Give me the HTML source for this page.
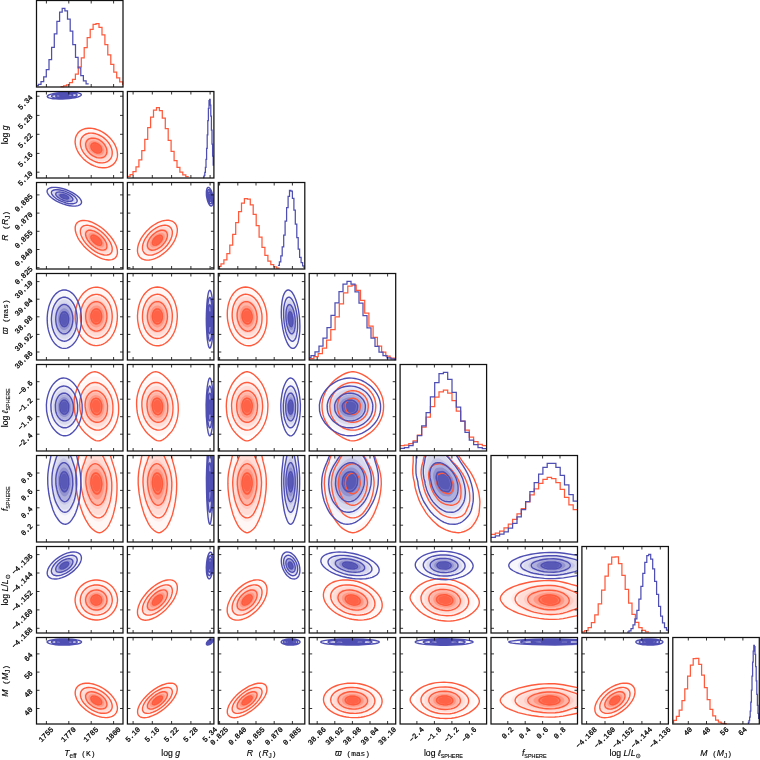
<!DOCTYPE html>
<html><head><meta charset="utf-8"><title>Corner plot</title>
<style>html,body{margin:0;padding:0;background:#fff;}body{width:760px;height:760px;overflow:hidden;}svg{display:block;}</style>
</head><body>
<svg width="760" height="760" viewBox="0 0 760 760">
<defs><clipPath id="c10"><rect x="36.5" y="91.5" width="86.5" height="86.5"/></clipPath><clipPath id="c20"><rect x="36.5" y="182.5" width="86.5" height="86.5"/></clipPath><clipPath id="c21"><rect x="127.4" y="182.5" width="86.5" height="86.5"/></clipPath><clipPath id="c30"><rect x="36.5" y="273.5" width="86.5" height="86.5"/></clipPath><clipPath id="c31"><rect x="127.4" y="273.5" width="86.5" height="86.5"/></clipPath><clipPath id="c32"><rect x="218.3" y="273.5" width="86.5" height="86.5"/></clipPath><clipPath id="c40"><rect x="36.5" y="364.5" width="86.5" height="86.5"/></clipPath><clipPath id="c41"><rect x="127.4" y="364.5" width="86.5" height="86.5"/></clipPath><clipPath id="c42"><rect x="218.3" y="364.5" width="86.5" height="86.5"/></clipPath><clipPath id="c43"><rect x="309.2" y="364.5" width="86.5" height="86.5"/></clipPath><clipPath id="c50"><rect x="36.5" y="455.5" width="86.5" height="86.5"/></clipPath><clipPath id="c51"><rect x="127.4" y="455.5" width="86.5" height="86.5"/></clipPath><clipPath id="c52"><rect x="218.3" y="455.5" width="86.5" height="86.5"/></clipPath><clipPath id="c53"><rect x="309.2" y="455.5" width="86.5" height="86.5"/></clipPath><clipPath id="c54"><rect x="400.1" y="455.5" width="86.5" height="86.5"/></clipPath><clipPath id="c60"><rect x="36.5" y="546.5" width="86.5" height="86.5"/></clipPath><clipPath id="c61"><rect x="127.4" y="546.5" width="86.5" height="86.5"/></clipPath><clipPath id="c62"><rect x="218.3" y="546.5" width="86.5" height="86.5"/></clipPath><clipPath id="c63"><rect x="309.2" y="546.5" width="86.5" height="86.5"/></clipPath><clipPath id="c64"><rect x="400.1" y="546.5" width="86.5" height="86.5"/></clipPath><clipPath id="c65"><rect x="491.0" y="546.5" width="86.5" height="86.5"/></clipPath><clipPath id="c70"><rect x="36.5" y="637.5" width="86.5" height="86.5"/></clipPath><clipPath id="c71"><rect x="127.4" y="637.5" width="86.5" height="86.5"/></clipPath><clipPath id="c72"><rect x="218.3" y="637.5" width="86.5" height="86.5"/></clipPath><clipPath id="c73"><rect x="309.2" y="637.5" width="86.5" height="86.5"/></clipPath><clipPath id="c74"><rect x="400.1" y="637.5" width="86.5" height="86.5"/></clipPath><clipPath id="c75"><rect x="491.0" y="637.5" width="86.5" height="86.5"/></clipPath><clipPath id="c76"><rect x="581.9" y="637.5" width="86.5" height="86.5"/></clipPath></defs>
<rect width="760" height="760" fill="#fff"/>
<g clip-path="url(#c10)"><g stroke="none"><path d="M101.7 166.8L103.4 166.8L105.4 166.7L107.4 166.3L109.0 165.7L110.6 164.9L111.8 164.1L113.0 163.1L114.0 162.0L114.8 160.8L115.5 159.2L116.1 157.6L116.3 156.0L116.4 154.4L116.4 152.8L116.1 150.8L115.7 149.2L115.2 147.6L114.3 145.6L113.4 144.0L112.5 142.4L111.3 140.8L109.8 139.0L108.2 137.3L106.6 135.9L105.0 134.6L103.0 133.3L101.0 132.2L99.4 131.4L97.4 130.6L95.4 130.0L93.4 129.5L91.4 129.2L89.4 129.2L87.8 129.3L85.8 129.6L84.2 130.1L82.6 130.7L81.4 131.5L80.2 132.4L79.0 133.5L78.1 134.8L77.4 136.0L76.8 137.6L76.4 139.2L76.2 140.8L76.2 142.8L76.4 144.4L76.8 146.4L77.4 148.4L78.3 150.4L79.1 152.0L80.4 154.0L81.6 155.6L83.0 157.2L84.5 158.8L86.2 160.2L87.8 161.5L89.4 162.5L91.4 163.7L93.4 164.7L95.4 165.5L97.4 166.1L99.4 166.5L101.4 166.8Z" fill="#fff7f5"/><path d="M99.6 163.6L101.4 163.7L103.0 163.7L104.6 163.5L105.8 163.2L107.4 162.6L108.5 162.0L109.6 161.2L110.5 160.4L111.2 159.6L111.9 158.4L112.5 157.2L112.9 155.6L113.1 154.4L113.1 152.8L113.0 151.6L112.8 150.0L112.3 148.4L111.7 146.8L110.2 144.0L109.1 142.4L108.2 141.1L107.0 139.8L105.5 138.4L104.2 137.3L102.6 136.2L101.0 135.2L99.4 134.3L97.8 133.7L96.2 133.1L94.6 132.7L93.0 132.4L91.4 132.3L89.8 132.3L88.2 132.5L87.0 132.8L85.4 133.3L84.2 133.9L83.0 134.8L82.2 135.6L81.4 136.6L80.7 137.6L80.2 138.8L79.8 140.0L79.6 141.2L79.5 142.8L79.5 144.0L79.7 145.6L80.1 147.2L80.7 148.8L82.1 151.6L83.1 153.2L84.0 154.4L85.4 155.9L86.6 157.2L89.4 159.4L91.0 160.4L92.6 161.3L94.2 162.1L95.8 162.7L97.8 163.3L99.4 163.6Z" fill="#ffebe8"/><path d="M98.8 161.2L100.2 161.3L101.8 161.3L103.0 161.2L104.2 160.9L106.2 160.2L107.1 159.6L108.1 158.8L108.8 158.0L109.4 157.1L109.9 156.0L110.3 154.8L110.5 153.6L110.6 152.4L110.3 150.0L110.0 148.8L109.5 147.2L108.2 144.8L106.5 142.4L105.5 141.2L104.2 140.0L101.8 138.0L99.4 136.6L96.6 135.5L93.8 134.8L92.2 134.7L91.0 134.7L89.8 134.8L88.6 135.0L87.4 135.4L86.2 136.0L85.4 136.5L84.6 137.2L83.8 138.1L83.1 139.2L82.7 140.0L82.3 141.2L82.1 142.4L82.0 143.6L82.2 146.0L82.7 147.6L83.1 148.8L84.3 151.2L86.0 153.6L88.2 155.9L90.6 157.8L93.0 159.2L95.8 160.4L98.6 161.1Z" fill="#ffdcd6"/><path d="M98.8 159.2L100.2 159.3L101.4 159.2L103.4 158.8L105.1 158.0L105.8 157.5L106.5 156.8L107.2 156.0L107.6 155.2L108.2 153.6L108.4 151.6L108.1 149.6L107.8 148.4L107.4 147.2L106.3 145.2L104.9 143.2L102.9 141.2L100.9 139.6L98.6 138.3L96.2 137.3L93.8 136.8L92.6 136.7L91.4 136.8L89.4 137.2L87.6 138.0L87.0 138.4L86.2 139.1L85.5 140.0L85.0 140.8L84.5 142.4L84.2 144.4L84.5 146.4L84.8 147.6L85.2 148.8L86.2 150.8L87.7 152.8L89.6 154.8L91.6 156.4L93.8 157.6L96.2 158.6L98.6 159.1Z" fill="#ffcac1"/><path d="M98.1 157.2L100.2 157.3L101.8 157.0L103.3 156.4L104.4 155.6L105.4 154.4L105.8 153.6L106.0 152.8L106.2 151.2L106.1 149.6L105.5 147.6L104.7 146.0L103.6 144.4L102.2 142.7L100.6 141.4L98.6 140.2L96.6 139.3L94.6 138.8L92.6 138.7L91.0 139.0L89.4 139.6L88.2 140.5L87.3 141.6L86.9 142.4L86.6 143.2L86.4 144.8L86.5 146.4L87.0 148.1L87.8 150.0L88.9 151.6L90.3 153.2L92.2 154.7L93.8 155.7L95.8 156.6L97.8 157.1Z" fill="#ffb5a7"/><path d="M97.0 155.2L98.6 155.4L99.8 155.4L101.0 155.1L101.8 154.7L102.4 154.4L103.2 153.6L103.9 152.4L104.2 151.2L104.2 150.0L104.0 148.8L103.4 147.2L102.6 145.7L101.5 144.4L100.3 143.2L99.0 142.2L97.4 141.4L95.8 140.9L94.2 140.6L93.0 140.6L91.4 141.0L90.3 141.6L89.4 142.5L88.7 143.6L88.4 144.8L88.4 146.0L88.6 147.2L89.1 148.8L90.0 150.4L91.0 151.6L92.3 152.8L93.8 153.8L95.0 154.5L96.6 155.1Z" fill="#ff9986"/><path d="M97.1 153.6L98.2 153.7L99.4 153.6L100.2 153.4L101.1 152.8L101.8 152.1L102.2 151.2L102.4 150.4L102.3 149.2L102.0 148.0L101.5 146.8L100.6 145.6L99.9 144.8L98.9 144.0L97.8 143.2L96.6 142.7L95.4 142.4L94.2 142.3L93.0 142.5L92.2 142.8L91.4 143.3L90.8 144.0L90.4 144.8L90.2 145.6L90.2 146.8L90.5 148.0L91.0 149.0L91.6 150.0L92.6 151.1L93.6 152.0L94.6 152.6L95.8 153.2L97.0 153.6Z" fill="#ff7b63"/><path d="M96.7 152.0L97.8 152.1L98.6 152.0L99.4 151.7L99.8 151.4L100.2 151.0L100.5 150.4L100.7 149.6L100.6 148.8L100.4 148.0L100.0 147.2L99.5 146.4L99.0 145.8L98.2 145.1L97.4 144.6L96.6 144.2L95.8 144.0L95.0 143.9L94.2 144.0L93.4 144.2L93.0 144.5L92.6 144.9L92.1 145.6L91.9 146.4L92.0 147.2L92.2 148.0L92.5 148.8L93.4 150.0L94.2 150.7L94.8 151.2L95.8 151.7L96.6 151.9Z" fill="#ff6246"/></g>
<g stroke="none"><path d="M53.6 99.1L56.9 99.3L60.5 99.4L64.1 99.3L68.1 99.0L71.7 98.6L74.5 98.1L76.9 97.6L79.3 96.9L81.0 96.3L82.3 95.5L82.6 95.1L82.8 94.7L82.7 94.3L82.3 93.9L81.4 93.3L79.8 92.8L77.7 92.4L74.9 92.1L71.3 91.9L68.5 91.8L64.5 91.9L61.3 92.1L58.1 92.5L54.9 92.9L51.3 93.7L49.3 94.2L47.7 94.8L46.5 95.5L46.1 95.9L45.9 96.3L45.9 96.7L46.1 97.1L46.9 97.7L48.6 98.3L50.9 98.8L53.3 99.1Z" fill="#ffffff"/><path d="M55.3 98.7L57.7 98.9L60.9 98.9L63.7 98.8L67.3 98.6L70.9 98.2L73.3 97.8L75.7 97.3L77.3 96.8L78.8 96.3L79.5 95.9L80.1 95.5L80.4 95.1L80.5 94.7L80.3 94.3L79.8 93.9L79.3 93.7L78.1 93.2L76.1 92.8L73.7 92.5L71.3 92.4L68.1 92.3L64.9 92.4L61.7 92.6L58.5 92.9L55.7 93.3L53.3 93.8L50.9 94.5L49.4 95.1L48.7 95.5L48.3 95.9L48.1 96.3L48.2 96.7L48.5 97.1L49.3 97.6L50.9 98.1L52.9 98.5L54.9 98.7Z" fill="#f6f6fb"/><path d="M58.6 98.3L61.3 98.4L64.1 98.3L69.3 97.8L73.7 97.0L75.3 96.6L76.5 96.1L77.5 95.5L77.8 95.1L77.8 94.7L77.5 94.3L76.9 94.0L75.7 93.6L74.1 93.3L70.1 92.9L64.9 92.9L59.7 93.3L55.3 94.1L53.3 94.6L52.0 95.1L51.3 95.5L50.9 95.9L50.8 96.3L50.9 96.7L51.5 97.1L52.5 97.5L54.1 97.9L56.1 98.1L58.5 98.3Z" fill="#eaeaf6"/><path d="M59.6 97.9L64.5 97.9L68.9 97.4L72.5 96.8L74.0 96.3L75.0 95.9L75.5 95.5L75.8 95.1L75.7 94.7L75.2 94.3L74.0 93.9L72.9 93.7L69.3 93.3L64.9 93.3L60.5 93.6L56.9 94.2L55.1 94.7L54.0 95.1L53.3 95.5L52.9 95.9L52.8 96.3L53.3 96.8L53.9 97.1L55.5 97.5L57.3 97.8L59.3 97.9Z" fill="#dadaef"/><path d="M59.5 97.5L62.9 97.6L66.9 97.3L70.1 96.8L72.5 96.2L73.2 95.9L73.8 95.5L74.0 95.1L73.8 94.7L73.0 94.3L72.1 94.1L69.3 93.7L65.7 93.6L62.1 93.8L58.5 94.4L57.0 94.7L55.8 95.1L55.0 95.5L54.6 95.9L54.7 96.3L55.2 96.7L56.5 97.1L59.3 97.5Z" fill="#c7c7e7"/><path d="M59.5 97.1L62.1 97.2L65.3 97.1L68.1 96.8L70.4 96.3L71.5 95.9L72.1 95.5L72.3 95.1L71.9 94.7L71.3 94.5L70.6 94.3L69.3 94.1L66.5 94.0L63.3 94.1L60.5 94.4L58.1 94.9L56.7 95.5L56.3 95.9L56.5 96.3L57.3 96.7L59.3 97.1Z" fill="#b0b0dd"/><path d="M59.7 96.7L61.7 96.9L64.1 96.9L66.2 96.7L68.6 96.3L69.9 95.9L70.6 95.5L70.6 95.1L70.5 95.0L69.9 94.7L68.9 94.5L66.9 94.3L64.9 94.3L62.5 94.5L60.5 94.8L59.2 95.1L58.5 95.4L58.2 95.5L57.9 95.9L58.2 96.3L59.3 96.6Z" fill="#9292d0"/><path d="M60.0 96.3L61.3 96.5L62.9 96.6L64.9 96.5L66.8 96.3L68.5 95.9L69.2 95.5L69.1 95.1L68.5 94.9L67.5 94.7L66.1 94.6L64.1 94.6L62.5 94.8L60.8 95.1L59.7 95.5L59.4 95.9L59.7 96.1Z" fill="#7272c2"/><path d="M62.7 96.3L64.5 96.3L67.0 95.9L67.8 95.5L67.7 95.4L67.4 95.1L66.1 94.9L64.5 94.9L62.9 95.0L61.0 95.5L60.8 95.9L61.7 96.2L62.5 96.3Z" fill="#5858b7"/></g>
<path d="M96.6 152.8L97.8 153.0L98.6 152.9L99.4 152.8L100.2 152.4L100.7 152.0L101.3 151.2L101.6 150.4L101.6 149.6L101.5 148.8L101.3 148.0L101.0 147.2L100.2 146.0L99.4 145.1L98.4 144.4L97.4 143.7L96.2 143.3L95.0 143.0L94.2 143.0L93.4 143.2L92.5 143.6L91.8 144.1L91.3 144.8L91.1 145.6L91.0 146.4L91.1 147.2L91.4 148.4L91.8 149.2L92.6 150.2L93.4 151.0L94.2 151.6L95.4 152.3L96.2 152.7ZM96.9 157.6L99.0 157.9L101.0 157.9L102.6 157.5L104.2 156.8L105.4 155.7L106.3 154.4L106.8 152.8L106.9 152.0L106.9 150.8L106.6 148.8L105.8 146.8L104.7 144.8L103.4 143.2L101.7 141.6L99.8 140.2L97.8 139.1L95.4 138.4L93.4 138.1L91.4 138.2L89.8 138.6L89.0 138.9L88.2 139.4L87.0 140.6L86.2 142.0L85.7 143.6L85.7 145.2L86.0 147.2L86.7 149.2L87.9 151.2L89.2 152.8L90.8 154.4L92.6 155.6L94.6 156.7L96.6 157.5ZM99.7 162.8L101.0 162.9L102.6 162.9L104.2 162.6L105.4 162.4L106.6 161.9L107.8 161.3L109.0 160.4L109.8 159.6L110.5 158.8L111.2 157.6L111.7 156.4L112.0 155.2L112.2 154.0L112.2 152.8L112.2 151.6L111.9 150.0L111.6 148.8L111.0 147.2L110.3 145.6L109.6 144.4L108.6 142.8L107.6 141.6L106.2 140.0L105.0 138.9L103.8 137.9L102.2 136.7L100.6 135.8L99.0 135.0L97.4 134.3L95.8 133.8L93.0 133.2L91.4 133.1L90.2 133.1L88.6 133.3L87.4 133.6L86.2 134.0L85.0 134.6L83.8 135.5L83.0 136.2L82.2 137.2L81.6 138.0L81.1 139.2L80.7 140.4L80.5 141.6L80.4 143.2L80.4 144.4L80.7 146.0L81.1 147.6L81.5 148.8L82.3 150.4L83.0 151.6L84.0 153.2L85.0 154.4L86.0 155.6L87.4 156.9L88.7 158.0L90.2 159.1L93.0 160.7L94.6 161.4L96.2 162.0L97.8 162.5L99.4 162.7ZM100.5 167.6L102.6 167.8L104.6 167.7L106.6 167.5L108.2 167.1L109.8 166.5L111.4 165.7L112.6 164.9L113.8 163.9L115.0 162.5L115.8 161.2L116.6 159.6L117.1 158.0L117.4 156.4L117.5 154.4L117.3 152.4L117.1 150.8L116.7 149.2L116.0 147.2L115.1 145.2L114.0 143.2L112.6 141.2L111.4 139.6L110.0 138.0L108.2 136.2L106.6 134.9L104.6 133.4L102.6 132.1L100.6 131.0L98.6 130.1L96.2 129.3L94.2 128.8L92.2 128.4L90.2 128.2L88.2 128.3L86.2 128.5L84.6 128.8L83.0 129.4L81.4 130.2L79.9 131.1L78.6 132.3L77.6 133.5L76.8 134.8L76.0 136.4L75.5 138.0L75.3 139.6L75.1 141.6L75.2 143.2L75.5 145.2L76.0 147.2L76.8 149.2L77.5 150.8L78.6 152.8L79.9 154.8L81.2 156.4L83.0 158.4L84.6 159.9L86.2 161.3L88.2 162.7L90.2 164.0L92.2 165.0L94.2 165.9L96.2 166.6L98.2 167.2L100.2 167.5Z" fill="none" stroke="#ff5a3c" stroke-width="1.4" stroke-linejoin="round"/>
<path d="M60.9 96.3L63.7 96.5L66.5 96.2L67.9 95.9L68.6 95.5L68.4 95.1L67.7 94.9L66.5 94.8L64.9 94.7L63.3 94.8L61.5 95.1L60.3 95.5L60.0 95.9L60.9 96.3ZM58.3 97.1L61.3 97.3L64.5 97.3L67.7 97.0L70.5 96.4L72.1 95.9L72.7 95.5L72.8 95.1L72.5 94.7L72.1 94.6L71.4 94.3L70.1 94.1L67.3 93.9L64.1 93.9L60.9 94.2L58.3 94.7L56.9 95.1L56.1 95.5L55.8 95.9L55.9 96.3L56.5 96.7L58.1 97.1ZM55.8 97.9L57.7 98.1L60.1 98.2L64.9 98.1L69.7 97.6L73.7 96.8L75.3 96.3L76.2 95.9L76.8 95.5L77.1 95.1L77.0 94.7L76.6 94.3L75.8 93.9L74.2 93.5L72.5 93.3L68.1 93.0L62.9 93.2L58.1 93.7L54.5 94.5L52.9 95.0L52.0 95.5L51.6 95.9L51.5 96.3L51.7 96.7L52.5 97.2L53.7 97.6L55.7 97.9ZM53.2 98.7L55.7 98.9L58.9 99.1L62.5 99.0L65.7 98.9L69.3 98.6L72.5 98.1L74.9 97.7L77.7 97.0L79.6 96.3L80.9 95.5L81.2 95.1L81.3 94.7L81.2 94.3L80.8 93.9L80.2 93.6L78.9 93.1L77.3 92.8L74.9 92.4L71.7 92.2L68.9 92.1L65.7 92.2L62.1 92.4L56.5 93.0L54.1 93.4L51.3 94.1L49.5 94.7L47.9 95.5L47.5 95.9L47.3 96.3L47.3 96.7L47.6 97.1L48.1 97.5L49.2 97.9L50.9 98.4L52.9 98.7Z" fill="none" stroke="#4f4fb3" stroke-width="1.4" stroke-linejoin="round"/></g>
<g clip-path="url(#c20)"><g stroke="none"><path d="M107.4 259.0L109.0 259.0L110.6 258.8L111.8 258.5L113.0 258.0L114.2 257.2L115.0 256.3L115.6 255.4L116.1 254.2L116.3 253.0L116.4 251.4L116.3 249.8L116.0 248.2L115.6 246.6L114.8 244.6L113.1 241.4L111.9 239.4L110.7 237.8L109.1 235.8L107.7 234.2L104.2 230.8L100.6 227.9L97.0 225.5L95.0 224.4L93.0 223.5L91.0 222.7L89.0 222.1L87.4 221.7L85.8 221.5L84.2 221.4L82.6 221.5L81.4 221.7L80.1 222.1L78.9 222.8L78.1 223.5L77.3 224.5L76.7 225.8L76.3 227.0L76.2 228.2L76.2 229.8L76.4 231.4L76.8 233.0L77.5 235.0L78.3 237.0L79.2 238.6L80.4 240.6L81.5 242.2L83.1 244.2L84.5 245.8L87.8 249.1L89.8 250.8L91.8 252.3L95.4 254.7L97.4 255.8L99.4 256.8L101.4 257.6L103.4 258.3L105.4 258.7L107.0 259.0Z" fill="#fff7f5"/><path d="M104.5 255.8L105.8 255.9L107.0 255.9L108.2 255.8L109.4 255.5L110.2 255.1L111.0 254.6L111.8 253.8L112.4 253.0L112.7 252.2L113.0 251.0L113.1 249.8L113.1 248.6L112.9 247.4L112.5 245.8L111.9 244.2L111.1 242.6L109.2 239.4L106.7 236.2L104.0 233.4L101.0 230.7L97.8 228.5L94.6 226.7L91.4 225.4L89.8 224.9L88.2 224.6L86.6 224.5L85.4 224.5L84.2 224.7L83.2 224.9L82.2 225.4L81.4 226.0L80.6 226.9L80.2 227.6L79.8 228.6L79.5 229.8L79.5 231.0L79.6 232.2L79.9 233.8L80.2 235.0L81.4 237.8L83.1 240.6L85.5 243.8L88.2 246.7L91.4 249.5L94.6 251.8L97.8 253.6L101.0 254.9L102.6 255.4L104.2 255.7Z" fill="#ffebe8"/><path d="M102.9 253.4L104.2 253.5L105.4 253.5L106.6 253.4L107.4 253.2L108.2 252.8L109.0 252.2L109.4 251.8L110.0 251.0L110.3 250.2L110.5 249.4L110.6 248.6L110.5 247.4L110.4 246.2L110.0 245.0L109.1 242.6L107.4 239.8L105.7 237.4L103.4 234.9L100.6 232.4L97.8 230.4L95.0 228.8L92.2 227.7L89.8 227.0L88.6 226.9L87.4 226.9L86.2 227.0L85.4 227.2L84.6 227.5L83.8 228.1L83.2 228.6L82.7 229.4L82.3 230.2L82.1 231.0L82.0 231.8L82.0 233.0L82.2 234.2L82.5 235.4L83.5 237.8L85.1 240.6L86.9 243.0L89.1 245.4L91.8 247.8L94.6 249.8L97.4 251.5L100.2 252.7L102.6 253.3Z" fill="#ffdcd6"/><path d="M102.3 251.4L104.2 251.4L105.8 251.1L106.6 250.7L107.2 250.2L107.5 249.8L108.0 249.0L108.2 248.2L108.3 247.4L108.3 245.8L107.7 243.8L106.6 241.4L105.1 239.0L103.5 237.0L101.5 235.0L99.4 233.2L97.0 231.6L94.6 230.3L92.2 229.4L90.2 229.0L88.2 229.0L86.7 229.4L86.0 229.8L85.5 230.2L85.0 230.8L84.6 231.4L84.4 232.2L84.3 233.0L84.3 234.6L84.8 236.6L85.9 239.0L87.2 241.0L89.0 243.2L91.0 245.3L93.0 247.0L95.4 248.7L97.8 250.0L100.2 250.9L102.2 251.4Z" fill="#ffcac1"/><path d="M101.0 249.4L102.6 249.5L103.8 249.3L104.5 249.0L105.0 248.7L105.5 248.2L105.8 247.7L106.2 246.6L106.2 245.0L105.8 243.4L104.9 241.4L103.8 239.5L102.4 237.8L100.9 236.2L99.0 234.5L97.0 233.2L95.0 232.1L93.0 231.3L91.4 231.0L89.8 230.9L88.6 231.2L87.8 231.6L87.4 232.0L86.7 233.0L86.4 234.2L86.5 235.8L86.9 237.4L87.6 239.0L88.9 241.0L90.1 242.6L91.8 244.3L93.5 245.8L95.4 247.1L97.4 248.2L99.4 249.0L101.0 249.4Z" fill="#ffb5a7"/><path d="M99.3 247.4L100.6 247.6L101.8 247.6L102.5 247.4L103.0 247.1L103.6 246.6L104.1 245.8L104.2 244.6L104.1 243.4L103.7 242.2L103.0 240.8L102.1 239.4L101.0 238.0L99.5 236.6L98.2 235.5L96.6 234.4L95.0 233.6L93.4 233.0L92.2 232.8L91.0 232.8L89.8 233.2L89.0 233.8L88.6 234.6L88.4 235.8L88.5 237.0L88.9 238.2L89.5 239.4L90.5 241.0L91.8 242.5L93.0 243.7L94.5 245.0L95.8 245.8L97.4 246.7L99.0 247.3Z" fill="#ff9986"/><path d="M98.9 245.8L99.8 245.9L100.9 245.8L101.7 245.4L102.0 245.0L102.3 244.2L102.4 243.4L102.3 242.6L101.8 241.4L101.2 240.2L100.3 239.0L99.4 238.0L98.2 237.0L97.0 236.0L95.8 235.4L94.9 235.0L93.8 234.6L92.6 234.5L91.8 234.6L91.0 235.0L90.6 235.4L90.3 236.2L90.2 237.0L90.3 237.8L90.7 239.0L91.4 240.2L92.2 241.2L93.0 242.2L94.2 243.3L95.4 244.2L96.6 244.9L98.6 245.7Z" fill="#ff7b63"/><path d="M98.0 244.2L98.6 244.3L99.4 244.2L99.8 244.1L100.3 243.8L100.6 243.3L100.7 242.6L100.5 241.8L100.2 241.0L99.2 239.4L97.8 238.0L96.2 236.9L94.6 236.2L93.4 236.1L93.0 236.2L92.4 236.6L92.1 237.0L92.0 237.4L92.0 238.2L92.2 239.0L92.5 239.8L93.1 240.6L94.5 242.2L96.2 243.4L97.8 244.1Z" fill="#ff6246"/></g>
<g stroke="none"><path d="M71.3 206.5L74.5 206.8L77.3 206.7L78.5 206.4L79.8 206.1L80.6 205.7L81.4 205.2L81.8 204.9L82.4 204.1L82.7 203.3L82.8 202.5L82.7 201.7L82.4 200.9L82.1 200.1L81.3 198.9L79.6 196.9L77.3 195.0L74.5 193.1L71.7 191.5L68.1 189.9L64.9 188.7L60.9 187.5L57.5 186.9L54.1 186.6L51.3 186.7L50.1 186.9L48.9 187.3L48.1 187.6L47.3 188.1L46.8 188.5L46.2 189.3L45.9 190.5L45.9 191.3L46.0 192.1L46.3 192.9L47.0 194.1L48.7 196.1L50.9 198.1L54.1 200.3L56.9 201.9L60.5 203.6L63.7 204.7L67.7 205.9L70.9 206.5Z" fill="#ffffff"/><path d="M70.5 205.3L73.3 205.6L75.7 205.4L77.7 205.0L78.5 204.6L79.4 204.1L79.8 203.7L80.3 202.9L80.4 202.5L80.5 201.7L80.4 200.9L80.1 200.1L79.1 198.5L77.7 196.9L75.7 195.2L73.3 193.6L70.1 191.8L66.9 190.4L64.1 189.4L61.3 188.7L58.1 188.1L55.3 187.8L52.9 188.0L50.9 188.4L50.1 188.7L49.3 189.2L48.5 190.1L48.3 190.5L48.1 191.3L48.1 192.1L48.4 192.9L49.2 194.5L50.5 196.1L52.5 197.9L54.9 199.6L57.7 201.2L60.9 202.7L64.1 203.9L67.3 204.8L70.1 205.3Z" fill="#f6f6fb"/><path d="M68.3 203.7L70.5 204.0L72.9 204.1L74.9 203.8L76.2 203.3L76.9 202.9L77.3 202.5L77.6 202.1L77.8 201.3L77.7 200.1L77.2 198.9L75.9 197.3L74.5 196.0L72.5 194.5L70.1 193.1L67.7 192.0L65.3 191.0L62.9 190.3L60.1 189.6L57.7 189.3L55.7 189.3L53.7 189.6L52.3 190.1L51.7 190.5L51.3 190.9L51.0 191.3L50.8 192.1L50.9 193.3L51.4 194.5L52.3 195.7L54.0 197.3L55.7 198.6L57.7 199.9L60.1 201.1L62.9 202.3L65.7 203.2L68.1 203.7Z" fill="#eaeaf6"/><path d="M69.7 202.9L71.3 203.0L72.9 202.8L74.1 202.5L74.8 202.1L75.2 201.7L75.7 200.9L75.8 200.1L75.4 198.9L74.6 197.7L73.5 196.5L72.0 195.3L70.1 194.1L68.1 193.1L66.1 192.2L63.7 191.4L61.3 190.8L59.3 190.5L57.3 190.4L55.7 190.6L54.5 190.9L53.8 191.3L53.3 191.7L52.9 192.5L52.8 193.3L53.2 194.5L54.0 195.7L55.2 196.9L56.7 198.1L58.5 199.3L60.5 200.3L62.5 201.2L64.9 202.0L67.3 202.6L69.3 202.9Z" fill="#dadaef"/><path d="M67.1 201.7L68.9 202.0L70.5 202.0L71.7 201.8L72.9 201.4L73.6 200.9L73.8 200.5L74.0 200.1L73.9 199.3L73.6 198.5L73.1 197.7L72.0 196.5L70.5 195.4L69.2 194.5L67.3 193.6L65.3 192.7L63.3 192.1L61.7 191.7L59.7 191.4L58.1 191.4L56.9 191.6L55.7 192.0L55.0 192.5L54.8 192.9L54.6 193.3L54.7 194.1L55.0 194.9L55.5 195.7L56.6 196.9L58.1 198.1L59.5 198.9L61.3 199.9L63.3 200.7L64.9 201.2L66.9 201.7Z" fill="#c7c7e7"/><path d="M67.1 200.9L68.5 201.1L69.7 201.0L70.5 200.9L71.5 200.5L72.0 200.1L72.2 199.7L72.3 199.3L72.1 198.5L71.7 197.7L71.0 196.9L70.1 196.1L69.0 195.3L67.6 194.5L66.1 193.8L64.5 193.2L61.7 192.5L60.1 192.3L58.9 192.4L58.0 192.5L57.0 192.9L56.6 193.3L56.4 193.7L56.3 194.1L56.3 194.5L56.7 195.3L57.2 196.1L58.0 196.9L59.1 197.7L60.5 198.6L62.1 199.4L63.7 200.1L65.3 200.6L66.9 200.9Z" fill="#b0b0dd"/><path d="M66.9 200.1L68.1 200.2L68.9 200.1L70.1 199.7L70.5 199.3L70.7 198.9L70.7 198.5L70.6 198.1L70.1 197.3L68.8 196.1L66.9 194.9L64.5 193.9L63.3 193.6L61.9 193.3L60.9 193.2L59.7 193.3L58.9 193.5L58.5 193.7L58.1 194.1L57.9 194.5L57.9 194.9L58.3 195.7L58.9 196.5L59.8 197.3L61.7 198.5L64.1 199.5L66.5 200.1Z" fill="#9292d0"/><path d="M66.2 199.3L67.7 199.4L68.5 199.1L68.9 198.9L69.2 198.5L69.2 198.1L68.8 197.3L68.5 196.9L67.6 196.1L66.3 195.3L64.3 194.5L62.5 194.1L60.9 194.0L60.1 194.2L59.7 194.5L59.4 194.9L59.4 195.3L59.8 196.1L60.5 196.9L61.1 197.3L62.4 198.1L64.4 198.9L66.1 199.3Z" fill="#7272c2"/><path d="M65.3 198.5L66.5 198.6L67.3 198.4L67.8 198.1L67.8 197.7L67.7 197.3L67.0 196.5L65.7 195.7L64.8 195.3L63.5 194.9L62.1 194.8L61.3 194.9L60.8 195.3L60.8 195.7L60.9 196.1L61.7 196.9L62.2 197.3L63.7 198.1L64.9 198.4Z" fill="#5858b7"/></g>
<path d="M98.2 245.0L99.0 245.1L99.8 245.2L100.6 245.0L101.1 244.6L101.4 244.2L101.6 243.4L101.6 242.6L101.3 241.8L101.0 240.9L100.3 239.8L99.4 238.7L98.6 237.9L97.5 237.0L96.6 236.4L95.4 235.8L94.6 235.5L93.8 235.3L93.0 235.2L92.2 235.4L91.5 235.8L91.2 236.2L91.0 237.0L91.0 237.8L91.2 238.6L91.8 239.7L92.3 240.6L93.8 242.3L94.6 243.0L95.8 243.9L97.0 244.5L97.8 244.8ZM100.1 249.8L101.8 250.1L103.4 250.1L104.8 249.8L105.4 249.5L106.0 249.0L106.3 248.6L106.7 247.8L106.9 246.6L106.8 245.0L106.3 243.0L105.3 241.0L104.0 239.0L102.3 237.0L100.6 235.3L98.6 233.7L96.6 232.4L94.2 231.2L92.2 230.6L90.6 230.3L89.0 230.3L87.8 230.6L87.2 231.0L86.6 231.5L85.9 232.6L85.7 233.4L85.6 234.2L85.8 235.8L86.3 237.4L87.3 239.4L88.6 241.3L90.2 243.3L91.8 244.9L93.8 246.5L95.8 247.9L97.8 248.9L99.8 249.7ZM104.3 255.0L105.8 255.1L107.0 255.0L108.2 254.8L109.0 254.5L109.8 254.1L110.7 253.4L111.3 252.6L111.8 251.8L112.0 251.0L112.2 249.8L112.2 248.6L112.1 247.4L111.8 246.2L111.3 244.6L110.0 241.8L108.2 239.0L105.8 235.9L103.0 233.1L100.2 230.8L97.0 228.7L94.2 227.2L92.6 226.5L91.0 226.0L89.4 225.6L88.2 225.4L87.0 225.3L85.8 225.4L84.6 225.6L83.8 225.8L83.0 226.2L82.0 227.0L81.3 227.8L80.9 228.6L80.6 229.4L80.4 230.6L80.4 231.8L80.5 233.0L80.8 234.2L81.3 235.8L82.6 238.6L84.3 241.4L86.6 244.2L89.3 247.0L92.2 249.4L95.4 251.6L98.2 253.1L101.4 254.3L104.2 255.0ZM106.7 259.8L108.6 260.0L110.2 259.9L111.8 259.6L113.0 259.3L114.2 258.7L115.3 257.8L116.0 257.0L116.7 255.8L117.1 254.6L117.4 253.4L117.4 251.8L117.3 250.2L116.9 248.2L116.4 246.6L115.6 244.6L114.8 243.0L113.7 241.0L112.4 239.0L109.6 235.4L106.2 231.8L104.2 229.9L102.2 228.3L100.2 226.8L98.2 225.5L96.2 224.3L93.8 223.1L91.8 222.2L89.8 221.5L87.8 220.9L85.8 220.6L84.2 220.4L82.6 220.5L81.0 220.7L79.8 221.1L78.5 221.7L77.4 222.5L76.5 223.5L75.9 224.5L75.5 225.8L75.2 227.0L75.2 228.6L75.3 230.2L75.6 231.8L76.2 233.8L77.0 235.8L77.9 237.8L79.1 239.8L80.4 241.8L83.3 245.4L85.0 247.2L86.8 249.0L90.6 252.2L94.2 254.7L96.2 255.9L98.6 257.2L100.6 258.1L102.6 258.8L104.6 259.4L106.6 259.8Z" fill="none" stroke="#ff5a3c" stroke-width="1.4" stroke-linejoin="round"/>
<path d="M65.6 198.9L66.9 199.0L67.7 198.9L68.1 198.7L68.4 198.5L68.6 198.1L68.5 197.7L68.3 197.3L67.6 196.5L66.4 195.7L64.6 194.9L63.2 194.5L61.7 194.4L60.8 194.5L60.2 194.9L60.0 195.3L60.1 195.7L60.6 196.5L61.1 196.9L62.1 197.6L63.7 198.4L65.3 198.9ZM68.0 201.3L69.3 201.4L70.5 201.3L71.7 201.0L72.4 200.5L72.7 200.1L72.9 199.3L72.7 198.5L72.2 197.7L71.5 196.9L70.1 195.7L68.9 194.9L67.4 194.1L65.7 193.4L64.1 192.8L62.5 192.4L60.9 192.1L59.3 192.0L58.0 192.1L56.9 192.4L56.2 192.9L55.9 193.3L55.7 194.1L55.9 194.9L56.4 195.7L57.5 196.9L58.6 197.7L59.8 198.5L61.3 199.3L62.9 200.0L64.5 200.6L66.1 201.0L67.7 201.3ZM71.2 203.7L72.9 203.7L74.5 203.4L75.8 202.9L76.4 202.5L76.7 202.1L77.1 201.3L77.2 200.9L77.1 200.1L76.6 198.9L75.4 197.3L74.1 196.1L72.1 194.6L70.1 193.4L67.7 192.3L64.9 191.2L62.5 190.5L60.1 190.0L57.7 189.7L55.7 189.7L54.1 190.0L52.8 190.5L52.2 190.9L51.8 191.3L51.5 192.1L51.4 192.5L51.5 193.3L52.0 194.5L53.2 196.1L54.5 197.3L56.5 198.8L58.5 200.0L60.9 201.2L63.7 202.2L66.1 203.0L68.5 203.5L70.9 203.7ZM70.0 205.7L72.9 206.1L75.7 206.0L76.9 205.9L78.1 205.6L79.8 204.9L80.6 204.3L81.0 203.7L81.3 203.3L81.5 202.5L81.5 201.7L81.3 200.9L80.5 199.3L79.3 197.7L77.2 195.7L74.9 194.1L72.1 192.4L68.9 190.8L65.7 189.5L62.1 188.4L58.8 187.7L55.7 187.4L52.9 187.4L51.7 187.5L50.5 187.8L49.5 188.1L48.8 188.5L48.1 189.0L47.5 189.7L47.3 190.2L47.1 190.9L47.1 191.7L47.3 192.5L48.1 194.1L49.3 195.7L51.5 197.7L53.7 199.4L56.5 201.1L59.7 202.6L62.9 203.9L66.5 205.0L69.7 205.7Z" fill="none" stroke="#4f4fb3" stroke-width="1.4" stroke-linejoin="round"/></g>
<g clip-path="url(#c21)"><g stroke="none"><path d="M147.0 259.0L148.6 259.0L150.2 258.9L152.2 258.5L153.8 258.0L155.8 257.2L157.4 256.5L159.0 255.6L161.0 254.4L162.6 253.2L164.6 251.6L167.8 248.6L169.2 247.0L170.8 245.0L172.1 243.0L173.1 241.4L174.1 239.4L174.8 237.8L175.3 236.2L175.9 234.2L176.1 232.6L176.2 231.0L176.2 229.4L175.9 227.8L175.5 226.6L174.8 225.3L173.9 224.1L173.1 223.3L171.9 222.5L170.7 222.0L169.4 221.6L167.8 221.4L166.2 221.4L164.6 221.5L162.6 221.9L161.0 222.4L159.0 223.1L157.4 223.9L155.8 224.7L153.8 226.0L152.2 227.1L150.2 228.7L147.0 231.8L144.4 235.0L143.2 236.6L142.0 238.6L140.9 240.6L140.2 242.2L139.6 243.8L139.0 245.8L138.7 247.4L138.6 249.0L138.6 250.6L138.8 252.2L139.2 253.4L139.8 254.8L140.5 255.8L141.4 256.8L142.6 257.7L143.8 258.3L145.0 258.7L146.6 259.0Z" fill="#fff7f5"/><path d="M147.7 255.8L149.0 255.9L150.2 255.9L151.4 255.8L153.0 255.5L154.6 255.0L156.2 254.4L157.8 253.6L159.4 252.7L162.2 250.7L165.2 248.2L167.7 245.4L169.7 242.6L171.2 239.8L171.9 238.2L172.5 236.6L172.9 235.0L173.1 233.8L173.1 232.2L173.0 231.0L172.8 229.8L172.4 228.6L171.9 227.6L171.1 226.6L170.2 225.9L169.3 225.3L168.2 224.9L167.0 224.6L165.8 224.5L164.2 224.5L163.0 224.7L161.4 225.0L158.6 226.0L157.0 226.8L155.4 227.7L152.6 229.6L149.7 232.2L147.2 235.0L145.2 237.8L143.6 240.6L142.9 242.2L142.3 243.8L141.9 245.4L141.8 246.6L141.7 248.2L141.7 249.4L142.0 250.6L142.4 251.8L142.8 252.6L143.4 253.4L144.2 254.2L145.0 254.8L146.2 255.4L147.4 255.7Z" fill="#ffebe8"/><path d="M149.0 253.4L151.0 253.5L153.4 253.2L155.8 252.5L158.6 251.1L161.0 249.5L163.6 247.4L165.8 245.0L167.6 242.6L169.2 239.8L170.1 237.4L170.7 235.0L170.8 233.8L170.7 232.6L170.5 231.4L170.2 230.6L169.8 229.8L169.3 229.0L168.6 228.3L167.8 227.8L167.0 227.4L165.8 227.0L163.8 226.8L161.4 227.2L159.0 227.9L156.2 229.3L153.8 230.8L151.3 233.0L149.0 235.4L147.2 237.8L145.7 240.6L144.7 243.0L144.2 245.4L144.1 246.6L144.1 247.8L144.3 249.0L144.6 249.8L144.9 250.6L145.5 251.4L146.2 252.1L146.9 252.6L147.8 253.0L148.6 253.3Z" fill="#ffdcd6"/><path d="M150.6 251.4L151.4 251.5L152.6 251.4L154.6 251.0L156.6 250.3L159.0 249.0L161.0 247.6L163.0 245.8L164.9 243.8L166.3 241.8L167.5 239.4L168.3 237.4L168.6 235.4L168.7 234.2L168.6 233.4L168.4 232.6L168.1 231.8L167.6 231.0L167.0 230.3L165.8 229.5L165.0 229.2L164.2 229.0L163.4 228.9L162.2 229.0L160.2 229.3L158.2 230.0L155.8 231.3L153.8 232.7L151.8 234.6L150.0 236.6L148.6 238.6L147.3 241.0L146.6 243.0L146.2 245.0L146.2 247.0L146.7 248.6L147.5 249.8L148.6 250.7L149.4 251.1L150.2 251.3Z" fill="#ffcac1"/><path d="M151.6 249.4L152.6 249.5L153.4 249.5L155.0 249.2L156.6 248.6L158.6 247.5L160.2 246.4L161.9 245.0L163.4 243.3L164.8 241.4L165.8 239.4L166.4 237.8L166.7 236.2L166.6 234.6L166.2 233.3L165.8 232.6L165.4 232.2L165.0 231.8L164.3 231.4L163.0 231.0L161.4 230.9L159.8 231.2L158.2 231.8L156.2 232.8L154.3 234.2L152.6 235.7L151.2 237.4L150.1 239.0L149.0 241.0L148.4 242.6L148.1 244.2L148.2 245.8L148.5 247.0L149.0 247.8L149.3 248.2L150.2 248.9L151.4 249.3Z" fill="#ffb5a7"/><path d="M152.2 247.4L153.4 247.6L154.6 247.5L155.8 247.3L157.4 246.6L158.8 245.8L160.2 244.7L161.4 243.6L162.6 242.2L163.4 240.9L164.2 239.4L164.7 237.8L164.8 236.6L164.7 235.4L164.2 234.3L163.4 233.5L162.6 233.0L161.4 232.8L160.2 232.9L159.0 233.1L157.4 233.8L156.1 234.6L154.6 235.6L153.4 236.8L152.2 238.2L151.4 239.4L150.6 241.0L150.1 242.6L150.0 243.8L150.1 245.0L150.4 245.8L150.9 246.6L151.8 247.2Z" fill="#ff9986"/><path d="M153.6 245.8L154.6 245.9L155.4 245.8L156.6 245.5L157.8 244.9L159.0 244.2L159.9 243.4L160.7 242.6L161.6 241.4L162.4 240.2L162.8 239.0L163.1 237.8L163.1 237.0L162.9 236.2L162.4 235.4L161.8 234.9L161.0 234.6L160.2 234.5L159.0 234.7L158.1 235.0L157.0 235.5L155.9 236.2L155.0 237.0L154.2 237.8L153.2 239.0L152.5 240.2L152.0 241.4L151.7 242.6L151.7 243.4L151.9 244.2L152.2 244.9L152.7 245.4L153.4 245.7Z" fill="#ff7b63"/><path d="M154.6 244.2L155.0 244.3L155.8 244.2L156.6 244.1L157.4 243.7L159.0 242.6L160.2 241.3L161.1 239.8L161.4 239.0L161.5 238.2L161.4 237.4L161.2 237.0L160.8 236.6L160.2 236.2L159.8 236.1L159.0 236.1L158.2 236.3L157.4 236.6L155.8 237.7L154.6 239.0L153.8 240.3L153.4 241.8L153.3 242.6L153.4 243.0L153.8 243.7L154.2 244.0Z" fill="#ff6246"/></g>
<g stroke="none"><path d="M210.5 206.5L211.1 206.8L211.5 206.8L211.9 206.6L212.4 206.1L213.0 204.9L213.3 203.7L213.5 202.1L213.6 200.5L213.5 198.5L213.3 196.9L212.9 194.5L212.4 192.9L211.8 190.9L211.3 189.7L210.6 188.5L209.9 187.6L209.2 186.9L208.7 186.7L208.3 186.6L207.9 186.7L207.5 186.9L207.1 187.3L206.7 188.1L206.4 189.3L206.1 190.9L206.1 194.1L206.5 197.7L206.9 199.7L207.7 202.1L208.4 203.7L209.0 204.9L209.5 205.6L210.3 206.4Z" fill="#ffffff"/><path d="M210.4 205.3L211.1 205.6L211.5 205.5L211.9 205.2L212.1 204.9L212.6 204.1L212.9 202.9L213.0 201.7L213.0 198.5L212.9 196.9L212.5 194.9L211.7 192.1L211.0 190.5L210.4 189.3L209.9 188.7L209.1 188.0L208.7 187.9L208.3 187.9L207.9 188.0L207.5 188.4L207.1 189.2L206.8 190.1L206.6 191.3L206.5 192.9L206.5 194.5L206.9 197.7L207.8 200.9L208.4 202.5L209.0 203.7L209.5 204.5L210.3 205.3Z" fill="#f6f6fb"/><path d="M210.1 203.7L210.7 204.1L211.1 204.1L211.5 203.9L211.9 203.3L212.2 202.5L212.5 201.3L212.6 200.1L212.5 198.5L212.1 195.3L211.3 192.5L210.3 190.6L209.5 189.6L209.1 189.4L208.7 189.3L208.3 189.4L207.9 189.8L207.5 190.5L207.1 192.1L207.1 194.5L207.4 197.3L208.1 200.1L208.9 202.1L209.5 203.1L209.9 203.6Z" fill="#eaeaf6"/><path d="M210.5 202.9L210.7 203.0L211.1 202.9L211.5 202.5L211.9 201.5L212.1 199.7L212.0 197.3L211.6 194.9L210.9 192.9L210.4 191.7L209.9 191.0L209.5 190.7L209.1 190.5L208.7 190.4L208.3 190.7L207.9 191.3L207.8 191.7L207.5 193.3L207.5 195.7L207.8 197.7L208.5 200.1L209.0 201.3L209.5 202.1L209.9 202.6L210.3 202.9Z" fill="#dadaef"/><path d="M210.0 201.7L210.3 201.9L210.7 202.0L211.1 201.8L211.4 201.3L211.7 200.1L211.8 198.1L211.5 196.1L211.0 194.1L210.3 192.5L209.9 191.9L209.5 191.6L209.1 191.4L208.7 191.5L208.3 191.9L207.9 193.3L207.8 194.9L208.0 196.9L208.5 198.9L209.1 200.5L209.9 201.7Z" fill="#c7c7e7"/><path d="M210.1 200.9L210.3 201.0L210.7 201.0L211.1 200.5L211.4 199.3L211.4 197.7L211.2 196.1L210.7 194.3L210.2 193.3L209.9 192.8L209.5 192.4L209.1 192.3L208.7 192.6L208.5 192.9L208.3 193.7L208.2 195.3L208.3 196.9L208.7 198.5L209.2 199.7L209.5 200.3L209.9 200.8Z" fill="#b0b0dd"/><path d="M210.2 200.1L210.3 200.2L210.7 200.0L211.0 199.3L211.1 198.5L211.1 197.3L210.9 196.1L210.5 194.9L210.0 193.7L209.6 193.3L209.1 193.3L208.7 193.8L208.6 194.5L208.5 195.7L208.7 197.2L209.1 198.5L209.5 199.5L209.9 200.0Z" fill="#9292d0"/><path d="M210.1 199.3L210.3 199.4L210.7 198.8L210.8 197.7L210.7 196.9L210.3 195.1L209.9 194.3L209.6 194.1L209.5 194.0L209.1 194.2L209.0 194.5L208.8 195.3L208.8 196.1L209.1 197.7L209.5 198.7L209.9 199.3Z" fill="#7272c2"/><path d="M209.9 198.5L210.3 198.5L210.4 198.1L210.5 197.3L210.3 196.0L209.9 195.0L209.7 194.9L209.5 194.8L209.4 194.9L209.2 195.3L209.1 195.7L209.2 196.9L209.6 198.1Z" fill="#5858b7"/></g>
<path d="M153.8 245.0L154.6 245.1L155.4 245.1L156.2 245.0L157.4 244.5L158.6 243.8L159.4 243.1L160.2 242.3L161.0 241.4L161.5 240.6L162.1 239.4L162.3 238.6L162.4 237.8L162.3 237.0L161.9 236.2L161.4 235.7L160.8 235.4L159.8 235.2L159.0 235.3L157.4 235.9L156.3 236.6L155.4 237.2L154.6 238.0L153.9 239.0L153.1 240.2L152.8 241.0L152.5 241.8L152.4 242.6L152.5 243.4L152.8 244.2L153.2 244.6L153.8 245.0ZM151.9 250.2L153.4 250.1L155.4 249.7L157.4 248.8L159.4 247.7L161.4 246.2L163.0 244.5L164.6 242.6L165.9 240.6L166.8 238.6L167.3 236.6L167.4 235.0L167.1 233.4L166.6 232.2L165.9 231.4L165.4 231.0L164.2 230.5L162.6 230.2L161.0 230.3L159.0 230.8L157.0 231.7L155.1 233.0L153.1 234.6L151.5 236.2L150.2 237.8L149.0 239.8L148.1 241.8L147.5 243.8L147.4 245.4L147.6 247.0L148.2 248.2L149.0 249.1L150.2 249.8L151.8 250.2ZM148.1 255.0L149.4 255.1L150.6 255.1L151.8 255.0L153.4 254.7L156.2 253.7L157.8 252.9L159.4 252.0L162.2 250.0L164.8 247.8L167.3 245.0L169.2 242.2L170.7 239.4L171.8 236.6L172.1 235.0L172.3 233.8L172.3 232.6L172.3 231.4L172.0 230.2L171.5 229.0L171.1 228.2L170.4 227.4L169.5 226.6L168.6 226.1L167.8 225.7L166.6 225.4L165.4 225.3L164.2 225.3L163.0 225.4L161.4 225.7L158.6 226.7L155.8 228.1L153.0 230.0L150.2 232.4L147.9 235.0L145.9 237.8L144.9 239.4L144.1 241.0L143.1 243.8L142.8 245.0L142.5 246.6L142.5 247.8L142.5 249.0L142.8 250.2L143.1 251.0L143.7 252.2L144.2 252.9L145.0 253.6L145.8 254.2L146.7 254.6L147.8 254.9ZM144.5 259.8L146.2 260.1L147.8 260.1L149.4 260.0L151.4 259.6L153.4 259.1L155.4 258.3L157.0 257.6L159.0 256.6L161.0 255.3L163.0 253.9L165.0 252.3L166.5 251.0L168.2 249.2L169.9 247.4L171.2 245.8L172.6 243.8L173.8 241.8L174.9 239.8L175.7 237.8L176.4 235.8L176.9 233.8L177.2 232.2L177.3 230.6L177.3 229.0L177.0 227.4L176.5 225.8L175.9 224.5L175.1 223.4L174.2 222.5L173.1 221.7L171.9 221.1L170.2 220.6L168.6 220.3L167.0 220.3L165.4 220.4L163.4 220.7L161.8 221.2L159.8 221.9L157.8 222.7L155.8 223.8L153.8 225.0L151.8 226.4L149.8 228.0L148.4 229.4L146.6 231.1L145.0 233.0L143.7 234.6L142.3 236.6L141.0 238.6L140.0 240.6L139.3 242.2L138.5 244.2L138.0 246.2L137.7 247.8L137.5 249.8L137.5 251.4L137.8 253.0L138.1 254.2L138.7 255.4L139.4 256.6L140.2 257.5L141.4 258.5L142.6 259.1L144.2 259.7Z" fill="none" stroke="#ff5a3c" stroke-width="1.4" stroke-linejoin="round"/>
<path d="M209.8 198.9L210.3 199.1L210.4 198.9L210.6 198.5L210.7 197.7L210.6 196.9L210.4 195.7L210.1 194.9L209.8 194.5L209.5 194.3L209.2 194.5L208.9 195.3L208.9 196.1L209.1 197.3L209.5 198.5ZM209.8 200.9L210.3 201.3L210.7 201.3L211.1 200.9L211.5 199.7L211.5 198.5L211.4 196.9L211.1 195.3L210.6 193.7L209.9 192.5L209.5 192.2L209.1 192.0L208.7 192.2L208.3 193.0L208.1 194.5L208.1 196.1L208.4 197.7L208.9 199.3L209.5 200.6ZM210.0 203.3L210.7 203.7L211.1 203.7L211.5 203.4L211.8 202.9L212.1 202.1L212.3 201.3L212.4 198.9L212.1 196.1L211.4 193.3L210.5 191.3L209.9 190.4L209.5 190.0L209.1 189.8L208.7 189.7L208.3 189.8L207.8 190.5L207.5 191.2L207.3 192.1L207.2 194.5L207.4 196.9L208.1 199.7L208.9 201.7L209.5 202.7L209.9 203.2ZM210.4 205.7L211.1 206.0L211.5 206.0L211.9 205.7L212.3 205.3L212.7 204.5L213.0 203.3L213.2 202.1L213.3 200.5L213.2 198.9L212.8 195.7L212.5 194.1L211.7 191.7L211.3 190.5L210.6 189.3L209.9 188.3L209.2 187.7L208.7 187.4L208.3 187.4L207.9 187.5L207.3 188.1L206.9 188.9L206.6 190.1L206.4 191.3L206.4 194.5L206.5 196.1L206.9 198.1L207.7 201.3L208.4 202.9L209.0 204.1L209.5 204.9L210.3 205.7Z" fill="none" stroke="#4f4fb3" stroke-width="1.4" stroke-linejoin="round"/></g>
<g clip-path="url(#c30)"><g stroke="none"><path d="M93.5 344.0L95.4 344.2L97.4 344.2L99.4 343.9L101.4 343.4L103.4 342.5L105.0 341.5L106.6 340.4L108.3 338.8L109.8 337.1L111.2 335.2L112.4 333.2L113.6 330.8L114.5 328.4L115.2 326.0L115.8 323.2L116.2 320.4L116.4 317.6L116.4 314.7L116.2 312.3L115.8 309.5L115.2 306.7L114.5 304.3L113.5 301.9L112.3 299.5L111.1 297.5L109.6 295.5L108.2 293.9L106.6 292.4L105.0 291.3L103.0 290.1L101.0 289.3L99.0 288.8L97.0 288.6L95.0 288.6L93.0 288.9L91.4 289.4L89.4 290.2L87.8 291.2L85.8 292.7L84.2 294.2L82.6 295.9L81.2 297.9L80.1 299.9L78.9 302.3L78.0 304.7L77.3 307.1L76.8 309.5L76.4 312.3L76.2 315.1L76.2 318.0L76.4 320.4L76.8 323.2L77.4 326.0L78.1 328.4L79.0 330.8L80.2 333.2L81.4 335.2L83.0 337.3L84.6 339.0L86.2 340.5L87.8 341.6L89.8 342.8L91.4 343.4L93.4 344.0Z" fill="#fff7f5"/><path d="M94.7 339.6L96.6 339.7L98.2 339.5L99.8 339.2L101.4 338.6L103.0 337.8L104.2 337.0L105.8 335.6L107.0 334.4L108.2 332.9L109.3 331.2L110.4 329.2L111.2 327.2L111.9 325.2L112.5 322.8L112.8 320.8L113.1 318.4L113.1 315.9L113.0 313.9L112.8 311.5L112.4 309.5L111.9 307.5L111.2 305.5L110.3 303.5L109.3 301.5L108.2 299.9L107.0 298.4L105.8 297.1L104.2 295.8L102.6 294.8L101.0 294.0L99.4 293.5L97.8 293.2L96.2 293.1L94.6 293.2L93.0 293.6L91.4 294.1L89.8 294.9L88.2 296.0L86.6 297.4L85.4 298.7L84.2 300.3L83.1 301.9L82.1 303.9L81.3 305.9L80.6 307.9L80.1 309.9L79.8 311.9L79.5 314.3L79.5 316.8L79.5 318.8L79.8 321.2L80.2 323.2L80.8 325.6L81.5 327.6L82.4 329.6L83.3 331.2L84.3 332.8L85.6 334.4L87.0 335.8L88.2 336.8L89.8 337.9L91.4 338.7L93.0 339.2L94.6 339.6Z" fill="#ffebe8"/><path d="M94.3 336.0L95.8 336.2L97.0 336.1L98.6 335.9L99.8 335.6L101.4 334.9L102.6 334.2L103.8 333.2L105.0 332.1L106.1 330.8L107.0 329.5L107.9 328.0L108.6 326.4L109.2 324.8L109.8 322.8L110.2 321.2L110.5 319.2L110.6 317.2L110.6 315.1L110.4 313.1L110.1 311.1L109.6 309.1L109.1 307.5L108.4 305.9L107.6 304.3L106.6 302.7L105.7 301.5L104.6 300.3L103.4 299.2L102.2 298.4L101.0 297.7L99.8 297.2L98.2 296.8L96.6 296.6L95.4 296.7L93.8 296.9L92.6 297.3L91.4 297.9L90.2 298.6L89.0 299.4L87.8 300.6L86.6 301.9L85.7 303.1L84.8 304.7L84.0 306.3L83.4 307.9L82.8 309.9L82.4 311.5L82.2 313.5L82.0 315.5L82.0 317.6L82.2 319.6L82.4 321.2L82.9 323.2L83.5 325.2L84.1 326.8L84.9 328.4L85.8 329.7L86.8 331.2L87.8 332.2L89.0 333.4L90.2 334.2L91.4 334.9L92.6 335.5L94.2 335.9Z" fill="#ffdcd6"/><path d="M94.0 332.8L95.0 333.0L96.2 333.1L97.4 333.0L98.6 332.8L99.8 332.4L101.0 331.8L101.9 331.2L103.0 330.3L104.1 329.2L105.0 328.0L106.4 325.6L107.4 322.8L107.9 321.2L108.1 319.6L108.4 316.3L108.1 313.1L107.8 311.5L107.4 309.9L106.3 307.1L104.9 304.7L104.0 303.5L103.0 302.5L102.2 301.8L101.0 301.0L99.8 300.4L98.6 300.0L97.4 299.8L96.2 299.7L95.0 299.8L93.8 300.1L92.6 300.5L91.4 301.2L90.3 301.9L89.4 302.7L88.6 303.6L87.7 304.7L86.3 307.1L85.2 309.9L84.8 311.5L84.5 313.1L84.2 316.3L84.5 319.6L84.7 321.2L85.2 322.8L86.2 325.6L87.6 328.0L88.5 329.2L89.4 330.0L90.2 330.8L91.4 331.6L92.6 332.3L93.8 332.7Z" fill="#ffcac1"/><path d="M94.7 330.0L96.6 330.1L97.8 330.0L98.6 329.8L99.8 329.3L100.6 328.8L102.2 327.5L103.0 326.6L103.7 325.6L104.8 323.6L105.6 321.2L106.1 318.4L106.2 315.5L105.9 312.7L105.2 310.3L104.2 308.0L103.0 306.2L102.2 305.3L101.4 304.6L99.8 303.5L98.9 303.1L97.8 302.8L97.0 302.7L95.8 302.7L94.2 303.0L93.0 303.5L92.2 303.9L90.6 305.2L89.8 306.1L89.0 307.1L87.9 309.1L87.0 311.5L86.5 314.3L86.4 317.2L86.6 319.6L87.2 322.0L88.2 324.4L89.5 326.4L91.0 328.0L92.6 329.1L93.5 329.6L94.6 329.9Z" fill="#ffb5a7"/><path d="M94.8 327.2L96.2 327.4L97.8 327.2L99.4 326.5L100.7 325.6L101.8 324.3L103.0 322.4L103.7 320.4L104.1 318.4L104.2 316.3L104.1 314.3L103.7 312.3L102.9 310.3L101.8 308.5L100.6 307.2L99.4 306.3L97.8 305.6L96.2 305.4L94.6 305.7L93.8 306.0L93.0 306.5L91.8 307.4L90.6 308.7L89.7 310.3L88.9 312.3L88.5 314.3L88.4 316.3L88.5 318.4L88.9 320.4L89.6 322.4L90.6 324.0L91.8 325.4L93.0 326.4L94.6 327.1Z" fill="#ff9986"/><path d="M95.5 324.8L96.6 324.8L97.8 324.6L99.0 324.0L100.0 323.2L100.9 322.0L101.5 320.8L102.1 319.2L102.3 317.6L102.4 315.9L102.2 314.3L101.8 312.7L101.3 311.5L100.5 310.3L99.4 309.1L98.6 308.6L97.4 308.1L96.2 308.0L95.0 308.2L93.8 308.7L92.7 309.5L91.8 310.7L91.1 311.9L90.6 313.5L90.3 315.1L90.2 316.8L90.4 318.4L90.8 320.0L91.4 321.4L92.2 322.6L93.1 323.6L94.2 324.3L95.4 324.7Z" fill="#ff7b63"/><path d="M95.6 322.4L96.6 322.4L97.4 322.3L98.2 321.9L99.0 321.2L99.6 320.4L100.0 319.6L100.3 318.8L100.6 317.6L100.7 316.3L100.6 315.1L100.3 313.9L100.0 313.1L99.5 312.3L98.9 311.5L98.2 310.9L97.4 310.5L96.6 310.4L95.8 310.4L95.0 310.6L94.1 311.1L93.4 311.9L92.8 312.7L92.3 313.9L92.0 315.1L91.9 316.3L92.0 317.6L92.2 318.4L92.6 319.6L93.0 320.4L93.8 321.3L94.6 322.0L95.4 322.3Z" fill="#ff6246"/></g>
<g stroke="none"><path d="M61.5 350.4L63.3 350.7L65.3 350.7L67.3 350.3L68.9 349.7L70.5 348.9L72.1 347.8L73.7 346.3L75.3 344.5L76.8 342.4L78.0 340.4L79.1 338.0L80.2 335.2L81.1 332.4L81.7 330.0L82.2 326.8L82.6 323.6L82.7 320.8L82.7 317.6L82.5 314.3L82.2 311.5L81.6 308.3L81.0 305.9L80.0 302.7L79.1 300.3L77.9 297.9L76.8 295.9L75.3 293.9L73.7 292.1L72.1 290.6L70.5 289.5L68.5 288.5L66.9 288.0L65.3 287.7L63.3 287.7L61.3 288.1L59.7 288.6L58.1 289.5L56.5 290.6L54.9 292.0L53.3 293.8L51.8 295.9L50.7 297.9L49.5 300.3L48.4 303.1L47.6 305.9L47.0 308.3L46.4 311.5L46.1 314.3L45.9 317.6L45.9 320.8L46.0 323.6L46.4 326.8L46.9 329.6L47.5 332.4L48.4 335.2L49.5 338.0L50.6 340.4L51.8 342.4L53.2 344.4L54.5 346.0L56.1 347.5L57.7 348.7L59.7 349.8L61.3 350.3Z" fill="#ffffff"/><path d="M63.0 346.8L64.5 346.9L66.1 346.7L67.7 346.2L69.3 345.5L70.9 344.4L72.1 343.4L73.5 342.0L74.9 340.1L76.1 338.1L77.2 336.0L78.0 334.0L78.8 331.6L79.5 328.8L79.9 326.4L80.3 323.6L80.5 321.2L80.5 318.4L80.4 315.5L80.0 312.7L79.6 310.3L79.1 307.9L78.2 305.1L77.3 302.7L76.4 300.7L75.2 298.7L74.1 297.1L72.7 295.5L71.3 294.3L70.1 293.4L68.5 292.5L66.9 291.9L65.3 291.6L63.7 291.5L62.1 291.8L60.9 292.1L59.3 292.9L57.7 293.9L56.3 295.1L54.9 296.6L53.7 298.3L52.5 300.3L51.5 302.3L50.6 304.3L49.8 306.7L49.1 309.5L48.7 311.9L48.3 314.7L48.2 317.2L48.1 319.6L48.2 322.4L48.4 324.8L48.9 327.6L49.5 330.4L50.2 332.8L51.1 335.2L52.0 337.2L53.1 339.2L54.2 340.8L55.5 342.4L56.9 343.8L58.5 345.1L59.7 345.7L61.3 346.4L62.9 346.8Z" fill="#f6f6fb"/><path d="M62.0 342.0L63.3 342.3L64.5 342.3L66.1 342.1L67.3 341.7L68.5 341.2L69.7 340.4L70.9 339.4L72.1 338.1L73.1 336.8L74.1 335.2L74.9 333.5L75.7 331.6L76.4 329.6L76.9 327.6L77.3 325.6L77.6 323.2L77.8 320.8L77.8 318.8L77.7 316.3L77.5 314.3L77.2 311.9L76.7 309.9L76.1 307.9L75.4 305.9L74.5 303.9L73.6 302.3L72.5 300.9L71.4 299.5L70.1 298.3L68.9 297.5L67.7 296.8L66.5 296.4L65.3 296.1L63.7 296.1L62.5 296.3L61.3 296.6L60.1 297.2L58.9 298.0L57.7 299.0L56.5 300.3L55.6 301.5L54.5 303.2L53.6 305.1L52.9 306.7L52.2 308.7L51.7 310.7L51.2 313.1L51.0 315.1L50.8 317.6L50.8 319.6L50.8 321.6L51.1 324.0L51.4 326.4L51.9 328.4L52.4 330.4L53.2 332.4L54.1 334.4L54.9 335.9L55.8 337.2L56.9 338.6L58.1 339.8L59.3 340.7L60.5 341.4L61.7 341.9Z" fill="#eaeaf6"/><path d="M63.4 338.8L64.5 338.8L65.7 338.7L66.9 338.3L67.7 337.9L68.9 337.2L69.7 336.5L70.9 335.2L71.7 334.2L72.6 332.8L73.3 331.3L74.1 329.6L74.6 328.0L75.4 324.4L75.7 320.8L75.8 318.8L75.7 316.8L75.2 313.1L74.4 309.9L73.9 308.3L73.2 306.7L72.3 305.1L71.5 303.9L70.6 302.7L69.7 301.9L68.8 301.1L67.7 300.5L66.5 299.9L65.3 299.6L64.1 299.6L62.9 299.7L61.7 300.1L60.9 300.4L59.8 301.1L58.9 301.8L57.7 303.1L56.9 304.2L56.1 305.5L55.3 307.0L54.6 308.7L54.0 310.3L53.2 313.9L52.9 317.6L52.8 319.6L52.9 321.6L53.4 325.2L53.8 327.2L54.3 328.8L54.9 330.4L55.6 332.0L57.0 334.4L58.0 335.6L58.9 336.6L59.7 337.2L60.9 338.0L62.1 338.5L63.3 338.8Z" fill="#dadaef"/><path d="M62.8 335.6L63.7 335.7L64.5 335.8L65.7 335.6L66.5 335.3L67.6 334.8L68.5 334.1L69.3 333.4L70.1 332.4L71.5 330.4L72.1 328.9L72.7 327.6L73.4 324.8L73.9 321.6L74.0 318.4L73.7 315.1L73.1 312.3L72.1 309.5L70.9 307.1L70.1 306.0L69.3 305.0L67.7 303.7L66.9 303.3L65.7 302.8L64.9 302.7L63.7 302.7L62.1 303.1L60.9 303.7L60.1 304.2L59.3 305.0L58.5 305.9L57.2 307.9L56.1 310.3L55.3 313.1L54.8 316.3L54.6 319.6L54.8 322.8L55.5 326.0L56.4 328.8L57.6 331.2L59.1 333.2L60.1 334.2L60.9 334.7L62.5 335.5Z" fill="#c7c7e7"/><path d="M63.5 332.8L64.9 332.8L65.7 332.6L66.5 332.3L67.3 331.8L68.1 331.2L69.3 329.8L70.4 328.0L71.3 325.6L71.9 323.2L72.2 320.8L72.3 318.0L72.0 315.5L71.5 313.1L70.6 310.7L69.4 308.7L68.1 307.2L66.9 306.3L66.1 305.9L65.3 305.7L64.5 305.6L63.7 305.6L62.9 305.8L62.1 306.1L61.3 306.5L60.6 307.1L59.3 308.5L58.2 310.3L57.3 312.6L56.7 315.1L56.4 317.6L56.3 320.4L56.6 322.8L57.1 325.2L58.0 327.6L59.1 329.6L60.5 331.2L61.7 332.1L62.5 332.5L63.3 332.7Z" fill="#b0b0dd"/><path d="M63.3 330.0L64.5 330.1L65.7 329.8L66.9 329.1L68.1 327.9L69.1 326.4L69.8 324.8L70.3 322.8L70.6 320.8L70.7 318.8L70.5 316.8L70.1 314.7L69.4 312.7L68.6 311.1L67.7 310.0L66.5 309.0L65.3 308.5L64.1 308.3L62.9 308.6L61.7 309.2L60.6 310.3L59.7 311.6L58.9 313.3L58.4 315.1L58.0 317.2L57.9 319.2L58.0 321.2L58.4 323.2L59.0 325.2L59.7 326.8L60.5 328.0L61.7 329.2L62.9 329.8Z" fill="#9292d0"/><path d="M64.0 327.6L64.9 327.5L65.7 327.2L66.5 326.7L67.5 325.6L68.1 324.4L68.6 323.2L69.0 321.6L69.2 320.0L69.2 318.4L69.0 316.8L68.6 315.1L68.1 314.0L67.4 312.7L66.8 311.9L65.7 311.2L64.9 310.9L63.7 310.9L62.9 311.1L62.1 311.7L61.3 312.5L60.5 313.8L60.0 315.1L59.6 316.8L59.4 318.4L59.4 320.0L59.6 321.6L60.0 323.2L60.5 324.6L61.3 325.9L62.1 326.7L62.9 327.3L63.7 327.5Z" fill="#7272c2"/><path d="M63.9 325.2L64.5 325.2L65.3 324.9L66.1 324.4L66.5 323.8L66.9 323.2L67.3 322.2L67.6 321.2L67.8 320.0L67.8 318.8L67.7 317.6L67.4 316.3L67.1 315.5L66.7 314.7L66.1 314.1L65.5 313.5L64.9 313.3L64.1 313.2L63.3 313.4L62.9 313.7L62.2 314.3L61.7 315.1L61.3 315.9L60.9 318.0L60.8 319.2L60.9 320.4L61.3 322.4L61.9 323.6L62.5 324.4L63.0 324.8L63.7 325.1Z" fill="#5858b7"/></g>
<path d="M95.0 323.6L96.2 323.8L97.0 323.7L98.2 323.3L99.0 322.8L99.8 322.0L100.6 320.8L101.1 319.6L101.5 318.0L101.6 316.8L101.5 315.1L101.2 313.5L100.7 312.3L100.2 311.3L99.3 310.3L98.2 309.5L97.4 309.2L96.6 309.0L95.4 309.1L94.4 309.5L93.4 310.2L92.6 311.1L91.9 312.3L91.4 313.5L91.1 314.7L91.0 315.9L91.0 317.6L91.4 319.2L91.8 320.3L92.5 321.6L93.2 322.4L94.2 323.2L95.0 323.5ZM94.0 330.8L95.0 331.0L96.2 331.1L97.4 331.0L98.2 330.9L99.4 330.5L100.2 330.1L101.4 329.3L102.2 328.7L103.0 327.9L103.9 326.8L104.6 325.6L105.2 324.4L106.1 322.0L106.7 319.2L106.9 317.6L106.9 315.9L106.7 313.1L106.0 310.3L105.0 307.9L103.8 305.9L102.2 304.1L101.4 303.5L100.2 302.7L99.4 302.3L98.2 301.9L97.4 301.8L96.2 301.7L95.0 301.8L94.2 302.0L93.2 302.3L92.2 302.8L90.6 304.0L89.0 305.8L87.6 307.9L86.6 310.3L85.9 313.1L85.7 315.9L85.8 318.8L86.3 321.6L87.2 324.0L87.8 325.2L88.5 326.4L89.4 327.6L90.1 328.4L91.8 329.7L92.6 330.2L93.8 330.7ZM95.5 338.4L97.0 338.4L98.6 338.2L100.2 337.7L101.8 337.1L103.4 336.1L104.6 335.2L105.8 334.1L107.0 332.7L108.1 331.2L109.0 329.6L109.8 328.0L110.6 326.0L111.2 324.0L111.7 322.0L112.0 320.0L112.2 317.6L112.2 315.5L112.0 313.1L111.7 311.1L111.3 309.1L110.7 307.1L110.0 305.1L109.2 303.5L108.2 301.8L107.0 300.1L105.8 298.7L104.6 297.6L103.4 296.7L102.2 296.0L100.6 295.2L99.0 294.7L97.4 294.4L95.8 294.4L94.2 294.6L92.6 295.0L91.0 295.7L89.4 296.6L88.2 297.5L87.0 298.6L85.8 299.9L84.6 301.5L83.6 303.1L82.8 304.7L82.0 306.7L81.4 308.7L80.9 310.7L80.6 312.7L80.4 315.1L80.4 317.6L80.6 319.6L80.8 321.6L81.3 323.6L81.8 325.6L82.6 327.6L83.6 329.6L84.5 331.2L85.7 332.8L86.7 334.0L88.0 335.2L89.4 336.2L90.6 336.9L92.2 337.6L93.8 338.1L95.4 338.4ZM92.8 345.2L95.0 345.5L97.0 345.6L99.0 345.3L101.0 344.9L103.0 344.1L105.0 343.0L107.0 341.6L108.6 340.1L110.2 338.4L111.7 336.4L113.1 334.0L114.3 331.6L115.3 329.2L116.0 326.8L116.7 324.0L117.1 321.2L117.3 318.4L117.4 315.5L117.2 312.7L116.9 309.9L116.3 307.1L115.5 304.3L114.6 301.9L113.5 299.5L112.1 297.1L110.7 295.1L109.0 293.1L107.4 291.6L105.8 290.3L103.8 289.1L101.8 288.2L99.8 287.6L97.8 287.3L95.8 287.2L93.8 287.4L91.8 287.9L89.8 288.7L87.8 289.7L85.8 291.1L84.2 292.5L82.5 294.3L81.0 296.3L79.7 298.3L78.5 300.7L77.5 303.1L76.6 305.9L75.9 308.7L75.5 311.5L75.3 314.3L75.2 317.2L75.4 320.0L75.7 322.8L76.3 325.6L77.1 328.4L77.9 330.8L79.0 333.2L80.4 335.6L81.8 337.5L83.4 339.4L85.0 341.0L86.6 342.3L88.6 343.5L90.6 344.5L92.6 345.1Z" fill="none" stroke="#ff5a3c" stroke-width="1.4" stroke-linejoin="round"/>
<path d="M63.4 326.4L64.5 326.5L65.3 326.3L66.1 325.8L66.8 325.2L67.3 324.4L67.9 323.2L68.3 322.0L68.5 320.4L68.6 318.8L68.5 317.6L68.1 315.9L67.7 314.8L67.3 313.9L66.5 313.0L65.7 312.3L64.9 312.0L64.1 311.9L63.3 312.1L62.5 312.5L61.7 313.3L61.1 314.3L60.6 315.5L60.3 316.8L60.1 318.0L60.0 319.6L60.1 320.8L60.3 322.0L60.7 323.2L61.3 324.4L61.7 325.1L62.5 325.9L63.3 326.3ZM62.6 333.6L63.3 333.8L64.1 333.9L64.9 333.8L65.7 333.7L66.5 333.4L67.3 332.9L68.1 332.3L68.9 331.6L70.1 330.0L71.4 327.6L72.2 324.8L72.7 322.0L72.9 318.8L72.7 315.9L72.1 313.1L71.3 310.8L70.1 308.4L68.9 306.8L68.1 306.1L67.3 305.5L66.5 305.0L65.7 304.7L64.9 304.6L64.1 304.5L63.3 304.6L62.5 304.8L61.7 305.2L60.9 305.7L60.1 306.4L59.3 307.2L58.1 309.0L57.1 311.1L56.4 313.5L55.9 316.3L55.7 319.2L55.9 322.0L56.4 324.8L57.1 327.2L58.1 329.4L59.3 331.2L60.1 332.0L60.9 332.7L61.7 333.2L62.5 333.6ZM61.9 340.8L63.3 341.1L64.5 341.2L65.7 341.0L66.9 340.7L68.1 340.2L69.3 339.4L70.5 338.4L71.7 337.2L72.6 336.0L73.6 334.4L74.4 332.8L75.1 331.2L75.8 329.2L76.3 327.2L76.7 325.2L76.9 323.2L77.1 321.2L77.2 318.8L76.9 314.7L76.5 312.3L76.1 310.3L75.5 308.3L74.9 306.7L74.2 305.1L73.3 303.5L72.2 301.9L71.3 300.8L70.1 299.6L68.9 298.7L67.7 298.0L66.5 297.6L65.3 297.3L63.7 297.2L62.5 297.4L61.3 297.8L60.1 298.4L58.9 299.2L57.7 300.3L56.9 301.2L56.1 302.3L55.1 303.9L54.2 305.5L53.6 307.1L52.9 309.1L52.3 311.1L51.7 315.1L51.5 317.2L51.4 319.6L51.7 323.6L52.0 325.6L52.4 327.6L53.0 329.6L53.7 331.6L54.4 333.2L55.3 334.9L56.3 336.4L57.3 337.6L58.1 338.5L59.3 339.5L60.5 340.2L61.7 340.7ZM63.7 348.4L65.3 348.4L66.9 348.1L68.5 347.5L70.1 346.7L71.7 345.5L73.0 344.4L74.4 342.8L75.8 340.8L77.0 338.8L78.0 336.8L78.9 334.4L79.7 332.0L80.3 329.6L80.8 326.8L81.2 324.0L81.4 320.8L81.4 318.0L81.2 315.1L80.9 312.3L80.4 309.5L79.9 307.1L79.1 304.7L78.3 302.3L77.1 299.9L76.0 297.9L74.6 295.9L73.3 294.3L71.7 292.9L70.1 291.7L68.5 290.9L66.9 290.3L65.3 290.0L63.3 290.0L61.7 290.3L60.1 290.9L58.5 291.7L56.9 292.9L55.7 293.9L54.3 295.5L52.9 297.4L51.7 299.4L50.7 301.5L49.6 304.3L48.8 306.7L48.3 309.1L47.7 311.9L47.4 314.7L47.2 317.6L47.2 320.4L47.4 323.6L47.7 326.4L48.2 329.2L48.8 331.6L49.6 334.0L50.5 336.4L51.6 338.8L52.8 340.8L54.1 342.7L55.3 344.1L56.9 345.5L58.5 346.7L60.1 347.5L61.7 348.1L63.3 348.4Z" fill="none" stroke="#4f4fb3" stroke-width="1.4" stroke-linejoin="round"/></g>
<g clip-path="url(#c31)"><g stroke="none"><path d="M154.7 344.0L156.6 344.2L158.6 344.2L160.6 343.8L162.2 343.3L163.8 342.6L165.4 341.6L167.0 340.3L168.6 338.7L170.2 336.8L171.5 334.9L172.6 332.8L173.7 330.4L174.5 328.0L175.3 325.2L175.7 322.8L176.1 320.0L176.2 317.2L176.2 314.3L176.0 311.9L175.6 309.1L175.0 306.3L174.2 303.9L173.3 301.5L172.2 299.1L171.0 297.1L169.6 295.1L168.2 293.6L166.6 292.1L165.0 290.9L163.0 289.8L161.4 289.2L159.5 288.7L157.8 288.5L155.8 288.6L154.2 288.9L152.2 289.6L150.6 290.4L149.0 291.4L147.4 292.8L145.8 294.4L144.6 295.9L143.3 297.9L142.0 300.3L141.1 302.3L140.3 304.7L139.5 307.5L139.1 309.9L138.7 312.7L138.6 315.5L138.6 318.4L138.8 320.8L139.2 323.6L139.7 326.0L140.4 328.4L141.3 330.8L142.4 333.2L143.5 335.2L144.9 337.2L146.2 338.8L147.8 340.4L149.4 341.6L151.0 342.6L152.6 343.4L154.6 344.0Z" fill="#fff7f5"/><path d="M155.9 339.6L157.4 339.7L159.0 339.6L160.2 339.3L161.8 338.7L163.4 337.9L164.6 337.1L166.2 335.7L167.4 334.3L168.6 332.8L169.6 331.2L170.6 329.2L171.4 327.2L172.0 325.2L172.5 322.8L172.9 320.8L173.1 318.4L173.1 315.9L173.0 313.9L172.8 311.9L172.4 309.5L172.0 307.5L171.2 305.1L170.3 303.1L169.4 301.4L168.5 299.9L167.3 298.3L165.8 296.8L164.6 295.7L163.4 294.9L161.8 294.1L160.2 293.5L158.6 293.2L157.0 293.1L155.4 293.3L153.8 293.7L152.6 294.2L151.0 295.1L149.8 296.0L148.6 297.1L147.2 298.7L146.0 300.3L145.0 302.0L144.1 303.9L143.3 305.9L142.7 307.9L142.3 309.9L142.0 311.9L141.7 314.3L141.7 316.8L141.7 318.8L142.0 321.2L142.3 323.2L142.9 325.6L143.6 327.6L144.4 329.6L145.2 331.2L146.2 332.8L147.4 334.4L148.6 335.7L149.8 336.8L151.0 337.7L152.6 338.6L154.2 339.2L155.8 339.6Z" fill="#ffebe8"/><path d="M155.6 336.0L157.0 336.2L158.2 336.1L159.4 335.9L160.6 335.6L161.8 335.0L163.0 334.3L164.2 333.4L165.4 332.2L166.6 330.8L167.4 329.6L168.2 328.0L168.9 326.4L169.5 324.8L170.0 322.8L170.6 319.2L170.7 317.2L170.7 315.1L170.3 311.5L169.9 309.5L169.3 307.5L168.7 305.9L168.0 304.3L167.0 302.7L166.2 301.5L165.0 300.2L163.9 299.1L162.6 298.2L161.4 297.6L160.2 297.1L159.0 296.8L157.4 296.6L156.2 296.7L155.0 296.9L153.8 297.4L152.6 297.9L151.4 298.7L150.2 299.7L149.3 300.7L148.2 302.0L147.3 303.5L146.4 305.1L145.8 306.7L145.2 308.3L144.7 310.3L144.1 313.9L144.0 315.9L144.1 318.0L144.5 321.6L145.0 323.6L145.4 325.2L146.0 326.8L146.8 328.4L147.7 330.0L148.5 331.2L149.5 332.4L150.6 333.4L151.8 334.4L153.0 335.1L154.2 335.6L155.4 335.9Z" fill="#ffdcd6"/><path d="M155.3 332.8L156.2 333.0L157.4 333.1L158.6 333.0L159.8 332.7L161.0 332.2L161.8 331.7L163.0 330.8L163.8 330.1L165.4 328.1L166.8 325.6L167.8 322.8L168.5 319.6L168.7 316.3L168.5 313.1L167.8 309.9L166.8 307.1L165.9 305.5L165.2 304.3L164.2 303.1L163.5 302.3L162.5 301.5L161.4 300.8L160.6 300.4L159.4 300.0L158.2 299.8L157.0 299.7L155.8 299.9L155.0 300.1L153.8 300.6L153.0 301.0L151.8 301.9L151.0 302.6L149.4 304.6L148.6 305.9L148.0 307.1L147.0 309.9L146.3 313.1L146.1 316.3L146.3 319.6L147.0 322.8L148.0 325.6L148.6 326.9L149.4 328.2L151.0 330.2L151.8 330.9L153.0 331.8L153.8 332.2L155.0 332.7Z" fill="#ffcac1"/><path d="M155.9 330.0L157.0 330.1L157.8 330.1L159.0 329.9L159.8 329.7L161.4 328.8L162.2 328.1L163.0 327.3L164.3 325.6L165.4 323.3L166.2 320.8L166.6 318.4L166.7 315.5L166.3 312.7L165.7 310.3L164.7 307.9L163.4 306.0L162.6 305.1L161.8 304.3L160.2 303.3L158.6 302.8L157.8 302.7L156.6 302.7L155.0 303.1L153.4 304.0L152.6 304.6L151.8 305.4L150.5 307.1L149.4 309.4L148.6 311.9L148.2 314.3L148.1 317.2L148.4 319.6L148.9 322.0L149.8 324.4L151.0 326.4L152.4 328.0L154.0 329.2L155.0 329.7L155.8 329.9Z" fill="#ffb5a7"/><path d="M156.0 327.2L157.4 327.4L158.8 327.2L160.2 326.5L161.5 325.6L162.6 324.1L163.6 322.4L164.3 320.4L164.7 318.4L164.8 315.9L164.6 313.9L164.2 311.9L163.4 310.1L162.6 308.7L161.4 307.2L160.2 306.3L159.4 305.9L158.6 305.6L157.8 305.5L157.0 305.4L155.8 305.7L155.0 306.0L154.2 306.5L153.0 307.5L151.8 309.1L151.1 310.7L150.5 312.3L150.1 314.3L150.0 316.3L150.1 318.4L150.5 320.4L151.2 322.4L152.0 324.0L153.0 325.3L154.2 326.3L155.0 326.8L155.8 327.1Z" fill="#ff9986"/><path d="M156.6 324.8L157.8 324.8L158.6 324.6L159.8 324.0L160.6 323.3L161.4 322.4L162.2 320.9L162.7 319.6L163.0 318.0L163.1 316.3L163.0 314.7L162.7 313.1L162.2 311.9L161.4 310.4L160.6 309.5L159.8 308.7L158.6 308.2L157.4 308.0L156.2 308.1L155.0 308.7L154.2 309.4L153.4 310.3L152.6 311.8L152.1 313.1L151.8 314.7L151.7 316.3L151.8 318.0L152.1 319.6L152.6 321.0L153.4 322.4L154.2 323.4L155.0 324.1L156.2 324.7Z" fill="#ff7b63"/><path d="M156.7 322.4L157.4 322.4L158.2 322.3L159.0 321.9L159.8 321.2L160.5 320.4L160.9 319.6L161.2 318.8L161.4 317.6L161.5 316.3L161.4 315.1L161.1 313.9L160.8 313.1L160.4 312.3L159.8 311.5L159.0 310.9L158.2 310.5L157.4 310.4L156.6 310.5L155.8 310.8L155.0 311.5L154.4 312.3L154.0 313.1L153.7 313.9L153.4 315.1L153.3 316.3L153.4 317.6L153.6 318.8L153.9 319.6L154.3 320.4L155.0 321.3L155.8 322.0L156.6 322.3Z" fill="#ff6246"/></g>
<g stroke="none"><path d="M209.3 350.4L209.5 350.7L209.9 350.7L210.3 350.5L210.7 349.8L211.1 348.8L211.5 347.4L212.1 344.0L212.6 340.4L213.0 335.6L213.4 329.6L213.5 322.8L213.6 317.2L213.4 310.3L213.2 305.9L212.8 300.3L212.4 296.3L211.7 291.9L211.1 289.6L210.7 288.6L210.3 287.9L209.9 287.7L209.5 287.7L209.1 288.2L208.8 288.7L208.2 290.7L207.6 293.5L207.0 298.3L206.6 303.1L206.1 313.9L206.0 320.4L206.1 326.4L206.4 333.2L206.8 338.0L207.2 342.4L207.8 346.0L208.4 348.4L208.7 349.4L209.1 350.2Z" fill="#ffffff"/><path d="M209.6 346.8L209.9 346.9L210.3 346.6L210.7 345.8L210.9 345.2L211.5 342.9L212.0 339.6L212.5 335.2L212.8 330.4L213.1 320.8L213.1 315.1L212.9 309.9L212.6 304.3L212.2 300.3L211.7 296.7L211.1 293.7L210.6 292.3L210.3 291.8L209.9 291.5L209.5 291.6L209.3 291.9L208.7 293.1L208.1 295.5L207.6 298.7L207.2 301.9L206.8 306.7L206.6 312.3L206.5 317.6L206.6 327.2L206.9 332.4L207.3 337.2L207.7 340.8L208.3 343.8L208.8 345.6L209.1 346.2L209.5 346.8Z" fill="#f6f6fb"/><path d="M209.3 342.0L209.5 342.2L209.9 342.3L210.3 342.0L210.7 341.1L210.9 340.4L211.4 338.0L211.8 335.2L212.1 331.6L212.4 327.2L212.5 322.8L212.5 313.5L212.0 305.5L211.6 301.9L211.2 299.1L210.7 297.3L210.2 296.3L209.9 296.1L209.5 296.2L209.1 296.8L208.7 298.0L208.2 300.3L207.8 303.5L207.4 307.1L207.1 314.3L207.1 322.4L207.4 330.8L207.7 334.4L208.1 337.6L208.7 340.4L209.1 341.6Z" fill="#eaeaf6"/><path d="M209.8 338.8L209.9 338.8L210.3 338.4L210.7 337.3L211.1 335.6L211.4 333.6L211.9 327.2L212.1 320.0L212.0 312.7L211.5 305.9L211.1 302.8L210.7 301.1L210.3 300.0L209.9 299.6L209.5 299.7L209.1 300.5L208.7 301.9L208.3 304.3L207.7 310.3L207.5 317.6L207.6 325.2L208.0 331.6L208.3 334.2L208.7 336.5L209.1 337.9L209.5 338.7Z" fill="#dadaef"/><path d="M209.5 335.6L209.9 335.8L210.3 335.3L210.7 334.0L211.1 332.0L211.5 327.2L211.8 321.2L211.7 314.7L211.3 308.7L211.1 306.7L210.7 304.4L210.3 303.1L210.0 302.7L209.9 302.6L209.5 302.8L209.1 303.7L208.6 305.9L208.1 310.3L207.9 316.3L207.9 322.4L208.2 328.4L208.7 332.9L209.1 334.7L209.3 335.2Z" fill="#c7c7e7"/><path d="M209.8 332.8L209.9 332.8L210.3 332.2L210.7 330.6L210.9 329.2L211.3 325.2L211.4 320.0L211.3 314.7L211.0 310.3L210.5 307.1L210.3 306.2L209.9 305.6L209.5 305.8L209.1 306.9L208.7 309.2L208.3 313.1L208.2 317.6L208.2 322.8L208.5 327.2L208.9 330.8L209.1 331.5L209.5 332.6Z" fill="#b0b0dd"/><path d="M209.7 330.0L209.9 330.1L210.3 329.3L210.7 327.1L211.0 323.6L211.1 320.0L211.0 315.5L210.7 311.5L210.3 309.1L209.9 308.3L209.5 308.6L209.1 310.0L208.7 313.5L208.5 317.6L208.5 321.2L208.7 324.9L209.1 328.4L209.5 329.8Z" fill="#9292d0"/><path d="M209.9 327.6L210.3 326.5L210.5 325.2L210.7 323.0L210.8 320.0L210.6 314.7L210.3 311.9L210.0 311.1L209.9 310.8L209.5 311.2L209.2 312.3L209.0 313.9L208.8 317.2L208.8 320.4L208.9 323.2L209.1 325.2L209.5 327.2Z" fill="#7272c2"/><path d="M209.9 325.2L210.3 323.6L210.5 319.2L210.3 314.8L209.9 313.2L209.5 313.7L209.2 315.9L209.1 318.0L209.1 321.6L209.3 323.6L209.5 324.8Z" fill="#5858b7"/></g>
<path d="M156.2 323.6L157.0 323.7L158.2 323.7L159.0 323.4L159.9 322.8L160.7 322.0L161.4 320.7L161.9 319.6L162.3 318.0L162.4 316.8L162.3 315.1L162.0 313.5L161.5 312.3L161.0 311.4L160.2 310.3L159.4 309.7L158.2 309.1L157.0 309.1L156.2 309.2L155.4 309.6L154.6 310.3L153.8 311.3L153.3 312.3L152.8 313.5L152.6 314.7L152.4 315.9L152.5 317.6L152.8 319.2L153.2 320.4L153.8 321.5L154.5 322.4L155.4 323.2L156.2 323.6ZM157.0 331.2L158.2 331.1L159.0 331.0L160.2 330.6L161.0 330.2L162.6 329.0L163.4 328.2L164.2 327.2L165.0 326.0L165.6 324.8L166.5 322.4L167.2 319.6L167.4 316.8L167.2 313.9L166.7 311.1L165.8 308.5L164.6 306.2L163.2 304.3L162.2 303.5L161.4 302.9L160.5 302.3L159.4 301.9L158.6 301.7L157.4 301.6L156.2 301.7L155.4 301.9L154.6 302.2L153.6 302.7L152.6 303.4L151.8 304.1L150.4 305.9L149.2 307.9L148.2 310.6L147.7 313.1L147.4 315.9L147.5 318.8L148.0 321.6L148.8 324.0L150.0 326.4L151.4 328.2L153.0 329.7L153.8 330.2L155.0 330.8L155.8 331.0L157.0 331.2ZM155.8 338.4L157.0 338.5L158.6 338.4L160.2 338.1L161.4 337.7L163.0 336.9L164.2 336.0L165.4 335.0L166.8 333.6L167.8 332.2L168.7 330.8L169.6 329.2L170.4 327.2L171.1 325.2L171.6 323.2L172.0 321.2L172.2 318.8L172.3 316.8L172.3 314.3L172.1 312.3L171.8 310.3L171.3 308.3L170.7 306.3L169.9 304.3L169.0 302.6L168.2 301.1L167.0 299.5L165.8 298.2L164.6 297.1L163.4 296.2L161.8 295.3L160.6 294.8L159.0 294.4L157.4 294.3L156.2 294.4L155.0 294.6L153.4 295.1L151.8 295.9L150.6 296.7L149.4 297.7L148.1 299.1L147.0 300.5L146.1 301.9L145.3 303.5L144.4 305.5L143.7 307.5L143.2 309.5L142.8 311.5L142.6 313.9L142.5 315.9L142.5 318.4L142.7 320.4L143.0 322.4L143.5 324.4L144.1 326.4L144.8 328.4L145.6 330.0L146.5 331.6L147.4 332.8L148.6 334.3L149.8 335.4L151.0 336.4L152.6 337.3L153.8 337.9L155.4 338.3ZM155.1 345.6L157.0 345.8L159.0 345.7L161.0 345.3L163.0 344.6L165.0 343.5L166.6 342.4L168.2 341.0L169.8 339.3L171.4 337.2L172.7 335.2L173.9 332.8L174.9 330.4L175.7 328.0L176.3 325.2L176.8 322.4L177.1 319.6L177.3 316.8L177.2 313.5L176.9 310.7L176.4 307.9L175.7 305.1L175.0 302.7L174.0 300.3L172.8 297.9L171.4 295.5L169.9 293.5L168.2 291.8L166.6 290.4L165.0 289.3L163.0 288.2L161.4 287.6L159.4 287.2L157.4 287.0L155.4 287.2L153.4 287.6L151.8 288.2L149.8 289.2L148.2 290.3L146.6 291.7L144.9 293.5L143.4 295.5L142.2 297.5L141.0 299.9L140.0 302.3L139.2 304.7L138.5 307.5L138.0 310.3L137.7 313.1L137.5 315.9L137.6 319.2L137.9 322.0L138.4 324.8L138.9 327.2L139.8 330.0L140.7 332.4L141.9 334.8L143.1 336.8L144.6 338.9L146.2 340.7L147.8 342.1L149.4 343.3L151.4 344.4L153.0 345.1L155.0 345.6Z" fill="none" stroke="#ff5a3c" stroke-width="1.4" stroke-linejoin="round"/>
<path d="M209.7 326.4L209.9 326.5L210.3 325.3L210.6 322.4L210.7 319.6L210.6 316.8L210.4 314.3L210.3 313.1L209.9 311.9L209.5 312.3L209.3 313.1L209.1 314.8L209.0 317.6L209.0 320.4L209.1 323.2L209.5 326.1ZM209.6 333.6L209.9 333.7L210.3 333.1L210.8 330.8L211.3 326.4L211.5 320.8L211.4 314.7L211.1 309.5L210.7 306.7L210.3 305.3L209.9 304.7L209.9 304.7L209.5 304.9L209.2 305.5L208.7 308.0L208.3 312.0L208.1 317.2L208.1 322.8L208.4 327.6L208.8 331.2L209.1 332.5L209.5 333.5ZM209.5 340.8L209.9 341.0L210.3 340.6L210.4 340.4L210.9 338.8L211.4 336.4L211.8 333.6L212.1 330.0L212.4 322.4L212.3 314.7L212.0 307.1L211.7 303.9L211.2 301.1L210.7 298.8L210.3 297.8L209.9 297.4L209.5 297.6L209.1 298.2L208.7 299.5L208.3 301.5L207.6 307.1L207.3 314.7L207.3 323.6L207.6 331.2L208.3 336.9L208.7 338.9L209.2 340.4ZM209.5 348.0L209.9 348.1L210.3 347.8L210.7 347.1L211.4 344.8L212.0 341.6L212.5 337.6L212.9 332.8L213.2 322.4L213.2 312.3L212.9 306.7L212.5 301.5L212.1 297.5L211.6 294.3L211.1 292.3L210.7 291.3L210.3 290.6L209.9 290.3L209.5 290.4L209.1 290.9L208.7 291.8L208.3 293.1L207.8 295.9L207.3 299.5L206.9 303.9L206.6 309.1L206.4 313.9L206.3 319.6L206.4 325.2L206.6 329.6L206.9 335.2L207.3 339.6L207.9 343.2L208.5 346.0L209.1 347.6Z" fill="none" stroke="#4f4fb3" stroke-width="1.4" stroke-linejoin="round"/></g>
<g clip-path="url(#c32)"><g stroke="none"><path d="M245.9 344.0L247.5 344.2L249.5 344.2L251.5 343.9L253.1 343.4L254.7 342.7L256.5 341.6L258.0 340.4L259.5 338.7L261.0 336.8L262.2 334.8L263.3 332.4L264.1 330.4L264.9 327.6L265.4 325.2L265.7 322.8L265.9 320.0L265.9 317.2L265.7 314.3L265.3 311.5L264.8 309.1L264.1 306.3L263.2 303.9L262.2 301.5L260.9 299.1L259.5 297.0L258.1 295.1L256.3 293.3L254.7 291.9L253.1 290.8L251.1 289.8L249.5 289.1L247.7 288.7L245.9 288.5L243.9 288.6L242.3 289.0L240.3 289.7L238.7 290.5L237.1 291.7L235.5 293.1L234.3 294.5L233.0 296.3L231.8 298.3L230.9 300.3L230.0 302.7L229.3 305.1L228.8 307.5L228.5 309.9L228.3 312.7L228.3 315.5L228.5 318.4L228.9 321.2L229.3 323.6L230.1 326.4L231.0 328.8L232.0 331.2L233.0 333.2L234.2 335.2L235.7 337.2L237.1 338.8L238.7 340.3L240.3 341.5L242.3 342.7L243.9 343.4L245.9 344.0Z" fill="#fff7f5"/><path d="M246.8 339.6L248.3 339.7L249.9 339.6L251.1 339.3L252.7 338.7L254.3 337.9L255.5 337.0L256.7 335.9L258.0 334.4L259.1 332.8L260.0 331.2L260.9 329.2L261.6 327.2L262.1 325.2L262.5 322.8L262.7 320.8L262.8 318.4L262.8 316.3L262.6 313.9L262.2 311.5L261.7 309.5L261.0 307.1L260.2 305.1L259.3 303.1L258.3 301.5L257.1 299.7L255.9 298.2L254.7 297.0L253.1 295.7L251.9 294.9L250.3 294.1L248.7 293.5L247.1 293.2L245.5 293.1L243.9 293.3L242.3 293.7L241.1 294.2L239.6 295.1L238.3 296.1L237.1 297.3L235.9 298.7L234.9 300.3L234.0 301.9L233.2 303.9L232.5 305.9L232.0 307.9L231.7 309.9L231.4 312.3L231.4 314.3L231.4 316.3L231.6 318.8L232.0 321.2L232.5 323.2L233.0 325.2L233.8 327.2L234.7 329.2L235.8 331.2L236.8 332.8L238.1 334.4L239.5 335.8L240.7 336.9L241.9 337.7L243.5 338.6L245.1 339.2L246.7 339.6Z" fill="#ffebe8"/><path d="M246.3 336.0L247.5 336.1L249.1 336.1L250.3 335.9L251.5 335.5L252.7 334.9L253.9 334.1L255.0 333.2L255.9 332.2L257.0 330.8L257.7 329.6L258.5 328.0L259.1 326.4L259.6 324.8L260.0 322.8L260.4 319.2L260.4 317.2L260.3 315.1L259.7 311.5L259.2 309.5L258.7 307.9L258.0 306.3L257.1 304.6L256.3 303.3L255.4 301.9L254.3 300.7L253.1 299.5L251.9 298.6L250.7 297.9L249.5 297.3L247.9 296.8L246.3 296.6L245.1 296.7L243.9 296.9L242.7 297.3L241.5 297.8L240.3 298.6L239.3 299.5L238.3 300.5L237.2 301.9L236.5 303.1L235.7 304.7L235.1 306.3L234.6 307.9L234.2 309.9L233.8 313.5L233.8 317.2L234.1 319.2L234.4 321.2L235.0 323.2L235.5 324.8L236.1 326.4L236.9 328.0L237.9 329.6L238.7 330.8L239.9 332.2L241.0 333.2L242.3 334.2L243.5 335.0L244.7 335.5L245.9 335.9Z" fill="#ffdcd6"/><path d="M245.8 332.8L246.7 333.0L247.9 333.1L249.1 333.0L250.1 332.8L251.1 332.4L252.3 331.7L254.0 330.4L254.7 329.5L255.6 328.4L256.3 327.0L257.0 325.6L257.8 322.8L258.3 319.6L258.3 316.3L257.9 313.1L257.1 309.9L255.9 307.1L254.5 304.7L253.6 303.5L252.7 302.7L251.9 301.9L250.7 301.1L249.5 300.5L248.3 300.0L247.1 299.8L245.9 299.7L244.7 299.9L243.9 300.1L242.7 300.6L241.9 301.0L240.7 301.9L239.9 302.7L239.1 303.7L238.4 304.7L237.3 307.1L236.4 309.9L235.9 313.1L235.9 316.3L236.2 319.6L237.1 322.8L238.2 325.6L239.6 328.0L240.6 329.2L241.5 330.2L242.3 330.9L243.5 331.7L244.3 332.2L245.5 332.7Z" fill="#ffcac1"/><path d="M246.4 330.0L247.5 330.1L248.3 330.1L249.9 329.8L251.5 329.0L252.3 328.3L253.1 327.5L254.3 325.8L255.4 323.6L256.0 321.2L256.4 318.4L256.3 315.5L255.8 312.7L255.1 310.3L253.9 308.0L252.7 306.2L251.1 304.5L249.5 303.5L248.7 303.1L247.5 302.8L246.3 302.7L245.5 302.7L243.9 303.2L243.1 303.6L242.3 304.1L241.5 304.8L240.9 305.5L240.3 306.3L239.6 307.5L238.7 309.5L238.1 311.9L237.8 314.3L237.9 317.2L238.3 319.6L238.9 322.0L240.0 324.4L241.3 326.4L242.7 328.0L244.3 329.1L245.2 329.6L246.3 330.0Z" fill="#ffb5a7"/><path d="M246.3 327.2L247.5 327.4L248.3 327.3L249.1 327.2L250.3 326.6L251.7 325.6L252.7 324.2L253.6 322.4L254.2 320.4L254.5 318.4L254.5 316.3L254.2 314.3L253.7 312.3L252.9 310.3L251.9 308.7L250.7 307.3L249.5 306.3L248.7 305.9L247.9 305.6L247.1 305.5L246.3 305.4L245.1 305.6L243.9 306.1L242.6 307.1L241.5 308.5L240.7 310.1L240.1 311.9L239.8 313.9L239.7 315.9L239.9 318.3L240.4 320.4L241.1 322.2L241.9 323.6L243.1 325.2L244.3 326.2L245.1 326.7L245.9 327.1Z" fill="#ff9986"/><path d="M246.8 324.8L247.9 324.8L249.1 324.5L249.9 324.0L250.9 323.2L251.5 322.2L252.2 320.8L252.6 319.2L252.8 317.6L252.8 315.9L252.5 314.3L252.0 312.7L251.5 311.5L250.7 310.3L249.6 309.1L248.7 308.5L247.5 308.1L246.3 308.0L245.5 308.1L244.3 308.7L243.4 309.5L242.7 310.5L242.0 311.9L241.6 313.5L241.4 315.1L241.4 316.8L241.7 318.4L242.1 320.0L242.7 321.3L243.5 322.5L244.5 323.6L245.5 324.3L246.7 324.7Z" fill="#ff7b63"/><path d="M246.7 322.4L247.5 322.4L248.3 322.3L249.0 322.0L249.5 321.5L250.2 320.8L250.6 320.0L251.0 318.8L251.1 317.8L251.2 316.8L251.1 315.5L250.8 314.3L250.4 313.1L249.9 312.3L249.3 311.5L248.7 311.1L247.9 310.6L247.1 310.4L246.3 310.4L245.5 310.7L244.8 311.1L244.1 311.9L243.7 312.7L243.4 313.5L243.1 314.7L243.0 315.9L243.1 317.2L243.6 319.2L244.0 320.0L244.7 321.0L245.5 321.8L246.3 322.2Z" fill="#ff6246"/></g>
<g stroke="none"><path d="M291.6 350.4L292.8 350.7L293.6 350.7L294.8 350.3L295.6 349.7L296.4 348.7L297.2 347.5L297.9 346.0L298.5 344.4L299.1 342.4L299.5 340.4L300.0 338.0L300.3 335.2L300.7 329.6L300.6 323.6L300.2 317.2L299.4 311.1L298.2 305.1L296.9 300.3L295.3 295.9L294.4 293.8L293.3 291.9L292.4 290.5L291.2 289.2L290.4 288.5L289.4 287.9L288.4 287.7L287.6 287.7L286.4 288.2L285.6 288.8L284.8 289.7L284.0 291.0L283.3 292.3L282.6 294.3L281.6 298.3L280.9 303.1L280.5 308.7L280.6 314.7L281.0 320.8L281.8 327.2L283.0 333.2L284.2 338.0L285.8 342.4L286.8 344.5L287.8 346.4L288.8 347.8L289.6 348.8L290.8 349.9L291.6 350.4Z" fill="#ffffff"/><path d="M292.1 346.8L292.8 346.9L293.6 346.8L294.4 346.4L295.2 345.7L296.0 344.7L296.6 343.6L297.3 342.0L297.8 340.4L298.7 336.4L299.3 331.6L299.5 326.4L299.3 321.2L298.9 316.3L298.1 310.7L297.0 305.5L295.5 300.7L294.0 297.1L293.2 295.6L292.4 294.3L291.6 293.3L290.8 292.5L289.6 291.8L288.8 291.5L288.0 291.6L287.2 291.8L286.4 292.3L285.6 293.2L284.9 294.3L284.4 295.3L283.8 296.7L283.3 298.3L282.5 302.3L281.9 307.1L281.7 311.9L281.9 317.2L282.3 322.0L283.0 327.2L284.1 332.4L285.4 336.8L287.0 340.8L288.5 343.6L289.6 345.0L290.4 345.8L291.2 346.4L292.0 346.8Z" fill="#f6f6fb"/><path d="M291.2 342.0L292.0 342.3L292.8 342.3L293.6 342.0L294.0 341.8L294.6 341.2L295.2 340.4L296.1 338.4L297.0 335.6L297.6 332.0L297.9 328.0L298.0 323.6L297.8 319.2L297.3 314.7L296.5 310.3L295.5 306.3L294.5 303.1L293.2 300.2L292.0 298.3L291.2 297.3L290.4 296.6L289.6 296.2L288.8 296.1L288.0 296.2L287.6 296.4L286.8 297.0L286.4 297.5L285.8 298.3L285.2 299.7L284.3 302.7L283.7 305.9L283.3 309.9L283.2 313.9L283.4 318.4L283.8 322.8L284.5 327.2L285.4 331.2L286.5 334.8L287.9 338.0L289.2 340.1L290.0 341.0L290.8 341.7Z" fill="#eaeaf6"/><path d="M291.7 338.8L292.4 338.8L292.8 338.7L293.4 338.4L294.0 337.9L294.9 336.4L295.8 334.0L296.4 331.2L296.7 328.0L296.9 324.4L296.8 320.8L296.5 317.2L295.9 313.1L295.1 309.5L294.2 306.3L293.2 303.9L292.0 301.7L290.8 300.3L290.0 299.8L289.6 299.6L288.8 299.6L288.4 299.7L287.6 300.2L287.2 300.6L286.4 301.8L285.6 303.9L284.9 306.7L284.5 309.9L284.3 313.5L284.4 317.6L284.7 321.2L285.3 325.2L286.1 328.8L287.0 332.0L288.0 334.4L289.2 336.6L290.4 338.0L291.2 338.6L291.6 338.8Z" fill="#dadaef"/><path d="M291.1 335.6L292.0 335.8L292.7 335.6L293.2 335.2L294.0 334.2L294.8 332.4L295.3 330.4L295.7 327.6L295.9 324.8L295.9 321.6L295.7 318.4L295.3 315.1L294.6 311.9L293.9 309.1L293.0 306.7L292.0 304.8L291.2 303.7L290.4 303.0L290.0 302.8L289.2 302.6L288.8 302.7L288.0 303.2L287.2 304.3L286.5 305.9L285.9 307.9L285.6 310.3L285.3 313.1L285.3 316.3L285.5 319.6L285.9 322.8L286.4 325.6L287.1 328.4L287.9 330.8L288.8 332.9L289.8 334.4L290.8 335.4Z" fill="#c7c7e7"/><path d="M291.2 332.8L292.0 332.8L292.4 332.7L292.8 332.4L293.2 331.9L293.6 331.2L294.1 330.0L294.5 328.4L294.8 326.0L295.0 323.6L294.9 320.8L294.8 318.4L294.4 315.5L293.9 313.1L293.2 310.6L292.4 308.5L291.6 307.1L290.8 306.1L290.0 305.6L289.6 305.5L289.2 305.6L288.8 305.8L288.4 306.1L287.7 307.1L287.2 308.3L286.8 309.9L286.4 312.3L286.2 314.7L286.3 317.6L286.4 320.0L286.8 322.8L287.3 325.2L288.0 327.7L288.8 329.8L289.6 331.3L290.4 332.2L291.2 332.8Z" fill="#b0b0dd"/><path d="M291.0 330.0L291.6 330.1L292.0 330.0L292.4 329.7L292.8 329.1L293.3 328.0L293.7 326.4L294.0 324.4L294.1 322.4L294.0 320.4L293.9 318.4L293.6 316.1L293.2 314.1L292.7 312.3L292.1 310.7L291.6 309.8L290.8 308.8L290.0 308.3L289.5 308.3L289.2 308.4L288.8 308.8L288.3 309.5L287.8 310.7L287.5 311.9L287.2 313.9L287.1 317.6L287.3 319.6L287.6 322.0L287.9 324.0L288.4 325.6L288.9 327.2L289.6 328.5L290.0 329.2L290.8 329.9Z" fill="#9292d0"/><path d="M291.1 327.6L291.6 327.5L292.0 327.3L292.4 326.7L292.8 325.6L293.2 323.4L293.3 320.4L293.0 317.2L292.4 314.5L291.6 312.4L291.0 311.5L290.4 310.9L290.0 310.8L289.6 310.9L289.2 311.1L288.8 311.8L288.6 312.3L288.3 313.1L288.0 314.7L287.9 317.6L288.2 320.8L288.8 323.8L289.6 325.9L290.1 326.8L290.8 327.5Z" fill="#7272c2"/><path d="M290.8 325.2L291.2 325.2L291.6 325.0L292.0 324.4L292.1 324.0L292.4 322.4L292.5 320.0L292.3 318.0L291.8 315.5L291.2 314.1L290.8 313.5L290.4 313.2L290.0 313.2L289.6 313.4L289.2 314.1L288.8 315.9L288.7 318.4L288.9 320.8L289.4 322.8L290.0 324.3L290.4 324.8L290.8 325.2Z" fill="#5858b7"/></g>
<path d="M246.3 323.6L247.5 323.8L248.3 323.7L249.1 323.3L249.9 322.8L250.7 321.8L251.3 320.8L251.7 319.6L252.0 318.4L252.1 317.2L252.0 315.5L251.6 313.9L251.2 312.7L250.7 311.8L249.9 310.7L249.1 309.9L247.9 309.3L247.1 309.1L245.9 309.1L245.1 309.4L244.3 310.0L243.5 310.9L242.9 311.9L242.5 313.1L242.2 314.3L242.1 315.5L242.2 317.2L242.5 318.8L243.0 320.0L243.5 321.1L244.3 322.2L245.1 322.9L245.9 323.4ZM245.6 330.8L246.7 331.1L247.5 331.2L248.7 331.1L249.5 331.0L250.7 330.5L251.5 330.1L252.3 329.5L253.1 328.8L254.5 327.2L255.2 326.0L255.7 324.8L256.5 322.4L257.0 319.6L257.1 316.8L256.7 313.8L256.1 311.1L255.0 308.3L254.3 307.1L253.6 305.9L251.9 304.1L250.3 302.9L249.4 302.3L248.3 301.9L247.5 301.7L246.3 301.6L245.1 301.7L244.3 301.9L242.7 302.7L241.9 303.2L241.1 303.9L240.3 304.8L239.5 305.9L238.5 307.9L237.7 310.3L237.2 313.1L237.1 315.9L237.4 318.8L238.1 321.6L239.1 324.3L240.3 326.4L241.9 328.4L243.5 329.7L244.3 330.2L245.5 330.8ZM246.8 338.4L248.3 338.5L249.9 338.3L251.5 337.9L252.7 337.4L253.9 336.8L255.1 335.9L256.3 334.8L257.5 333.4L258.5 332.0L259.4 330.4L260.1 328.8L260.8 326.8L261.3 324.8L261.7 322.8L261.9 320.8L262.0 318.4L262.0 316.3L261.8 313.9L261.4 311.9L261.0 309.9L260.4 307.9L259.6 305.9L258.7 304.0L257.8 302.3L256.7 300.7L255.5 299.2L254.3 297.9L252.8 296.7L251.5 295.9L249.9 295.1L248.3 294.6L247.1 294.4L245.5 294.3L244.3 294.4L242.7 294.8L241.5 295.3L239.9 296.2L238.8 297.1L237.6 298.3L236.6 299.5L235.5 301.1L234.7 302.7L234.0 304.3L233.3 306.3L232.8 308.3L232.5 310.3L232.3 312.3L232.2 314.3L232.2 316.3L232.4 318.8L232.8 320.8L233.2 322.8L233.8 324.8L234.5 326.8L235.4 328.8L236.3 330.4L237.4 332.0L238.7 333.6L239.9 334.9L241.1 335.9L242.3 336.7L243.9 337.5L245.5 338.1L246.7 338.4ZM246.5 345.6L248.3 345.8L250.3 345.7L252.3 345.2L254.3 344.5L255.9 343.6L257.7 342.4L259.1 341.1L260.7 339.3L262.2 337.2L263.3 335.2L264.4 332.8L265.2 330.4L265.9 328.0L266.4 325.2L266.8 322.4L266.9 319.6L266.9 316.8L266.7 313.9L266.3 311.1L265.7 308.3L264.9 305.5L263.9 302.7L262.8 300.3L261.5 297.9L260.2 295.9L258.6 293.9L256.7 292.0L255.1 290.6L253.1 289.2L251.5 288.4L249.5 287.6L247.5 287.2L245.5 287.0L243.5 287.2L241.5 287.7L239.9 288.3L237.9 289.4L236.3 290.6L234.9 291.9L233.5 293.5L232.1 295.5L230.9 297.5L229.8 299.9L229.0 302.3L228.2 305.1L227.8 307.5L227.4 310.3L227.3 313.1L227.3 315.9L227.5 318.8L227.9 321.6L228.5 324.4L229.3 327.2L230.1 329.6L231.4 332.4L232.7 334.8L234.0 336.8L235.5 338.8L237.1 340.5L238.8 342.0L240.7 343.4L242.3 344.2L244.3 345.1L246.3 345.6Z" fill="none" stroke="#ff5a3c" stroke-width="1.4" stroke-linejoin="round"/>
<path d="M290.8 326.4L291.2 326.5L291.6 326.4L292.0 326.0L292.4 325.1L292.8 323.2L292.9 320.4L292.7 317.6L292.0 314.7L291.6 313.6L291.2 312.8L290.8 312.3L290.4 312.0L290.0 311.9L289.6 312.1L289.2 312.5L288.8 313.4L288.4 315.3L288.3 317.6L288.4 320.0L288.8 322.4L289.6 324.8L290.0 325.5L290.4 326.1ZM290.9 333.6L291.6 333.8L292.0 333.8L292.8 333.4L293.6 332.4L294.2 331.2L294.7 329.2L295.1 326.8L295.2 324.4L295.3 321.6L295.1 318.8L294.8 315.9L294.2 313.1L293.6 310.6L292.8 308.4L292.0 306.8L291.2 305.6L290.8 305.2L290.1 304.7L289.6 304.6L289.2 304.6L288.4 305.0L287.6 306.0L286.9 307.5L286.4 309.5L286.1 311.5L286.0 313.9L285.9 316.8L286.1 319.6L286.4 322.4L286.9 325.2L287.6 327.6L288.4 329.9L289.2 331.6L290.0 332.8L290.8 333.5ZM291.0 340.8L291.6 341.0L292.4 341.2L293.2 341.0L293.6 340.8L294.1 340.4L294.8 339.6L295.5 338.4L296.0 337.2L296.7 334.4L297.3 331.2L297.6 327.6L297.6 323.2L297.4 319.2L296.9 314.7L296.1 310.3L295.1 306.3L294.0 303.2L292.8 300.7L291.6 298.9L290.8 298.1L290.0 297.5L289.6 297.3L288.8 297.2L288.0 297.4L287.6 297.6L286.8 298.3L286.4 298.9L285.8 299.9L285.3 301.1L284.5 303.9L283.9 307.1L283.6 310.7L283.6 314.7L283.8 318.8L284.2 323.2L285.0 327.6L285.8 331.2L286.9 334.4L288.1 337.2L288.8 338.3L289.6 339.5L290.8 340.6ZM292.7 348.4L293.6 348.3L294.4 348.0L295.2 347.4L296.0 346.5L296.8 345.2L297.4 344.0L298.0 342.4L298.5 340.4L299.3 336.0L299.8 331.2L299.9 326.0L299.7 320.4L299.1 314.3L298.3 309.1L297.1 303.9L295.7 299.5L294.2 295.9L293.3 294.3L292.4 292.8L291.3 291.5L290.4 290.8L289.6 290.3L288.8 290.0L288.0 290.0L287.2 290.2L286.4 290.7L285.6 291.4L284.8 292.5L284.1 293.9L283.4 295.5L282.9 297.1L282.1 301.1L281.5 306.3L281.3 311.9L281.4 317.6L282.1 324.0L282.9 329.2L284.1 334.4L285.5 338.8L287.0 342.4L287.8 344.0L288.8 345.5L289.6 346.5L290.4 347.3L291.6 348.1L292.4 348.3Z" fill="none" stroke="#4f4fb3" stroke-width="1.4" stroke-linejoin="round"/></g>
<g clip-path="url(#c40)"><g stroke="none"><path d="M95.0 435.4L97.0 435.7L98.6 435.7L100.2 435.5L102.2 434.9L104.2 433.9L106.2 432.7L107.8 431.3L109.4 429.6L110.8 427.8L112.4 425.4L113.4 423.4L114.4 421.0L115.2 418.6L115.9 415.8L116.3 413.4L116.5 410.6L116.5 407.3L116.4 404.9L115.9 401.3L115.6 399.3L114.8 396.5L114.1 394.5L112.6 391.3L111.2 388.5L109.8 386.4L108.1 384.1L106.6 382.5L104.6 380.7L102.6 379.1L101.0 378.2L99.0 377.3L97.0 376.7L95.0 376.5L93.4 376.6L91.4 377.1L89.8 377.7L88.2 378.6L86.6 379.8L84.6 381.6L83.0 383.4L81.5 385.3L80.3 387.3L79.2 389.7L78.1 392.5L77.2 395.3L76.7 397.3L76.3 400.1L76.2 402.9L76.1 405.3L76.4 409.0L76.8 411.8L77.4 414.6L77.9 416.6L79.0 419.4L79.9 421.4L81.2 423.8L82.6 425.9L84.3 428.2L86.1 430.2L87.8 431.6L89.4 432.8L91.4 434.0L93.4 434.9L95.0 435.4Z" fill="#fff7f5"/><path d="M94.9 430.2L96.6 430.5L98.2 430.5L99.8 430.3L101.4 429.8L103.0 429.1L104.2 428.4L105.5 427.4L107.0 426.0L108.2 424.6L109.3 423.0L110.5 421.0L111.2 419.4L111.9 417.4L112.5 415.4L112.8 413.4L113.1 411.0L113.2 407.8L113.1 405.3L112.9 403.3L112.5 400.9L112.0 398.9L111.2 396.5L109.9 393.7L108.6 391.4L107.4 389.6L105.9 387.7L104.6 386.3L103.0 385.0L101.4 383.9L99.8 383.1L97.8 382.4L96.2 382.1L94.6 382.1L93.0 382.3L91.4 382.7L89.8 383.5L88.6 384.2L87.0 385.5L85.8 386.7L84.6 388.1L83.3 390.1L82.2 392.1L81.1 394.5L80.6 396.1L80.1 398.1L79.7 400.1L79.5 402.1L79.4 404.5L79.5 406.1L79.9 409.8L80.2 411.8L80.7 414.2L81.2 415.8L82.0 417.8L83.0 419.8L84.2 421.7L85.4 423.5L86.6 425.0L88.2 426.5L89.8 427.8L91.4 428.8L93.0 429.6L94.6 430.1Z" fill="#ffebe8"/><path d="M95.6 426.6L97.0 426.7L98.2 426.7L99.8 426.4L101.0 426.0L102.2 425.5L103.4 424.8L104.6 423.8L105.8 422.6L107.0 421.1L107.8 419.8L108.5 418.6L109.3 416.6L109.8 415.0L110.2 413.4L110.5 411.4L110.6 409.8L110.6 405.3L110.4 403.7L110.0 401.3L109.2 398.5L108.4 396.5L107.8 395.3L106.8 393.7L105.3 391.7L104.0 390.1L102.6 388.8L101.4 387.9L99.8 387.0L98.2 386.4L97.0 386.1L95.4 386.0L94.2 386.0L93.0 386.3L91.8 386.7L90.6 387.2L89.4 388.0L88.2 389.0L87.0 390.3L85.9 391.7L84.9 393.3L84.0 394.9L83.3 396.5L82.7 398.5L82.4 400.1L82.0 404.1L82.0 405.7L82.2 407.8L82.5 410.2L82.9 412.2L83.9 415.4L84.6 417.0L85.7 419.0L86.6 420.3L87.8 421.8L89.0 423.1L90.2 424.1L91.4 424.9L92.6 425.6L93.8 426.1L95.4 426.5Z" fill="#ffdcd6"/><path d="M95.3 423.4L96.6 423.5L97.8 423.5L99.8 423.2L101.0 422.7L101.8 422.2L103.0 421.4L103.9 420.6L104.7 419.8L105.5 418.6L106.5 417.0L107.0 415.8L107.5 414.6L107.9 413.0L108.3 410.2L108.4 406.1L108.1 403.7L107.3 400.1L106.7 398.5L106.0 396.9L105.3 395.7L104.4 394.5L102.2 392.2L100.2 390.7L99.0 390.1L97.8 389.7L96.6 389.4L95.4 389.3L94.2 389.5L93.4 389.6L92.2 390.1L91.0 390.7L89.8 391.6L89.0 392.3L87.8 393.7L87.0 394.7L86.3 395.7L85.8 396.9L85.1 398.5L84.7 400.1L84.3 403.3L84.3 406.1L84.8 410.6L85.6 413.4L86.6 415.8L87.4 417.1L88.4 418.6L89.4 419.8L90.2 420.6L91.4 421.5L92.6 422.3L93.8 422.9L95.0 423.3Z" fill="#ffcac1"/><path d="M96.4 420.6L97.4 420.6L98.6 420.4L99.4 420.2L100.4 419.8L101.4 419.2L102.2 418.5L103.8 416.7L104.4 415.8L105.0 414.6L105.7 412.2L106.1 410.2L106.3 406.9L106.2 405.3L106.1 404.1L105.3 400.9L104.5 398.9L103.3 396.9L102.0 395.3L100.2 393.9L98.2 392.9L96.5 392.5L95.4 392.5L94.6 392.6L93.8 392.7L92.6 393.2L91.4 393.8L90.6 394.4L89.2 395.7L88.2 397.3L87.1 399.7L86.6 402.1L86.3 404.9L86.6 407.8L87.1 411.0L88.0 413.4L89.0 415.4L90.5 417.4L92.3 419.0L93.4 419.7L94.2 420.0L95.0 420.3L96.2 420.5Z" fill="#ffb5a7"/><path d="M96.1 417.8L97.0 417.8L97.8 417.8L99.4 417.3L100.6 416.6L101.9 415.4L102.4 414.6L102.9 413.8L103.6 411.8L104.0 410.2L104.2 407.3L104.2 405.3L104.0 403.7L103.1 400.9L102.3 399.3L101.1 397.7L99.9 396.5L98.6 395.7L97.0 395.2L95.4 395.1L93.8 395.5L92.6 396.0L91.4 397.0L90.2 398.5L89.3 400.1L88.7 402.5L88.4 404.5L88.5 406.9L89.1 410.2L89.6 411.8L90.5 413.8L91.4 415.0L92.6 416.2L94.2 417.2L95.8 417.7Z" fill="#ff9986"/><path d="M96.3 415.4L97.0 415.4L97.8 415.3L99.0 414.8L99.8 414.2L100.8 413.0L101.5 411.8L101.9 410.6L102.2 408.6L102.4 406.5L102.3 404.9L102.1 403.7L101.4 401.8L100.6 400.3L99.8 399.3L98.8 398.5L97.8 397.9L96.6 397.6L95.4 397.6L94.2 397.9L93.0 398.5L92.2 399.3L91.4 400.5L91.0 401.3L90.4 403.3L90.2 404.9L90.3 406.5L90.6 408.6L91.2 410.6L91.8 411.8L92.6 413.0L93.8 414.3L95.0 415.0L96.2 415.3Z" fill="#ff7b63"/><path d="M95.4 412.6L96.6 412.8L97.4 412.7L98.2 412.4L99.0 411.8L99.6 411.0L100.0 410.2L100.5 407.8L100.7 406.5L100.6 405.3L100.5 404.5L100.2 403.6L99.6 402.5L98.8 401.3L98.2 400.7L97.3 400.1L96.6 399.9L95.8 399.9L95.0 400.0L94.1 400.5L93.4 401.3L92.8 402.1L92.3 403.3L92.0 404.5L91.9 405.7L92.1 406.9L92.5 408.6L93.1 410.2L93.5 411.0L94.2 411.7L95.4 412.5Z" fill="#ff6246"/></g>
<g stroke="none"><path d="M62.2 436.6L64.1 437.0L65.7 436.9L67.3 436.7L68.9 436.1L70.5 435.2L72.1 434.1L73.7 432.6L75.5 430.6L77.0 428.6L78.4 426.2L79.6 423.8L80.7 421.0L81.5 418.6L82.0 416.2L82.4 414.2L82.7 411.0L82.7 404.9L82.1 400.1L81.6 397.7L80.8 394.9L79.8 392.1L78.7 389.7L77.5 387.3L76.2 385.3L74.5 383.2L72.9 381.5L71.3 380.0L69.3 378.6L67.7 377.8L66.1 377.2L64.5 376.9L62.5 377.0L60.9 377.3L59.3 378.0L57.7 378.9L56.1 380.1L54.5 381.6L52.9 383.5L51.6 385.3L50.4 387.3L49.2 389.7L48.3 392.1L47.3 395.3L46.6 398.1L46.2 400.5L45.9 403.7L45.8 405.7L46.0 410.2L46.2 412.2L46.7 415.0L47.2 417.0L47.9 419.4L48.8 421.8L49.9 424.2L51.2 426.6L52.5 428.6L54.1 430.7L55.7 432.4L57.3 433.9L58.9 435.0L60.5 435.9L62.1 436.6Z" fill="#ffffff"/><path d="M63.7 432.6L64.9 432.7L66.5 432.5L68.1 432.0L69.3 431.5L70.9 430.5L72.4 429.4L73.7 428.0L74.9 426.6L76.0 425.0L77.1 423.0L78.0 421.0L78.8 419.0L79.5 416.6L79.9 415.0L80.3 412.2L80.5 410.2L80.5 404.9L80.2 402.9L79.8 400.1L79.2 397.7L78.4 395.3L77.4 392.9L76.5 390.9L75.3 388.9L73.8 386.9L72.5 385.5L70.9 384.0L69.7 383.1L68.1 382.2L66.5 381.6L64.9 381.3L63.3 381.2L61.7 381.4L60.1 382.0L58.9 382.5L57.3 383.6L56.1 384.6L54.7 386.1L53.4 387.7L52.4 389.3L51.3 391.3L50.3 393.7L49.7 395.7L48.6 400.1L48.2 402.9L48.1 404.9L48.3 410.6L49.1 415.0L49.6 417.0L50.5 419.4L51.2 421.0L52.4 423.4L53.6 425.4L54.8 427.0L56.1 428.4L57.3 429.5L58.9 430.7L60.5 431.6L62.1 432.2L63.3 432.5Z" fill="#f6f6fb"/><path d="M62.3 427.8L63.7 428.1L64.9 428.1L66.1 428.0L67.3 427.7L68.5 427.2L69.7 426.6L70.9 425.6L72.1 424.5L73.1 423.4L74.2 421.8L75.1 420.2L75.9 418.6L76.6 416.6L77.1 415.0L77.8 411.0L77.8 405.7L77.6 403.3L77.2 400.9L76.8 399.3L75.9 396.9L75.3 395.3L74.5 393.7L73.6 392.1L72.5 390.7L71.3 389.3L70.1 388.2L68.9 387.3L67.7 386.6L66.4 386.1L64.9 385.8L63.7 385.7L62.1 385.9L60.9 386.3L59.7 386.8L58.5 387.6L57.3 388.6L56.2 389.7L55.3 390.9L54.2 392.5L53.4 394.1L52.7 395.7L52.0 397.7L51.5 399.7L50.8 403.7L50.8 405.3L50.8 406.9L50.9 410.2L51.1 411.4L52.0 415.4L52.6 417.0L53.4 419.0L54.3 420.6L55.3 422.2L56.2 423.4L57.3 424.6L58.5 425.7L59.7 426.6L60.9 427.3L62.1 427.7Z" fill="#eaeaf6"/><path d="M62.8 424.6L63.7 424.8L64.9 424.8L66.1 424.7L67.3 424.3L68.5 423.8L69.3 423.2L70.5 422.2L71.3 421.4L72.1 420.4L72.9 419.2L74.3 416.6L75.0 414.2L75.5 412.2L75.7 410.6L75.8 405.7L75.6 403.7L74.8 400.1L73.5 396.9L72.1 394.4L71.0 392.9L70.1 391.9L69.3 391.2L68.1 390.3L66.9 389.7L65.9 389.3L64.9 389.1L63.7 389.1L62.5 389.2L61.7 389.4L60.5 389.9L59.7 390.4L58.5 391.3L57.7 392.1L56.7 393.3L55.9 394.5L55.3 395.7L54.5 397.3L53.9 398.9L53.5 400.5L52.9 404.1L52.8 406.9L53.1 411.0L54.0 414.6L55.0 417.0L56.3 419.4L57.2 420.6L58.1 421.7L59.3 422.7L60.1 423.3L61.3 424.0L62.5 424.5Z" fill="#dadaef"/><path d="M63.0 421.8L64.1 422.0L64.9 422.0L66.5 421.7L67.7 421.2L68.5 420.7L69.3 420.1L70.1 419.4L71.6 417.4L72.6 415.4L73.6 412.2L73.9 410.2L74.0 406.5L73.9 404.5L73.6 402.9L73.1 400.9L72.3 398.9L70.9 396.5L70.1 395.4L69.3 394.5L68.5 393.7L67.3 392.9L66.5 392.5L65.4 392.1L63.7 392.0L62.5 392.2L61.7 392.4L60.1 393.3L58.5 394.8L57.2 396.5L55.8 399.3L55.2 401.3L54.6 404.5L54.7 407.8L54.9 411.0L55.6 413.4L56.5 415.7L57.7 417.8L58.5 418.8L59.3 419.7L60.9 420.9L61.7 421.3L62.9 421.8Z" fill="#c7c7e7"/><path d="M63.8 419.4L65.3 419.4L66.5 419.1L67.3 418.7L68.1 418.2L69.3 417.0L70.2 415.8L71.1 414.2L71.9 411.8L72.2 410.6L72.2 409.8L72.3 406.1L72.2 404.5L71.7 402.5L70.8 400.1L69.7 398.3L68.9 397.3L68.1 396.4L67.3 395.8L66.5 395.3L65.7 395.0L64.9 394.8L64.1 394.7L63.3 394.8L62.1 395.1L61.3 395.5L60.5 396.0L59.3 397.2L58.1 398.9L57.4 400.5L56.7 402.9L56.3 404.9L56.4 407.8L56.6 410.6L57.0 412.2L58.1 414.7L59.3 416.5L60.5 417.8L61.3 418.4L62.1 418.9L62.9 419.2L63.7 419.4Z" fill="#b0b0dd"/><path d="M64.1 417.0L65.3 416.9L66.5 416.5L67.6 415.8L68.4 415.0L69.3 413.5L70.2 411.8L70.5 410.6L70.6 409.0L70.7 405.7L70.6 404.5L70.1 402.9L69.3 400.9L68.5 399.7L67.3 398.5L66.1 397.8L64.9 397.3L63.7 397.3L62.5 397.6L61.3 398.3L60.5 398.9L59.7 399.9L59.1 400.9L58.3 403.3L57.9 404.9L58.0 406.9L58.2 410.2L58.5 411.4L58.9 412.4L60.1 414.4L60.9 415.4L62.1 416.3L62.9 416.7L63.7 416.9Z" fill="#9292d0"/><path d="M63.2 414.6L64.1 414.8L64.9 414.8L65.7 414.6L66.5 414.1L67.3 413.4L68.1 412.4L68.7 411.4L69.0 410.2L69.2 405.7L69.1 404.9L68.9 404.1L68.2 402.5L67.3 401.1L66.5 400.3L65.6 399.7L64.5 399.4L63.7 399.5L62.9 399.7L62.0 400.1L61.2 400.9L60.5 402.0L59.9 403.3L59.5 404.5L59.4 405.3L59.5 407.8L59.7 410.2L60.0 411.0L60.5 412.1L61.2 413.0L62.1 413.9L62.9 414.4Z" fill="#7272c2"/><path d="M63.4 412.6L64.5 412.7L65.3 412.6L65.7 412.4L66.5 411.8L66.9 411.4L67.3 410.7L67.5 410.2L67.8 407.3L67.8 405.7L67.7 404.9L67.3 403.9L66.7 402.9L65.8 402.1L65.1 401.7L64.5 401.6L63.7 401.6L62.9 401.9L62.5 402.2L61.8 402.9L61.3 403.6L60.8 404.9L60.8 405.7L60.9 407.8L61.3 410.4L61.6 411.0L62.1 411.7L62.7 412.2L63.3 412.5Z" fill="#5858b7"/></g>
<path d="M96.3 414.6L97.4 414.5L98.6 414.1L99.8 413.1L100.5 412.2L101.0 411.3L101.4 410.2L101.7 407.8L101.8 406.1L101.8 404.9L101.5 403.7L101.0 402.4L100.2 400.8L99.4 399.8L98.6 399.2L97.8 398.7L96.6 398.4L95.4 398.4L94.6 398.6L93.4 399.2L92.6 399.9L91.9 400.9L91.4 402.3L90.9 403.7L90.8 404.9L90.9 406.5L91.1 408.2L91.7 410.2L92.2 411.4L93.0 412.6L94.2 413.6L95.0 414.2L96.2 414.5ZM95.6 422.2L96.6 422.3L97.8 422.3L99.0 422.1L99.8 421.9L100.9 421.4L101.8 420.9L102.7 420.2L103.6 419.4L105.1 417.4L105.8 416.2L106.3 415.0L107.1 412.2L107.4 409.4L107.5 405.7L107.2 403.3L106.4 400.1L105.8 398.6L105.0 397.0L104.4 396.1L103.5 394.9L102.6 394.0L101.4 393.0L99.4 391.6L98.6 391.3L97.4 390.9L96.2 390.7L95.0 390.7L93.8 390.9L93.0 391.1L91.8 391.7L91.0 392.2L89.8 393.1L88.7 394.1L87.8 395.3L87.2 396.1L86.1 398.5L85.5 400.9L85.1 404.1L85.1 405.3L85.2 406.9L85.8 410.6L86.6 413.4L87.0 414.6L87.6 415.8L88.4 417.0L89.4 418.2L91.0 419.9L91.9 420.6L93.0 421.2L94.2 421.8L95.4 422.1ZM94.7 429.8L96.2 430.1L97.8 430.1L99.4 430.0L101.0 429.6L102.6 428.9L104.2 428.0L105.5 427.0L107.0 425.6L108.2 424.1L109.3 422.6L110.4 420.6L111.1 419.0L111.9 416.6L112.3 415.0L112.7 412.6L112.9 410.6L112.9 405.3L112.7 403.7L112.3 400.9L111.8 398.9L111.0 396.5L110.3 394.9L109.4 393.3L108.2 391.2L106.9 389.3L105.4 387.5L103.9 386.1L102.2 384.8L100.6 383.8L99.0 383.1L97.4 382.7L95.8 382.5L94.2 382.5L92.6 382.7L91.4 383.1L90.0 383.7L88.6 384.6L87.0 385.9L85.8 387.1L84.6 388.6L83.3 390.5L82.3 392.5L81.1 395.3L80.6 396.9L80.1 399.3L79.7 402.9L79.7 404.9L79.8 406.9L80.1 410.2L80.5 412.2L81.1 414.6L81.5 415.8L82.3 417.8L83.3 419.8L84.5 421.8L85.6 423.4L87.0 424.9L88.3 426.2L89.8 427.4L91.4 428.4L93.0 429.2L94.6 429.8ZM95.9 440.6L97.4 440.9L99.0 440.9L100.6 440.5L102.6 439.4L104.6 438.0L106.6 436.4L109.8 433.3L111.7 431.0L113.4 428.6L114.7 426.2L115.8 423.8L116.8 421.0L117.5 418.6L118.1 415.8L118.5 413.0L118.6 410.2L118.6 406.9L118.5 404.5L118.0 400.9L117.5 398.5L116.8 395.7L115.6 392.5L114.4 389.7L112.9 386.9L111.5 384.5L110.0 382.5L107.8 379.9L105.8 377.8L103.0 375.4L101.0 374.0L99.0 372.9L97.0 372.1L95.0 371.8L93.4 371.9L91.4 372.4L89.4 373.4L87.4 374.8L85.0 376.9L83.0 379.0L80.8 381.7L79.5 383.7L78.0 386.5L76.9 388.9L76.0 391.7L75.0 394.9L74.6 396.9L74.2 400.1L74.0 403.7L74.1 406.1L74.4 410.2L74.8 412.6L75.4 415.4L76.4 418.6L77.1 420.6L78.4 423.4L79.7 425.8L81.2 428.2L82.6 430.0L84.2 431.9L85.8 433.5L89.0 436.3L91.4 438.1L93.8 439.6L95.8 440.6Z" fill="none" stroke="#ff5a3c" stroke-width="1.4" stroke-linejoin="round"/>
<path d="M63.1 413.8L63.7 414.0L64.5 414.1L65.3 414.0L66.1 413.6L66.9 413.0L67.7 412.0L68.3 411.0L68.5 410.2L68.7 407.8L68.7 405.7L68.7 404.9L68.5 404.1L67.7 402.7L66.9 401.5L66.1 400.8L65.3 400.3L64.5 400.1L63.7 400.1L62.9 400.4L62.1 400.9L61.3 401.8L60.6 402.9L60.1 404.0L59.9 404.9L60.0 407.8L60.3 410.6L60.7 411.4L61.3 412.3L62.1 413.1L62.9 413.7ZM62.6 420.6L63.7 420.8L64.5 420.9L66.1 420.7L67.7 420.1L69.2 419.0L70.6 417.4L71.8 415.4L72.8 412.6L73.2 410.6L73.3 406.9L73.2 404.5L72.6 402.1L71.8 399.7L70.5 397.4L69.7 396.3L68.9 395.4L67.3 394.1L66.5 393.7L65.5 393.3L64.5 393.2L63.7 393.1L62.1 393.5L60.5 394.3L59.7 394.9L58.9 395.7L57.7 397.4L56.5 399.7L55.8 402.1L55.4 404.5L55.4 406.9L55.6 410.6L56.1 412.6L57.0 415.0L58.1 416.9L59.5 418.6L60.9 419.8L62.5 420.5ZM63.7 427.8L64.9 427.8L66.1 427.7L67.3 427.4L68.5 426.9L69.7 426.2L70.9 425.4L71.7 424.5L72.8 423.4L73.7 422.1L74.7 420.6L75.5 419.0L76.1 417.4L76.6 415.8L77.0 414.2L77.5 411.8L77.6 410.2L77.6 404.9L77.0 401.3L76.7 399.7L76.0 397.7L75.2 395.7L74.5 394.1L73.6 392.5L72.5 391.1L71.3 389.6L70.1 388.5L68.9 387.6L67.7 386.9L66.5 386.5L65.0 386.1L63.7 386.0L62.5 386.2L61.3 386.5L60.1 386.9L58.9 387.6L57.7 388.5L56.5 389.7L55.6 390.9L54.7 392.1L53.7 394.0L52.9 395.7L52.4 397.3L51.5 400.5L51.1 403.3L50.9 404.9L51.1 410.2L51.4 412.2L52.0 414.6L52.5 416.2L53.3 418.2L54.1 419.8L55.0 421.4L56.1 422.9L56.9 423.8L58.1 425.0L59.3 426.0L60.5 426.7L61.7 427.3L63.3 427.7ZM63.8 435.8L65.3 435.8L66.9 435.6L68.5 435.1L70.1 434.3L71.7 433.2L73.3 431.8L74.9 430.1L76.1 428.6L77.3 426.7L78.5 424.6L79.6 422.2L80.5 419.8L81.1 417.4L81.6 415.4L82.1 412.2L82.2 410.2L82.1 404.5L81.4 399.7L80.6 396.5L79.9 394.1L78.8 391.3L77.6 388.9L76.4 386.9L74.9 384.9L73.3 383.0L71.7 381.5L70.1 380.2L68.1 379.1L66.5 378.4L64.9 378.1L63.3 378.0L61.7 378.2L60.1 378.7L58.5 379.5L56.9 380.6L55.3 382.0L53.7 383.7L52.2 385.7L51.0 387.7L49.9 389.7L48.9 392.1L48.0 394.9L47.5 396.9L46.8 400.1L46.4 404.9L46.6 411.0L47.5 415.8L48.3 418.6L48.8 420.2L50.0 423.0L51.0 425.0L52.2 427.0L53.7 429.0L55.3 430.8L56.9 432.4L58.5 433.6L60.5 434.8L62.1 435.4L63.7 435.8Z" fill="none" stroke="#4f4fb3" stroke-width="1.4" stroke-linejoin="round"/></g>
<g clip-path="url(#c41)"><g stroke="none"><path d="M156.3 435.4L158.2 435.7L159.8 435.7L161.4 435.4L163.0 434.8L165.0 433.8L166.6 432.7L168.2 431.3L169.8 429.5L171.3 427.4L172.5 425.4L173.6 423.0L174.5 420.6L175.1 418.6L175.8 415.8L176.1 413.4L176.3 410.6L176.3 406.9L176.1 404.5L175.7 400.9L175.3 398.9L174.7 396.5L174.0 394.5L172.4 390.9L171.2 388.5L169.8 386.2L168.3 384.1L167.0 382.6L165.4 381.0L163.4 379.3L161.8 378.3L160.2 377.5L158.2 376.8L156.2 376.5L154.6 376.6L153.0 377.0L151.4 377.6L149.8 378.5L148.2 379.8L146.6 381.3L144.9 383.3L143.5 385.3L142.4 387.3L141.3 389.7L140.3 392.5L139.6 394.9L139.2 396.9L138.7 400.1L138.6 402.9L138.6 405.3L138.8 409.0L139.2 411.8L139.7 414.6L140.3 416.6L141.3 419.4L142.1 421.4L143.1 423.4L144.3 425.4L145.9 427.8L147.6 429.8L149.4 431.6L151.0 432.8L152.6 433.8L154.6 434.8L156.2 435.4Z" fill="#fff7f5"/><path d="M156.1 430.2L157.4 430.4L159.0 430.5L160.6 430.3L162.2 429.8L163.8 429.0L165.0 428.2L166.2 427.2L167.4 426.0L168.6 424.5L169.6 423.0L170.7 421.0L171.4 419.4L172.0 417.4L172.6 415.4L172.9 413.0L173.1 410.6L173.1 405.3L172.9 403.3L172.5 400.5L172.0 398.5L171.3 396.5L170.7 394.9L169.7 392.9L168.6 390.9L167.3 388.9L166.0 387.3L164.6 385.9L163.4 384.9L161.8 383.7L160.2 382.9L158.6 382.4L157.0 382.1L155.4 382.1L153.8 382.4L152.6 382.8L151.0 383.6L149.8 384.4L148.6 385.4L147.4 386.7L146.2 388.3L145.2 390.1L144.2 392.1L143.2 394.5L142.6 396.5L142.1 398.5L141.9 400.1L141.7 402.1L141.6 404.5L141.7 406.1L142.0 409.8L142.3 411.8L142.9 414.2L143.3 415.8L144.1 417.8L145.0 419.8L146.1 421.8L147.2 423.4L148.4 425.0L149.8 426.4L151.0 427.5L152.6 428.7L154.2 429.5L155.8 430.1Z" fill="#ffebe8"/><path d="M156.8 426.6L158.2 426.7L159.4 426.7L160.6 426.4L161.8 426.0L163.0 425.4L164.2 424.6L165.3 423.8L166.2 422.7L167.2 421.4L168.2 419.8L168.8 418.6L169.6 416.6L170.1 415.0L170.4 413.4L170.7 411.4L170.8 409.8L170.7 405.3L170.6 403.7L170.2 401.3L169.8 399.7L169.3 398.1L168.7 396.5L168.1 395.3L167.0 393.6L165.8 391.7L164.6 390.3L163.4 389.1L162.2 388.1L160.6 387.1L159.4 386.5L158.0 386.1L156.6 386.0L155.4 386.0L154.2 386.3L153.0 386.7L151.8 387.3L150.6 388.2L149.4 389.3L148.6 390.3L147.6 391.7L146.6 393.4L145.8 395.0L145.2 396.5L144.7 398.5L144.3 400.1L144.0 404.1L144.0 405.7L144.2 407.8L144.5 410.2L144.9 412.2L145.8 415.4L146.5 417.0L147.5 419.0L148.5 420.6L149.4 421.7L150.6 423.1L151.8 424.2L153.0 425.0L154.2 425.7L155.4 426.2L156.6 426.5Z" fill="#ffdcd6"/><path d="M156.6 423.4L157.4 423.5L158.6 423.6L159.8 423.4L160.6 423.2L161.8 422.7L162.6 422.2L163.7 421.4L164.6 420.5L165.4 419.5L166.1 418.6L166.9 417.0L167.5 415.8L167.9 414.6L168.2 413.0L168.6 410.2L168.7 406.1L168.5 403.7L167.7 400.1L167.1 398.5L166.4 396.9L165.8 395.7L164.9 394.5L163.8 393.2L162.6 392.0L161.8 391.3L160.6 390.5L159.8 390.1L158.6 389.6L157.4 389.4L156.2 389.4L155.0 389.5L154.2 389.8L153.0 390.3L152.2 390.8L151.4 391.4L150.3 392.5L148.6 394.7L148.0 395.7L147.5 396.9L147.0 398.5L146.6 400.1L146.2 403.3L146.2 406.1L146.7 410.6L147.5 413.8L148.0 415.0L148.5 416.2L150.2 418.9L151.8 420.7L152.6 421.4L153.8 422.2L155.0 422.9L156.2 423.3Z" fill="#ffcac1"/><path d="M157.5 420.6L158.6 420.6L159.4 420.5L160.4 420.2L161.4 419.7L162.2 419.1L163.0 418.4L164.5 416.6L165.0 415.7L165.6 414.6L166.2 412.2L166.6 410.2L166.7 406.5L166.5 404.1L165.8 400.9L165.0 398.9L163.8 396.8L162.6 395.3L161.0 394.0L159.4 393.1L158.2 392.7L157.4 392.5L156.2 392.5L155.4 392.6L153.8 393.2L152.2 394.2L151.4 395.0L150.6 395.9L149.6 397.7L148.7 400.1L148.2 402.9L148.1 404.9L148.3 407.8L148.9 411.0L149.6 413.4L150.6 415.5L151.3 416.6L152.2 417.6L153.8 419.1L155.4 420.0L156.2 420.3L157.4 420.6Z" fill="#ffb5a7"/><path d="M157.3 417.8L158.6 417.8L159.4 417.6L160.2 417.3L161.0 416.9L161.8 416.2L162.9 415.0L163.7 413.4L164.4 411.4L164.6 409.8L164.8 406.9L164.7 404.9L164.4 403.3L163.7 400.9L163.0 399.3L161.8 397.7L160.6 396.5L159.4 395.7L157.8 395.2L156.2 395.2L155.0 395.4L153.7 396.1L153.0 396.7L152.4 397.3L151.4 398.8L150.7 400.5L150.2 402.9L150.0 404.9L150.2 407.3L150.7 410.6L151.3 412.2L152.2 414.1L153.1 415.4L154.2 416.4L155.4 417.2L157.0 417.7Z" fill="#ff9986"/><path d="M157.4 415.4L158.6 415.3L159.6 415.0L160.6 414.2L161.4 413.3L162.2 411.8L162.7 410.6L163.0 408.6L163.1 406.5L163.0 404.9L162.8 403.7L162.2 402.1L161.5 400.5L160.6 399.3L159.8 398.6L159.0 398.1L157.8 397.6L156.6 397.6L155.4 397.9L154.3 398.5L153.5 399.3L153.0 400.1L152.4 401.3L151.9 403.3L151.7 404.9L151.8 406.5L152.1 408.6L152.6 410.6L153.1 411.8L153.9 413.0L155.0 414.3L155.8 414.8L157.0 415.3Z" fill="#ff7b63"/><path d="M156.6 412.6L157.4 412.8L158.2 412.8L159.0 412.5L159.8 411.9L160.3 411.4L160.7 410.6L161.0 409.4L161.4 407.8L161.5 406.5L161.5 405.3L161.0 403.7L160.5 402.5L159.8 401.3L159.0 400.6L158.3 400.1L157.4 399.9L156.6 399.9L155.8 400.2L155.3 400.5L154.6 401.3L154.2 402.1L153.7 403.3L153.4 404.5L153.3 405.3L153.4 406.7L153.7 408.2L154.2 409.7L154.6 410.6L155.0 411.2L155.5 411.8L156.2 412.4Z" fill="#ff6246"/></g>
<g stroke="none"><path d="M209.3 436.6L209.5 436.9L209.9 437.0L210.3 436.7L210.7 435.9L211.4 433.4L212.1 430.2L212.6 426.6L213.0 421.8L213.4 416.6L213.5 410.6L213.6 404.9L213.4 399.7L213.2 395.3L212.9 390.1L212.4 386.1L211.7 381.7L211.1 379.1L210.7 377.9L210.3 377.2L209.9 376.9L209.5 377.0L209.1 377.5L208.7 378.5L208.3 379.9L207.6 383.3L206.9 388.1L206.5 392.5L206.2 398.9L206.1 403.3L206.0 410.2L206.2 414.6L206.4 419.8L206.8 424.2L207.2 428.2L207.8 431.8L208.5 434.6L209.1 436.3Z" fill="#ffffff"/><path d="M209.6 432.6L209.9 432.7L210.3 432.3L210.7 431.6L211.3 429.4L211.9 426.2L212.5 421.8L212.8 417.8L213.1 409.8L213.1 404.5L213.0 399.3L212.6 393.7L212.2 389.7L211.7 386.1L211.1 383.5L210.6 382.1L210.3 381.5L209.9 381.2L209.5 381.3L209.2 381.7L208.7 382.8L208.2 384.9L207.7 387.7L207.3 390.9L206.9 395.3L206.6 400.5L206.5 404.9L206.5 410.6L206.6 414.6L206.9 419.0L207.3 423.4L207.8 427.0L208.3 429.6L208.8 431.4L209.1 432.0L209.5 432.5Z" fill="#f6f6fb"/><path d="M209.3 427.8L209.5 428.0L209.9 428.1L210.3 427.8L210.8 426.6L211.4 424.2L211.8 421.8L212.1 418.6L212.5 411.0L212.5 403.3L212.4 399.7L212.1 395.3L211.7 391.7L211.3 389.3L210.7 386.9L210.3 386.1L209.9 385.7L209.5 385.9L209.1 386.5L208.7 387.6L208.2 389.7L207.8 392.5L207.4 396.1L207.2 399.7L207.1 403.7L207.1 411.0L207.4 417.8L207.7 421.0L208.1 423.8L208.7 426.3L209.1 427.4Z" fill="#eaeaf6"/><path d="M209.4 424.6L209.5 424.7L209.9 424.8L210.3 424.4L210.7 423.4L211.1 421.8L211.5 419.4L211.8 417.0L212.1 410.6L212.1 403.7L212.0 400.1L211.7 396.5L211.1 392.1L210.7 390.5L210.3 389.5L210.1 389.3L209.9 389.1L209.5 389.2L209.1 389.9L208.7 391.3L208.4 392.5L208.1 394.9L207.8 398.1L207.5 404.1L207.5 411.0L207.8 416.2L208.4 421.0L208.7 422.7L209.2 424.2Z" fill="#dadaef"/><path d="M209.5 421.8L209.9 422.0L210.3 421.5L210.7 420.4L210.9 419.4L211.5 415.4L211.7 410.2L211.8 404.5L211.5 398.9L211.1 395.8L210.8 394.1L210.3 392.5L210.0 392.1L209.9 392.0L209.5 392.1L209.1 393.0L208.7 394.6L208.1 399.3L207.8 404.5L207.9 410.6L208.1 415.0L208.7 419.4L209.1 421.0L209.3 421.4Z" fill="#c7c7e7"/><path d="M209.8 419.4L209.9 419.4L210.3 418.9L210.7 417.4L211.0 415.4L211.3 411.4L211.4 406.9L211.4 403.7L211.1 399.3L210.6 396.5L210.3 395.3L209.9 394.7L209.5 394.9L209.1 395.9L208.7 398.0L208.4 400.9L208.2 404.9L208.2 410.6L208.5 414.6L208.7 416.2L209.0 417.8L209.5 419.2Z" fill="#b0b0dd"/><path d="M209.9 417.0L210.3 416.3L210.7 414.4L211.0 411.0L211.1 406.5L211.0 403.7L210.7 400.1L210.3 398.0L209.9 397.3L209.9 397.3L209.5 397.5L209.1 398.8L208.7 401.8L208.5 404.9L208.5 410.2L208.7 412.2L209.1 415.5L209.5 416.7Z" fill="#9292d0"/><path d="M209.6 414.6L209.9 414.8L210.3 413.8L210.6 411.8L210.7 410.2L210.8 405.7L210.7 403.7L210.3 400.5L210.0 399.7L209.9 399.4L209.5 399.7L209.3 400.5L209.1 401.6L208.8 404.9L208.9 411.0L209.1 412.7L209.5 414.5Z" fill="#7272c2"/><path d="M209.7 412.6L209.9 412.7L210.3 411.5L210.5 408.2L210.4 404.1L210.3 402.9L209.9 401.6L209.5 402.0L209.1 404.9L209.2 410.2L209.5 412.4Z" fill="#5858b7"/></g>
<path d="M157.5 414.6L158.6 414.5L159.4 414.2L160.4 413.4L161.4 412.2L161.8 411.2L162.1 410.2L162.5 407.8L162.6 405.7L162.4 404.5L162.1 403.3L161.3 401.3L160.6 400.3L159.8 399.5L159.0 398.9L158.2 398.5L157.0 398.3L155.8 398.5L155.0 398.9L154.2 399.6L153.7 400.1L153.3 400.9L152.6 402.7L152.3 404.1L152.2 405.3L152.4 406.9L152.8 409.0L153.2 410.6L153.8 411.8L154.6 412.9L155.4 413.6L156.2 414.2L157.4 414.6ZM156.8 422.2L158.6 422.3L159.8 422.1L160.6 421.9L161.8 421.4L162.6 420.8L163.4 420.2L164.2 419.3L165.0 418.3L165.8 417.0L166.8 415.0L167.6 411.8L167.8 409.0L167.8 405.3L167.5 402.9L167.0 400.9L166.7 399.7L165.4 396.9L164.7 395.7L164.1 394.9L162.2 393.1L161.0 392.1L160.2 391.7L159.4 391.3L158.2 390.9L157.0 390.7L156.2 390.7L155.0 390.9L154.2 391.1L153.0 391.7L152.2 392.3L151.0 393.3L150.2 394.2L148.9 396.1L147.9 398.5L147.3 400.9L147.0 404.1L147.1 406.9L147.6 410.6L148.3 413.4L148.8 414.6L149.3 415.8L150.1 417.0L151.0 418.3L152.6 420.0L153.4 420.6L154.6 421.4L155.8 421.9L156.6 422.1ZM155.9 429.8L157.4 430.1L159.0 430.1L160.6 429.9L161.8 429.6L163.4 428.9L164.6 428.1L165.8 427.2L167.3 425.8L168.3 424.6L169.3 423.0L170.4 421.0L171.1 419.4L171.8 417.4L172.3 415.4L172.7 413.0L172.9 411.0L173.0 407.8L172.9 405.3L172.4 401.3L171.9 399.3L171.2 396.9L170.0 394.1L168.8 391.7L167.5 389.7L166.2 388.0L165.0 386.7L163.4 385.2L161.8 384.1L160.2 383.3L158.6 382.7L157.0 382.5L155.4 382.5L153.8 382.7L152.6 383.1L151.4 383.7L150.2 384.5L149.0 385.5L147.6 386.9L146.4 388.5L145.4 390.2L144.5 392.1L143.3 394.9L142.8 396.5L142.4 398.5L142.1 400.1L141.9 402.1L141.9 404.5L141.9 406.1L142.3 409.8L142.6 411.8L143.1 414.2L143.6 415.8L144.3 417.8L145.3 419.8L146.2 421.5L147.5 423.4L148.6 424.8L149.9 426.2L151.4 427.5L152.6 428.3L154.2 429.2L155.8 429.7ZM157.1 440.6L158.6 440.9L160.2 440.9L161.4 440.5L163.0 439.6L165.0 438.2L167.0 436.4L170.2 433.1L171.9 431.1L173.2 429.0L174.5 426.6L175.7 423.8L176.5 421.4L177.2 419.0L177.8 415.8L178.1 413.0L178.3 410.2L178.2 406.5L178.1 404.1L177.6 400.5L177.1 398.1L176.5 395.7L175.2 392.1L174.1 389.3L172.9 386.9L171.2 384.1L169.8 382.1L167.6 379.3L165.8 377.5L163.4 375.3L161.4 373.8L159.4 372.7L157.8 372.1L157.0 371.9L155.8 371.8L154.2 371.9L152.6 372.4L150.6 373.5L148.6 375.1L146.6 377.0L144.6 379.3L142.9 381.7L141.6 383.7L140.2 386.5L139.2 388.9L138.3 391.7L137.5 394.9L137.1 396.9L136.7 400.1L136.6 403.7L136.7 406.5L137.0 410.2L137.3 412.6L137.9 415.4L138.8 418.6L139.5 420.6L140.7 423.4L142.0 425.8L143.4 428.2L144.8 430.2L146.2 432.0L147.8 433.7L150.6 436.3L152.6 437.9L155.0 439.6L157.0 440.6Z" fill="none" stroke="#ff5a3c" stroke-width="1.4" stroke-linejoin="round"/>
<path d="M209.5 413.8L209.9 414.1L210.3 413.1L210.5 411.4L210.7 409.8L210.7 404.1L210.3 401.2L209.9 400.1L209.5 400.4L209.4 400.9L209.1 402.6L208.9 404.9L209.0 411.0L209.1 411.9L209.5 413.7ZM209.4 420.6L209.5 420.7L209.9 420.9L210.3 420.4L210.7 419.2L211.2 415.8L211.6 411.0L211.6 404.9L211.4 400.5L210.9 396.1L210.7 394.9L210.3 393.7L209.9 393.1L209.5 393.3L209.1 394.2L208.9 394.9L208.7 396.1L208.3 399.2L208.0 403.7L208.0 410.2L208.2 414.2L208.7 418.2L209.2 420.2ZM209.7 427.8L209.9 427.8L210.3 427.5L210.7 426.6L211.1 425.0L211.6 422.2L212.0 419.4L212.2 416.2L212.5 411.8L212.5 408.2L212.5 404.1L212.4 400.1L212.1 396.1L211.7 392.5L211.3 389.7L210.8 387.7L210.3 386.4L209.9 386.0L209.5 386.2L209.1 386.8L208.9 387.3L208.5 388.9L208.0 391.3L207.6 394.5L207.3 398.1L207.1 404.9L207.2 412.6L207.3 416.2L207.7 419.8L208.1 423.0L208.5 425.0L209.1 427.1L209.5 427.7ZM209.6 435.8L209.9 435.9L210.3 435.5L210.9 434.2L211.5 431.8L212.2 428.2L212.6 425.0L213.0 420.2L213.3 415.0L213.4 409.4L213.4 404.1L213.3 398.9L212.9 392.9L212.5 388.1L211.9 384.1L211.3 380.9L210.7 379.1L210.3 378.3L209.9 378.0L209.5 378.1L209.1 378.7L208.7 379.7L208.0 382.5L207.3 386.5L206.9 390.5L206.5 395.3L206.1 404.9L206.2 411.0L206.3 416.2L206.6 419.8L207.0 424.6L207.4 428.2L208.1 432.2L208.7 434.2L209.1 435.2L209.5 435.7Z" fill="none" stroke="#4f4fb3" stroke-width="1.4" stroke-linejoin="round"/></g>
<g clip-path="url(#c42)"><g stroke="none"><path d="M244.5 435.4L246.3 435.7L247.9 435.7L249.5 435.4L251.5 434.7L253.5 433.7L255.1 432.6L256.7 431.2L258.3 429.5L259.7 427.8L261.2 425.4L262.3 423.4L263.5 420.6L264.2 418.6L265.0 415.4L265.5 413.0L265.7 410.6L265.9 406.9L265.9 404.5L265.6 400.9L265.3 398.9L264.8 396.5L264.2 394.5L263.0 391.3L261.8 388.5L260.5 386.1L259.1 384.1L257.5 382.2L255.9 380.6L254.3 379.2L252.7 378.2L250.7 377.2L249.1 376.7L247.5 376.5L245.9 376.6L243.9 377.0L242.3 377.7L240.7 378.6L239.1 379.8L237.1 381.7L235.7 383.3L234.3 385.2L233.0 387.3L231.8 389.7L230.9 392.1L229.9 394.9L229.3 396.9L228.7 400.1L228.4 402.9L228.3 405.3L228.4 409.0L228.5 411.4L229.0 414.6L229.4 416.6L230.3 419.4L231.0 421.4L232.1 423.8L233.2 425.8L234.8 428.2L236.3 430.0L237.9 431.7L239.5 432.9L241.1 434.0L242.7 434.8L244.3 435.3Z" fill="#fff7f5"/><path d="M244.6 430.2L245.9 430.4L247.5 430.5L248.7 430.4L250.3 430.0L251.9 429.3L253.1 428.6L254.7 427.4L256.0 426.2L257.1 424.8L258.3 423.2L259.4 421.4L260.4 419.4L261.3 417.0L261.8 415.4L262.2 413.4L262.6 411.0L262.8 407.8L262.8 405.3L262.5 400.9L262.1 398.9L261.6 396.9L261.1 395.3L260.4 393.7L259.2 391.3L258.1 389.3L257.0 387.7L255.6 386.1L254.3 385.0L252.7 383.8L251.1 382.9L249.5 382.4L247.9 382.1L246.3 382.1L244.7 382.4L243.5 382.8L241.9 383.5L240.7 384.3L239.5 385.3L238.3 386.5L236.9 388.1L235.6 390.1L234.6 392.1L233.5 394.5L232.8 396.1L232.2 398.5L231.8 400.5L231.6 402.1L231.4 404.5L231.4 406.1L231.5 409.8L231.7 411.8L232.1 414.2L232.5 415.8L233.2 417.8L234.0 419.8L235.0 421.8L236.0 423.4L237.2 425.0L238.6 426.6L239.9 427.7L241.5 428.9L242.7 429.5L244.3 430.1Z" fill="#ffebe8"/><path d="M245.5 426.6L246.7 426.7L247.9 426.7L249.5 426.4L250.7 425.9L251.9 425.3L253.1 424.5L254.3 423.5L255.1 422.6L256.3 421.1L257.2 419.8L257.9 418.4L258.8 416.6L259.3 415.0L259.7 413.4L260.1 411.4L260.2 409.8L260.5 405.3L260.1 401.3L259.8 399.7L259.4 398.1L258.8 396.5L258.3 395.3L257.5 393.7L256.2 391.7L255.1 390.3L253.9 389.0L252.7 388.0L251.5 387.2L250.3 386.6L248.7 386.1L247.5 386.0L245.9 386.1L244.7 386.3L243.5 386.8L242.3 387.4L241.1 388.3L240.0 389.3L239.1 390.2L238.0 391.7L237.0 393.3L236.1 394.9L235.4 396.5L234.7 398.5L234.3 400.1L233.8 403.7L233.7 405.3L233.8 407.3L234.0 410.2L234.2 411.8L235.0 415.4L236.3 418.6L237.1 420.0L238.0 421.4L239.1 422.7L240.3 423.9L241.5 424.9L242.7 425.6L243.9 426.1L245.1 426.5Z" fill="#ffdcd6"/><path d="M245.4 423.4L246.3 423.5L247.5 423.6L248.7 423.4L249.5 423.2L250.3 422.8L251.5 422.2L252.7 421.4L253.5 420.5L254.3 419.6L255.1 418.5L255.9 417.2L256.7 415.8L257.1 414.6L257.6 413.0L258.1 410.2L258.4 406.1L258.3 403.7L257.7 400.1L257.2 398.5L256.6 396.9L256.0 395.7L255.2 394.5L254.3 393.4L253.1 392.1L252.2 391.3L251.1 390.5L250.3 390.1L249.1 389.6L247.9 389.4L246.7 389.4L245.5 389.5L244.7 389.8L243.5 390.3L242.7 390.8L241.5 391.7L240.7 392.5L239.5 393.9L238.7 394.9L237.6 396.9L237.0 398.5L236.5 400.1L236.0 403.3L235.8 406.1L236.2 410.6L236.8 413.8L237.2 415.0L237.7 416.2L239.1 418.6L239.9 419.7L240.7 420.6L241.5 421.4L242.7 422.2L243.9 422.9L245.1 423.3Z" fill="#ffcac1"/><path d="M246.5 420.6L247.5 420.6L248.3 420.5L249.4 420.2L250.3 419.7L251.1 419.2L251.9 418.6L252.7 417.8L253.7 416.6L254.3 415.5L254.8 414.6L255.6 412.2L256.0 410.2L256.4 406.5L256.3 404.1L255.7 400.9L255.1 398.9L253.9 396.7L252.7 395.2L251.1 393.8L249.5 393.0L247.8 392.5L246.7 392.5L245.9 392.6L244.3 393.1L242.6 394.1L241.7 394.9L241.0 395.7L239.9 397.3L238.8 399.7L238.2 402.1L237.8 404.9L237.9 407.8L238.3 411.0L238.9 413.4L239.8 415.4L240.3 416.3L241.1 417.4L242.7 419.0L244.3 420.0L245.1 420.3L246.3 420.6Z" fill="#ffb5a7"/><path d="M246.3 417.8L247.1 417.8L247.9 417.7L249.2 417.4L250.7 416.5L251.9 415.3L252.4 414.6L253.0 413.4L253.8 411.4L254.1 409.8L254.5 406.9L254.5 404.9L254.3 403.3L253.7 400.9L253.0 399.3L251.9 397.7L250.7 396.4L249.5 395.7L248.7 395.4L247.9 395.2L246.3 395.2L245.5 395.3L244.7 395.6L243.5 396.4L242.3 397.6L241.4 398.9L240.6 400.5L240.0 402.9L239.7 404.9L239.8 407.3L240.2 410.6L240.7 412.3L241.5 414.1L242.3 415.4L243.5 416.5L244.7 417.3L245.5 417.6L246.3 417.8Z" fill="#ff9986"/><path d="M246.6 415.4L247.9 415.3L249.1 414.8L250.0 414.2L251.0 413.0L251.7 411.8L252.1 410.6L252.5 408.6L252.8 406.5L252.8 404.9L252.6 403.7L252.1 402.1L251.5 400.5L250.7 399.4L249.9 398.6L249.1 398.1L247.9 397.6L246.7 397.6L245.5 397.9L244.4 398.5L243.5 399.4L242.7 400.5L242.3 401.4L241.7 403.3L241.4 404.9L241.4 406.5L241.7 408.6L242.1 410.6L242.5 411.8L243.2 413.0L244.3 414.3L245.3 415.0L246.3 415.3Z" fill="#ff7b63"/><path d="M246.0 412.6L246.7 412.8L247.5 412.8L248.3 412.5L249.1 411.9L249.9 411.0L250.3 410.2L251.0 407.8L251.1 406.5L251.2 405.3L251.1 404.5L250.7 403.4L250.3 402.5L249.5 401.1L248.9 400.5L248.3 400.1L247.5 399.9L246.7 399.9L245.9 400.1L245.1 400.6L244.5 401.3L243.9 402.3L243.5 403.3L243.1 404.5L243.0 405.7L243.1 406.9L243.4 408.6L243.9 410.2L244.3 411.0L244.7 411.6L245.3 412.2L245.9 412.5Z" fill="#ff6246"/></g>
<g stroke="none"><path d="M289.1 436.6L290.0 436.9L290.8 437.0L291.6 436.8L292.8 436.1L293.9 435.0L294.8 433.8L295.6 432.4L296.5 430.6L297.3 428.6L298.1 426.2L299.3 421.4L300.2 416.2L300.6 411.0L300.7 404.9L300.4 399.7L299.7 394.5L298.6 389.3L297.3 385.3L296.5 383.3L295.6 381.5L294.5 379.7L293.6 378.5L292.8 377.8L292.0 377.2L291.2 377.0L290.0 377.0L289.2 377.3L288.4 377.8L287.3 378.9L286.4 380.2L285.6 381.5L284.7 383.3L283.3 386.9L282.6 389.3L282.1 391.7L281.5 394.9L281.1 397.7L280.6 403.3L280.5 410.2L280.9 415.0L281.5 419.4L282.5 424.2L283.7 428.2L284.6 430.2L285.5 432.2L286.4 433.7L287.2 434.8L288.0 435.7L288.8 436.4Z" fill="#ffffff"/><path d="M290.0 432.6L290.8 432.7L291.6 432.5L292.4 432.1L293.2 431.4L294.0 430.5L294.8 429.3L295.6 427.9L296.2 426.6L297.3 423.4L298.3 419.4L299.0 415.0L299.4 410.2L299.4 404.9L299.1 400.1L298.5 395.7L297.4 390.9L296.2 387.3L294.8 384.5L294.0 383.3L293.2 382.4L292.4 381.8L291.4 381.3L290.4 381.2L289.6 381.4L288.8 381.8L288.0 382.5L287.2 383.4L286.4 384.6L285.0 387.3L283.8 390.9L282.9 394.9L282.1 399.7L281.8 404.5L281.8 410.6L282.1 414.6L282.9 419.4L283.8 423.0L285.0 426.6L285.8 428.2L286.4 429.3L287.2 430.4L288.0 431.4L288.8 432.0L289.6 432.5Z" fill="#f6f6fb"/><path d="M289.3 427.8L290.0 428.1L290.8 428.1L291.6 428.0L292.0 427.8L292.8 427.2L293.6 426.3L294.8 424.3L295.8 421.8L296.7 419.0L297.4 415.4L297.9 411.0L298.0 405.7L297.9 403.3L297.5 399.3L296.7 395.3L295.8 392.1L294.6 389.3L294.0 388.2L293.4 387.3L292.8 386.7L292.0 386.1L291.2 385.8L290.4 385.7L289.6 385.9L289.2 386.1L288.4 386.7L287.6 387.6L286.4 389.7L285.2 392.5L284.3 396.1L283.7 399.7L283.3 403.7L283.2 406.9L283.3 411.4L283.8 415.4L284.5 419.0L285.4 421.8L286.6 424.6L287.2 425.6L288.0 426.7L289.2 427.7Z" fill="#eaeaf6"/><path d="M289.6 424.6L290.0 424.7L290.8 424.8L291.2 424.7L292.0 424.4L292.7 423.8L293.2 423.2L294.3 421.4L295.2 419.2L295.9 416.6L296.4 413.8L296.8 410.6L296.9 405.7L296.8 403.7L296.4 400.1L295.8 396.9L294.9 394.1L294.0 392.0L293.3 390.9L292.8 390.2L292.4 389.8L291.6 389.3L291.2 389.1L290.4 389.1L290.0 389.2L289.2 389.5L288.5 390.1L288.0 390.8L287.1 392.1L286.1 394.5L285.4 397.3L284.7 400.5L284.4 404.1L284.3 406.9L284.4 411.0L284.9 414.6L285.3 416.6L286.1 419.4L286.9 421.4L288.0 423.2L288.5 423.8L289.2 424.3Z" fill="#dadaef"/><path d="M289.7 421.8L290.4 422.0L290.8 422.0L291.6 421.7L292.4 421.1L292.8 420.7L293.6 419.5L294.4 417.6L295.0 415.4L295.6 412.2L295.8 410.2L295.9 404.5L295.5 400.9L295.1 398.9L294.4 396.5L293.5 394.5L293.0 393.7L292.4 392.9L292.0 392.5L291.4 392.1L290.8 392.0L290.4 392.0L289.6 392.3L289.2 392.5L288.4 393.3L287.6 394.7L286.8 396.7L286.0 399.3L285.7 401.3L285.3 404.5L285.4 410.6L285.6 412.6L286.2 415.4L286.8 417.5L287.6 419.4L288.4 420.6L288.8 421.1L289.6 421.7Z" fill="#c7c7e7"/><path d="M290.2 419.4L290.8 419.4L291.6 419.1L292.4 418.4L293.2 417.1L293.7 415.8L294.1 414.6L294.6 412.2L294.9 410.2L294.9 404.5L294.7 402.5L294.2 400.1L293.6 398.1L292.8 396.4L292.0 395.3L291.2 394.8L290.4 394.7L289.6 395.0L288.8 395.8L288.0 397.2L287.3 398.9L286.9 400.5L286.4 403.3L286.2 404.9L286.3 410.6L286.6 412.2L287.1 414.6L287.6 416.2L288.4 417.7L289.2 418.8L290.0 419.3Z" fill="#b0b0dd"/><path d="M290.3 417.0L290.8 417.0L291.6 416.6L292.3 415.8L292.8 414.9L293.3 413.4L293.7 411.8L293.9 410.6L294.0 409.0L294.0 404.5L293.8 402.9L293.4 400.9L293.0 399.7L292.4 398.6L291.6 397.6L291.0 397.3L290.4 397.3L289.6 397.7L288.9 398.5L288.4 399.3L287.9 400.5L287.6 402.0L287.1 404.9L287.2 410.2L287.6 412.3L288.1 414.2L288.6 415.4L289.2 416.2L290.0 416.8Z" fill="#9292d0"/><path d="M289.9 414.6L290.4 414.8L290.8 414.8L291.2 414.6L291.6 414.3L292.2 413.4L292.7 412.2L293.1 410.2L293.3 405.7L293.2 404.1L292.8 402.5L292.4 401.3L292.0 400.4L291.4 399.7L290.8 399.4L290.4 399.4L290.0 399.6L289.4 400.1L288.8 401.4L288.3 402.9L288.0 404.5L287.9 406.9L288.1 410.6L288.4 411.8L288.8 412.9L289.6 414.2Z" fill="#7272c2"/><path d="M290.0 412.6L290.4 412.7L290.8 412.7L291.2 412.5L291.6 412.1L292.1 411.0L292.4 409.8L292.5 406.1L292.4 404.5L292.0 403.0L291.6 402.3L291.1 401.7L290.8 401.6L290.4 401.6L290.0 401.8L289.6 402.3L289.1 403.3L288.7 404.9L288.7 407.3L288.9 410.2L289.2 411.4L289.6 412.1L290.0 412.5Z" fill="#5858b7"/></g>
<path d="M246.7 414.6L247.5 414.6L248.7 414.1L249.9 413.2L250.7 412.2L251.2 411.4L251.6 410.2L252.0 408.2L252.2 406.5L252.3 405.3L252.1 404.1L251.7 402.5L251.0 400.9L250.5 400.1L249.7 399.3L248.7 398.7L247.9 398.4L246.7 398.3L245.9 398.5L244.7 399.1L243.9 399.9L243.2 400.9L242.7 402.0L242.2 403.7L242.0 404.9L242.0 406.5L242.2 408.2L242.6 410.2L243.0 411.4L243.5 412.3L244.4 413.4L245.5 414.2L246.3 414.5ZM245.7 422.2L246.7 422.3L247.9 422.3L249.1 422.0L249.9 421.7L251.1 421.1L251.9 420.5L252.7 419.9L253.6 419.0L255.1 416.7L256.2 414.6L257.0 411.4L257.4 408.2L257.5 404.9L257.0 401.3L256.4 398.9L255.4 396.5L254.7 395.5L253.9 394.5L253.1 393.6L251.9 392.5L250.3 391.5L249.5 391.1L248.3 390.8L247.5 390.7L246.3 390.7L245.1 391.0L244.3 391.3L243.1 391.9L242.3 392.5L241.1 393.5L240.3 394.4L239.5 395.4L238.8 396.5L237.8 398.9L237.2 400.9L236.7 404.1L236.7 406.9L237.0 410.6L237.6 413.4L238.0 414.6L238.5 415.8L239.9 418.1L240.7 419.1L241.5 419.9L242.3 420.6L243.5 421.4L244.4 421.8L245.5 422.1ZM244.4 429.8L245.9 430.1L247.5 430.1L249.1 429.9L250.3 429.6L251.9 428.9L253.1 428.2L254.3 427.3L255.9 425.8L257.1 424.4L258.2 423.0L259.3 421.0L260.1 419.4L260.9 417.4L261.5 415.4L262.0 413.0L262.3 411.0L262.6 407.8L262.6 405.3L262.2 400.9L261.9 398.9L261.4 396.9L260.3 394.1L259.2 391.7L258.0 389.7L256.7 387.9L255.5 386.5L254.3 385.3L252.7 384.2L251.1 383.3L249.5 382.8L247.9 382.5L246.3 382.5L244.7 382.7L243.5 383.1L241.9 383.9L240.7 384.7L239.5 385.7L238.3 386.9L237.1 388.3L235.9 390.2L234.8 392.1L233.7 394.5L233.1 396.1L232.5 398.1L232.1 400.1L231.8 402.1L231.6 404.1L231.6 406.1L231.8 409.8L232.0 411.8L232.4 414.2L232.8 415.8L233.4 417.8L234.3 419.8L235.3 421.8L236.3 423.4L237.5 425.0L238.7 426.3L240.3 427.7L241.5 428.5L242.7 429.1L244.3 429.7ZM245.1 440.6L246.3 440.9L247.9 440.9L249.5 440.4L251.1 439.6L253.1 438.2L255.1 436.5L258.3 433.4L260.1 431.4L261.6 429.3L262.9 427.0L264.3 424.2L265.4 421.4L266.2 419.0L267.0 415.8L267.5 413.0L267.7 410.2L267.9 406.5L267.9 404.1L267.6 400.9L267.2 398.1L266.6 395.3L265.5 391.7L264.4 388.9L263.3 386.5L261.8 383.7L260.4 381.7L258.6 379.3L256.7 377.3L254.3 375.0L252.7 373.8L250.7 372.7L249.1 372.1L247.5 371.8L246.3 371.8L245.5 371.9L243.9 372.5L241.9 373.5L239.9 375.0L237.5 377.2L235.6 379.3L233.9 381.5L232.4 383.7L231.1 386.1L230.0 388.5L228.9 391.3L227.7 394.9L227.2 396.9L226.7 400.1L226.4 403.3L226.3 406.1L226.5 410.2L227.0 415.0L227.6 417.8L228.5 420.6L229.4 423.0L230.5 425.4L231.7 427.8L233.0 429.8L234.5 431.8L235.9 433.4L238.7 436.2L240.7 437.9L243.1 439.6L244.7 440.5Z" fill="none" stroke="#ff5a3c" stroke-width="1.4" stroke-linejoin="round"/>
<path d="M289.9 413.8L290.4 414.1L290.8 414.1L291.2 413.9L291.6 413.5L292.0 413.0L292.4 412.1L292.7 411.0L292.9 410.2L293.0 405.7L292.9 404.1L292.5 402.5L292.0 401.3L291.6 400.6L291.2 400.3L290.8 400.1L290.4 400.1L290.0 400.3L289.6 400.7L289.2 401.4L288.8 402.4L288.2 404.5L288.2 406.9L288.4 410.6L288.8 412.0L289.2 412.9L289.6 413.5ZM289.5 420.6L290.4 420.9L291.2 420.8L291.6 420.6L292.4 420.0L293.2 418.9L294.0 417.2L294.6 415.4L295.2 412.6L295.4 410.6L295.5 404.5L295.2 402.1L294.8 399.7L294.1 397.3L293.4 395.7L292.4 394.1L291.6 393.4L291.2 393.2L290.4 393.1L289.6 393.4L288.8 394.1L288.0 395.3L287.2 397.1L286.5 399.3L286.2 400.9L285.8 404.1L285.7 406.1L285.8 410.6L286.0 412.2L286.4 414.6L286.9 416.2L287.6 418.0L288.4 419.5L289.2 420.3ZM290.0 427.8L290.8 427.8L291.6 427.6L292.8 426.8L294.0 425.4L295.1 423.4L296.1 420.6L296.9 417.4L297.4 414.6L297.8 410.2L297.9 404.9L297.6 401.3L297.1 397.7L296.3 394.1L295.2 390.9L294.0 388.5L292.8 387.0L292.0 386.4L291.2 386.1L290.4 386.0L289.6 386.3L288.4 387.1L287.2 388.6L286.0 390.9L284.9 394.1L284.2 397.3L283.7 400.5L283.3 404.9L283.4 410.2L283.5 412.2L284.0 416.2L284.8 419.8L286.0 423.0L287.2 425.3L288.4 426.8L289.2 427.4L290.0 427.8ZM290.0 435.8L290.8 435.9L291.6 435.7L292.4 435.3L293.6 434.2L294.4 433.2L295.2 431.9L296.1 430.2L296.8 428.6L298.2 424.6L299.3 419.8L299.9 415.4L300.3 410.2L300.4 404.5L300.0 399.7L299.3 394.5L298.7 391.3L298.2 389.3L297.4 386.9L296.8 385.3L296.0 383.4L295.1 381.7L294.0 380.1L293.2 379.3L292.4 378.6L291.3 378.1L290.4 378.0L289.6 378.2L288.8 378.6L287.6 379.7L286.8 380.7L285.9 382.1L285.1 383.7L284.2 385.7L283.5 387.7L282.9 389.7L281.9 394.5L281.1 400.1L280.8 404.5L280.9 410.6L281.3 415.4L281.9 419.8L283.0 424.6L284.4 428.6L285.2 430.4L286.1 432.2L287.2 433.7L288.0 434.6L288.8 435.2L289.6 435.7Z" fill="none" stroke="#4f4fb3" stroke-width="1.4" stroke-linejoin="round"/></g>
<g clip-path="url(#c43)"><g stroke="none"><path d="M349.0 435.4L351.6 435.7L354.1 435.7L356.5 435.4L359.3 434.8L362.5 433.6L364.9 432.5L366.9 431.3L369.3 429.6L371.4 427.8L373.7 425.4L375.3 423.4L376.8 421.0L377.9 419.0L379.2 415.8L379.8 413.8L380.3 411.0L380.6 407.3L380.7 404.9L380.3 401.3L379.9 399.3L379.0 396.5L378.3 394.9L376.6 391.7L374.9 389.0L373.3 386.9L371.3 384.8L369.3 383.0L366.9 381.2L364.1 379.5L361.7 378.4L359.3 377.5L356.5 376.8L354.1 376.5L351.2 376.6L348.4 377.0L346.0 377.6L343.2 378.7L340.8 379.9L338.4 381.4L336.0 383.2L334.0 385.1L332.0 387.3L330.2 389.7L328.8 392.1L327.3 394.9L326.4 396.9L325.6 399.7L325.2 402.5L324.9 405.3L325.0 408.2L325.3 411.4L325.9 414.2L326.5 416.2L327.7 419.0L328.8 421.0L330.3 423.4L332.0 425.5L334.2 427.8L336.4 429.7L338.8 431.4L341.2 432.8L343.6 433.8L346.4 434.8L348.8 435.4Z" fill="#fff7f5"/><path d="M349.1 430.2L351.2 430.4L353.3 430.5L355.3 430.4L357.7 429.9L360.1 429.2L362.1 428.4L364.1 427.4L366.1 426.1L368.0 424.6L369.6 423.0L371.3 421.0L372.5 419.4L373.6 417.4L374.5 415.4L375.1 413.4L375.7 411.0L376.0 407.8L376.1 405.3L375.9 403.3L375.5 400.9L375.0 398.9L374.3 396.9L373.5 395.3L372.5 393.7L370.9 391.5L369.3 389.6L367.7 388.0L365.7 386.4L363.7 385.1L361.3 383.8L358.9 383.0L356.5 382.4L354.5 382.1L352.0 382.1L349.6 382.3L347.6 382.7L345.6 383.3L343.6 384.2L341.6 385.2L339.6 386.6L337.8 388.1L336.0 389.9L334.4 391.9L332.6 394.5L331.7 396.1L330.9 398.1L330.2 400.1L329.9 402.1L329.6 404.5L329.5 406.1L329.8 409.8L330.1 411.8L330.7 414.2L331.2 415.8L332.2 417.8L333.4 419.8L334.8 421.7L336.4 423.4L338.0 424.9L340.0 426.4L342.0 427.7L344.4 428.8L346.4 429.5L348.8 430.1Z" fill="#ffebe8"/><path d="M350.4 426.6L352.0 426.7L354.1 426.7L356.1 426.4L357.7 426.1L359.7 425.5L361.3 424.8L362.9 423.9L364.5 422.8L366.2 421.4L367.7 419.9L368.7 418.6L370.0 416.6L370.9 415.0L371.4 413.4L372.0 411.4L372.3 409.8L372.5 407.3L372.6 405.3L372.4 403.7L372.0 401.3L371.7 400.1L371.1 398.5L370.2 396.5L369.4 395.3L368.1 393.7L366.1 391.5L364.5 390.1L362.9 389.0L361.3 388.1L359.3 387.2L357.3 386.5L355.3 386.1L353.3 386.0L351.2 386.0L349.2 386.3L347.6 386.7L346.0 387.3L344.4 388.0L342.8 388.9L341.1 390.1L339.6 391.4L338.0 393.1L336.5 394.9L335.6 396.2L334.7 398.1L334.0 399.7L333.7 400.9L333.2 403.7L333.0 405.3L333.1 407.3L333.4 410.2L333.8 412.2L334.4 414.2L334.9 415.4L335.8 417.0L337.2 419.0L338.2 420.2L339.6 421.6L341.2 422.9L342.8 424.0L344.4 424.8L346.4 425.6L348.0 426.1L350.0 426.5Z" fill="#ffdcd6"/><path d="M350.3 423.4L351.6 423.5L353.3 423.6L354.9 423.4L356.5 423.2L358.1 422.7L359.7 422.1L361.3 421.2L362.5 420.5L363.7 419.5L364.7 418.6L366.1 417.0L367.0 415.8L367.6 414.6L368.3 413.0L368.8 411.4L369.1 410.2L369.5 406.1L369.5 404.9L369.3 403.7L368.8 401.3L368.4 400.1L367.7 398.5L366.8 396.9L365.9 395.7L364.8 394.5L363.3 393.2L361.7 392.1L360.4 391.3L358.9 390.6L357.3 390.0L355.7 389.6L354.1 389.4L352.5 389.4L350.8 389.5L349.2 389.8L347.6 390.2L346.0 390.9L344.5 391.7L343.2 392.6L341.6 393.8L340.4 394.9L339.6 395.8L338.8 396.9L337.9 398.5L337.2 400.1L336.8 401.3L336.3 403.7L336.1 404.9L336.1 406.5L336.6 410.6L337.0 412.2L337.6 413.8L338.2 415.0L338.9 416.2L340.0 417.6L341.2 418.9L342.4 419.9L343.6 420.8L345.2 421.7L346.8 422.4L348.4 423.0L350.0 423.3Z" fill="#ffcac1"/><path d="M351.9 420.6L353.3 420.6L354.9 420.4L356.2 420.2L357.7 419.7L358.9 419.2L360.1 418.5L361.3 417.7L362.5 416.7L363.3 415.8L364.1 414.8L364.9 413.4L365.4 412.2L366.0 410.2L366.5 406.9L366.5 405.3L366.4 404.1L365.6 400.9L365.3 400.1L364.6 398.9L363.1 396.9L362.4 396.1L361.3 395.3L360.1 394.5L358.9 393.9L356.5 393.0L355.3 392.7L353.9 392.5L352.5 392.5L351.2 392.6L350.0 392.8L348.4 393.2L346.0 394.2L344.8 394.9L343.6 395.8L342.8 396.5L342.0 397.5L341.2 398.5L340.5 399.7L340.0 400.9L339.6 402.2L339.3 403.7L339.1 404.9L339.1 406.1L339.2 407.8L339.8 411.0L340.7 413.4L341.4 414.6L341.9 415.4L342.8 416.4L343.9 417.4L345.2 418.3L346.4 419.0L347.6 419.6L348.8 420.0L350.0 420.3L351.6 420.6Z" fill="#ffb5a7"/><path d="M351.7 417.8L352.9 417.8L354.1 417.7L356.1 417.3L358.1 416.5L359.3 415.8L360.1 415.2L360.7 414.6L361.6 413.4L362.7 411.4L363.2 409.8L363.7 406.9L363.7 404.9L363.4 403.3L362.5 400.9L361.6 399.3L360.1 397.8L358.4 396.5L356.5 395.7L355.3 395.4L354.1 395.2L351.6 395.2L349.6 395.5L347.6 396.3L346.0 397.4L344.4 398.9L343.2 400.5L342.3 402.9L341.9 404.9L341.8 406.1L342.0 407.3L342.6 410.6L343.3 412.2L344.4 414.0L344.9 414.6L345.8 415.4L347.6 416.6L349.6 417.4L351.6 417.8Z" fill="#ff9986"/><path d="M352.1 415.4L354.1 415.3L355.7 414.9L357.1 414.2L358.5 413.0L359.5 411.8L360.2 410.6L360.9 408.2L361.2 406.1L361.2 404.9L360.8 403.3L359.8 401.3L359.0 400.1L357.7 399.0L356.5 398.4L354.9 397.8L353.3 397.6L351.6 397.6L350.0 398.0L348.4 398.7L347.1 399.7L346.0 400.9L345.2 402.4L344.6 404.1L344.4 405.3L344.5 407.3L345.1 409.8L345.6 411.0L346.3 412.2L347.6 413.5L349.2 414.6L350.4 415.1L352.0 415.4Z" fill="#ff7b63"/><path d="M351.1 412.6L352.5 412.8L353.7 412.7L354.9 412.4L356.1 411.8L357.0 411.0L357.6 410.2L358.5 407.8L358.8 406.5L358.8 405.3L358.7 404.5L358.2 403.3L357.3 402.1L356.5 401.2L355.5 400.5L354.5 400.1L353.3 399.9L352.0 399.9L351.0 400.1L350.0 400.5L349.0 401.3L348.0 402.4L347.2 403.7L346.9 404.5L346.8 405.7L346.9 406.9L347.3 408.6L348.0 410.2L348.6 411.0L349.2 411.6L350.0 412.1L350.8 412.5Z" fill="#ff6246"/></g>
<g stroke="none"><path d="M345.4 436.6L348.4 436.9L351.2 437.0L354.1 436.7L356.9 436.1L359.7 435.2L362.9 433.9L365.7 432.3L368.5 430.5L371.3 428.3L373.3 426.4L375.3 424.1L377.3 421.4L378.7 419.0L379.9 416.2L380.6 414.2L381.3 411.0L381.5 408.2L381.5 404.9L381.3 402.9L380.6 400.1L379.5 396.9L378.6 394.9L377.0 392.1L375.2 389.7L373.5 387.7L371.3 385.6L368.5 383.3L365.7 381.5L362.9 380.0L360.1 378.8L357.3 377.9L354.5 377.3L351.6 377.0L348.4 376.9L345.6 377.3L342.8 377.9L340.0 378.8L336.8 380.1L334.0 381.7L331.2 383.6L328.6 385.7L326.5 387.7L324.8 389.7L323.0 392.1L321.4 394.9L320.0 398.1L319.3 400.5L318.6 403.7L318.5 405.7L318.6 410.2L318.9 412.2L319.5 414.6L320.2 416.6L321.5 419.4L323.0 421.8L324.8 424.2L326.8 426.5L328.8 428.4L331.2 430.3L334.4 432.4L337.2 433.9L340.0 435.1L342.8 436.0L345.2 436.6Z" fill="#ffffff"/><path d="M348.1 432.6L350.4 432.6L352.9 432.5L355.3 432.1L357.7 431.5L360.1 430.7L362.9 429.4L365.3 428.1L367.3 426.7L369.3 425.0L371.0 423.4L373.0 421.0L374.4 419.0L375.5 417.0L376.3 415.0L377.2 412.2L377.5 410.2L377.6 404.9L377.3 402.9L376.6 400.1L375.7 397.7L374.4 395.3L372.9 392.9L371.3 390.9L369.3 388.8L367.3 387.2L364.9 385.5L362.1 384.0L359.7 383.0L356.9 382.1L354.5 381.6L351.6 381.2L349.2 381.2L346.4 381.4L343.6 382.0L341.2 382.7L338.8 383.6L336.4 384.8L334.0 386.2L332.0 387.7L330.0 389.5L328.4 391.3L326.8 393.3L325.3 395.7L324.2 398.1L323.4 400.1L322.7 402.9L322.3 404.9L322.3 407.3L322.5 410.6L322.9 412.6L323.7 415.0L324.5 417.0L325.9 419.4L327.3 421.4L329.0 423.4L331.1 425.4L333.2 427.1L335.2 428.4L337.6 429.7L340.0 430.7L342.8 431.7L345.6 432.3L348.0 432.6Z" fill="#f6f6fb"/><path d="M345.8 427.8L348.0 428.1L350.4 428.1L352.9 428.0L354.9 427.6L356.9 427.1L358.9 426.5L360.9 425.6L362.9 424.4L364.5 423.3L366.5 421.7L368.0 420.2L369.3 418.7L370.7 416.6L371.5 415.0L372.4 412.6L372.8 411.0L373.0 409.4L373.1 405.7L373.1 404.5L372.8 403.3L372.2 400.9L371.5 399.3L370.2 396.9L369.2 395.3L367.7 393.5L366.1 391.9L364.4 390.5L362.5 389.2L360.5 388.1L358.5 387.3L356.5 386.6L354.3 386.1L352.0 385.8L349.6 385.7L347.2 385.9L345.2 386.2L342.8 386.8L340.8 387.5L338.8 388.5L336.8 389.7L335.2 390.8L333.6 392.2L332.0 393.9L330.6 395.7L329.3 397.7L328.3 399.7L327.8 400.9L327.1 403.7L326.9 404.9L326.9 406.9L327.0 410.2L327.2 411.4L327.7 413.0L328.7 415.4L329.6 417.0L331.0 419.0L332.4 420.6L334.0 422.1L335.6 423.4L337.6 424.7L339.6 425.8L341.6 426.6L343.6 427.3L345.6 427.7Z" fill="#eaeaf6"/><path d="M346.8 424.6L348.4 424.8L350.4 424.8L352.5 424.7L354.5 424.3L356.5 423.8L358.1 423.2L359.7 422.5L361.3 421.5L362.9 420.5L364.2 419.4L365.3 418.2L366.6 416.6L367.4 415.4L368.1 414.2L368.9 412.2L369.4 410.6L369.5 408.6L369.6 405.7L369.6 404.9L369.4 403.7L368.6 401.3L368.1 400.1L367.2 398.5L366.1 396.9L364.9 395.5L363.7 394.3L362.1 393.0L360.5 391.9L358.9 391.1L356.9 390.2L354.9 389.7L353.2 389.3L351.2 389.1L349.2 389.1L347.6 389.2L345.6 389.5L343.6 390.1L342.0 390.7L340.4 391.4L338.8 392.4L337.2 393.5L335.7 394.9L334.5 396.1L333.3 397.7L332.3 399.3L331.7 400.5L331.0 402.5L330.5 404.1L330.4 405.3L330.4 406.9L330.5 409.8L330.7 411.0L331.2 412.6L332.1 414.6L332.8 415.8L333.7 417.0L335.0 418.6L336.0 419.6L337.6 420.8L339.2 421.8L341.2 422.9L342.8 423.6L344.4 424.1L346.4 424.5Z" fill="#dadaef"/><path d="M347.2 421.8L350.0 422.0L351.6 421.9L353.3 421.7L354.9 421.3L356.5 420.8L358.0 420.2L359.3 419.5L360.5 418.7L361.7 417.7L362.9 416.6L363.7 415.7L364.4 414.6L365.3 413.0L365.9 411.8L366.3 410.6L366.5 406.9L366.6 405.3L366.5 404.5L366.1 403.3L365.4 401.3L364.9 400.3L364.2 399.3L363.3 398.1L361.8 396.5L360.5 395.4L359.3 394.6L357.7 393.7L356.1 393.1L354.5 392.6L352.9 392.2L351.2 392.0L349.6 392.0L348.0 392.1L346.4 392.3L344.8 392.8L343.2 393.3L341.6 394.1L340.4 394.8L339.2 395.7L338.0 396.7L336.8 398.0L335.8 399.3L335.0 400.5L334.6 401.3L333.9 403.3L333.5 404.5L333.4 405.3L333.5 406.9L333.7 410.6L334.0 411.4L334.5 412.6L335.6 414.6L336.1 415.4L337.1 416.6L338.4 417.8L339.6 418.8L340.8 419.6L342.0 420.2L343.6 420.9L345.2 421.4L346.8 421.7Z" fill="#c7c7e7"/><path d="M348.7 419.4L351.2 419.4L353.7 419.0L356.1 418.1L358.2 417.0L360.1 415.5L361.3 414.2L362.8 411.8L363.3 410.6L363.4 409.8L363.6 406.1L363.5 404.5L363.3 403.7L362.8 402.5L361.9 400.9L361.3 400.0L360.3 398.9L359.3 398.0L358.1 397.1L356.9 396.4L355.4 395.7L354.1 395.3L352.9 395.0L351.2 394.8L348.8 394.8L346.4 395.1L344.0 396.0L342.0 397.1L340.0 398.6L339.0 399.7L338.3 400.5L337.0 402.9L336.6 404.1L336.4 404.9L336.4 407.8L336.7 410.6L337.4 412.2L339.0 414.6L339.7 415.4L340.8 416.3L342.0 417.1L343.2 417.8L345.6 418.8L346.8 419.1L348.4 419.3Z" fill="#b0b0dd"/><path d="M349.3 417.0L351.6 416.9L353.7 416.4L355.7 415.6L357.3 414.6L358.9 413.0L360.1 411.4L360.5 410.2L360.8 407.8L360.9 405.3L360.6 404.1L359.8 402.5L358.3 400.5L356.8 399.3L354.9 398.3L352.9 397.6L350.8 397.3L348.8 397.3L346.8 397.7L344.8 398.4L343.2 399.3L341.7 400.5L340.4 402.2L339.6 403.7L339.3 404.5L339.1 405.3L339.2 407.8L339.5 410.2L339.9 411.4L341.1 413.0L342.8 414.7L344.6 415.8L346.8 416.6L349.2 417.0Z" fill="#9292d0"/><path d="M347.9 414.6L349.2 414.8L350.8 414.8L352.1 414.6L353.7 414.0L355.3 413.2L356.6 412.2L357.6 411.0L357.9 410.2L358.3 407.8L358.4 405.7L358.3 404.9L358.0 404.1L357.5 403.3L356.9 402.6L355.1 400.9L353.7 400.1L352.0 399.6L350.4 399.4L348.8 399.5L347.2 399.8L345.6 400.5L344.4 401.3L343.2 402.5L342.2 403.7L341.7 404.9L341.6 406.1L341.8 408.6L342.1 410.2L342.4 411.0L343.2 412.0L344.4 413.0L346.0 413.9L347.6 414.5Z" fill="#7272c2"/><path d="M348.3 412.6L349.2 412.7L350.4 412.7L351.6 412.6L352.5 412.3L353.7 411.8L354.4 411.4L354.9 410.9L355.3 410.2L355.7 408.6L356.0 406.5L356.0 405.3L355.7 404.5L355.1 403.7L354.1 402.8L352.9 402.2L351.6 401.7L350.4 401.6L349.2 401.6L348.0 401.8L347.2 402.1L346.0 402.8L345.2 403.4L344.5 404.1L344.1 404.9L344.0 405.7L344.1 407.3L344.7 410.2L345.2 411.0L346.0 411.6L347.0 412.2L348.0 412.5Z" fill="#5858b7"/></g>
<path d="M352.2 414.6L353.7 414.5L355.3 414.1L356.9 413.3L358.1 412.3L358.9 411.3L359.5 410.2L360.1 408.2L360.4 406.1L360.4 404.9L360.1 403.7L359.3 402.0L358.2 400.5L357.3 399.7L356.1 399.0L354.6 398.5L353.3 398.3L351.6 398.4L350.4 398.7L348.9 399.3L347.8 400.1L347.0 400.9L346.0 402.6L345.4 404.1L345.2 405.3L345.3 406.9L345.6 408.6L346.1 410.2L346.8 411.5L347.8 412.6L349.2 413.6L350.4 414.2L352.0 414.5ZM350.8 422.2L352.0 422.3L353.7 422.3L355.3 422.1L356.9 421.8L358.5 421.2L359.7 420.7L360.9 420.0L362.1 419.2L363.3 418.2L364.5 417.0L365.3 416.1L366.0 415.0L366.6 413.8L367.3 412.2L367.7 410.8L367.9 409.4L368.2 407.3L368.2 405.7L368.2 404.5L368.0 403.3L367.5 401.3L367.1 400.1L366.3 398.5L365.3 396.9L364.5 395.9L363.5 394.9L362.1 393.8L360.9 393.1L359.3 392.2L358.1 391.7L356.9 391.3L355.3 390.9L353.7 390.7L352.0 390.7L350.4 390.9L349.2 391.1L347.6 391.6L346.4 392.1L344.8 393.0L343.2 394.1L342.0 395.0L340.9 396.1L340.3 396.9L339.3 398.5L338.6 399.7L338.2 400.9L337.5 404.1L337.4 405.3L337.4 406.9L337.9 410.6L338.2 411.8L338.8 413.4L339.4 414.6L340.1 415.8L341.1 417.0L342.4 418.3L343.6 419.3L344.8 420.1L346.0 420.8L347.6 421.4L348.8 421.8L350.4 422.1ZM348.9 429.8L350.8 430.1L353.3 430.1L355.7 430.0L357.7 429.6L359.7 429.0L361.7 428.2L363.7 427.2L365.7 426.0L367.7 424.4L369.2 423.0L370.9 421.0L372.1 419.4L373.2 417.4L374.2 415.4L374.8 413.4L375.4 411.0L375.7 407.8L375.8 405.3L375.6 403.3L375.2 400.9L374.7 398.9L373.9 396.9L373.3 395.7L372.4 394.1L370.6 391.7L369.0 389.7L367.3 388.1L365.3 386.5L363.3 385.2L360.9 384.1L358.9 383.3L356.5 382.8L354.1 382.5L352.0 382.5L350.0 382.6L348.0 383.0L346.0 383.6L344.0 384.4L342.0 385.4L340.0 386.7L338.3 388.1L336.4 390.0L334.8 391.9L333.0 394.5L332.1 396.1L331.2 398.1L330.6 400.1L330.2 402.1L329.9 404.5L329.8 406.1L330.1 409.8L330.4 411.8L331.0 414.2L331.6 415.8L332.6 417.8L333.8 419.8L335.2 421.6L336.8 423.4L338.4 424.8L340.4 426.3L342.4 427.5L344.4 428.5L346.4 429.2L348.8 429.8ZM349.8 440.6L352.0 440.9L354.1 440.9L356.5 440.4L358.9 439.5L362.1 438.0L364.9 436.4L369.7 433.2L372.1 431.3L374.5 428.9L376.5 426.6L378.3 424.2L379.9 421.4L381.1 419.0L382.3 415.8L383.0 413.0L383.4 410.2L383.6 406.5L383.5 404.1L383.1 400.5L382.6 398.1L381.8 395.7L380.2 392.1L378.7 389.3L377.1 386.9L375.2 384.5L373.3 382.4L370.1 379.5L367.7 377.7L364.5 375.6L361.7 374.1L358.5 372.8L356.0 372.1L353.7 371.8L352.0 371.8L350.8 371.9L348.0 372.5L345.2 373.5L342.4 374.8L338.8 377.1L336.0 379.1L333.2 381.6L331.1 383.7L329.1 386.1L327.4 388.5L325.8 391.3L324.1 394.9L323.4 396.9L322.6 400.1L322.1 403.3L322.0 406.1L322.2 410.2L322.6 412.6L323.1 415.0L323.9 417.4L325.0 420.2L326.6 423.0L328.2 425.4L330.1 427.8L331.9 429.8L334.1 431.8L336.0 433.3L340.8 436.5L343.2 437.9L346.8 439.6L349.6 440.5Z" fill="none" stroke="#ff5a3c" stroke-width="1.4" stroke-linejoin="round"/>
<path d="M347.7 413.8L349.2 414.1L350.4 414.1L351.6 413.9L353.3 413.4L354.5 412.9L355.7 412.0L356.7 411.0L357.1 410.2L357.5 407.8L357.6 405.7L357.5 404.9L357.2 404.1L356.6 403.3L356.1 402.7L354.5 401.4L353.3 400.7L351.6 400.2L350.4 400.1L348.8 400.2L347.6 400.4L346.3 400.9L344.8 401.9L343.7 402.9L342.8 404.1L342.5 404.9L342.4 406.1L342.6 408.2L342.9 410.2L343.2 410.8L344.0 411.8L345.0 412.6L346.4 413.3L347.6 413.7ZM346.6 420.6L348.0 420.8L349.6 420.9L352.5 420.7L355.3 420.1L356.5 419.7L357.9 419.0L359.3 418.2L360.5 417.3L361.7 416.2L362.4 415.4L363.0 414.6L364.2 412.6L364.8 411.4L365.0 410.6L365.3 407.8L365.3 404.9L365.1 404.1L364.7 402.9L363.8 400.9L363.3 400.0L362.5 398.9L361.3 397.7L360.1 396.6L358.9 395.7L357.5 394.9L356.1 394.3L354.9 393.9L353.3 393.5L350.4 393.1L348.8 393.2L347.2 393.4L345.6 393.7L344.4 394.1L343.2 394.6L341.8 395.3L340.6 396.1L339.6 396.9L338.3 398.1L337.2 399.3L336.2 400.9L335.3 402.9L334.9 404.1L334.7 404.9L334.7 406.1L334.8 408.6L335.0 410.6L335.6 412.2L337.0 414.6L337.6 415.4L338.7 416.6L340.0 417.7L341.2 418.5L342.4 419.2L343.6 419.7L345.0 420.2L346.4 420.5ZM348.3 427.8L350.4 427.8L352.5 427.7L354.5 427.4L356.5 426.9L358.5 426.3L360.5 425.4L362.5 424.3L364.1 423.3L365.7 422.0L367.3 420.5L368.7 419.0L369.8 417.4L370.8 415.8L371.3 414.6L372.3 411.8L372.6 410.2L372.8 406.9L372.8 404.9L372.5 403.3L371.8 400.9L371.2 399.3L369.9 396.9L368.9 395.5L367.8 394.1L366.1 392.3L364.5 391.0L362.5 389.6L360.5 388.5L358.5 387.6L356.1 386.8L354.1 386.4L351.6 386.1L349.6 386.0L347.2 386.2L345.2 386.5L343.2 387.0L341.2 387.7L339.2 388.6L337.3 389.7L335.6 390.9L334.1 392.1L332.6 393.7L331.2 395.3L330.1 396.9L329.0 398.9L328.3 400.5L327.5 403.3L327.2 404.9L327.2 406.9L327.4 410.2L327.8 412.2L328.7 414.6L329.5 416.2L330.8 418.2L332.0 419.8L333.6 421.4L335.6 423.0L337.3 424.2L339.2 425.3L341.6 426.3L343.6 427.0L345.6 427.4L348.0 427.8ZM348.1 435.8L350.8 435.8L353.7 435.6L356.1 435.2L358.9 434.4L361.7 433.3L364.5 431.9L367.3 430.2L369.7 428.4L371.7 426.6L373.7 424.5L375.6 422.2L377.2 419.8L378.2 417.8L379.2 415.4L380.1 412.2L380.5 410.2L380.6 406.5L380.5 404.5L379.9 401.3L379.4 399.3L378.3 396.5L376.8 393.7L375.2 391.3L373.3 388.9L371.3 386.8L368.9 384.9L366.5 383.2L363.7 381.5L360.9 380.2L357.7 379.1L354.9 378.5L352.0 378.1L349.2 378.0L346.4 378.3L343.6 378.8L340.8 379.6L338.0 380.7L335.2 382.1L332.8 383.6L330.0 385.7L327.8 387.7L326.0 389.7L324.2 392.1L322.7 394.5L321.7 396.5L320.5 399.7L319.8 402.5L319.4 404.9L319.5 408.2L319.6 411.0L320.2 413.4L320.9 415.8L322.0 418.2L323.1 420.2L325.0 423.0L326.8 425.1L329.1 427.4L331.2 429.1L334.0 431.0L336.8 432.6L339.6 433.8L342.4 434.8L345.2 435.4L348.0 435.8Z" fill="none" stroke="#4f4fb3" stroke-width="1.4" stroke-linejoin="round"/></g>
<g clip-path="url(#c50)"><g stroke="none"><path d="M97.6 530.8L98.6 531.0L99.4 531.0L100.2 530.9L101.4 530.6L103.4 529.7L105.4 528.2L106.7 526.8L108.2 524.6L109.8 521.5L111.2 518.4L112.3 515.6L113.1 513.2L114.7 506.0L115.6 501.6L116.0 497.9L116.4 492.7L116.6 488.7L116.5 484.3L116.0 477.9L115.5 474.7L114.9 472.3L113.9 468.3L111.8 462.0L109.8 455.5L95.0 455.5L79.6 455.5L78.3 462.3L77.2 467.5L76.6 470.7L76.3 473.5L76.1 475.9L76.1 478.3L76.1 481.5L76.3 484.7L76.9 489.5L77.5 493.5L78.7 499.2L79.4 502.0L80.4 505.2L82.9 512.4L83.7 514.4L85.1 517.2L87.0 520.6L89.0 523.8L90.6 526.0L92.0 527.6L93.8 529.0L95.8 530.1L97.4 530.7Z" fill="#fff7f5"/><path d="M97.4 521.6L99.0 521.7L100.2 521.5L101.8 520.9L103.0 520.1L104.5 518.8L105.8 517.2L107.2 515.2L108.1 513.2L110.6 506.0L111.5 502.8L112.0 500.4L112.7 495.9L113.0 492.3L113.2 488.7L113.2 484.3L113.0 481.5L112.6 477.9L112.0 474.3L111.2 471.5L110.5 469.1L109.4 466.3L107.6 461.9L106.1 457.9L105.0 455.5L95.4 455.5L84.4 455.5L83.6 457.9L82.6 461.9L81.3 465.9L80.3 470.3L79.8 473.1L79.5 475.9L79.4 478.7L79.5 481.9L79.6 484.7L80.1 488.3L81.2 494.3L82.3 498.8L83.1 501.6L84.1 504.4L85.4 507.3L88.2 513.2L89.4 515.2L90.6 516.7L92.6 518.8L94.2 520.1L95.8 521.0L97.4 521.6Z" fill="#ffebe8"/><path d="M96.2 514.8L97.8 515.1L99.0 515.1L100.6 514.7L101.8 514.0L102.7 513.2L103.8 511.9L105.0 510.0L106.5 507.2L107.4 505.3L108.3 502.8L108.9 500.8L109.4 498.8L110.0 495.1L110.4 492.3L110.6 489.1L110.7 485.9L110.7 483.9L110.5 481.5L110.2 478.7L109.7 476.3L109.3 474.3L108.7 472.3L107.9 469.9L107.0 467.9L105.9 465.5L103.8 461.9L102.2 458.7L100.5 456.3L99.9 455.5L97.0 455.5L89.5 455.5L88.7 456.7L87.8 458.3L86.3 461.9L84.9 465.1L83.6 468.7L83.0 470.7L82.5 473.5L82.1 476.3L82.0 478.7L82.1 483.9L82.8 489.5L84.0 494.7L85.2 498.8L86.0 501.2L87.0 503.3L88.3 506.0L89.8 508.3L91.4 510.6L92.6 512.1L93.6 513.2L94.6 514.0L95.8 514.6Z" fill="#ffdcd6"/><path d="M96.4 508.8L97.4 509.0L98.6 508.9L99.8 508.6L101.0 508.0L102.2 507.0L103.1 506.0L104.2 504.5L105.1 502.8L105.9 501.2L106.5 499.2L107.7 493.9L108.3 489.5L108.5 485.1L108.2 481.5L107.9 478.7L107.6 477.1L106.6 473.5L105.2 469.9L103.4 466.7L101.8 464.5L100.2 462.8L98.6 461.2L97.4 460.3L96.6 459.9L95.4 459.5L94.6 459.5L93.8 459.7L92.6 460.3L91.4 461.3L90.2 462.6L89.0 464.1L88.0 465.5L87.0 467.4L86.2 469.1L85.2 472.3L84.8 473.9L84.5 475.9L84.3 477.9L84.2 479.9L84.4 484.3L85.2 489.5L86.3 493.9L88.2 499.3L89.0 501.1L89.8 502.6L91.8 505.4L92.7 506.4L93.8 507.3L95.0 508.1L96.2 508.7Z" fill="#ffcac1"/><path d="M96.7 504.0L97.8 504.1L98.6 503.9L99.4 503.7L100.2 503.3L101.0 502.7L101.8 501.9L102.6 500.8L103.3 499.6L104.6 496.3L105.5 492.7L106.1 488.7L106.3 484.3L106.1 481.1L105.5 477.5L104.5 474.3L103.4 471.7L102.6 470.3L101.8 469.1L100.2 467.2L99.0 466.2L98.2 465.7L97.4 465.3L96.2 464.9L95.0 464.9L94.2 465.0L93.0 465.4L92.2 465.8L91.4 466.5L90.6 467.3L89.8 468.3L89.0 469.5L87.8 472.2L87.0 474.7L86.5 478.3L86.4 481.9L86.6 485.1L87.4 489.5L88.6 493.5L90.1 497.1L91.4 499.6L92.2 500.8L93.0 501.7L93.8 502.5L94.6 503.1L95.4 503.5L96.6 503.9Z" fill="#ffb5a7"/><path d="M95.7 499.2L97.0 499.5L97.8 499.5L98.6 499.3L99.4 498.8L100.2 498.2L101.4 496.6L102.6 494.2L103.4 491.8L104.0 488.7L104.3 485.1L104.2 482.3L103.6 478.7L103.1 476.7L102.2 474.4L101.0 472.3L99.8 470.8L98.6 469.7L97.8 469.3L97.0 468.9L96.2 468.7L95.4 468.7L94.2 468.9L93.4 469.2L92.6 469.7L91.4 470.9L90.2 472.7L89.5 474.3L88.8 476.7L88.5 479.1L88.4 482.3L88.5 484.7L89.3 488.3L90.0 490.7L91.0 493.3L92.2 495.5L93.8 497.6L94.6 498.4L95.4 499.0Z" fill="#ff9986"/><path d="M96.4 495.1L97.4 495.2L98.6 494.8L99.2 494.3L99.8 493.8L100.6 492.6L101.4 490.8L101.9 489.1L102.3 486.3L102.5 484.3L102.3 481.9L101.8 479.1L101.4 477.8L100.8 476.3L99.9 474.7L99.0 473.6L97.8 472.6L96.6 472.1L95.4 472.0L94.2 472.3L93.0 473.1L92.0 474.3L91.2 475.9L90.6 477.9L90.4 479.1L90.2 481.9L90.3 483.9L90.5 485.5L91.3 488.3L92.0 490.3L93.0 492.2L93.8 493.3L95.0 494.5L96.2 495.1Z" fill="#ff7b63"/><path d="M95.6 491.1L96.6 491.5L97.4 491.5L98.2 491.1L99.0 490.3L99.4 489.5L100.0 488.3L100.5 486.3L100.7 484.7L100.7 483.5L100.6 482.2L100.2 480.3L99.7 478.7L99.4 477.9L98.6 476.7L97.8 475.9L97.0 475.3L96.2 475.1L95.4 475.1L94.6 475.5L93.8 476.2L93.1 477.1L92.6 478.3L92.3 479.1L92.1 481.1L92.0 482.7L92.0 483.9L92.2 485.1L92.6 486.3L93.3 488.3L93.8 489.2L94.6 490.3L95.4 491.0Z" fill="#ff6246"/></g>
<g stroke="none"><path d="M63.9 531.2L64.5 531.4L65.3 531.4L66.1 531.3L66.9 531.1L67.7 530.7L68.5 530.1L70.1 528.5L72.5 525.4L74.1 522.9L75.3 520.4L77.4 515.6L78.3 513.2L79.3 510.0L81.2 501.2L81.8 497.1L82.3 493.1L82.6 489.1L82.8 484.7L82.7 478.3L82.2 473.1L81.2 466.7L79.0 455.5L64.9 455.5L48.6 455.5L46.4 469.5L46.0 473.9L45.8 477.9L46.0 485.5L46.4 489.9L47.1 495.1L47.8 499.6L48.3 502.0L50.0 508.4L51.1 512.0L52.0 514.4L53.1 516.8L55.2 521.2L56.6 523.6L59.3 527.3L60.9 529.2L62.5 530.5L63.7 531.1Z" fill="#ffffff"/><path d="M63.2 522.8L64.5 523.1L65.3 523.1L66.1 523.0L66.9 522.8L67.7 522.5L68.9 521.7L70.1 520.6L71.7 518.6L73.5 516.0L74.8 513.6L75.7 511.2L76.6 508.8L78.3 502.8L78.8 500.4L79.4 496.7L80.0 492.7L80.3 489.1L80.5 485.1L80.4 478.3L79.9 473.1L78.7 466.7L76.1 455.5L65.3 455.5L51.4 455.5L49.4 465.9L48.9 469.1L48.3 473.5L48.1 477.5L48.2 485.1L48.6 489.5L49.1 493.1L49.9 497.5L50.6 500.8L52.8 508.0L53.7 510.4L54.7 512.8L55.7 514.8L56.9 516.7L58.5 518.8L60.1 520.7L61.3 521.7L62.9 522.7Z" fill="#f6f6fb"/><path d="M63.5 515.2L64.9 515.4L66.1 515.2L67.3 514.8L68.5 514.1L69.6 513.2L70.5 512.1L71.7 510.4L72.5 508.7L73.4 506.8L74.9 502.8L75.5 501.2L76.1 498.8L76.8 495.1L77.2 492.3L77.6 488.7L77.9 484.7L77.7 477.9L77.4 474.7L77.0 472.3L76.4 469.1L75.5 465.9L74.3 461.9L73.2 457.9L72.3 455.5L65.3 455.5L55.2 455.5L54.4 458.3L53.5 461.9L52.4 465.9L51.9 468.3L51.1 473.5L50.7 477.9L50.8 484.3L51.4 489.5L52.4 495.1L53.1 498.3L53.9 501.2L54.7 503.2L56.5 507.4L57.4 509.2L58.5 511.0L59.7 512.6L60.9 513.8L62.1 514.6L63.3 515.1Z" fill="#eaeaf6"/><path d="M63.7 509.6L64.9 509.7L66.1 509.5L67.3 509.0L68.1 508.4L68.9 507.5L70.1 505.9L72.1 502.5L72.7 501.2L73.4 499.2L74.6 494.3L75.4 489.5L75.8 484.7L75.7 478.7L75.3 474.7L74.9 472.7L74.3 469.9L73.1 465.9L70.0 458.3L69.3 456.9L68.5 455.5L65.3 455.5L59.1 455.5L58.5 456.4L57.3 459.2L55.1 465.5L54.3 467.9L53.8 470.3L53.2 473.5L52.8 478.3L52.9 484.3L53.4 489.1L54.4 493.9L55.9 499.2L56.6 501.2L57.3 502.5L58.5 504.6L59.7 506.3L60.5 507.3L61.6 508.4L62.5 509.1L63.3 509.4Z" fill="#dadaef"/><path d="M63.2 504.4L64.1 504.6L64.9 504.7L65.7 504.6L66.9 504.1L67.7 503.5L68.6 502.8L69.3 501.9L70.1 500.7L70.9 499.2L71.5 497.5L72.7 493.5L73.5 489.5L74.0 484.7L73.9 479.1L73.8 477.1L73.2 473.5L72.1 469.5L70.6 465.9L69.3 463.6L66.9 460.1L66.1 459.3L65.3 458.7L64.3 458.3L63.3 458.3L62.5 458.6L61.8 459.1L60.5 460.5L58.1 464.3L56.9 466.9L55.8 470.3L55.0 473.9L54.6 477.9L54.6 483.5L54.8 485.5L55.6 490.3L56.1 492.7L56.7 494.7L58.1 498.5L58.8 500.0L59.5 501.2L60.9 502.8L61.7 503.5L62.9 504.3Z" fill="#c7c7e7"/><path d="M63.4 500.4L64.1 500.6L64.9 500.6L66.1 500.3L66.9 499.8L67.7 499.0L68.9 497.3L70.1 494.9L71.1 491.9L71.8 488.7L72.3 484.3L72.2 479.1L72.1 477.5L71.5 474.3L70.7 471.5L69.5 468.7L68.0 466.3L67.3 465.5L66.5 464.7L65.7 464.2L65.0 463.9L63.7 463.8L62.9 463.9L62.1 464.3L61.3 464.8L60.5 465.6L59.3 467.3L58.1 469.8L57.2 472.7L56.7 474.7L56.3 478.3L56.4 483.5L56.5 485.1L57.2 489.1L58.1 492.6L59.3 495.5L60.5 497.7L61.7 499.2L62.5 499.9L63.3 500.3Z" fill="#b0b0dd"/><path d="M63.8 496.3L64.9 496.4L65.7 496.2L66.1 496.0L67.3 494.9L68.3 493.5L69.0 491.9L69.8 489.5L70.5 485.9L70.7 483.9L70.6 479.1L70.5 477.9L69.8 474.7L69.3 473.2L68.1 470.7L67.0 469.1L66.5 468.6L65.7 468.0L64.5 467.5L63.3 467.6L62.1 468.1L61.1 469.1L60.2 470.3L59.3 472.1L58.7 473.9L58.1 476.7L57.9 478.7L58.1 484.7L58.8 488.3L59.3 490.2L60.4 492.7L61.3 494.3L62.5 495.6L63.7 496.3Z" fill="#9292d0"/><path d="M63.7 492.7L64.5 492.9L65.3 492.8L66.1 492.3L67.1 491.1L67.7 490.0L68.2 488.7L68.9 486.1L69.2 484.3L69.1 478.7L68.9 477.5L68.4 475.5L67.8 473.9L66.9 472.5L66.1 471.6L64.9 470.9L64.1 470.7L63.7 470.7L62.9 471.0L62.1 471.6L61.3 472.5L60.7 473.5L60.2 474.7L59.6 477.1L59.4 478.7L59.5 483.9L59.6 485.1L60.0 486.7L60.7 488.7L61.3 490.2L62.1 491.4L62.9 492.3L63.3 492.6Z" fill="#7272c2"/><path d="M63.9 489.5L64.5 489.6L64.9 489.6L65.7 489.1L66.1 488.7L66.6 487.9L67.3 486.3L67.7 485.1L67.8 483.9L67.8 479.1L67.7 478.3L67.3 477.1L66.9 476.1L66.1 474.7L65.3 473.9L64.6 473.5L64.1 473.5L63.3 473.7L62.5 474.2L62.2 474.7L61.2 476.7L60.9 477.7L60.8 478.7L60.8 483.9L61.1 485.1L61.7 486.9L62.5 488.3L62.9 488.9L63.7 489.5Z" fill="#5858b7"/></g>
<path d="M95.9 493.5L97.0 493.8L98.0 493.5L99.0 492.9L99.8 491.9L100.6 490.4L101.0 489.1L101.5 486.7L101.8 484.7L101.8 483.5L101.5 481.5L101.0 479.1L100.6 477.8L99.8 476.2L99.0 475.0L98.2 474.1L97.0 473.4L95.8 473.2L95.0 473.3L94.3 473.5L93.8 473.9L92.9 474.7L92.0 476.3L91.4 477.9L91.2 479.1L91.0 481.4L90.9 483.1L91.1 484.7L91.5 486.3L92.2 488.7L93.0 490.4L93.8 491.7L94.7 492.7L95.8 493.5ZM96.8 505.2L97.8 505.2L98.6 505.2L99.4 504.9L100.6 504.3L101.4 503.6L102.2 502.8L103.0 501.8L103.8 500.4L105.0 497.2L105.7 494.7L106.1 492.7L106.7 488.7L106.9 484.3L106.5 480.7L105.9 477.1L105.0 473.9L103.5 470.7L102.6 469.1L101.8 468.0L99.9 465.9L99.0 465.1L98.2 464.6L97.0 464.1L96.2 463.9L95.0 463.8L94.2 463.9L93.4 464.1L92.2 464.7L91.1 465.5L90.3 466.3L89.4 467.5L88.6 468.8L88.0 469.9L87.4 471.4L86.5 474.3L86.0 477.9L85.8 481.9L86.1 485.1L86.9 489.9L88.1 493.9L89.8 498.1L91.2 500.8L92.1 502.0L92.8 502.8L93.8 503.6L94.6 504.2L95.8 504.9L96.6 505.1ZM86.9 455.5L85.8 458.3L84.6 461.9L83.0 466.3L81.9 469.9L81.3 473.5L80.9 477.9L80.9 482.3L81.1 485.5L81.8 490.3L83.0 495.5L84.0 499.2L84.8 501.6L85.6 503.6L86.9 506.4L90.0 512.0L91.0 513.4L91.8 514.4L93.0 515.6L94.2 516.5L95.4 517.1L96.6 517.6L97.8 517.9L98.6 517.9L99.8 517.7L101.0 517.3L102.2 516.7L103.0 516.1L103.8 515.4L104.7 514.4L105.4 513.3L106.2 511.8L108.6 506.3L109.5 503.6L110.1 501.6L110.6 499.2L111.2 495.5L111.7 490.3L111.8 485.5L111.7 482.3L111.2 477.9L110.3 473.5L109.1 469.9L107.7 466.3L105.5 461.9L103.8 457.9L102.4 455.5M79.0 455.5L77.8 461.9L76.9 466.3L76.3 469.9L75.8 473.9L75.6 478.3L75.8 483.9L76.4 489.1L77.2 494.3L78.7 501.2L80.3 506.4L83.1 514.4L85.6 519.6L88.6 524.6L89.8 526.3L90.8 527.6L92.2 528.9L93.8 530.2L95.4 531.3L97.0 532.2L98.2 532.5L99.4 532.7L100.6 532.5L101.8 532.1L103.0 531.4L104.6 530.2L106.2 528.7L107.2 527.6L108.1 526.4L109.0 524.8L111.3 520.0L112.5 516.8L113.3 514.4L115.2 506.4L116.1 501.2L116.8 494.3L117.0 489.1L117.0 483.9L116.5 478.3L115.8 473.9L114.8 469.9L113.6 465.9L112.3 461.9L110.4 455.5" fill="none" stroke="#ff5a3c" stroke-width="1.4" stroke-linejoin="round"/>
<path d="M64.2 491.5L64.9 491.5L65.7 491.1L66.5 490.4L66.9 489.8L67.5 488.7L68.1 486.8L68.6 485.1L68.7 483.9L68.6 478.7L68.4 477.5L68.0 476.3L67.3 474.5L66.5 473.3L65.7 472.5L65.3 472.2L64.5 471.9L63.7 471.9L62.9 472.2L62.1 472.8L61.3 473.9L60.9 474.7L60.3 476.7L60.0 477.9L59.9 479.1L60.0 483.9L60.2 485.1L60.5 486.4L61.3 488.6L62.1 490.0L62.9 490.9L63.3 491.2L64.1 491.5ZM63.8 501.6L64.5 501.7L65.3 501.6L66.1 501.4L66.9 500.9L67.7 500.2L68.3 499.6L69.6 497.5L70.9 494.3L71.7 491.5L72.3 488.3L72.7 485.5L72.8 483.9L72.6 478.7L72.4 476.7L71.8 473.5L70.6 469.9L69.3 467.2L68.6 465.9L68.0 465.1L66.9 464.0L66.1 463.4L65.3 463.0L64.5 462.7L63.3 462.7L62.5 463.0L61.7 463.4L60.9 464.1L60.1 464.9L58.9 466.7L57.7 469.3L56.7 472.7L56.2 475.1L55.8 478.7L55.9 483.9L56.1 485.5L56.9 489.9L57.9 493.5L59.3 496.7L60.5 498.9L61.3 499.9L62.1 500.7L62.9 501.2L63.7 501.5ZM57.2 455.5L56.1 458.3L53.8 465.9L52.9 469.5L52.3 473.1L52.0 476.7L51.9 479.1L52.0 484.3L52.5 488.7L53.3 493.5L54.6 498.8L55.7 501.9L57.3 505.2L59.2 508.4L60.1 509.6L60.9 510.4L61.8 511.2L62.9 511.8L63.7 512.1L64.9 512.3L66.1 512.1L66.9 511.8L68.0 511.2L68.9 510.4L69.7 509.4L70.5 508.3L72.1 505.4L73.7 502.0L74.7 498.8L75.8 493.5L76.4 488.7L76.7 484.3L76.6 479.1L76.4 476.7L75.9 473.1L75.2 469.5L74.2 465.9L71.6 458.3L70.4 455.5M51.0 455.5L49.0 465.9L48.4 469.5L47.9 473.9L47.7 477.9L47.8 484.3L48.2 488.7L48.8 493.5L49.9 499.2L50.8 502.8L53.0 510.0L54.5 513.6L56.0 516.4L58.5 520.0L59.7 521.5L60.7 522.4L61.7 523.2L62.9 523.8L64.1 524.1L65.3 524.2L66.5 524.0L67.7 523.6L68.9 522.9L69.7 522.2L70.7 521.2L71.7 519.8L74.4 515.6L75.7 512.7L77.1 508.8L78.8 502.4L79.6 498.3L80.3 493.1L80.7 488.3L80.9 484.3L80.7 477.9L80.4 473.9L79.6 469.1L76.6 455.5" fill="none" stroke="#4f4fb3" stroke-width="1.4" stroke-linejoin="round"/></g>
<g clip-path="url(#c51)"><g stroke="none"><path d="M157.3 530.8L158.2 531.0L159.0 531.0L160.6 530.7L161.8 530.2L162.6 529.8L164.6 528.2L166.0 526.8L167.3 524.8L168.8 522.0L170.2 518.7L171.5 515.6L172.3 513.2L174.0 506.0L174.8 502.0L175.3 498.8L175.9 493.1L176.2 489.1L176.3 485.1L176.2 482.3L176.0 478.7L175.6 475.5L175.2 472.7L174.1 467.9L172.5 462.3L170.7 455.5L157.8 455.5L142.5 455.5L141.2 461.9L140.2 466.3L139.5 469.9L138.9 474.3L138.6 479.1L138.6 483.9L138.9 487.9L139.5 492.7L140.1 496.7L140.9 500.8L141.5 503.6L142.4 506.8L144.7 514.0L146.0 517.2L147.7 520.8L149.4 523.8L151.0 526.2L152.2 527.6L153.8 529.0L155.4 530.0L157.0 530.7Z" fill="#fff7f5"/><path d="M157.4 521.6L159.0 521.7L160.2 521.4L161.4 520.9L162.6 520.1L164.1 518.8L165.4 517.1L166.7 515.2L167.7 513.2L170.2 506.0L171.1 502.8L171.6 500.4L172.2 497.1L172.8 492.7L173.1 488.7L173.2 484.7L173.1 481.9L172.8 477.9L172.3 474.7L171.7 471.9L171.1 469.5L170.1 466.3L168.5 461.9L167.2 457.9L166.2 455.5L157.4 455.5L147.0 455.5L146.2 457.9L145.1 461.9L143.8 465.9L142.7 470.3L142.2 473.5L141.9 475.9L141.7 478.7L141.7 481.9L141.8 484.7L142.1 488.3L142.9 494.3L144.4 501.2L145.3 504.0L146.5 507.2L149.0 513.3L149.8 514.8L151.0 516.6L152.6 518.5L154.2 520.0L155.8 521.0L157.4 521.6Z" fill="#ffebe8"/><path d="M156.4 514.8L157.8 515.1L159.0 515.1L159.8 514.9L160.6 514.6L161.8 513.9L162.9 512.8L163.8 511.6L166.2 507.3L167.0 505.6L168.1 502.8L168.6 501.0L169.2 498.8L169.9 494.7L170.3 492.3L170.6 489.1L170.8 485.9L170.8 483.9L170.7 481.5L170.4 478.7L170.1 476.3L169.3 472.3L168.5 469.9L167.8 467.9L166.8 465.5L165.0 461.9L163.4 458.6L162.6 457.2L161.8 456.0L161.4 455.5L158.6 455.5L151.8 455.5L151.0 456.6L149.9 458.7L148.6 461.9L147.2 465.1L145.9 468.7L145.3 470.7L144.7 473.5L144.3 476.3L144.1 478.7L144.1 483.9L144.6 489.5L145.6 494.7L146.5 498.3L147.3 501.2L148.2 503.5L149.4 506.1L150.6 508.3L152.2 510.9L153.3 512.4L154.2 513.3L155.0 514.0L156.2 514.7Z" fill="#ffdcd6"/><path d="M156.8 508.8L157.8 509.0L159.0 508.9L160.2 508.5L161.0 508.0L162.2 507.0L163.0 506.1L164.0 504.8L165.0 502.9L165.8 501.2L166.4 499.6L167.7 494.3L168.4 489.9L168.7 485.1L168.6 481.5L168.1 477.1L167.3 473.5L166.0 469.9L164.6 467.1L163.0 464.6L161.8 463.1L160.2 461.4L159.0 460.4L158.2 459.9L157.0 459.5L156.2 459.6L155.4 459.8L154.6 460.2L153.4 461.3L152.2 462.6L151.0 464.1L150.1 465.5L148.5 468.7L147.9 470.3L147.3 472.3L146.9 473.9L146.5 475.9L146.3 477.9L146.2 479.9L146.2 484.3L146.8 489.5L147.7 493.9L149.4 499.5L150.1 501.2L150.9 502.8L151.8 504.3L152.7 505.6L153.8 506.8L154.6 507.5L155.4 508.1L156.6 508.7Z" fill="#ffcac1"/><path d="M157.2 504.0L158.2 504.0L159.0 503.9L159.8 503.6L160.6 503.2L161.4 502.5L162.2 501.6L163.4 499.6L164.6 496.6L165.8 492.7L166.4 488.7L166.7 484.3L166.6 481.1L166.1 477.5L165.3 474.3L164.2 471.6L163.0 469.4L161.4 467.3L159.8 465.8L159.0 465.4L157.8 465.0L156.6 464.9L155.8 465.0L155.0 465.2L154.2 465.7L153.4 466.3L152.6 467.1L151.8 468.0L151.0 469.3L150.5 470.3L149.8 471.9L148.9 474.7L148.3 478.3L148.1 481.9L148.3 485.1L148.9 489.5L149.8 493.1L151.0 496.7L152.2 499.4L153.0 500.7L153.7 501.6L154.6 502.6L155.4 503.2L156.2 503.6L157.0 503.9Z" fill="#ffb5a7"/><path d="M156.5 499.2L157.0 499.4L157.8 499.5L158.6 499.4L159.4 499.1L160.6 498.1L161.8 496.5L163.0 494.0L163.8 491.6L164.4 488.7L164.8 485.1L164.8 482.3L164.3 478.7L163.8 476.6L163.1 474.3L162.0 472.3L160.6 470.5L159.4 469.5L158.2 468.9L157.4 468.7L156.6 468.7L155.4 469.0L154.2 469.7L153.0 471.0L151.8 472.9L151.1 474.7L150.4 477.5L150.1 479.9L150.0 482.7L150.1 485.1L150.7 488.7L151.4 491.3L152.2 493.5L153.4 495.9L154.2 497.1L154.9 497.9L156.2 499.0Z" fill="#ff9986"/><path d="M157.2 495.1L158.2 495.2L159.3 494.7L160.2 493.9L161.1 492.7L161.8 491.0L162.4 489.1L162.9 486.3L163.1 484.3L163.0 482.2L162.6 479.1L162.2 477.7L161.7 476.3L161.0 474.7L160.1 473.5L159.0 472.6L157.8 472.1L156.6 472.0L155.4 472.4L154.5 473.1L153.6 474.3L152.8 475.9L152.2 477.9L152.0 479.5L151.7 482.3L151.8 484.3L152.0 485.9L152.6 488.7L153.3 490.7L154.2 492.5L155.0 493.7L155.8 494.5L157.0 495.1Z" fill="#ff7b63"/><path d="M156.5 491.1L157.4 491.5L158.2 491.4L159.0 491.0L159.6 490.3L160.2 489.4L160.7 488.3L161.2 486.3L161.5 484.7L161.5 483.5L161.4 481.9L161.0 480.2L160.6 478.6L160.2 477.6L159.7 476.7L159.0 476.0L158.2 475.4L157.4 475.1L156.6 475.2L155.8 475.6L155.0 476.4L154.5 477.1L154.0 478.3L153.8 479.1L153.5 481.1L153.4 482.7L153.4 483.9L153.5 485.1L153.8 486.3L154.5 488.3L154.8 489.1L155.4 490.1L156.2 490.9Z" fill="#ff6246"/></g>
<g stroke="none"><path d="M209.5 531.2L209.9 531.4L210.3 530.7L210.7 529.1L211.6 522.8L212.4 515.2L212.8 508.4L213.2 500.0L213.6 485.1L213.5 471.5L212.9 455.5L210.3 455.5L206.7 455.5L206.2 469.9L206.0 477.1L206.0 485.1L206.2 493.1L206.4 501.6L206.9 511.2L207.3 516.0L208.1 523.6L208.9 528.8L209.1 530.0L209.5 531.2Z" fill="#ffffff"/><path d="M209.4 522.8L209.5 522.9L209.9 523.1L210.3 522.6L210.7 521.2L211.1 518.8L211.8 514.0L212.1 509.6L212.6 501.6L212.9 493.9L213.1 486.3L213.0 472.7L212.3 455.5L210.3 455.5L207.3 455.5L206.8 467.1L206.5 476.3L206.5 484.3L206.6 490.7L206.9 499.6L207.3 506.4L207.6 512.0L208.0 515.6L208.7 520.2L209.3 522.4Z" fill="#f6f6fb"/><path d="M209.5 515.2L209.9 515.4L210.3 514.8L210.4 514.4L211.0 512.0L211.4 508.8L212.1 499.2L212.4 492.3L212.5 485.5L212.6 478.3L212.4 472.7L212.2 465.9L211.5 455.5L210.3 455.5L208.1 455.5L207.3 468.3L207.1 477.1L207.0 484.3L207.1 489.5L207.6 501.2L208.4 510.4L208.8 512.8L209.1 514.2L209.3 514.8Z" fill="#eaeaf6"/><path d="M209.6 509.6L209.9 509.7L210.3 509.0L210.4 508.4L210.8 506.4L211.4 502.0L211.9 493.9L212.1 483.9L212.1 477.9L212.0 472.3L211.7 466.3L211.1 458.7L210.8 455.5L209.9 455.5L208.9 455.5L208.7 456.7L207.8 468.7L207.5 478.7L207.6 489.5L208.0 499.2L208.3 502.4L208.7 505.8L209.1 508.2L209.5 509.5Z" fill="#dadaef"/><path d="M209.5 504.4L209.9 504.7L210.3 504.0L210.7 502.2L210.9 500.4L211.5 493.1L211.8 484.3L211.7 476.3L211.4 468.7L211.1 465.3L210.7 462.0L210.3 459.4L209.9 458.3L209.5 458.7L209.3 459.5L209.1 460.6L208.5 465.1L208.1 471.5L207.8 478.3L207.8 485.5L208.2 494.3L208.7 500.8L209.1 503.2L209.3 504.0Z" fill="#c7c7e7"/><path d="M209.6 500.4L209.9 500.6L210.3 499.7L210.7 497.2L211.1 492.3L211.4 484.3L211.4 477.5L211.1 470.9L210.6 466.3L210.3 464.6L209.9 463.8L209.5 464.1L209.1 465.6L208.7 468.6L208.3 473.9L208.2 478.7L208.2 485.1L208.5 492.3L209.0 497.9L209.5 500.3Z" fill="#b0b0dd"/><path d="M209.8 496.3L209.9 496.5L210.3 495.3L210.7 492.2L211.1 483.9L211.1 478.3L210.8 473.1L210.7 471.3L210.3 468.5L209.9 467.5L209.5 467.8L209.1 469.7L208.7 473.8L208.5 478.7L208.5 484.3L208.7 489.3L209.1 494.0L209.5 496.1Z" fill="#9292d0"/><path d="M209.8 492.7L209.9 492.9L210.3 491.4L210.7 486.8L210.8 483.9L210.8 478.7L210.7 476.1L210.3 472.0L209.9 470.7L209.5 471.2L209.1 473.5L208.8 478.7L208.9 485.9L209.1 489.6L209.5 492.4Z" fill="#7272c2"/><path d="M209.8 489.5L209.9 489.6L210.3 487.5L210.5 483.5L210.4 477.1L210.3 475.4L209.9 473.5L209.5 474.1L209.1 478.7L209.1 484.7L209.5 488.7L209.6 489.1Z" fill="#5858b7"/></g>
<path d="M156.8 493.5L157.4 493.7L157.8 493.8L158.6 493.6L159.4 493.1L160.2 492.2L161.0 490.8L161.7 489.1L162.2 486.7L162.5 484.7L162.5 483.1L162.2 481.1L161.8 478.9L161.4 477.6L160.6 475.9L159.9 474.7L159.0 473.9L158.2 473.4L157.0 473.2L156.2 473.3L155.2 473.9L154.4 474.7L153.7 475.9L153.0 477.7L152.7 479.1L152.4 481.5L152.4 483.1L152.5 484.7L152.8 486.3L153.4 488.8L154.2 490.7L155.0 492.0L155.8 492.9L156.6 493.5ZM157.3 505.2L158.2 505.2L159.0 505.1L160.2 504.6L161.0 504.1L161.8 503.4L162.6 502.5L163.3 501.6L163.9 500.4L165.1 497.1L165.9 494.7L166.3 492.7L166.9 488.7L167.2 484.3L167.0 480.7L166.5 477.1L165.7 473.9L164.5 470.7L163.8 469.5L163.0 468.2L161.4 466.1L160.6 465.4L159.8 464.8L158.6 464.2L157.8 463.9L156.6 463.8L155.8 463.9L155.0 464.2L153.8 464.8L153.0 465.5L152.2 466.3L151.4 467.4L150.6 468.7L149.4 471.2L148.5 474.3L147.8 477.9L147.6 481.9L147.8 485.1L148.4 489.9L149.4 493.9L150.8 497.9L152.2 500.8L153.4 502.6L154.2 503.4L155.0 504.1L155.8 504.6L157.0 505.1ZM149.4 455.5L148.2 458.1L147.0 461.9L145.4 466.3L144.3 469.9L143.6 473.5L143.1 477.9L143.0 482.3L143.2 485.5L143.7 490.3L144.1 493.1L144.7 495.9L145.5 499.2L146.2 501.6L148.0 506.4L150.6 511.7L151.4 513.1L152.2 514.2L153.0 515.2L154.2 516.2L155.4 517.0L156.2 517.4L157.4 517.8L158.6 517.9L159.4 517.8L160.6 517.4L161.8 516.8L162.6 516.2L163.7 515.2L164.6 514.0L166.0 511.6L168.2 506.3L169.8 501.6L170.4 498.8L171.0 495.1L171.6 489.9L171.8 485.5L171.8 482.3L171.4 477.9L170.7 473.5L169.7 469.9L168.5 466.3L166.6 461.9L165.0 458.0L163.8 455.5M141.9 455.5L140.6 462.3L139.7 466.3L139.0 469.9L138.5 473.9L138.2 478.3L138.2 483.9L138.6 488.7L139.2 493.9L140.5 501.2L141.7 506.0L144.2 514.4L146.5 519.6L147.8 522.3L149.2 524.8L150.2 526.4L151.1 527.6L152.2 528.8L153.8 530.2L155.4 531.4L156.6 532.1L157.8 532.5L159.0 532.7L160.2 532.5L161.4 532.0L162.6 531.2L164.2 529.8L165.4 528.7L166.4 527.6L167.2 526.4L168.2 524.6L170.6 519.6L172.5 514.4L174.4 506.4L175.4 501.2L176.3 493.9L176.6 489.1L176.7 483.9L176.4 478.3L175.8 473.9L175.0 469.9L174.0 465.9L172.9 461.9L171.3 455.5" fill="none" stroke="#ff5a3c" stroke-width="1.4" stroke-linejoin="round"/>
<path d="M209.9 491.5L210.3 489.9L210.6 485.9L210.7 483.5L210.7 478.7L210.6 476.7L210.3 473.2L209.9 471.9L209.5 472.3L209.2 473.9L209.1 475.2L208.9 478.7L209.0 485.9L209.2 489.1L209.5 491.0L209.6 491.1ZM209.7 501.6L209.9 501.7L210.3 500.8L210.8 497.5L211.3 491.5L211.5 483.9L211.5 476.7L211.1 469.5L210.7 465.6L210.3 463.6L209.9 462.7L209.5 463.0L209.1 464.5L208.7 467.3L208.3 473.1L208.1 478.7L208.1 485.1L208.4 492.7L208.9 498.3L209.1 499.8L209.5 501.4ZM208.5 455.5L207.7 465.9L207.4 473.5L207.3 479.1L207.4 489.1L207.8 498.8L208.3 505.3L208.7 508.7L209.1 510.9L209.5 512.0L209.9 512.3L210.3 511.6L210.7 510.0L211.1 507.2L211.5 503.6L212.0 496.7L212.2 488.7L212.3 479.1L212.2 473.1L211.9 465.9L211.1 455.5M207.2 455.5L206.6 469.9L206.4 477.9L206.5 488.7L206.8 500.0L207.4 510.0L208.0 516.8L208.6 520.8L209.0 522.8L209.5 524.0L209.9 524.2L210.3 523.7L210.7 522.4L211.1 520.3L211.7 515.6L212.2 509.6L212.9 497.9L213.2 485.9L213.2 477.9L213.0 468.7L212.4 455.5" fill="none" stroke="#4f4fb3" stroke-width="1.4" stroke-linejoin="round"/></g>
<g clip-path="url(#c52)"><g stroke="none"><path d="M245.6 530.8L246.7 531.0L247.5 531.0L249.1 530.6L251.1 529.6L253.1 528.1L254.3 526.8L255.7 524.8L257.3 522.0L258.8 518.8L260.2 515.6L261.0 513.2L263.0 506.0L264.0 501.6L264.6 498.3L265.3 493.1L265.7 489.1L265.9 485.1L265.9 482.3L265.8 478.7L265.2 473.1L264.2 467.9L262.8 462.2L261.2 455.5L248.3 455.5L233.0 455.5L231.5 461.9L230.2 467.1L229.5 470.3L228.8 474.7L228.4 479.9L228.3 484.3L228.5 488.7L228.9 493.1L229.6 498.3L230.2 501.6L230.9 504.8L233.4 514.0L234.5 516.8L236.3 520.8L238.0 524.0L239.5 526.3L240.7 527.7L242.3 529.1L243.9 530.1L245.5 530.8Z" fill="#fff7f5"/><path d="M246.0 521.6L247.5 521.7L248.7 521.4L249.9 520.9L251.1 520.2L252.3 519.1L253.9 517.3L255.4 515.2L256.3 513.4L259.2 506.0L260.2 502.8L260.8 500.4L261.4 497.1L262.1 492.7L262.6 488.7L262.8 484.7L262.8 481.9L262.6 477.9L262.2 474.3L261.8 471.9L261.2 469.5L260.3 466.3L258.8 461.9L257.6 457.9L256.7 455.5L248.3 455.5L237.5 455.5L236.6 457.9L235.4 461.9L234.0 465.9L232.8 470.3L232.2 473.1L231.8 475.5L231.6 478.3L231.4 481.1L231.4 483.9L231.5 486.3L231.7 489.9L232.2 493.5L232.9 497.9L233.6 501.2L234.2 503.6L235.3 506.8L237.7 513.2L238.7 515.1L239.9 516.8L241.5 518.8L242.7 519.9L244.3 521.0L245.9 521.6Z" fill="#ffebe8"/><path d="M245.2 514.8L245.9 515.0L246.7 515.1L247.9 515.1L249.1 514.7L250.3 514.1L251.4 513.2L252.3 512.0L253.5 510.2L255.1 507.4L256.1 505.6L257.1 502.9L257.8 501.2L258.4 498.8L259.3 494.7L259.7 492.3L260.1 489.1L260.4 485.9L260.4 481.9L260.3 478.7L260.0 476.7L259.7 474.3L259.3 472.3L258.6 469.9L257.9 467.9L257.0 465.5L255.3 461.9L253.9 458.8L253.1 457.3L252.3 456.0L251.9 455.5L249.1 455.5L242.3 455.5L241.5 456.5L240.3 458.6L238.9 461.9L237.4 465.1L235.8 469.1L235.1 471.5L234.6 473.9L234.1 476.7L233.9 479.1L233.8 484.3L234.1 489.5L234.9 494.7L235.7 498.3L236.4 501.2L237.3 503.6L238.3 506.0L239.5 508.3L241.1 510.9L242.1 512.4L243.1 513.5L243.9 514.1L245.1 514.8Z" fill="#ffdcd6"/><path d="M245.7 508.8L246.7 509.0L247.9 508.9L249.1 508.5L249.9 508.0L251.1 507.1L252.2 506.0L253.1 504.6L254.2 502.8L255.0 501.2L255.6 499.6L256.3 497.0L257.1 493.9L257.9 489.5L258.3 485.1L258.3 481.5L257.9 477.1L257.3 473.5L256.1 469.9L254.7 466.9L253.9 465.5L253.1 464.4L251.9 462.9L250.3 461.2L249.5 460.5L248.6 459.9L247.5 459.5L246.7 459.5L245.9 459.7L245.1 460.1L243.9 461.1L242.7 462.4L241.5 463.8L240.3 465.5L238.6 468.7L237.9 470.3L237.3 472.3L236.8 473.9L236.4 475.9L236.1 477.9L236.0 479.9L235.8 484.3L236.3 489.5L237.1 493.9L237.9 497.1L238.6 499.6L239.2 501.2L239.9 502.7L240.7 504.1L241.7 505.6L242.7 506.7L243.5 507.5L244.3 508.1L245.5 508.7Z" fill="#ffcac1"/><path d="M246.3 504.0L247.1 504.1L247.9 504.0L248.7 503.7L249.7 503.2L250.7 502.4L251.4 501.6L252.7 499.6L253.9 496.6L255.2 492.7L255.9 489.1L256.3 484.7L256.3 481.9L256.0 477.9L255.2 474.3L254.4 471.9L253.1 469.4L252.3 468.2L251.5 467.2L250.7 466.4L249.9 465.8L249.1 465.3L248.3 465.0L247.5 464.9L246.3 464.9L245.5 465.1L244.7 465.5L243.9 466.0L243.1 466.7L242.1 467.9L241.2 469.1L239.9 471.6L239.0 474.3L238.2 477.9L237.9 481.1L237.8 484.3L238.3 488.7L239.0 492.7L239.9 495.7L241.1 498.8L241.9 500.3L242.5 501.2L243.1 502.0L243.9 502.8L244.7 503.3L245.9 503.9Z" fill="#ffb5a7"/><path d="M245.7 499.2L246.3 499.4L247.1 499.5L248.3 499.3L249.1 498.8L249.9 498.0L251.1 496.4L252.3 494.2L253.2 491.9L253.9 488.8L254.4 485.1L254.5 482.3L254.2 478.7L253.7 476.7L253.0 474.3L251.9 472.1L250.7 470.5L249.5 469.5L248.3 468.9L247.5 468.7L246.7 468.7L245.5 469.0L244.7 469.4L243.9 470.0L242.7 471.4L241.7 473.1L241.0 474.7L240.3 477.5L239.9 480.3L239.7 483.1L239.8 485.5L240.3 489.1L241.1 492.2L241.9 494.3L243.1 496.5L244.3 498.1L245.5 499.1Z" fill="#ff9986"/><path d="M246.5 495.1L247.5 495.2L248.3 494.9L248.7 494.7L249.5 494.0L250.5 492.7L251.2 491.1L251.9 489.1L252.5 486.3L252.8 484.3L252.7 482.1L252.4 479.1L252.0 477.5L251.5 476.1L250.7 474.5L249.9 473.4L249.1 472.7L247.9 472.1L246.7 472.0L245.5 472.4L244.3 473.3L243.5 474.3L242.7 475.9L242.1 477.9L241.7 479.5L241.4 482.3L241.4 484.3L241.6 485.9L242.2 488.7L242.7 490.6L243.5 492.4L244.3 493.6L245.1 494.4L245.6 494.7L246.3 495.1Z" fill="#ff7b63"/><path d="M246.0 491.1L246.7 491.5L247.5 491.5L248.3 491.1L249.1 490.3L249.6 489.5L250.2 488.3L250.7 486.5L251.1 484.7L251.2 483.5L251.1 481.9L250.7 479.8L250.4 478.3L249.9 477.4L249.2 476.3L248.7 475.8L247.9 475.3L247.1 475.1L246.3 475.2L245.5 475.7L244.7 476.6L244.2 477.5L243.7 478.7L243.1 481.8L243.0 483.5L243.1 484.7L243.4 486.3L243.9 487.9L244.3 489.1L244.7 489.8L245.1 490.4L245.9 491.1Z" fill="#ff6246"/></g>
<g stroke="none"><path d="M289.8 531.2L290.4 531.4L290.8 531.4L291.6 531.1L292.4 530.2L293.2 528.7L294.8 525.0L295.6 522.8L297.4 515.6L298.5 509.6L299.7 500.8L300.3 493.1L300.7 485.1L300.7 478.3L300.5 473.1L300.1 467.9L298.9 455.5L291.6 455.5L282.3 455.5L281.0 469.1L280.5 477.5L280.5 485.1L281.0 494.3L281.7 502.0L283.0 511.6L283.9 516.0L285.1 520.8L285.9 523.6L288.0 528.7L288.8 530.1L289.6 531.0Z" fill="#ffffff"/><path d="M289.5 522.8L290.4 523.1L291.2 523.0L292.0 522.5L292.8 521.6L293.6 520.2L294.4 518.3L295.3 516.0L295.9 514.0L297.0 509.2L298.2 501.2L299.0 493.5L299.4 485.9L299.5 478.7L299.2 473.5L298.7 466.7L297.4 455.5L292.0 455.5L283.8 455.5L282.3 469.1L281.8 476.3L281.7 483.9L282.0 489.5L282.6 497.5L283.3 503.6L284.5 510.4L285.6 514.9L286.4 517.2L287.6 520.1L288.4 521.5L289.2 522.5Z" fill="#f6f6fb"/><path d="M289.8 515.2L290.4 515.4L291.2 515.3L292.0 514.8L292.4 514.3L292.9 513.6L293.6 512.3L294.2 510.8L294.8 508.8L296.2 502.8L296.8 498.8L297.5 492.7L298.0 485.5L298.0 478.3L297.7 472.7L297.0 466.3L295.3 455.5L292.0 455.5L285.9 455.5L284.0 467.9L283.5 473.1L283.3 477.1L283.2 484.3L283.4 489.1L283.9 494.7L284.7 501.2L286.0 507.2L287.0 510.8L287.6 512.2L288.4 513.7L288.8 514.4L289.6 515.1Z" fill="#eaeaf6"/><path d="M289.9 509.6L290.4 509.7L290.8 509.7L291.2 509.6L291.8 509.2L292.4 508.4L293.0 507.2L293.6 505.8L294.7 502.4L295.5 498.8L296.2 493.9L296.6 489.5L296.9 484.7L296.9 478.7L296.7 474.7L296.2 469.9L295.6 465.9L294.0 458.3L293.2 455.5L291.6 455.5L288.0 455.5L287.9 455.9L287.1 458.7L285.4 467.5L284.7 473.1L284.3 477.9L284.3 484.3L284.6 488.7L285.0 493.5L285.7 498.3L286.4 502.0L287.6 505.7L288.6 508.0L289.2 508.9L289.6 509.3Z" fill="#dadaef"/><path d="M289.7 504.4L290.4 504.7L290.8 504.7L291.2 504.6L291.6 504.3L292.2 503.6L292.8 502.7L293.6 500.7L294.4 497.5L295.1 493.5L295.5 489.5L295.9 484.7L295.8 477.1L295.5 473.5L294.9 469.1L294.1 465.5L293.2 462.5L292.0 459.5L291.6 458.9L291.2 458.5L290.8 458.3L290.3 458.3L290.0 458.5L289.6 458.9L289.2 459.5L288.4 461.5L287.2 465.1L286.4 468.3L285.9 471.5L285.6 474.3L285.3 478.3L285.3 483.9L285.4 485.9L285.7 490.3L286.3 494.7L287.0 498.3L287.8 501.2L288.7 503.2L289.6 504.3Z" fill="#c7c7e7"/><path d="M289.9 500.4L290.4 500.6L290.8 500.6L291.2 500.5L291.6 500.1L292.4 498.8L293.1 496.7L293.8 493.9L294.3 491.1L294.7 488.3L295.0 484.3L294.9 477.5L294.6 474.3L294.2 471.5L293.6 468.7L292.8 466.2L292.0 464.7L291.2 463.9L290.8 463.8L290.4 463.8L290.0 463.9L289.6 464.3L288.8 465.4L288.0 467.4L287.3 469.9L286.8 472.8L286.5 474.7L286.3 478.3L286.3 485.1L286.6 489.1L287.0 491.9L287.5 494.7L288.2 497.1L288.8 498.8L289.6 500.1Z" fill="#b0b0dd"/><path d="M290.2 496.3L290.4 496.5L290.8 496.5L291.2 496.3L291.6 495.8L292.2 494.7L292.8 493.1L293.2 491.4L293.6 489.1L294.0 485.9L294.1 483.9L294.1 478.3L293.5 473.5L293.1 471.5L292.4 469.5L291.6 468.0L291.2 467.7L290.8 467.5L290.4 467.5L290.0 467.7L289.6 468.1L289.0 469.1L288.5 470.3L288.0 472.1L287.6 474.1L287.1 478.7L287.1 484.7L287.7 489.5L288.2 492.3L288.8 494.2L289.2 495.1L289.6 495.8L290.0 496.2Z" fill="#9292d0"/><path d="M290.1 492.7L290.4 492.9L290.8 492.9L291.2 492.7L291.6 492.1L292.0 491.2L292.4 490.0L292.8 488.1L293.2 485.5L293.3 483.9L293.3 478.3L292.8 474.7L292.4 473.2L292.0 472.1L291.6 471.4L291.2 470.9L290.8 470.7L290.4 470.7L290.0 471.0L289.6 471.5L288.8 473.1L288.4 475.0L287.9 478.7L287.9 483.9L288.2 486.7L288.5 488.7L288.9 490.3L289.6 492.1L290.0 492.6Z" fill="#7272c2"/><path d="M290.3 489.5L290.4 489.6L290.8 489.6L291.2 489.3L291.6 488.5L292.3 485.9L292.5 483.9L292.5 479.1L292.4 477.5L292.0 475.6L291.6 474.4L291.2 473.8L290.9 473.5L290.3 473.5L290.0 473.8L289.6 474.5L289.0 476.7L288.7 478.7L288.7 483.9L288.8 485.1L289.2 487.1L289.6 488.5L290.0 489.3Z" fill="#5858b7"/></g>
<path d="M246.1 493.5L247.1 493.8L248.1 493.5L248.7 493.2L249.1 492.8L249.9 491.7L250.7 490.2L251.3 488.7L251.8 486.3L252.1 484.7L252.1 483.1L252.0 481.1L251.6 478.7L251.3 477.5L250.7 476.2L249.9 474.9L249.1 474.0L248.3 473.5L247.5 473.2L246.3 473.3L245.8 473.5L245.1 473.9L244.4 474.7L243.5 476.1L242.9 477.5L242.6 478.7L242.2 481.1L242.1 483.1L242.1 484.7L242.4 486.3L242.9 488.7L243.5 490.4L244.3 491.9L245.1 492.9L245.9 493.5ZM246.3 505.2L247.1 505.2L247.9 505.2L248.7 504.9L249.9 504.2L250.7 503.6L251.5 502.7L252.3 501.7L253.1 500.2L254.4 497.1L255.2 494.7L255.7 492.7L256.5 488.7L256.9 484.3L256.8 480.7L256.4 477.1L255.7 473.9L254.5 470.7L253.9 469.5L253.1 468.1L251.5 466.0L250.7 465.3L249.9 464.7L249.1 464.3L248.1 463.9L247.1 463.8L246.3 463.9L245.5 464.1L244.3 464.7L243.5 465.2L242.7 466.0L241.5 467.4L240.7 468.7L239.5 471.1L238.4 474.3L237.7 477.9L237.4 481.5L237.4 484.7L237.9 489.5L238.7 493.5L239.9 497.5L241.1 500.4L242.4 502.4L243.1 503.2L243.9 504.0L244.7 504.5L245.9 505.1ZM239.9 455.5L238.7 458.0L237.3 461.9L235.5 466.3L234.4 469.9L233.6 473.5L233.0 477.9L232.7 482.3L232.8 485.5L233.2 490.3L233.9 495.5L234.7 499.2L235.3 501.6L237.0 506.4L239.5 511.9L240.3 513.3L241.1 514.4L241.9 515.3L243.1 516.4L243.9 516.9L245.1 517.5L245.9 517.8L247.1 517.9L248.3 517.7L249.5 517.3L250.7 516.6L251.5 516.0L253.1 514.4L253.9 513.2L254.7 511.7L257.2 506.4L258.9 501.6L259.5 499.2L260.3 495.5L261.0 490.3L261.4 485.5L261.5 482.3L261.2 477.9L260.6 473.5L259.8 469.9L258.7 466.3L256.9 461.9L255.5 458.1L254.3 455.5M232.4 455.5L231.0 461.9L230.0 465.9L229.1 469.9L228.4 473.9L228.0 478.3L227.9 483.9L228.1 489.1L228.6 494.3L229.6 501.2L230.8 506.4L233.0 514.4L235.1 519.8L237.5 524.6L238.6 526.4L239.4 527.6L240.7 529.0L241.9 530.1L243.5 531.3L244.7 532.0L245.9 532.5L247.1 532.7L248.3 532.5L249.5 532.0L250.7 531.3L252.3 530.0L253.5 528.9L254.8 527.6L255.6 526.4L256.7 524.5L259.1 519.6L261.2 514.4L263.4 506.4L264.6 501.2L265.6 493.9L266.1 489.1L266.3 483.9L266.2 478.3L265.8 473.9L265.1 469.9L264.2 465.9L263.2 461.9L261.8 455.5" fill="none" stroke="#ff5a3c" stroke-width="1.4" stroke-linejoin="round"/>
<path d="M290.4 491.5L290.8 491.6L291.2 491.3L291.6 490.7L292.0 489.7L292.4 488.2L292.7 486.3L293.0 483.9L293.0 478.7L292.7 476.3L292.4 474.7L292.0 473.4L291.6 472.6L291.2 472.1L290.9 471.9L290.4 471.9L290.0 472.1L289.6 472.7L289.2 473.5L288.8 474.7L288.6 475.9L288.2 478.7L288.2 483.9L288.4 485.7L288.8 488.0L289.2 489.5L289.6 490.6L290.0 491.2ZM290.1 501.6L290.4 501.7L290.8 501.7L291.2 501.5L291.6 501.2L292.4 500.0L293.2 498.0L293.9 495.1L294.4 492.3L294.9 488.7L295.2 484.3L295.2 479.1L295.1 477.1L294.8 473.5L294.3 470.3L293.6 467.4L292.8 465.1L292.0 463.7L291.2 462.8L290.8 462.7L290.4 462.7L290.0 462.9L289.6 463.2L288.8 464.4L288.0 466.2L287.2 469.1L286.7 471.9L286.3 474.7L286.0 478.3L286.0 485.1L286.4 489.3L286.9 493.1L287.6 496.4L288.4 499.1L289.2 500.7L289.6 501.2L290.0 501.5ZM287.0 455.5L286.4 458.3L285.0 465.9L284.5 469.5L284.1 473.1L283.8 479.1L283.8 484.3L284.1 489.1L284.5 494.3L285.2 499.6L285.8 502.4L286.8 506.1L287.7 508.8L288.2 510.0L288.8 511.0L289.6 511.9L290.0 512.1L290.4 512.3L290.8 512.3L291.5 512.0L292.0 511.5L292.8 510.4L293.8 508.0L294.9 504.4L295.7 501.2L296.2 497.9L296.8 493.5L297.2 488.7L297.4 484.3L297.4 479.1L297.1 473.1L296.7 469.5L296.2 465.9L294.8 458.1L294.2 455.5M283.6 455.5L282.1 469.1L281.7 473.9L281.6 477.9L281.6 484.3L281.7 488.7L282.0 493.9L282.5 499.2L283.0 502.8L284.1 510.0L284.9 513.6L285.7 516.4L287.2 520.4L287.7 521.6L288.4 522.7L288.8 523.2L289.6 523.9L290.0 524.1L290.8 524.2L291.2 524.1L292.0 523.6L292.8 522.8L293.2 522.1L294.4 519.5L295.8 515.6L296.6 512.4L297.3 508.8L298.3 502.4L298.7 498.8L299.2 493.1L299.5 488.7L299.6 484.3L299.6 477.9L299.4 473.5L299.1 468.7L297.6 455.5" fill="none" stroke="#4f4fb3" stroke-width="1.4" stroke-linejoin="round"/></g>
<g clip-path="url(#c53)"><g stroke="none"><path d="M350.5 530.8L352.0 531.0L353.3 531.0L355.7 530.7L358.5 529.8L360.1 529.0L361.7 528.1L363.5 526.8L365.5 524.8L368.1 521.7L370.2 518.8L372.2 515.6L373.4 513.2L376.3 506.0L377.7 502.0L378.7 498.3L379.7 493.1L380.3 489.1L380.6 485.5L380.7 482.7L380.5 478.7L380.0 475.1L379.5 472.7L378.3 468.3L377.5 465.9L376.0 462.3L374.6 457.9L373.7 455.5L355.3 455.5L331.9 455.5L331.0 457.9L329.6 462.3L327.7 467.1L326.7 470.3L325.7 474.3L325.3 477.1L325.1 479.1L324.9 483.9L325.2 488.3L325.8 492.7L326.6 497.1L327.5 500.8L328.4 503.6L329.6 506.8L332.5 514.0L334.0 516.6L336.5 520.4L339.2 523.8L341.2 526.0L343.1 527.6L345.2 528.9L348.0 530.1L350.4 530.8Z" fill="#fff7f5"/><path d="M351.1 521.6L352.9 521.7L354.9 521.5L356.9 521.0L358.9 520.1L360.9 518.9L363.3 517.0L365.1 515.2L366.5 513.4L367.6 511.6L370.5 506.4L372.0 503.2L373.0 500.8L373.9 497.5L375.1 492.7L375.7 489.1L376.0 485.1L376.1 482.3L375.8 478.3L375.2 474.7L374.6 472.3L373.7 469.5L372.3 466.3L370.1 461.9L368.3 457.9L367.0 455.5L354.9 455.5L338.6 455.5L337.3 457.9L335.5 461.9L333.5 465.9L331.8 469.9L330.9 472.7L330.4 474.7L329.8 477.9L329.6 480.7L329.5 483.5L329.6 485.9L330.0 489.5L330.7 493.5L331.8 497.9L332.6 500.8L333.6 503.2L335.1 506.4L339.0 513.2L340.2 514.8L341.6 516.3L344.0 518.4L346.0 519.8L348.4 520.9L350.8 521.5Z" fill="#ffebe8"/><path d="M350.0 514.8L352.0 515.1L354.1 515.1L356.1 514.7L357.7 514.0L359.3 513.1L360.9 511.7L362.5 510.1L364.6 507.6L366.1 505.6L367.5 503.2L368.6 501.2L369.4 499.2L370.6 495.5L371.4 492.7L372.0 489.5L372.4 486.3L372.5 484.3L372.5 482.3L372.3 479.1L372.0 477.1L371.5 474.7L370.9 472.7L370.0 470.3L369.1 468.3L367.4 465.5L364.9 461.9L362.9 458.7L361.9 457.5L360.9 456.3L360.0 455.5L356.1 455.5L345.6 455.5L344.4 456.6L342.8 458.6L340.7 461.9L338.4 465.1L336.3 468.7L335.4 470.7L334.4 473.5L333.7 476.3L333.3 478.7L333.1 481.5L333.0 483.9L333.2 485.9L333.6 489.5L334.2 492.3L334.8 494.7L335.9 498.3L337.0 501.2L338.3 503.6L339.8 506.0L341.3 508.0L343.6 510.6L345.2 512.2L346.5 513.2L348.0 514.1L349.6 514.7Z" fill="#ffdcd6"/><path d="M350.8 508.8L352.5 509.0L354.1 508.9L355.7 508.5L357.3 507.9L358.9 507.0L360.5 505.8L362.1 504.3L363.3 502.9L364.5 501.2L365.4 499.6L366.4 497.1L367.5 494.3L368.1 492.3L368.7 489.9L369.0 488.3L369.4 485.1L369.5 483.5L369.4 481.5L369.1 478.7L368.9 477.1L368.2 474.7L367.8 473.5L367.2 471.9L366.1 469.9L365.1 468.3L363.9 466.7L362.9 465.5L361.7 464.3L360.1 463.0L357.7 461.2L356.5 460.5L355.1 459.9L353.7 459.6L352.5 459.5L351.2 459.7L349.6 460.2L348.0 461.1L346.0 462.6L344.0 464.2L342.7 465.5L341.2 467.3L340.0 469.0L339.2 470.3L338.3 472.3L337.6 473.9L337.0 475.9L336.6 477.9L336.3 479.9L336.2 482.3L336.1 484.3L336.3 486.3L336.8 489.5L337.5 492.3L338.0 493.9L339.2 497.1L340.2 499.6L341.1 501.2L342.0 502.5L343.2 503.9L344.8 505.6L346.0 506.5L347.6 507.6L348.8 508.1L350.4 508.7Z" fill="#ffcac1"/><path d="M351.5 504.0L352.9 504.1L354.1 504.0L355.3 503.7L356.5 503.3L357.7 502.7L358.9 501.8L360.0 500.8L360.9 499.8L361.9 498.3L362.9 496.7L364.1 494.3L364.7 492.7L365.8 489.1L366.5 484.7L366.5 481.9L366.2 479.1L366.0 477.9L365.5 476.3L364.9 474.4L363.7 472.0L362.8 470.7L361.9 469.5L360.9 468.5L359.7 467.4L358.5 466.6L357.3 465.9L356.1 465.4L354.5 465.0L353.3 464.9L351.6 464.9L350.0 465.2L348.8 465.7L347.6 466.3L346.4 467.0L345.2 468.0L344.0 469.2L343.1 470.3L342.2 471.5L341.3 473.1L340.7 474.3L340.1 476.3L339.6 477.9L339.2 481.5L339.1 483.1L339.1 484.7L339.8 489.1L340.9 492.7L341.5 494.3L342.4 496.1L343.5 497.9L344.4 499.4L345.2 500.4L346.4 501.6L347.6 502.5L348.8 503.1L350.0 503.6L351.2 503.9Z" fill="#ffb5a7"/><path d="M350.7 499.2L351.6 499.4L352.9 499.5L354.1 499.4L354.9 499.2L355.9 498.8L356.9 498.2L357.7 497.5L358.9 496.3L359.9 495.1L360.7 493.9L361.4 492.7L361.9 491.5L362.9 488.7L363.7 485.1L363.8 483.9L363.7 482.3L363.3 478.8L362.6 476.7L361.7 474.5L360.5 472.7L359.7 471.8L358.5 470.7L356.9 469.7L356.1 469.3L354.9 468.9L352.9 468.7L350.8 468.9L349.6 469.3L348.8 469.6L347.7 470.3L346.8 471.0L345.1 472.7L344.4 473.7L343.8 474.7L342.7 477.5L342.2 479.9L341.9 482.7L341.8 483.9L341.9 485.1L342.7 488.7L343.7 491.5L344.9 493.9L345.7 495.1L346.8 496.5L348.5 497.9L349.6 498.7L350.4 499.1Z" fill="#ff9986"/><path d="M351.9 495.1L353.3 495.2L354.9 494.8L356.5 493.9L357.8 492.7L358.9 491.1L360.0 489.1L360.8 486.3L361.2 484.3L361.2 482.3L360.6 479.1L360.1 477.5L359.3 475.9L358.1 474.3L356.9 473.3L355.3 472.4L353.7 472.0L352.0 472.0L350.4 472.4L348.8 473.2L347.5 474.3L346.3 475.9L345.3 477.9L344.9 479.5L344.4 482.3L344.4 484.3L344.7 485.9L345.5 488.7L346.4 490.7L347.6 492.5L348.8 493.7L350.0 494.5L351.6 495.1Z" fill="#ff7b63"/><path d="M351.1 491.1L352.0 491.4L353.3 491.5L354.5 491.2L355.7 490.4L356.6 489.5L357.4 488.3L358.3 486.3L358.7 484.7L358.8 483.5L358.7 481.9L358.1 479.5L357.7 478.4L356.9 477.2L356.1 476.4L355.3 475.8L354.1 475.3L352.9 475.1L351.6 475.2L350.4 475.7L349.2 476.6L348.4 477.6L347.8 478.7L347.0 481.5L346.8 483.1L346.8 484.3L347.1 485.5L347.5 486.7L348.2 488.3L348.8 489.3L349.6 490.2L350.8 491.0Z" fill="#ff6246"/></g>
<g stroke="none"><path d="M344.6 531.2L346.0 531.4L347.2 531.4L348.4 531.3L350.0 531.1L352.5 530.2L353.7 529.7L355.3 528.7L360.1 525.3L362.9 522.9L364.9 520.8L368.9 516.0L370.7 513.6L372.7 510.4L373.9 508.0L377.1 501.2L378.2 497.9L379.6 493.5L380.5 489.5L381.2 485.5L381.4 483.9L381.7 478.3L381.6 474.7L381.4 473.1L380.9 469.9L380.4 467.1L379.1 462.3L378.2 457.9L377.5 455.5L355.7 455.5L325.6 455.5L324.7 457.9L323.2 462.2L321.8 465.9L320.7 469.1L319.5 473.5L318.8 477.5L318.6 479.1L318.3 485.1L318.6 489.9L319.1 494.3L319.9 498.3L320.7 501.6L323.1 508.4L324.6 512.0L325.9 514.4L327.5 516.8L330.7 521.2L332.8 523.6L334.4 525.1L336.8 527.0L339.6 529.1L342.0 530.4L343.2 530.8L344.4 531.2Z" fill="#ffffff"/><path d="M344.2 522.8L346.8 523.1L349.2 523.0L351.6 522.6L354.1 521.7L356.5 520.5L358.9 518.9L362.1 516.3L364.6 514.0L366.5 511.6L368.2 509.2L371.6 503.2L372.9 500.8L374.2 497.5L375.5 493.5L376.6 489.5L377.3 485.9L377.5 483.9L377.8 478.7L377.8 476.3L377.4 473.1L376.9 469.9L376.2 467.1L374.5 461.9L373.5 457.9L372.7 455.5L356.1 455.5L330.5 455.5L329.4 457.9L327.6 462.3L326.0 465.9L324.9 468.7L323.6 473.1L322.8 476.7L322.5 479.1L322.2 484.7L322.4 489.1L322.9 492.7L323.8 497.1L324.8 500.8L325.6 502.8L327.7 507.6L329.2 510.4L330.7 512.8L332.2 514.8L334.0 516.6L336.8 519.0L339.2 520.7L341.6 522.0L344.0 522.7Z" fill="#f6f6fb"/><path d="M345.5 515.2L347.6 515.4L349.6 515.3L352.0 514.8L354.1 514.2L356.1 513.2L357.9 512.0L359.7 510.6L361.5 508.8L363.3 506.6L366.2 502.8L367.3 501.1L368.5 498.8L369.9 495.5L371.1 492.3L372.0 489.1L372.8 485.1L373.0 483.5L373.3 478.3L373.0 474.7L372.6 472.3L371.8 469.1L370.7 465.9L368.9 461.9L367.4 457.9L366.2 455.5L354.9 455.5L336.9 455.5L335.2 458.3L333.4 461.9L331.2 465.9L329.9 468.7L329.1 470.7L328.1 473.5L327.2 477.9L326.7 484.3L326.8 485.9L327.2 489.5L327.7 492.7L328.4 495.5L329.4 498.8L330.6 501.6L331.7 503.6L334.4 507.7L335.6 509.2L337.2 510.9L339.2 512.6L341.2 513.8L343.2 514.6L345.2 515.1Z" fill="#eaeaf6"/><path d="M346.3 509.6L348.0 509.7L350.0 509.6L352.0 509.1L353.7 508.5L355.3 507.7L357.3 506.3L359.7 504.2L361.6 502.4L362.9 500.8L364.1 498.9L365.3 496.7L366.6 493.9L367.6 491.5L368.3 489.1L369.1 485.9L369.4 484.3L369.8 478.3L369.3 474.3L368.9 472.3L368.1 469.7L367.2 467.5L366.2 465.5L362.0 458.3L360.9 456.8L359.6 455.5L354.1 455.5L343.5 455.5L342.6 456.3L341.2 457.8L340.2 459.1L335.7 465.5L334.3 467.9L333.1 470.3L331.8 473.5L331.0 476.3L330.6 478.3L330.2 484.3L330.3 485.9L330.7 489.1L331.3 491.9L331.9 493.9L332.9 496.7L333.9 499.2L335.1 501.2L336.0 502.5L337.6 504.2L339.6 506.2L341.2 507.4L342.8 508.4L344.4 509.1L346.0 509.5Z" fill="#dadaef"/><path d="M345.9 504.4L347.2 504.6L348.8 504.7L350.4 504.5L352.0 504.2L353.7 503.6L355.3 502.8L356.9 501.8L358.1 500.8L359.6 499.2L360.8 497.5L362.2 495.5L363.3 493.5L364.2 491.5L365.0 489.5L365.9 486.3L366.3 484.7L366.7 479.1L366.6 477.1L366.2 474.7L365.9 473.5L365.3 471.6L364.4 469.5L363.6 467.9L362.5 466.1L361.7 465.1L360.5 463.8L358.1 461.4L356.5 460.1L355.3 459.3L354.0 458.7L352.5 458.3L350.8 458.3L349.2 458.6L348.0 459.0L346.8 459.6L345.2 460.7L341.2 464.2L339.9 465.5L338.8 466.8L337.6 468.5L336.6 470.3L335.6 472.3L334.9 473.9L333.7 477.9L333.6 479.1L333.3 483.5L333.4 485.5L333.8 488.3L334.2 490.3L335.0 492.7L335.8 494.7L336.8 496.7L337.7 498.3L338.8 499.9L340.0 501.2L341.2 502.2L342.4 503.0L344.0 503.8L345.6 504.3Z" fill="#c7c7e7"/><path d="M346.7 500.4L348.0 500.6L349.2 500.6L350.4 500.5L351.6 500.2L352.9 499.7L354.1 499.1L355.3 498.3L356.5 497.3L357.7 496.1L358.8 494.7L360.5 492.3L361.3 490.7L362.1 488.9L362.9 486.3L363.4 484.7L363.5 483.5L363.8 479.1L363.7 477.9L363.5 476.3L363.0 474.3L362.1 471.9L361.2 470.3L360.4 469.1L359.3 467.7L358.1 466.5L356.9 465.6L355.7 464.9L354.5 464.4L353.3 464.0L352.0 463.8L350.8 463.8L349.6 463.9L348.0 464.2L346.8 464.6L345.6 465.2L344.4 466.0L343.2 466.9L342.0 468.1L340.8 469.4L338.8 472.4L337.7 474.7L337.0 476.7L336.6 478.3L336.2 483.5L336.3 485.1L337.1 489.1L338.3 492.3L338.9 493.5L339.9 495.1L340.8 496.4L342.0 497.7L342.8 498.4L344.0 499.3L345.2 499.9L346.4 500.3Z" fill="#b0b0dd"/><path d="M347.8 496.3L349.6 496.4L350.8 496.3L351.6 496.0L353.7 495.1L354.7 494.3L355.7 493.5L357.3 491.7L358.1 490.5L358.9 489.2L360.2 485.9L360.7 483.9L361.0 479.1L361.0 478.3L360.8 477.1L360.5 475.9L360.1 474.6L359.6 473.5L358.9 472.3L358.1 471.3L357.2 470.3L356.4 469.5L355.3 468.7L354.5 468.3L353.3 467.8L352.0 467.6L350.0 467.5L348.0 468.0L346.0 468.9L344.4 470.0L342.4 472.1L341.1 473.9L339.9 476.7L339.3 478.7L339.0 483.5L339.0 484.7L339.2 485.9L339.8 487.9L340.6 489.9L341.2 491.2L342.0 492.5L342.8 493.5L343.6 494.3L344.4 494.9L345.6 495.6L346.4 496.0L347.6 496.3Z" fill="#9292d0"/><path d="M347.9 492.7L349.2 492.9L350.8 492.7L352.5 492.1L354.1 491.0L355.3 489.8L356.3 488.3L357.6 485.9L358.1 484.3L358.5 478.7L358.3 477.5L357.7 475.9L356.9 474.2L355.7 472.8L354.1 471.6L352.5 471.0L350.8 470.7L349.2 470.9L347.6 471.4L346.0 472.3L344.6 473.5L343.6 474.7L342.5 476.7L341.9 478.3L341.8 479.1L341.5 483.9L341.6 485.1L342.0 486.4L343.1 488.7L344.2 490.3L345.2 491.3L346.0 491.9L346.8 492.4L347.6 492.7Z" fill="#7272c2"/><path d="M348.6 489.5L349.6 489.6L350.8 489.4L352.0 488.9L352.9 488.4L354.1 487.1L355.0 485.9L355.6 484.7L355.8 483.9L356.1 479.1L356.1 478.3L355.8 477.5L354.9 475.9L353.8 474.7L353.3 474.3L352.6 473.9L351.2 473.5L350.0 473.5L349.2 473.6L348.3 473.9L347.2 474.5L346.4 475.2L345.2 476.6L344.5 477.9L344.2 478.7L343.9 483.9L344.1 485.1L344.8 486.5L346.3 488.3L347.2 489.0L348.4 489.5Z" fill="#5858b7"/></g>
<path d="M351.3 493.5L352.9 493.8L354.2 493.5L355.7 492.9L356.9 491.9L358.1 490.4L358.9 489.0L359.7 486.7L360.2 484.7L360.3 483.1L360.1 481.3L359.6 479.1L359.0 477.5L358.1 476.1L356.9 474.7L355.7 473.9L354.5 473.4L353.3 473.2L351.6 473.3L350.8 473.5L350.0 473.8L348.8 474.7L347.4 476.3L346.4 477.9L346.0 479.1L345.5 481.5L345.3 483.1L345.4 484.7L345.9 486.7L346.8 489.1L347.6 490.6L348.8 492.0L350.0 493.0L351.2 493.5ZM351.6 505.2L352.9 505.2L354.1 505.2L355.3 504.9L356.9 504.3L358.5 503.4L359.7 502.5L360.7 501.6L361.7 500.4L362.7 498.8L363.7 497.1L364.8 494.7L365.6 492.7L366.2 490.7L366.6 488.7L367.3 484.3L367.3 482.7L367.1 480.7L366.9 478.7L366.5 477.1L365.5 473.9L364.7 472.3L363.8 470.7L362.9 469.4L361.7 468.0L360.5 466.9L359.3 466.0L358.1 465.2L356.9 464.6L355.7 464.2L354.2 463.9L352.9 463.8L351.2 463.9L350.0 464.2L348.4 464.8L347.2 465.4L345.9 466.3L344.4 467.5L343.2 468.8L342.3 469.9L341.3 471.5L340.4 473.1L339.9 474.3L339.3 476.3L338.9 477.9L338.4 481.9L338.3 483.5L338.4 485.1L338.9 488.3L339.2 489.9L339.9 492.3L340.4 493.8L341.2 495.6L342.4 498.0L343.4 499.6L344.2 500.8L345.2 501.8L346.0 502.6L347.2 503.5L348.4 504.2L349.6 504.7L351.2 505.1ZM342.1 455.5L340.4 457.9L338.3 461.9L335.7 466.3L334.0 469.9L332.8 473.5L332.3 475.5L331.9 477.9L331.5 482.3L331.6 485.5L332.2 490.3L332.7 493.1L333.3 495.5L334.4 499.2L335.3 501.6L336.4 503.9L337.8 506.4L341.6 511.9L342.8 513.4L344.0 514.5L345.2 515.4L346.8 516.4L348.0 516.9L349.6 517.5L351.2 517.8L352.9 517.9L354.5 517.8L356.1 517.4L357.7 516.9L359.3 516.1L360.5 515.3L361.7 514.4L362.9 513.3L364.1 511.8L367.8 506.4L369.3 503.7L370.3 501.6L371.2 499.2L372.3 495.5L372.9 493.1L373.4 490.3L374.0 485.5L374.1 482.3L373.7 477.9L373.3 475.5L372.8 473.5L371.6 469.9L369.9 466.3L367.3 461.9L365.3 458.1L363.5 455.5M331.1 455.5L330.2 457.9L329.0 461.9L327.4 465.9L326.1 469.9L325.2 473.9L324.5 478.3L324.3 483.9L324.7 489.1L325.4 494.3L326.2 498.3L326.9 501.2L328.7 506.4L331.0 512.4L331.9 514.4L333.0 516.4L334.9 519.6L336.8 522.3L338.8 524.8L340.2 526.4L341.5 527.6L343.2 528.9L345.2 530.1L347.6 531.4L349.2 532.0L351.2 532.5L352.9 532.7L354.5 532.5L356.1 532.1L357.7 531.5L360.1 530.3L362.1 529.1L364.1 527.6L365.4 526.4L366.9 524.8L368.9 522.1L370.5 519.8L372.5 516.6L373.7 514.4L374.6 512.4L377.1 506.0L378.7 501.2L379.4 498.3L380.2 494.3L380.9 489.1L381.3 483.9L381.1 478.3L380.4 473.9L379.5 469.9L378.3 466.3L376.6 461.9L375.4 457.9L374.5 455.5" fill="none" stroke="#ff5a3c" stroke-width="1.4" stroke-linejoin="round"/>
<path d="M348.8 491.5L350.0 491.5L351.6 491.1L352.9 490.5L354.0 489.5L355.1 488.3L356.3 486.3L356.9 485.1L357.3 483.9L357.6 478.7L357.3 477.5L356.8 476.3L356.0 474.7L354.9 473.5L354.1 472.9L353.3 472.5L352.5 472.1L351.2 471.9L349.8 471.9L348.4 472.2L347.2 472.7L346.0 473.5L344.8 474.7L343.8 476.3L343.0 477.9L342.7 479.1L342.4 483.9L342.6 485.1L343.1 486.3L344.1 488.3L345.2 489.8L346.0 490.4L346.8 490.9L347.6 491.3L348.4 491.5ZM347.3 501.6L348.4 501.7L350.0 501.6L351.2 501.4L352.5 501.0L353.7 500.5L354.9 499.8L356.1 498.9L357.3 497.8L358.5 496.5L359.5 495.1L360.5 493.8L361.3 492.3L362.3 490.3L362.9 488.7L363.8 485.9L364.2 484.3L364.5 479.1L364.4 477.1L363.9 474.7L363.6 473.5L362.9 471.9L362.1 470.2L361.3 468.9L360.2 467.5L359.2 466.3L358.1 465.3L356.9 464.5L355.3 463.6L353.7 463.0L352.5 462.8L351.2 462.7L350.0 462.7L348.8 463.0L347.6 463.3L346.0 464.0L344.8 464.7L343.6 465.5L342.4 466.5L341.2 467.7L340.0 469.2L339.0 470.7L337.8 472.7L336.8 474.9L336.1 477.1L335.8 478.7L335.5 483.9L335.6 485.5L336.4 489.6L337.2 491.9L337.9 493.5L338.8 495.1L339.9 496.7L340.9 497.9L342.0 499.1L343.2 500.0L344.4 500.7L345.6 501.2L347.2 501.6ZM340.3 455.5L338.2 458.3L336.1 461.9L333.5 465.9L331.7 469.5L330.3 473.1L329.4 476.7L329.0 479.1L328.7 484.3L329.1 488.7L329.5 491.1L330.1 493.5L330.9 496.3L331.8 498.8L332.5 500.4L333.4 502.0L334.4 503.4L336.0 505.4L337.6 507.3L338.8 508.5L340.2 509.6L341.6 510.5L343.2 511.3L344.8 511.8L346.4 512.1L348.0 512.3L349.6 512.2L351.6 511.8L353.3 511.3L354.9 510.5L356.5 509.6L357.7 508.7L359.3 507.3L360.9 505.7L362.9 503.5L364.1 502.0L364.9 500.8L365.9 499.2L367.1 496.7L368.3 493.9L369.1 491.9L369.9 489.1L370.7 485.9L371.0 484.3L371.3 479.1L371.2 476.7L370.8 473.5L369.7 469.5L368.3 465.9L366.3 461.9L364.6 458.3L362.8 455.5M329.7 455.5L328.6 457.9L326.9 462.3L325.3 465.9L324.1 469.1L322.7 473.9L322.0 477.9L321.6 484.3L321.8 488.3L322.3 493.1L323.4 498.3L324.1 500.8L324.7 502.4L327.6 509.2L328.7 511.2L329.7 512.8L330.8 514.4L332.0 515.8L334.4 518.2L336.4 520.0L338.0 521.2L339.6 522.2L341.2 523.0L343.2 523.7L345.2 524.1L347.2 524.2L349.2 524.1L351.2 523.8L353.3 523.2L355.3 522.3L356.9 521.4L358.9 520.0L361.3 518.1L363.7 515.9L365.2 514.4L366.2 513.2L367.7 511.2L369.0 509.2L372.8 502.4L374.4 498.8L376.3 493.1L377.4 488.3L378.1 484.3L378.4 477.9L378.2 473.9L377.3 469.1L376.5 465.9L375.4 462.3L374.2 457.9L373.5 455.5" fill="none" stroke="#4f4fb3" stroke-width="1.4" stroke-linejoin="round"/></g>
<g clip-path="url(#c54)"><g stroke="none"><path d="M454.9 530.8L458.2 531.0L460.6 530.8L464.6 529.8L467.4 528.6L469.0 527.6L470.6 526.2L473.0 523.1L475.0 520.0L476.6 516.9L477.6 514.4L478.0 512.4L478.7 506.4L478.9 502.8L478.9 500.0L478.3 495.5L477.7 491.9L476.9 488.7L475.5 484.7L472.9 478.3L470.8 474.3L467.8 469.5L462.3 462.3L459.4 458.1L457.5 455.5L437.7 455.5L414.3 455.5L414.1 457.9L414.0 461.9L413.6 465.9L413.5 467.9L413.5 469.9L413.6 472.7L413.7 474.7L414.2 477.5L415.3 482.3L415.6 485.1L416.3 488.7L417.1 491.9L418.0 494.7L419.5 499.2L420.9 502.4L423.1 506.4L427.1 512.8L428.6 514.8L430.3 516.8L433.3 519.9L436.9 523.2L439.7 525.4L442.5 527.2L445.4 528.5L448.2 529.5L451.4 530.3L454.6 530.8Z" fill="#fff7f5"/><path d="M453.5 521.6L455.8 521.7L457.8 521.5L461.0 520.7L462.6 520.0L464.5 518.8L466.2 517.4L467.4 516.0L468.7 514.0L469.7 512.0L471.4 506.8L472.0 504.4L472.4 502.0L472.5 499.2L472.2 495.1L471.9 492.7L471.3 489.5L469.9 484.7L468.0 479.9L466.8 477.1L464.8 473.5L462.6 470.3L460.6 467.6L458.8 465.5L455.6 461.9L452.4 457.9L450.2 455.5L437.7 455.5L421.1 455.5L420.6 457.9L420.1 461.9L419.4 465.5L419.1 467.5L418.9 469.9L418.8 472.3L419.0 474.7L419.4 477.5L420.6 482.3L421.0 485.1L421.6 488.3L422.4 491.1L423.5 494.3L425.4 498.8L426.8 501.6L428.3 504.0L430.3 506.8L434.1 511.5L435.7 513.3L437.3 514.8L438.9 516.0L441.7 517.9L443.8 519.0L446.2 520.0L448.6 520.8L450.2 521.1L453.4 521.6Z" fill="#ffebe8"/><path d="M450.0 514.8L452.6 515.1L454.6 515.1L456.2 514.9L458.2 514.3L459.8 513.7L461.0 512.9L462.2 511.7L463.4 510.2L464.6 508.3L465.7 506.0L466.8 503.2L467.3 501.2L467.6 498.8L467.7 495.1L467.6 492.7L467.3 490.3L466.9 488.3L465.9 484.7L463.6 478.7L462.6 476.7L461.2 474.3L458.6 470.7L457.0 468.7L455.0 466.5L450.6 462.3L447.4 458.8L446.2 457.6L443.4 455.5L440.5 455.5L428.2 455.5L427.7 456.0L427.0 457.1L426.4 458.3L425.3 461.9L424.0 465.5L423.3 468.3L423.0 470.3L422.8 473.1L422.9 474.7L423.2 477.5L423.5 479.1L424.3 482.3L425.0 485.9L425.7 488.7L426.3 490.7L427.4 493.5L428.7 496.3L430.2 499.2L431.7 501.6L433.6 504.0L435.8 506.4L438.5 508.9L441.7 511.5L443.4 512.5L445.8 513.7L447.8 514.4L449.8 514.7Z" fill="#ffdcd6"/><path d="M449.8 508.8L451.8 509.0L453.4 508.9L455.0 508.5L457.0 507.8L458.2 507.2L459.3 506.4L460.2 505.5L461.4 504.0L462.2 502.6L462.7 501.2L463.2 499.2L463.5 496.7L463.7 494.3L463.8 492.7L463.5 489.9L463.2 487.9L462.7 485.5L462.3 483.9L460.1 478.7L459.3 477.1L457.9 474.7L456.7 473.1L455.4 471.5L454.1 469.9L452.2 467.9L450.2 466.0L449.0 465.0L446.6 463.4L443.8 461.6L439.9 459.9L438.5 459.6L437.3 459.5L435.7 459.8L433.7 460.5L432.5 461.2L431.3 462.2L430.1 463.3L429.0 464.7L428.3 465.9L427.4 467.9L426.9 469.2L426.6 470.7L426.3 472.7L426.2 474.3L426.4 476.7L426.6 478.7L427.5 482.3L428.1 485.5L428.9 488.3L429.7 490.3L430.7 492.7L431.7 494.7L433.6 497.9L435.0 500.0L436.3 501.6L438.0 503.2L439.7 504.7L441.3 505.8L443.8 507.1L445.8 507.9L447.0 508.2L449.8 508.8Z" fill="#ffcac1"/><path d="M449.6 504.0L451.4 504.0L452.6 503.9L453.8 503.5L455.8 502.7L456.6 502.1L457.4 501.4L457.9 500.8L458.6 499.6L459.3 497.9L459.7 496.7L460.0 494.7L460.2 493.1L460.2 491.1L460.1 489.1L459.4 485.1L459.0 483.5L458.4 481.9L456.5 477.9L454.3 474.3L453.0 472.7L451.8 471.3L450.6 470.1L449.4 469.1L447.8 467.9L446.2 466.9L445.0 466.3L443.4 465.7L441.7 465.2L440.5 464.9L439.3 464.9L437.7 465.0L435.6 465.5L434.5 465.9L433.3 466.7L432.1 467.7L431.3 468.6L430.8 469.5L430.3 470.7L429.7 472.7L429.5 474.3L429.4 475.5L429.5 477.1L429.7 478.7L430.5 482.3L430.8 484.3L431.3 485.9L432.2 488.7L432.9 490.4L433.9 492.3L434.9 493.9L436.1 495.7L437.7 497.8L438.9 499.1L439.8 500.0L440.9 500.9L442.5 501.9L443.8 502.5L445.8 503.2L449.4 503.9Z" fill="#ffb5a7"/><path d="M447.2 499.2L448.6 499.4L449.8 499.5L450.6 499.5L451.4 499.3L452.6 498.7L454.2 497.6L454.7 497.1L455.3 496.3L456.0 495.1L456.5 493.9L456.9 492.7L457.1 491.5L457.2 490.3L457.2 488.7L456.8 485.5L456.5 484.3L456.0 482.7L454.5 479.1L453.0 476.7L451.4 474.5L449.4 472.5L447.0 470.7L446.2 470.3L444.6 469.6L442.1 468.8L441.3 468.7L440.1 468.7L438.9 468.9L437.3 469.3L436.5 469.6L435.8 469.9L435.3 470.3L434.5 471.0L433.3 472.6L432.9 473.5L432.7 474.3L432.5 476.7L432.6 479.1L433.6 483.9L434.2 485.9L435.7 489.5L436.5 491.1L437.6 492.7L438.5 493.9L439.3 494.7L440.9 496.1L442.5 497.3L444.6 498.3L447.0 499.1Z" fill="#ff9986"/><path d="M447.8 495.1L449.4 495.2L450.6 494.8L451.4 494.3L452.2 493.6L453.0 492.9L453.4 492.3L454.0 490.7L454.3 488.7L454.3 485.9L454.0 483.9L453.3 481.9L451.6 478.7L450.5 477.1L449.0 475.4L447.4 474.1L445.4 473.0L443.4 472.2L442.5 472.0L441.7 472.0L439.8 472.3L437.7 473.1L436.7 473.9L436.1 474.8L435.4 476.7L435.2 478.3L435.3 480.3L436.0 483.9L436.7 485.9L438.1 488.7L439.4 490.3L440.9 492.0L442.1 493.1L443.4 493.8L445.8 494.7L447.8 495.1Z" fill="#ff7b63"/><path d="M445.8 491.1L447.0 491.4L448.2 491.5L449.1 491.1L450.1 490.3L450.9 489.1L451.4 487.9L451.8 486.3L451.8 484.6L451.5 483.5L451.0 482.1L450.2 480.6L448.9 478.7L447.7 477.5L446.2 476.4L445.0 475.6L443.8 475.2L442.5 475.1L441.3 475.4L440.1 476.0L438.9 476.9L438.5 477.5L438.1 478.7L438.1 479.9L438.2 481.5L438.5 483.5L438.9 484.7L439.7 486.3L440.9 488.0L441.7 488.9L442.5 489.6L444.2 490.4L445.8 491.1Z" fill="#ff6246"/></g>
<g stroke="none"><path d="M451.5 531.2L455.0 531.4L457.4 531.4L458.2 531.2L459.4 530.8L462.0 529.6L463.8 528.4L468.2 524.6L470.2 522.4L471.6 520.4L473.9 516.4L474.8 514.4L475.7 511.6L476.4 508.4L477.2 502.4L477.4 500.0L477.1 494.3L476.5 489.9L475.8 486.3L475.2 484.3L474.2 481.5L473.2 478.3L471.5 474.3L470.3 471.9L468.5 468.7L464.2 461.9L460.4 455.5L438.1 455.5L412.4 455.5L412.3 457.9L412.4 461.9L412.2 465.9L412.1 469.1L412.3 473.1L412.8 476.3L413.2 478.3L414.1 481.5L414.4 484.7L415.1 488.7L416.1 492.3L417.1 495.5L418.6 499.2L419.9 502.0L423.7 508.8L425.8 512.0L427.7 514.4L429.7 516.6L434.3 521.2L435.7 522.5L437.3 523.8L442.5 527.3L445.0 528.7L449.0 530.6L450.2 531.0L451.4 531.2Z" fill="#ffffff"/><path d="M448.5 522.8L451.8 523.1L455.4 523.1L457.4 522.7L459.8 521.8L460.6 521.4L461.8 520.6L464.2 518.7L466.2 516.8L467.8 514.9L468.5 514.0L469.2 512.8L470.3 510.4L471.1 507.6L472.0 503.6L472.4 501.6L472.6 499.2L472.6 495.9L472.4 492.7L471.9 489.1L471.0 484.7L468.9 478.3L467.4 474.7L466.0 471.9L463.9 468.3L459.8 462.0L457.2 457.9L455.6 455.5L441.3 455.5L417.1 455.5L416.9 457.9L416.9 461.9L416.5 467.1L416.5 469.9L416.7 473.5L417.4 477.9L418.5 481.5L418.7 483.9L418.9 485.5L420.2 490.7L421.2 493.9L422.8 497.9L424.3 501.2L425.5 503.2L428.7 508.0L430.5 510.4L432.6 512.8L435.0 515.2L437.7 517.3L442.1 520.2L443.8 521.0L445.8 521.9L448.2 522.7Z" fill="#f6f6fb"/><path d="M448.1 515.2L453.4 515.4L454.6 515.2L456.2 514.7L458.2 513.8L459.4 513.1L461.1 511.6L462.8 509.6L464.1 507.6L465.6 504.4L466.4 502.4L466.8 500.8L467.2 498.3L467.5 495.1L467.4 492.7L467.2 489.5L466.6 485.9L466.1 483.9L464.4 478.3L462.4 473.9L460.4 470.3L458.9 467.9L457.5 465.9L454.4 461.9L451.5 457.9L449.5 455.5L440.9 455.5L423.0 455.5L422.6 457.9L422.2 461.9L421.6 465.5L421.4 467.1L421.2 470.3L421.4 474.3L422.0 477.9L423.0 481.5L423.4 485.1L424.6 489.5L425.6 492.3L426.8 495.1L428.4 498.3L429.8 500.8L431.2 502.8L434.9 507.2L436.5 508.9L438.7 510.8L440.5 512.1L442.5 513.3L445.8 514.7L447.8 515.1Z" fill="#eaeaf6"/><path d="M448.0 509.6L452.2 509.7L453.4 509.5L454.6 509.0L456.6 507.8L457.8 506.8L459.4 505.0L461.1 502.8L461.9 501.2L462.5 499.6L463.0 497.5L463.4 495.1L463.6 493.1L463.6 490.7L463.5 488.7L463.2 485.9L462.6 483.5L461.3 479.1L460.5 477.1L459.4 474.7L458.5 473.1L456.8 470.3L455.4 468.4L453.1 465.5L447.4 459.1L445.8 457.5L444.2 456.0L443.6 455.5L440.5 455.5L428.8 455.5L428.1 456.7L427.4 458.3L425.7 464.7L425.3 466.3L424.9 469.1L424.8 471.9L424.8 473.9L425.0 476.3L425.5 478.7L426.3 481.5L426.6 483.9L426.8 485.1L428.2 489.5L429.3 492.3L430.3 494.3L431.8 497.1L433.3 499.5L434.6 501.2L435.7 502.4L438.1 504.6L440.5 506.5L443.4 508.2L445.0 509.0L446.2 509.3L447.8 509.5Z" fill="#dadaef"/><path d="M445.5 504.4L449.8 504.7L451.0 504.7L451.8 504.5L453.4 503.9L455.4 502.8L456.2 502.1L457.0 501.3L457.8 500.0L458.8 497.9L459.4 496.3L459.9 494.3L460.2 492.7L460.4 490.3L460.4 488.7L460.2 485.9L459.8 483.9L458.1 478.3L456.4 474.7L454.6 471.9L452.2 468.7L449.4 465.7L445.0 461.9L441.3 459.4L439.7 458.5L438.9 458.3L438.1 458.3L436.1 458.4L434.1 458.7L433.5 459.1L432.9 459.6L430.1 463.7L429.4 465.1L428.9 466.3L428.3 468.3L428.0 469.9L427.7 472.7L427.8 474.7L428.2 478.3L429.1 481.5L429.5 483.9L429.9 485.5L431.4 489.9L432.5 492.3L433.4 493.9L434.5 495.7L436.2 497.9L437.6 499.6L438.9 500.9L440.1 501.8L442.5 503.2L444.2 504.0L445.4 504.3Z" fill="#c7c7e7"/><path d="M445.7 500.4L449.4 500.6L450.2 500.6L451.0 500.4L451.8 500.0L452.6 499.5L453.9 498.3L454.6 497.6L455.4 496.4L456.0 495.1L456.5 493.5L457.0 491.9L457.3 489.1L457.3 485.1L456.9 483.5L455.4 478.3L453.8 475.2L452.4 473.1L449.8 469.9L448.2 468.3L447.0 467.2L445.3 465.9L443.4 464.8L441.7 464.1L440.9 463.8L440.1 463.8L438.1 463.8L435.7 464.1L435.3 464.3L434.5 464.7L433.4 465.9L432.0 467.9L431.5 469.1L431.1 470.3L430.7 472.3L430.5 473.9L430.6 477.1L430.9 478.7L431.7 481.5L432.1 483.9L432.5 485.5L434.0 489.1L435.7 492.3L436.9 494.1L438.1 495.5L439.3 496.7L440.5 497.7L442.1 499.0L443.4 499.7L444.6 500.2L445.4 500.3Z" fill="#b0b0dd"/><path d="M446.6 496.3L449.0 496.5L449.6 496.3L450.2 496.1L451.4 495.1L453.1 493.1L453.9 491.5L454.4 489.1L454.6 485.9L454.5 483.9L453.8 481.5L452.8 478.3L451.5 475.9L449.9 473.5L447.8 471.2L445.8 469.6L443.4 468.1L442.1 467.6L441.3 467.5L439.3 467.6L436.9 467.9L436.1 468.3L435.3 469.1L434.6 470.3L433.8 471.9L433.2 473.5L433.1 474.7L433.1 475.9L433.2 478.3L434.1 481.5L434.5 483.9L434.9 485.1L436.5 488.7L437.7 490.6L438.5 491.7L440.1 493.4L441.3 494.5L442.5 495.4L443.8 495.9L446.6 496.3Z" fill="#9292d0"/><path d="M445.6 492.7L447.4 492.9L448.6 492.8L449.4 492.4L450.2 491.5L451.2 489.9L451.9 488.3L452.3 485.9L452.4 484.7L452.3 483.9L451.7 481.5L450.8 478.7L450.0 477.1L448.6 475.1L447.9 474.3L447.1 473.5L445.0 471.9L443.4 471.0L442.2 470.7L440.1 470.9L438.1 471.2L437.5 471.5L436.9 472.0L436.2 473.1L435.8 474.3L435.4 476.7L435.4 478.3L435.6 479.1L436.3 481.5L436.7 483.9L437.0 484.7L437.7 486.2L439.3 488.7L440.6 490.3L442.1 491.8L443.4 492.3L445.4 492.7Z" fill="#7272c2"/><path d="M445.7 489.5L447.0 489.6L447.8 489.6L448.2 489.4L448.8 488.7L449.4 487.6L450.0 485.5L450.2 484.3L450.0 483.5L449.6 481.5L448.8 479.1L448.5 478.3L447.7 477.1L445.8 475.0L444.6 474.0L443.4 473.5L442.1 473.5L439.7 473.9L438.9 474.1L438.5 474.4L438.1 474.9L437.7 476.3L437.5 477.5L437.6 478.7L438.4 481.5L438.9 484.3L439.3 485.2L440.1 486.5L441.3 487.9L442.1 488.6L443.4 489.1L445.4 489.5Z" fill="#5858b7"/></g>
<path d="M446.7 493.5L448.6 493.8L449.8 493.5L451.0 492.7L452.3 491.1L452.9 489.9L453.2 488.7L453.3 486.3L453.1 484.3L452.6 482.7L451.7 480.7L450.6 478.7L449.4 477.1L448.2 475.9L446.2 474.5L444.6 473.7L442.9 473.2L442.1 473.2L441.3 473.3L439.7 473.7L438.1 474.6L437.3 475.5L436.6 477.1L436.3 478.7L436.5 481.1L436.9 483.5L437.4 485.1L438.3 486.7L439.5 488.7L440.8 490.3L442.1 491.5L443.4 492.3L445.0 493.0L446.6 493.5ZM450.0 505.2L451.8 505.2L453.0 505.1L454.2 504.7L456.2 503.9L457.3 503.2L458.2 502.3L459.1 501.2L459.7 500.0L460.2 498.8L460.6 497.1L460.9 495.1L461.0 493.1L460.9 489.1L460.2 485.1L459.7 483.5L459.0 481.5L457.9 479.1L457.1 477.5L454.8 473.9L453.4 472.1L451.8 470.3L450.6 469.1L449.4 468.2L447.4 466.7L445.8 465.7L444.6 465.1L442.9 464.6L441.3 464.1L440.1 463.9L438.9 463.8L437.3 464.0L435.3 464.4L434.1 464.8L432.9 465.5L431.7 466.5L430.9 467.4L430.1 468.7L429.5 470.3L429.0 471.9L428.7 473.5L428.6 474.7L428.7 476.7L428.9 478.3L429.8 482.3L430.1 484.3L430.5 485.9L431.5 488.7L432.3 490.7L433.3 492.7L434.2 494.3L435.9 496.7L437.3 498.7L438.5 500.0L439.7 501.2L440.5 501.8L442.1 502.8L443.8 503.6L445.0 504.1L446.2 504.5L449.8 505.1ZM424.6 455.5L423.7 458.0L423.0 461.9L421.9 465.5L421.6 467.1L421.2 470.3L421.1 472.7L421.2 474.3L421.7 478.3L422.7 482.3L423.1 485.1L424.0 488.7L425.4 493.1L427.6 497.9L428.8 500.4L429.8 502.0L430.9 503.6L432.8 506.0L434.9 508.3L437.3 510.8L439.3 512.6L440.9 513.9L442.1 514.7L443.4 515.4L445.4 516.2L447.4 516.9L449.0 517.3L451.0 517.6L454.6 517.9L455.8 517.8L457.4 517.6L459.8 516.9L461.0 516.4L462.2 515.8L463.5 514.8L464.6 513.8L465.3 512.8L465.9 511.6L468.2 506.4L468.9 504.4L469.4 502.4L469.7 500.8L469.8 498.3L469.7 495.1L469.5 492.7L468.8 488.7L467.5 484.3L465.1 478.3L462.7 473.9L460.2 470.3L458.2 467.8L456.2 465.5L452.6 461.9L449.1 457.9L446.8 455.5M413.4 455.5L413.2 457.9L413.2 461.9L412.9 465.9L412.7 469.9L412.8 473.9L413.3 477.5L413.6 479.1L414.4 482.3L414.7 485.1L415.3 488.3L416.4 492.3L417.6 495.9L419.2 500.4L420.3 502.8L422.0 506.0L426.1 512.8L428.2 515.6L431.0 518.8L433.3 521.2L436.5 524.1L438.9 526.1L440.9 527.4L443.8 528.9L445.8 529.8L449.0 531.0L451.0 531.6L452.6 532.0L456.2 532.5L458.6 532.7L459.8 532.6L461.0 532.4L464.2 531.5L466.2 530.6L468.6 529.3L470.0 528.4L471.4 527.2L472.7 525.6L473.9 524.0L475.5 521.6L476.8 519.2L478.0 516.4L478.7 514.4L479.1 512.4L479.6 507.2L479.9 502.0L479.7 499.2L479.2 495.5L478.8 492.7L478.1 489.9L476.4 484.7L473.8 478.3L471.7 474.3L469.2 470.3L466.8 467.1L463.1 462.3L460.1 457.9L458.4 455.5" fill="none" stroke="#ff5a3c" stroke-width="1.4" stroke-linejoin="round"/>
<path d="M446.9 491.5L448.2 491.5L449.0 491.1L449.8 490.2L450.6 488.7L451.3 486.3L451.5 485.1L451.5 483.9L450.9 481.5L450.2 479.1L449.6 477.9L448.6 476.4L446.7 474.3L445.4 473.1L443.8 472.1L442.9 471.9L441.4 471.9L439.7 472.1L438.1 472.5L437.7 472.8L437.3 473.2L436.8 474.3L436.3 476.7L436.3 478.3L436.5 479.1L437.2 481.5L437.6 483.9L438.3 485.5L439.7 487.9L440.7 489.1L441.7 490.2L442.9 490.9L445.0 491.3L446.6 491.5ZM447.2 501.6L450.2 501.7L451.0 501.5L451.8 501.3L453.0 500.5L454.2 499.6L455.0 498.8L455.6 497.9L456.2 496.7L457.1 494.7L457.6 493.1L457.8 491.9L458.0 490.3L458.1 488.7L458.0 485.9L457.8 484.3L456.3 479.1L455.7 477.5L453.8 474.0L451.8 471.2L449.0 468.1L447.4 466.6L446.2 465.6L445.0 464.8L442.9 463.7L441.7 463.2L440.5 462.8L439.7 462.7L437.7 462.8L435.7 463.0L434.9 463.3L434.1 463.8L433.5 464.3L431.8 466.3L431.2 467.5L430.6 469.1L429.9 472.3L429.8 474.7L430.1 477.9L431.0 481.5L431.5 484.3L432.1 486.4L433.1 488.7L433.7 490.2L434.9 492.4L436.1 494.2L437.5 495.9L438.9 497.5L440.4 498.8L442.1 500.0L443.4 500.7L444.6 501.2L447.0 501.5ZM426.0 455.5L425.1 458.3L424.5 462.3L423.6 466.3L423.3 469.9L423.3 473.5L423.8 477.5L424.0 478.7L424.9 481.5L425.1 483.9L425.5 485.5L426.8 489.9L428.4 493.9L430.7 498.3L432.9 501.6L434.1 503.1L435.7 504.7L438.1 507.0L439.7 508.4L441.7 509.7L444.2 511.0L445.8 511.7L447.4 512.0L452.2 512.3L453.4 512.2L454.6 511.8L457.0 510.7L458.2 509.9L459.4 508.7L460.7 507.2L461.8 505.6L463.0 503.6L463.8 502.0L464.2 500.8L464.6 499.2L464.9 497.5L465.3 493.5L465.3 491.5L465.1 489.1L464.4 484.7L462.8 479.1L461.8 476.7L460.3 473.5L457.8 469.5L455.4 466.1L451.8 461.9L449.0 458.2L446.4 455.5M416.3 455.5L416.2 457.9L416.2 461.9L415.9 465.9L415.9 469.1L416.0 473.1L416.4 475.9L416.9 478.3L417.8 481.5L418.2 485.1L418.9 488.3L419.5 490.7L420.4 493.5L421.6 496.7L422.8 499.6L424.0 502.0L428.1 508.4L430.8 512.0L432.3 513.6L433.9 515.2L436.1 517.0L438.1 518.6L440.5 520.3L442.5 521.5L444.2 522.3L447.0 523.4L448.2 523.8L449.4 524.0L455.0 524.2L456.2 524.1L457.8 523.7L460.2 522.9L461.8 522.0L463.4 520.8L465.4 519.0L467.5 516.8L469.0 514.9L469.6 514.0L470.4 512.4L471.1 510.8L471.7 508.8L473.0 502.4L473.2 500.8L473.3 498.8L473.2 493.5L472.5 488.7L471.5 484.3L469.3 477.5L467.5 473.5L465.1 469.1L463.1 465.9L460.6 462.2L458.0 457.9L456.4 455.5" fill="none" stroke="#4f4fb3" stroke-width="1.4" stroke-linejoin="round"/></g>
<g clip-path="url(#c60)"><g stroke="none"><path d="M95.2 619.0L97.0 619.0L99.0 618.8L101.0 618.5L103.0 617.9L105.0 617.2L106.6 616.4L108.2 615.4L109.7 614.2L111.0 613.0L112.2 611.7L113.3 610.2L114.3 608.6L115.2 606.6L115.7 605.0L116.1 603.4L116.4 601.4L116.4 599.4L116.3 597.8L115.9 595.8L115.5 594.2L114.8 592.6L114.0 591.0L113.0 589.3L111.7 587.7L110.5 586.5L109.0 585.2L107.4 584.1L105.4 583.0L103.8 582.3L101.8 581.7L99.8 581.3L97.8 581.0L95.8 581.0L93.8 581.1L91.8 581.5L90.2 581.9L88.2 582.6L86.6 583.4L85.0 584.3L83.4 585.4L81.8 586.8L80.5 588.1L79.3 589.8L78.4 591.4L77.6 593.0L76.9 595.0L76.4 597.0L76.2 598.6L76.2 600.6L76.3 602.6L76.7 604.6L77.2 606.2L77.9 607.8L78.8 609.4L79.8 611.0L81.2 612.6L82.6 613.9L84.2 615.2L85.8 616.2L87.4 617.0L89.0 617.7L91.0 618.3L93.0 618.8L95.0 619.0Z" fill="#fff7f5"/><path d="M94.3 615.8L96.2 615.9L97.8 615.8L99.4 615.6L101.0 615.3L102.6 614.7L103.8 614.2L105.4 613.4L106.6 612.6L107.8 611.6L109.0 610.5L110.2 609.0L111.0 607.8L111.6 606.6L112.3 605.0L112.8 603.4L113.0 601.8L113.1 600.2L113.1 598.6L112.8 597.0L112.5 595.8L112.0 594.2L111.4 593.0L110.4 591.4L109.5 590.2L108.6 589.1L107.4 588.0L106.2 587.1L104.6 586.2L103.0 585.4L101.4 584.8L99.8 584.4L98.2 584.2L96.6 584.1L95.0 584.2L93.4 584.3L91.8 584.7L90.2 585.2L88.6 585.9L87.0 586.8L85.8 587.6L84.6 588.6L83.4 589.8L82.5 591.0L81.7 592.2L81.0 593.4L80.3 595.0L79.9 596.6L79.6 598.2L79.5 599.8L79.5 601.4L79.7 602.6L80.1 604.2L80.6 605.8L81.2 607.0L82.1 608.6L83.0 609.8L84.1 611.0L85.4 612.1L86.6 613.0L88.2 613.9L89.4 614.5L91.0 615.1L92.6 615.5L94.2 615.8Z" fill="#ffebe8"/><path d="M94.5 613.4L95.8 613.5L97.4 613.5L99.0 613.3L100.2 613.0L102.6 612.1L103.8 611.5L105.0 610.7L106.1 609.8L107.0 609.0L108.0 607.8L108.8 606.6L109.4 605.4L109.9 604.2L110.5 601.8L110.6 600.6L110.5 599.0L110.1 596.6L109.7 595.4L109.2 594.2L108.5 593.0L107.6 591.8L105.8 589.9L104.6 589.0L103.4 588.3L101.0 587.3L99.4 586.8L98.2 586.6L96.6 586.5L95.4 586.5L93.8 586.7L92.6 587.0L90.2 587.8L89.0 588.4L87.8 589.2L86.6 590.1L85.8 590.9L85.0 591.8L84.1 593.0L83.4 594.2L82.9 595.4L82.5 596.6L82.1 598.2L82.0 599.4L82.0 601.0L82.5 603.4L82.9 604.6L83.4 605.8L84.1 607.0L84.9 608.2L85.8 609.1L86.9 610.2L89.0 611.6L91.4 612.7L93.0 613.1L94.2 613.3Z" fill="#ffdcd6"/><path d="M95.9 611.4L98.2 611.2L99.4 611.0L100.6 610.6L102.6 609.7L103.7 609.0L104.6 608.3L106.1 606.6L107.3 604.6L108.0 602.6L108.3 600.6L108.3 599.4L108.2 598.2L107.7 596.2L106.6 594.2L105.4 592.5L103.6 591.0L101.5 589.8L99.4 589.0L97.0 588.6L94.6 588.7L93.4 589.0L92.2 589.3L90.2 590.2L89.0 591.0L88.2 591.6L86.6 593.3L85.5 595.0L84.7 597.0L84.4 598.2L84.3 599.4L84.3 600.6L84.4 601.8L84.9 603.8L85.9 605.8L86.6 606.7L87.4 607.6L88.4 608.6L89.4 609.3L91.4 610.4L93.4 611.0L95.8 611.4Z" fill="#ffcac1"/><path d="M96.1 609.4L97.8 609.3L99.8 608.8L101.4 608.1L103.0 606.9L104.2 605.7L105.2 604.2L105.9 602.6L106.2 600.6L106.1 598.6L105.7 597.0L104.9 595.4L103.7 593.8L102.2 592.4L100.6 591.5L99.0 591.0L97.0 590.6L95.0 590.7L93.0 591.2L91.4 591.9L89.8 592.9L88.5 594.2L87.4 595.8L86.8 597.4L86.4 599.4L86.5 601.4L86.9 603.0L87.6 604.6L88.8 606.2L90.2 607.4L91.8 608.3L93.8 609.1L95.8 609.4Z" fill="#ffb5a7"/><path d="M94.9 607.4L96.2 607.5L97.8 607.4L99.4 606.9L100.8 606.2L101.8 605.4L102.9 604.2L103.6 603.0L104.1 601.4L104.2 599.8L104.1 598.6L103.5 597.0L102.8 595.8L101.8 594.6L100.6 593.7L99.4 593.1L97.8 592.6L96.2 592.5L94.6 592.7L93.0 593.2L91.8 593.9L90.6 594.8L89.8 595.8L89.1 597.0L88.5 598.6L88.4 599.8L88.5 601.4L89.0 602.8L89.7 604.2L90.6 605.2L91.8 606.1L93.0 606.8L94.6 607.3Z" fill="#ff9986"/><path d="M94.1 605.4L95.0 605.6L96.2 605.8L97.4 605.7L98.6 605.3L99.8 604.7L100.6 604.1L101.4 603.2L102.0 602.2L102.3 601.0L102.4 599.8L102.2 598.6L101.9 597.8L101.4 596.8L100.6 595.9L99.8 595.3L98.6 594.7L97.8 594.4L96.6 594.2L95.4 594.3L94.2 594.6L93.0 595.2L92.2 595.8L91.4 596.6L90.7 597.8L90.4 598.6L90.2 599.8L90.3 601.0L90.6 602.2L91.1 603.0L91.8 603.9L92.6 604.6L93.8 605.2Z" fill="#ff7b63"/><path d="M94.5 603.8L95.4 604.0L96.2 604.1L97.0 604.1L97.8 603.9L98.6 603.5L99.3 603.0L99.8 602.5L100.3 601.8L100.6 601.0L100.7 600.2L100.6 599.4L100.4 598.6L99.7 597.4L99.0 596.7L98.2 596.3L97.4 596.0L96.6 595.9L95.8 595.9L95.0 596.1L94.2 596.4L93.4 596.9L92.9 597.4L92.4 598.2L92.1 599.0L91.9 599.8L92.0 600.6L92.2 601.3L92.6 602.1L93.0 602.7L93.4 603.1L94.2 603.6Z" fill="#ff6246"/></g>
<g stroke="none"><path d="M51.0 579.7L52.1 580.0L53.7 580.1L55.3 580.1L56.9 579.9L60.1 579.2L63.7 577.9L65.7 577.0L67.7 576.0L70.9 574.0L74.1 571.5L76.9 568.9L79.3 566.1L80.4 564.5L81.1 563.3L81.7 562.1L82.3 560.5L82.6 558.9L82.8 557.7L82.7 556.5L82.4 555.3L82.1 554.5L81.6 553.7L81.0 553.0L80.2 552.4L78.9 551.7L77.7 551.3L76.5 551.1L74.9 550.9L73.3 550.9L71.7 551.1L69.7 551.5L68.1 551.9L64.9 553.0L61.3 554.8L58.1 556.7L54.9 559.1L53.3 560.5L51.7 562.1L49.3 564.9L47.5 567.7L46.8 569.3L46.3 570.5L46.0 572.1L45.8 573.3L45.9 574.5L46.1 575.3L46.5 576.5L47.0 577.3L47.7 578.1L48.5 578.7L49.7 579.3L50.9 579.7Z" fill="#ffffff"/><path d="M53.3 578.1L54.5 578.3L56.1 578.3L58.9 577.9L61.7 577.2L64.9 575.9L68.1 574.2L71.3 572.1L74.1 569.7L76.4 567.3L77.7 565.7L78.5 564.5L79.7 562.1L80.1 560.9L80.4 559.7L80.5 558.5L80.5 557.7L80.3 556.9L80.0 556.1L79.6 555.3L78.9 554.5L78.1 553.9L77.3 553.5L76.1 553.1L74.9 552.8L73.7 552.7L72.1 552.7L69.3 553.1L66.5 553.9L63.3 555.2L60.1 557.0L56.9 559.2L54.4 561.3L52.1 563.7L50.4 566.1L49.1 568.5L48.6 569.7L48.3 570.9L48.1 572.1L48.1 572.9L48.3 574.1L48.6 574.9L49.1 575.7L49.7 576.5L50.5 577.1L51.3 577.5L52.1 577.8L53.3 578.1Z" fill="#f6f6fb"/><path d="M55.6 576.1L57.7 576.2L60.1 575.8L62.5 575.1L65.3 574.0L68.1 572.4L70.5 570.7L72.6 568.9L74.5 566.9L76.0 564.9L76.7 563.7L77.2 562.5L77.8 560.5L77.8 558.9L77.6 558.1L77.3 557.3L76.7 556.5L76.3 556.1L74.9 555.4L73.3 554.9L72.1 554.8L70.9 554.8L68.5 555.2L66.1 555.8L63.3 557.0L60.9 558.3L58.1 560.2L55.9 562.1L54.0 564.1L52.6 566.1L51.5 568.1L50.9 570.1L50.8 571.3L50.8 572.1L51.0 572.9L51.3 573.7L52.1 574.7L53.3 575.5L54.1 575.8L55.3 576.1Z" fill="#eaeaf6"/><path d="M57.0 574.5L58.9 574.5L60.9 574.2L62.9 573.6L65.3 572.6L67.7 571.2L69.7 569.8L71.7 568.1L73.1 566.5L74.3 564.9L75.3 562.9L75.7 561.3L75.8 560.5L75.7 559.7L75.3 558.5L74.5 557.6L73.3 556.9L71.7 556.5L69.7 556.5L67.7 556.8L65.3 557.5L63.3 558.4L60.9 559.7L58.9 561.1L56.9 562.9L55.4 564.5L54.1 566.5L53.3 568.1L52.9 569.7L52.8 570.5L52.9 571.3L53.3 572.5L54.1 573.4L55.3 574.1L56.9 574.5Z" fill="#dadaef"/><path d="M57.2 572.9L58.5 573.2L60.1 573.1L61.7 572.8L63.7 572.1L65.7 571.2L67.5 570.1L69.3 568.8L70.9 567.3L71.9 566.1L73.0 564.5L73.7 562.9L74.0 561.7L73.9 560.5L73.7 560.0L73.4 559.3L72.5 558.5L71.6 558.1L70.1 557.9L68.5 557.9L66.9 558.2L64.9 558.8L62.9 559.8L61.3 560.7L59.7 561.8L58.1 563.3L56.6 564.9L55.6 566.5L54.9 568.1L54.6 569.3L54.7 570.5L55.0 571.3L55.7 572.2L56.2 572.5L56.9 572.9Z" fill="#c7c7e7"/><path d="M58.9 571.7L60.1 571.8L61.3 571.7L62.9 571.3L64.5 570.7L66.1 569.8L67.5 568.9L69.0 567.7L70.2 566.5L71.1 565.3L71.8 564.1L72.2 562.9L72.3 562.1L72.1 561.1L71.7 560.4L71.0 559.7L69.9 559.3L68.5 559.2L67.3 559.3L66.1 559.6L64.5 560.1L62.9 560.9L61.3 561.9L60.0 562.9L58.8 564.1L57.8 565.3L57.0 566.5L56.5 567.7L56.3 568.9L56.5 570.1L56.9 570.7L57.7 571.3L58.5 571.7Z" fill="#b0b0dd"/><path d="M60.4 570.5L61.3 570.5L62.5 570.3L63.7 569.9L64.9 569.4L66.1 568.7L67.3 567.9L68.4 566.9L69.1 566.1L69.7 565.3L70.4 564.1L70.6 563.3L70.7 562.5L70.4 561.7L70.1 561.3L69.3 560.7L68.5 560.5L67.3 560.5L66.1 560.7L64.9 561.0L63.7 561.6L62.5 562.2L61.3 563.1L60.1 564.1L59.4 564.9L58.6 566.1L58.2 566.9L58.0 567.7L57.9 568.5L58.2 569.3L58.5 569.8L59.3 570.3L60.1 570.5Z" fill="#9292d0"/><path d="M61.0 569.3L61.7 569.4L62.5 569.3L63.7 569.0L64.5 568.6L65.5 568.1L66.5 567.4L67.9 566.1L68.5 565.3L68.9 564.5L69.2 563.3L69.0 562.5L68.7 562.1L67.7 561.7L66.9 561.6L66.1 561.7L64.9 562.0L64.1 562.3L63.0 562.9L62.1 563.5L60.7 564.9L60.1 565.7L59.6 566.5L59.4 567.7L59.5 568.1L59.7 568.7L60.1 569.0L60.9 569.3Z" fill="#7272c2"/><path d="M61.5 568.1L62.5 568.3L63.7 568.0L65.2 567.3L66.3 566.5L67.3 565.4L67.7 564.5L67.8 564.1L67.7 563.5L67.6 563.3L67.2 562.9L66.1 562.7L64.9 562.9L63.3 563.7L62.2 564.5L61.3 565.6L60.9 566.5L60.8 567.3L61.0 567.7L61.3 568.0Z" fill="#5858b7"/></g>
<path d="M95.4 605.0L96.6 605.0L97.4 604.9L98.6 604.6L99.4 604.1L100.3 603.4L100.9 602.6L101.4 601.6L101.6 600.6L101.6 599.4L101.4 598.6L101.1 597.8L100.6 597.0L99.8 596.2L99.0 595.6L98.2 595.3L97.0 595.0L95.8 595.0L95.0 595.1L93.8 595.6L93.0 596.1L92.4 596.6L91.7 597.4L91.3 598.2L91.0 599.4L91.0 600.6L91.2 601.4L91.5 602.2L92.0 603.0L92.6 603.6L93.4 604.2L94.2 604.6L95.4 605.0ZM93.8 609.8L95.8 610.0L97.8 610.0L99.8 609.5L101.0 609.0L101.9 608.6L103.6 607.4L105.0 605.8L106.0 604.2L106.7 602.2L107.0 600.2L106.8 598.2L106.2 596.2L105.3 594.6L103.9 593.0L102.4 591.8L100.6 590.8L98.5 590.2L96.6 589.9L94.6 590.1L92.6 590.6L90.6 591.5L89.0 592.7L87.6 594.2L86.6 595.8L85.9 597.8L85.6 599.8L85.8 601.8L86.4 603.8L87.3 605.4L88.6 606.9L90.1 608.2L91.8 609.1L93.8 609.8ZM94.6 615.0L96.2 615.1L97.8 615.0L99.4 614.8L101.0 614.4L102.6 613.9L103.8 613.3L105.4 612.4L106.6 611.5L107.8 610.5L108.8 609.4L109.7 608.2L110.4 607.0L111.0 605.8L111.6 604.2L111.9 603.0L112.2 601.4L112.3 599.8L112.1 598.2L111.9 597.0L111.5 595.4L110.4 593.0L109.7 591.8L108.6 590.4L107.4 589.2L106.2 588.2L105.0 587.4L103.8 586.7L102.2 586.0L101.0 585.6L99.4 585.2L97.8 585.0L96.2 584.9L94.6 585.0L91.8 585.6L90.2 586.1L89.0 586.6L87.4 587.5L86.2 588.4L85.0 589.4L83.9 590.6L82.9 591.8L82.2 593.0L81.6 594.2L81.0 595.8L80.7 597.0L80.4 598.6L80.3 599.8L80.4 601.4L80.7 603.0L81.0 604.2L81.6 605.8L82.2 607.0L82.9 608.2L83.8 609.4L84.9 610.6L86.2 611.6L87.4 612.5L88.6 613.2L89.8 613.7L91.4 614.3L93.0 614.7L94.6 615.0ZM93.3 619.8L95.4 620.0L97.4 620.0L99.4 619.8L101.4 619.4L103.4 618.8L105.4 618.1L107.4 617.0L109.0 616.0L110.6 614.8L112.0 613.4L113.4 611.8L114.5 610.2L115.6 608.2L116.3 606.6L116.8 605.0L117.2 603.0L117.5 601.0L117.5 599.0L117.2 597.0L116.9 595.4L116.4 593.8L115.6 591.8L114.5 589.8L113.4 588.1L112.0 586.5L110.6 585.2L109.0 584.0L107.0 582.7L105.4 581.9L103.4 581.2L101.4 580.6L99.4 580.2L97.0 580.0L95.0 580.0L93.0 580.3L91.0 580.6L89.4 581.1L87.4 581.9L85.4 582.9L83.8 583.9L82.2 585.1L80.6 586.5L79.2 588.1L78.1 589.8L77.2 591.4L76.3 593.4L75.8 595.0L75.4 597.0L75.1 599.0L75.1 601.0L75.3 602.6L75.7 604.6L76.3 606.6L77.2 608.6L78.1 610.2L79.2 611.8L80.6 613.4L82.2 614.9L83.8 616.1L85.4 617.1L87.0 617.9L89.0 618.8L91.0 619.3L93.0 619.7Z" fill="none" stroke="#ff5a3c" stroke-width="1.4" stroke-linejoin="round"/>
<path d="M60.5 568.5L60.9 568.7L61.7 568.9L62.5 568.9L63.3 568.7L64.9 568.0L66.6 566.9L67.7 565.7L68.2 564.9L68.5 564.1L68.6 563.3L68.4 562.9L68.1 562.5L67.7 562.3L67.3 562.2L66.5 562.1L64.9 562.4L63.3 563.2L62.0 564.1L60.8 565.3L60.2 566.5L60.0 567.3L60.0 567.7L60.2 568.1L60.5 568.5ZM58.1 572.1L59.3 572.3L60.9 572.2L62.5 571.8L64.1 571.2L65.7 570.5L67.6 569.3L69.1 568.1L70.3 566.9L71.3 565.7L72.3 564.1L72.7 562.9L72.9 561.7L72.6 560.5L72.1 559.8L71.3 559.2L70.1 558.8L68.9 558.7L67.3 558.9L65.7 559.3L64.1 559.9L62.5 560.7L60.9 561.7L59.5 562.9L58.2 564.1L57.3 565.3L56.3 566.9L55.9 568.1L55.7 569.3L56.0 570.5L56.5 571.3L57.3 571.8L58.1 572.1ZM54.7 575.3L56.5 575.7L58.9 575.6L61.3 575.1L63.7 574.2L66.1 573.1L68.5 571.7L70.9 569.9L72.9 568.1L74.6 566.1L75.9 564.1L76.8 562.1L77.2 560.5L77.2 559.7L77.1 558.9L76.8 558.1L76.5 557.5L76.1 557.0L75.6 556.5L74.9 556.1L74.1 555.7L73.3 555.5L72.1 555.3L70.1 555.4L67.7 555.8L65.3 556.6L62.9 557.6L60.5 559.0L58.1 560.7L56.1 562.5L54.3 564.5L52.9 566.5L51.9 568.5L51.6 569.7L51.4 570.5L51.4 571.3L51.5 572.1L51.8 572.9L52.1 573.6L53.0 574.5L53.7 575.0L54.5 575.3ZM53.3 578.9L54.5 579.0L56.1 579.0L58.9 578.6L62.1 577.7L65.3 576.3L68.5 574.6L71.7 572.4L74.5 570.1L77.2 567.3L78.4 565.7L79.2 564.5L80.5 562.1L80.9 560.9L81.2 559.7L81.4 558.5L81.4 557.3L81.1 556.1L80.8 555.3L80.3 554.5L79.8 553.9L78.9 553.3L77.7 552.7L76.5 552.3L75.6 552.1L74.1 552.0L72.9 552.0L70.1 552.3L66.9 553.2L63.3 554.6L59.7 556.6L56.5 558.8L53.7 561.2L51.4 563.7L49.6 566.1L48.7 567.7L48.1 568.9L47.7 570.1L47.4 571.3L47.2 572.5L47.2 573.7L47.5 574.9L47.8 575.7L48.4 576.5L48.9 577.1L49.7 577.7L50.5 578.2L51.7 578.6L52.9 578.9Z" fill="none" stroke="#4f4fb3" stroke-width="1.4" stroke-linejoin="round"/></g>
<g clip-path="url(#c61)"><g stroke="none"><path d="M145.3 619.0L146.6 619.0L148.2 618.8L149.8 618.5L151.4 618.0L153.4 617.3L155.0 616.5L156.6 615.7L158.6 614.4L162.2 611.8L163.8 610.4L165.8 608.6L167.3 607.0L169.0 605.0L171.6 601.4L173.7 597.8L174.6 595.8L175.3 593.8L175.8 592.2L176.1 590.6L176.2 588.9L176.2 587.3L175.9 586.1L175.5 584.9L174.9 583.7L174.2 582.9L173.2 582.1L172.3 581.7L171.1 581.3L169.4 581.0L168.2 581.0L166.6 581.1L165.0 581.5L163.4 581.9L161.4 582.7L159.8 583.4L158.2 584.3L156.2 585.5L152.6 588.2L151.0 589.5L149.1 591.4L147.6 593.0L145.9 595.0L143.2 598.6L141.1 602.2L140.2 604.2L139.5 606.2L139.0 607.8L138.7 609.4L138.6 611.0L138.6 612.6L138.8 613.8L139.2 615.0L139.9 616.2L140.6 617.1L141.5 617.8L142.6 618.4L143.8 618.8L145.0 619.0Z" fill="#fff7f5"/><path d="M146.5 615.8L147.8 615.9L149.0 615.8L150.2 615.7L151.8 615.3L153.4 614.7L155.0 614.0L157.8 612.4L161.0 610.2L163.8 607.7L166.4 605.0L168.9 601.8L170.8 598.6L172.1 595.8L172.9 593.0L173.1 591.4L173.1 590.2L173.0 588.9L172.7 587.7L172.3 586.9L171.8 586.1L171.1 585.4L170.2 584.9L169.4 584.5L168.2 584.2L167.0 584.1L165.8 584.2L164.6 584.3L163.0 584.7L161.4 585.3L159.8 586.0L157.0 587.5L153.8 589.8L151.0 592.2L148.5 595.0L146.0 598.2L144.0 601.4L142.8 604.2L141.9 607.0L141.7 608.6L141.7 609.8L141.8 611.0L142.1 612.2L142.4 613.0L142.9 613.8L143.4 614.3L144.3 615.0L145.1 615.4L146.2 615.7Z" fill="#ffebe8"/><path d="M148.1 613.4L149.0 613.5L150.2 613.5L152.2 613.1L154.6 612.2L157.4 610.8L160.2 608.8L162.6 606.8L165.0 604.2L166.9 601.8L168.5 599.4L169.8 596.6L170.5 594.2L170.7 593.0L170.8 591.8L170.6 590.6L170.4 589.8L170.1 588.9L169.5 588.1L169.0 587.7L168.2 587.1L167.4 586.8L166.6 586.6L165.8 586.5L164.6 586.5L163.4 586.7L162.2 587.0L159.8 587.9L157.4 589.2L154.6 591.1L152.2 593.2L149.8 595.7L147.9 598.2L146.4 600.6L145.1 603.4L144.3 605.8L144.1 607.0L144.0 608.2L144.1 609.4L144.3 610.2L144.7 611.0L145.0 611.5L145.6 612.2L146.2 612.7L147.0 613.1L147.8 613.3Z" fill="#ffdcd6"/><path d="M150.4 611.4L152.2 611.2L154.2 610.7L156.2 609.8L158.6 608.3L160.6 606.8L162.6 604.9L164.3 603.0L166.1 600.6L167.4 598.2L168.2 596.2L168.6 594.2L168.6 592.6L168.5 591.8L168.2 591.0L167.8 590.3L167.4 589.8L166.9 589.3L166.2 589.0L165.4 588.7L164.6 588.6L163.8 588.6L162.6 588.8L160.6 589.3L158.6 590.2L156.2 591.6L154.2 593.2L152.2 595.0L150.5 597.0L148.8 599.4L147.4 601.8L146.7 603.8L146.2 605.8L146.1 607.0L146.2 607.8L146.6 609.2L147.0 609.8L147.4 610.3L147.8 610.6L148.6 611.0L149.4 611.3L150.2 611.4Z" fill="#ffcac1"/><path d="M151.7 609.4L153.0 609.3L154.6 608.8L156.2 608.1L158.2 607.0L159.8 605.8L161.6 604.2L163.0 602.5L164.5 600.6L165.6 598.6L166.2 597.0L166.6 595.4L166.7 593.8L166.3 592.6L165.8 591.8L165.4 591.4L164.7 591.0L163.4 590.6L161.8 590.7L160.2 591.1L158.6 591.8L156.6 593.0L155.0 594.2L153.3 595.8L151.8 597.4L150.4 599.4L149.2 601.4L148.6 603.0L148.2 604.6L148.1 606.2L148.4 607.4L149.0 608.3L149.9 609.0L150.6 609.2L151.4 609.4Z" fill="#ffb5a7"/><path d="M152.0 607.4L153.0 607.5L154.6 607.2L155.8 606.8L157.4 606.0L158.9 605.0L160.2 603.8L161.4 602.6L162.6 601.1L163.5 599.8L164.2 598.2L164.7 596.6L164.8 595.4L164.6 594.4L164.2 593.6L163.6 593.0L162.6 592.6L161.4 592.5L160.2 592.7L158.6 593.3L157.4 594.0L156.0 595.0L154.6 596.1L153.4 597.3L152.4 598.6L151.4 600.1L150.8 601.4L150.2 603.0L150.0 604.2L150.1 605.4L150.4 606.2L151.0 606.9L151.8 607.3Z" fill="#ff9986"/><path d="M152.6 605.4L153.0 605.6L153.8 605.8L154.6 605.7L155.9 605.4L157.0 604.8L158.2 604.1L159.4 603.1L160.3 602.2L161.9 600.2L162.5 599.0L162.9 597.8L163.1 596.6L163.0 595.8L162.6 595.0L162.2 594.6L161.8 594.4L161.0 594.2L160.2 594.3L159.0 594.6L157.8 595.1L156.8 595.8L155.8 596.6L154.6 597.6L153.8 598.6L153.0 599.8L152.3 601.0L152.0 601.8L151.7 603.0L151.7 603.8L151.9 604.6L152.2 605.1Z" fill="#ff7b63"/><path d="M153.8 603.8L154.2 604.0L155.0 604.1L156.2 603.9L157.8 603.0L159.3 601.8L160.6 600.2L161.0 599.4L161.3 598.6L161.5 597.4L161.4 597.0L161.0 596.3L160.6 596.0L159.8 595.9L158.6 596.1L157.0 596.9L155.8 597.9L154.6 599.4L153.7 601.0L153.3 602.2L153.4 603.0L153.5 603.4Z" fill="#ff6246"/></g>
<g stroke="none"><path d="M208.3 579.7L208.7 580.0L209.1 580.1L209.5 580.0L209.9 579.7L210.5 578.9L211.2 577.7L211.8 576.1L212.4 573.7L212.9 571.3L213.3 568.5L213.5 566.1L213.6 562.9L213.5 560.5L213.3 557.7L213.0 555.3L212.6 553.7L212.1 552.5L211.5 551.4L211.1 551.1L210.7 550.9L210.3 550.9L209.9 551.1L209.5 551.5L208.7 552.7L208.1 554.1L207.4 556.5L206.9 558.5L206.5 561.3L206.2 564.5L206.0 566.9L206.0 569.7L206.2 572.1L206.4 574.5L206.8 576.5L207.3 578.1L207.9 579.3Z" fill="#ffffff"/><path d="M208.6 578.1L209.1 578.3L209.5 578.2L209.9 578.0L210.4 577.3L211.1 576.0L211.6 574.5L212.1 572.5L212.5 570.5L212.9 567.7L213.0 565.3L213.1 562.5L213.0 560.1L212.8 558.1L212.5 556.1L212.0 554.5L211.5 553.4L211.0 552.9L210.7 552.7L210.3 552.7L209.9 552.9L209.5 553.2L209.1 553.8L208.5 554.9L207.6 557.7L207.2 559.7L206.8 562.5L206.5 567.3L206.5 569.7L206.7 571.7L206.9 573.7L207.3 575.7L207.8 576.9L208.3 577.8Z" fill="#f6f6fb"/><path d="M209.0 576.1L209.5 576.2L209.9 575.9L210.6 574.9L211.1 573.7L211.6 572.1L212.0 570.1L212.4 566.5L212.6 562.5L212.3 558.9L212.0 557.3L211.6 556.1L211.1 555.2L210.7 554.9L210.3 554.8L209.9 554.9L209.5 555.3L209.1 555.9L208.6 556.9L208.1 558.5L207.7 560.1L207.2 563.7L207.0 567.7L207.3 571.7L207.6 573.3L207.9 574.5L208.3 575.5L208.7 576.0Z" fill="#eaeaf6"/><path d="M209.1 574.5L209.5 574.6L209.9 574.3L210.3 573.8L210.9 572.5L211.6 569.7L212.0 566.5L212.1 562.9L211.9 559.9L211.4 557.7L211.1 557.1L210.7 556.6L210.5 556.5L210.3 556.4L209.9 556.5L209.5 556.9L208.9 558.1L208.1 560.5L207.6 563.7L207.5 566.9L207.6 570.1L208.0 572.5L208.3 573.5L208.7 574.2Z" fill="#dadaef"/><path d="M209.0 572.9L209.1 573.1L209.5 573.2L209.9 572.9L210.4 572.1L211.1 570.1L211.6 567.3L211.8 564.5L211.7 561.7L211.5 560.3L211.3 559.3L211.1 558.8L210.7 558.1L210.3 557.8L209.9 557.9L209.5 558.3L209.2 558.9L208.6 560.5L208.1 562.9L207.9 565.7L207.9 568.5L208.2 570.9L208.7 572.6Z" fill="#c7c7e7"/><path d="M209.3 571.7L209.5 571.8L209.9 571.6L210.3 571.0L210.6 570.1L211.1 568.2L211.4 566.1L211.4 563.7L211.2 561.3L210.7 559.7L210.3 559.2L209.9 559.2L209.5 559.7L209.1 560.5L208.6 562.1L208.3 564.5L208.2 566.9L208.3 568.9L208.7 570.9L209.1 571.6Z" fill="#b0b0dd"/><path d="M209.5 570.5L209.9 570.4L210.3 569.7L210.7 568.4L211.0 566.1L211.1 564.1L211.0 562.5L210.7 561.2L210.3 560.5L209.9 560.5L209.5 560.9L209.0 562.1L208.6 564.1L208.5 566.1L208.6 567.7L208.7 569.0L209.1 570.2Z" fill="#9292d0"/><path d="M209.5 569.3L209.9 569.2L210.3 568.4L210.7 566.5L210.8 564.9L210.8 563.7L210.7 562.9L210.3 561.8L209.9 561.6L209.5 562.1L209.0 563.7L208.8 565.3L208.8 566.5L209.0 568.1L209.2 568.9Z" fill="#7272c2"/><path d="M209.4 568.1L209.5 568.2L209.9 568.1L210.3 567.1L210.4 566.5L210.5 565.3L210.5 564.1L210.3 563.1L210.1 562.9L209.9 562.7L209.5 563.3L209.2 564.5L209.1 566.5L209.3 567.7Z" fill="#5858b7"/></g>
<path d="M153.8 605.0L154.6 605.0L155.4 604.9L156.2 604.6L157.1 604.2L158.2 603.5L159.0 602.8L159.8 602.0L160.7 601.0L161.4 599.9L161.9 599.0L162.2 598.2L162.4 597.4L162.3 596.6L162.0 595.8L161.7 595.4L161.0 595.1L160.2 595.0L159.4 595.1L158.6 595.4L157.4 596.0L156.5 596.6L155.4 597.5L153.8 599.4L153.1 600.6L152.8 601.4L152.5 602.2L152.4 603.0L152.5 603.8L152.7 604.2L153.0 604.6L153.8 605.0ZM149.5 609.8L150.2 610.0L151.0 610.1L152.6 610.0L154.2 609.6L156.2 608.7L158.2 607.6L160.2 606.0L161.8 604.6L163.6 602.6L165.1 600.6L166.2 598.6L167.0 596.6L167.3 595.0L167.4 593.4L167.2 592.6L166.9 591.8L166.2 590.9L165.8 590.5L165.0 590.1L164.2 589.9L163.4 589.9L161.8 590.1L160.2 590.5L158.2 591.4L156.4 592.6L154.6 593.9L153.0 595.4L151.2 597.4L149.8 599.4L148.7 601.4L147.8 603.4L147.5 605.0L147.4 606.6L147.7 607.8L148.1 608.6L148.4 609.0L148.8 609.4L149.4 609.7ZM146.9 615.0L147.8 615.1L149.0 615.1L150.2 615.0L151.8 614.6L154.6 613.6L157.4 612.1L160.2 610.2L163.1 607.8L165.8 605.0L168.0 602.2L170.0 599.0L171.3 596.2L172.1 593.4L172.3 592.2L172.4 591.0L172.3 589.8L172.0 588.5L171.7 587.7L171.2 586.9L170.7 586.3L169.8 585.7L169.0 585.3L167.8 585.0L166.6 584.9L165.4 584.9L163.0 585.4L160.2 586.4L157.4 587.9L154.6 589.8L151.8 592.2L149.1 595.0L146.9 597.8L144.9 601.0L143.6 603.8L142.7 606.6L142.4 609.0L142.5 610.2L142.8 611.4L143.1 612.2L143.5 613.0L144.2 613.7L144.8 614.2L145.8 614.7L146.6 614.9ZM142.6 619.8L143.8 620.0L145.4 620.2L147.0 620.1L149.0 619.7L150.6 619.3L152.6 618.5L154.6 617.6L156.2 616.8L158.2 615.6L160.2 614.2L162.2 612.7L164.2 611.0L166.0 609.4L167.8 607.4L170.8 603.8L172.5 601.4L173.5 599.8L174.6 597.8L175.5 595.8L176.1 594.2L176.8 592.2L177.2 590.2L177.3 588.5L177.3 586.9L177.1 585.3L176.7 584.1L176.0 582.9L175.1 581.8L174.3 581.2L173.1 580.5L171.9 580.1L170.7 579.9L169.0 579.9L167.4 580.0L165.8 580.3L164.2 580.7L162.2 581.4L160.2 582.3L158.2 583.4L156.2 584.6L154.2 586.0L150.6 588.9L148.9 590.6L147.0 592.5L144.0 596.2L142.6 598.2L141.3 600.2L140.2 602.2L139.3 604.2L138.5 606.2L138.1 607.8L137.6 609.8L137.5 611.4L137.5 613.0L137.6 614.2L137.9 615.4L138.6 616.8L139.3 617.8L140.2 618.6L141.4 619.3L142.6 619.8Z" fill="none" stroke="#ff5a3c" stroke-width="1.4" stroke-linejoin="round"/>
<path d="M209.3 568.5L209.5 568.9L209.9 568.8L210.3 567.9L210.6 566.1L210.7 564.5L210.6 563.3L210.3 562.3L210.0 562.1L209.9 562.1L209.5 562.5L209.1 564.0L208.9 566.1L209.1 568.1ZM209.3 572.1L209.5 572.2L209.9 572.0L210.3 571.4L210.7 570.5L211.1 568.8L211.4 566.5L211.5 564.1L211.4 561.7L211.1 560.1L210.7 559.2L210.4 558.9L210.3 558.8L209.9 558.9L209.5 559.3L209.1 560.0L208.6 561.7L208.2 564.1L208.1 566.9L208.2 569.3L208.7 571.3L209.1 572.1ZM208.7 575.3L209.1 575.6L209.5 575.6L209.9 575.3L210.2 574.9L210.7 574.1L211.1 572.9L211.6 571.3L212.1 568.1L212.4 564.1L212.3 560.5L211.8 557.7L211.5 556.7L211.1 555.9L210.7 555.5L210.3 555.4L209.9 555.5L209.5 555.9L209.1 556.5L208.7 557.4L208.2 558.9L207.6 562.1L207.2 565.7L207.3 569.7L207.4 571.3L207.7 572.9L208.0 574.1L208.4 574.9ZM208.3 578.5L208.7 578.8L209.1 578.9L209.5 578.8L209.9 578.6L210.3 578.1L211.0 576.9L211.6 575.3L212.1 573.7L212.5 571.7L212.9 568.9L213.2 565.7L213.3 563.3L213.2 560.9L213.1 558.5L212.9 556.9L212.4 554.9L211.9 553.4L211.3 552.5L210.7 552.1L210.3 552.1L209.9 552.3L209.1 553.2L208.6 554.1L208.0 555.7L207.3 558.1L206.9 560.5L206.6 562.9L206.3 567.7L206.4 570.1L206.5 572.5L206.8 574.5L207.2 576.1L207.8 577.7L208.3 578.5Z" fill="none" stroke="#4f4fb3" stroke-width="1.4" stroke-linejoin="round"/></g>
<g clip-path="url(#c62)"><g stroke="none"><path d="M236.8 619.0L238.3 619.0L239.9 618.9L241.9 618.4L243.5 618.0L245.5 617.2L247.1 616.5L249.1 615.3L251.1 614.0L252.7 612.9L254.7 611.2L257.8 608.2L259.5 606.2L260.7 604.6L261.7 603.0L262.9 601.0L263.7 599.4L264.6 597.4L265.2 595.4L265.6 593.8L265.8 592.2L265.9 590.6L265.8 588.9L265.5 587.3L265.1 586.1L264.5 584.9L263.6 583.7L262.7 582.9L261.6 582.1L260.3 581.6L258.7 581.2L257.1 581.0L255.5 581.0L253.9 581.2L252.3 581.5L250.3 582.1L248.7 582.8L246.7 583.7L244.7 584.9L243.1 585.9L241.5 587.1L239.5 588.7L236.5 591.8L234.8 593.8L233.6 595.4L232.5 597.0L231.3 599.0L230.5 600.6L229.7 602.6L229.0 604.6L228.6 606.2L228.4 607.8L228.3 609.4L228.4 611.0L228.6 612.6L229.0 613.8L229.6 615.0L230.5 616.2L231.5 617.1L232.7 617.9L233.9 618.4L235.1 618.8L236.7 619.0Z" fill="#fff7f5"/><path d="M237.7 615.8L239.1 615.9L240.3 615.8L241.9 615.6L243.5 615.2L245.1 614.7L246.7 613.9L249.5 612.4L252.3 610.3L255.1 607.8L257.6 605.0L258.8 603.4L259.8 601.8L260.6 600.2L261.4 598.6L262.3 595.8L262.7 594.2L262.8 593.0L262.8 591.4L262.7 590.2L262.4 588.9L262.0 588.0L261.3 586.9L260.6 586.1L259.6 585.3L258.7 584.9L257.5 584.4L256.3 584.2L255.1 584.1L253.5 584.2L252.3 584.4L250.7 584.8L249.1 585.3L247.5 586.0L244.7 587.6L241.9 589.6L239.1 592.2L236.7 595.0L235.5 596.6L234.5 598.2L233.6 599.8L232.8 601.4L231.9 604.2L231.6 605.4L231.4 607.0L231.4 608.6L231.5 609.8L231.8 611.0L232.3 612.2L232.8 613.0L233.5 613.8L234.3 614.5L235.1 615.0L236.3 615.5L237.5 615.8Z" fill="#ffebe8"/><path d="M239.0 613.4L239.9 613.5L241.1 613.5L243.5 613.1L245.9 612.2L248.7 610.8L251.1 609.1L253.6 607.0L255.7 604.6L257.7 601.8L259.0 599.4L260.0 596.6L260.4 594.2L260.5 593.0L260.3 591.8L260.0 590.6L259.7 589.8L258.7 588.4L258.0 587.7L257.1 587.2L256.3 586.9L255.1 586.6L253.1 586.5L250.7 586.9L249.5 587.3L247.9 587.9L245.5 589.2L243.1 590.9L240.7 593.0L238.5 595.4L236.6 598.2L235.3 600.6L234.2 603.4L233.8 605.8L233.7 607.0L233.9 608.2L234.1 609.4L234.5 610.2L234.9 611.0L235.5 611.7L236.3 612.3L237.1 612.8L238.7 613.3Z" fill="#ffdcd6"/><path d="M241.1 611.4L243.1 611.2L245.1 610.7L247.5 609.6L249.5 608.4L251.5 606.8L253.5 604.8L255.1 602.8L256.6 600.6L257.6 598.2L258.2 596.2L258.4 594.2L258.2 592.6L257.9 591.8L257.5 591.0L257.1 590.5L256.4 589.8L255.1 589.0L253.5 588.7L251.5 588.7L249.5 589.1L247.5 589.9L245.1 591.3L243.1 592.8L241.1 594.7L239.5 596.6L237.9 599.0L236.7 601.4L236.1 603.4L235.8 605.4L235.9 606.6L236.0 607.4L236.3 608.2L236.7 609.0L237.1 609.6L237.7 610.2L238.3 610.6L239.1 611.0L240.7 611.3Z" fill="#ffcac1"/><path d="M242.3 609.4L243.9 609.2L245.5 608.8L247.5 607.9L249.1 606.9L250.7 605.6L252.3 604.1L253.9 602.2L254.8 600.6L255.8 598.6L256.2 597.0L256.4 595.4L256.2 593.8L255.7 592.6L254.7 591.5L253.5 590.9L252.3 590.7L250.7 590.7L249.1 591.0L247.1 591.9L245.3 593.0L243.5 594.3L241.9 595.9L240.4 597.8L239.4 599.4L238.5 601.4L238.0 603.0L237.8 604.6L238.0 606.2L238.5 607.4L239.1 608.2L239.5 608.5L240.7 609.1L241.9 609.4Z" fill="#ffb5a7"/><path d="M242.3 607.4L243.5 607.5L245.1 607.2L246.3 606.8L247.9 606.0L249.4 605.0L250.7 603.8L251.9 602.5L253.0 601.0L253.8 599.4L254.2 598.2L254.5 596.6L254.4 595.4L254.0 594.2L253.5 593.5L252.7 592.9L251.5 592.6L250.3 592.5L248.7 592.9L247.5 593.3L246.0 594.2L244.7 595.1L243.5 596.2L242.3 597.5L241.3 599.0L240.4 600.6L240.0 601.8L239.7 603.4L239.8 604.6L240.2 605.8L240.7 606.5L241.5 607.1L242.3 607.4Z" fill="#ff9986"/><path d="M242.7 605.4L243.5 605.7L244.3 605.8L245.1 605.7L246.3 605.3L247.5 604.8L248.4 604.2L249.5 603.3L250.6 602.2L251.2 601.4L252.0 600.2L252.5 599.0L252.8 597.8L252.8 596.6L252.5 595.8L252.0 595.0L251.5 594.6L250.7 594.3L249.9 594.2L249.1 594.3L247.9 594.6L246.7 595.2L245.9 595.8L244.7 596.7L243.7 597.8L243.0 598.6L242.3 599.8L241.9 600.6L241.5 601.8L241.4 603.0L241.5 603.8L241.8 604.6L242.3 605.1Z" fill="#ff7b63"/><path d="M243.8 603.8L244.7 604.1L245.5 604.1L246.3 603.9L247.1 603.6L247.9 603.1L248.7 602.4L249.5 601.6L250.6 600.2L250.9 599.4L251.1 598.6L251.1 597.4L250.8 596.6L250.3 596.2L249.9 596.0L249.1 595.9L248.3 596.0L247.7 596.2L246.3 596.9L244.8 598.2L244.2 599.0L243.7 599.8L243.1 601.2L243.0 601.8L243.1 602.6L243.2 603.0L243.5 603.5Z" fill="#ff6246"/></g>
<g stroke="none"><path d="M292.0 579.7L292.8 580.0L294.0 580.1L295.6 579.9L296.4 579.6L297.2 579.2L298.0 578.5L298.7 577.7L299.6 576.1L300.3 574.1L300.7 571.7L300.6 568.9L300.2 566.1L299.4 563.3L298.3 560.5L297.0 558.1L295.2 555.7L293.3 553.7L291.6 552.4L290.4 551.7L289.4 551.3L288.4 551.0L287.6 550.9L286.4 550.9L285.6 551.1L284.8 551.4L284.0 551.8L282.8 552.9L281.7 554.5L281.2 555.7L280.9 556.9L280.5 559.3L280.6 562.1L281.0 564.9L281.8 567.7L282.9 570.5L284.3 572.9L285.7 574.9L287.6 577.0L289.6 578.6L291.6 579.6Z" fill="#ffffff"/><path d="M292.3 578.1L293.2 578.3L294.0 578.3L294.8 578.2L295.6 577.9L296.8 577.2L297.5 576.5L298.0 575.8L298.8 574.1L299.3 572.1L299.5 570.1L299.3 567.7L298.8 565.3L298.1 562.9L297.0 560.5L295.6 558.1L294.0 556.1L292.4 554.7L290.8 553.6L289.0 552.9L287.6 552.7L286.8 552.7L286.0 552.9L285.2 553.3L284.5 553.7L284.0 554.2L283.4 554.9L282.5 556.5L282.0 558.5L281.8 560.5L281.9 562.9L282.3 565.3L283.0 567.7L284.2 570.5L285.4 572.5L286.8 574.4L288.4 576.0L290.0 577.2L290.8 577.6L292.0 578.1Z" fill="#f6f6fb"/><path d="M292.4 576.1L293.6 576.2L294.8 575.9L296.0 575.1L296.8 574.1L297.5 572.5L297.9 570.9L298.0 568.9L297.8 566.9L297.4 564.9L296.7 562.9L295.8 560.9L294.8 559.3L293.5 557.7L292.0 556.3L290.8 555.6L289.2 554.9L288.4 554.8L287.6 554.8L286.4 555.1L285.2 555.9L284.4 556.9L283.8 558.1L283.4 559.7L283.2 561.7L283.3 563.7L283.8 566.1L284.5 568.1L285.5 570.1L286.5 571.7L287.8 573.3L289.2 574.6L290.8 575.6L292.0 576.1Z" fill="#eaeaf6"/><path d="M292.2 574.5L293.2 574.6L294.4 574.2L295.2 573.6L296.0 572.6L296.5 571.3L296.8 569.7L296.9 568.1L296.7 566.5L296.3 564.9L295.8 563.3L295.0 561.7L294.0 560.0L292.8 558.6L291.6 557.6L290.4 556.9L289.2 556.5L288.0 556.4L286.8 556.8L286.0 557.4L285.2 558.5L284.7 559.7L284.4 561.3L284.3 562.9L284.5 564.5L284.9 566.1L285.4 567.7L286.2 569.3L287.2 570.9L288.4 572.3L289.6 573.4L290.8 574.1L292.0 574.5Z" fill="#dadaef"/><path d="M291.2 572.9L292.4 573.2L293.2 573.1L294.0 572.7L294.8 572.0L295.2 571.3L295.7 570.1L295.9 568.9L295.9 567.3L295.7 566.1L295.3 564.5L294.7 562.9L294.0 561.7L293.2 560.5L292.0 559.3L291.2 558.7L290.1 558.1L289.2 557.9L288.0 557.9L287.2 558.3L286.5 558.9L285.9 559.7L285.5 560.9L285.3 562.1L285.3 563.3L285.4 564.5L285.8 566.1L286.4 567.7L287.0 568.9L287.8 570.1L288.8 571.3L289.7 572.1L290.8 572.8Z" fill="#c7c7e7"/><path d="M291.4 571.7L292.4 571.8L293.2 571.6L294.0 571.0L294.3 570.5L294.7 569.7L294.9 568.9L295.0 567.7L294.9 566.5L294.6 565.3L294.3 564.1L293.7 562.9L293.2 562.0L292.4 561.0L291.6 560.2L290.8 559.7L289.9 559.3L289.2 559.2L288.4 559.3L287.6 559.7L287.2 560.1L286.7 560.9L286.4 561.7L286.2 562.9L286.3 564.1L286.5 565.3L286.8 566.5L287.3 567.7L288.0 568.9L288.8 570.0L289.6 570.7L290.4 571.3L291.2 571.7Z" fill="#b0b0dd"/><path d="M291.6 570.5L292.4 570.5L292.8 570.3L293.2 570.0L293.6 569.4L294.0 568.1L294.1 567.3L294.0 566.1L293.7 564.9L293.4 564.1L293.0 563.3L292.4 562.3L291.2 561.1L290.4 560.7L289.9 560.5L289.2 560.5L288.8 560.5L288.1 560.9L287.8 561.3L287.4 562.1L287.2 562.9L287.2 564.5L287.6 566.3L288.4 568.1L289.6 569.5L290.4 570.1L291.2 570.5Z" fill="#9292d0"/><path d="M291.1 569.3L291.6 569.4L292.0 569.3L292.4 569.1L292.8 568.7L293.2 567.7L293.3 566.9L293.2 566.1L292.8 564.5L292.1 563.3L291.2 562.2L290.2 561.7L289.6 561.6L289.2 561.7L288.6 562.1L288.3 562.5L288.0 563.3L287.9 564.5L288.3 566.1L288.8 567.3L289.8 568.5L290.8 569.2Z" fill="#7272c2"/><path d="M290.6 568.1L291.2 568.3L291.6 568.2L292.0 568.0L292.4 567.4L292.5 566.5L292.4 565.4L292.0 564.4L291.2 563.3L290.6 562.9L290.0 562.7L289.6 562.8L289.2 563.0L288.8 563.7L288.7 564.5L288.8 565.4L289.2 566.5L289.7 567.3L290.4 568.0Z" fill="#5858b7"/></g>
<path d="M243.9 605.0L244.7 605.0L245.5 604.9L246.7 604.6L247.5 604.1L248.7 603.4L249.5 602.6L250.9 601.0L251.5 599.8L251.8 599.0L252.0 598.2L252.1 597.4L252.0 596.6L251.5 595.8L251.1 595.4L250.3 595.0L249.5 595.0L248.7 595.0L247.7 595.4L246.7 595.8L245.6 596.6L244.7 597.4L243.4 599.0L242.7 600.1L242.4 601.0L242.2 601.8L242.1 602.6L242.2 603.4L242.6 604.2L243.0 604.6L243.5 604.9ZM240.1 609.8L241.5 610.1L242.3 610.1L243.5 610.0L245.1 609.6L247.1 608.7L249.1 607.5L251.1 606.0L252.9 604.2L254.3 602.4L255.7 600.2L256.5 598.2L257.0 596.2L257.1 594.6L256.8 593.0L256.2 591.8L255.1 590.8L253.9 590.2L252.3 589.9L250.7 590.0L248.7 590.6L246.7 591.5L244.7 592.7L243.1 594.0L241.3 595.8L239.9 597.5L238.8 599.4L237.9 601.4L237.3 603.4L237.1 605.0L237.3 606.6L237.7 607.8L238.3 608.6L238.7 609.0L239.9 609.7ZM238.0 615.0L239.1 615.1L240.3 615.1L241.9 614.9L243.1 614.6L245.9 613.6L247.5 612.9L249.1 611.9L251.9 609.9L254.7 607.4L257.2 604.6L259.1 601.8L260.5 599.0L261.2 597.4L261.6 595.8L261.9 594.2L262.0 593.0L262.0 591.8L261.9 590.6L261.6 589.3L261.2 588.5L260.7 587.7L259.9 586.8L259.1 586.2L258.3 585.7L257.1 585.2L255.9 585.0L254.7 584.9L253.5 584.9L252.3 585.1L250.7 585.5L249.1 586.0L247.5 586.7L244.7 588.3L241.9 590.3L239.5 592.6L237.1 595.4L235.2 598.2L233.7 601.0L233.1 602.6L232.6 604.2L232.3 605.8L232.2 607.0L232.2 608.2L232.3 609.4L232.6 610.6L232.9 611.4L233.5 612.3L234.3 613.2L235.1 613.9L235.9 614.3L236.7 614.7L237.9 615.0ZM234.1 619.8L235.5 620.0L237.1 620.1L238.7 620.1L240.7 619.7L242.7 619.2L244.3 618.7L246.3 617.8L248.3 616.8L250.3 615.6L251.9 614.5L253.9 612.9L255.9 611.2L257.7 609.4L259.2 607.8L260.8 605.8L262.2 603.8L263.4 601.8L264.5 599.8L265.4 597.8L266.1 595.8L266.6 593.8L266.9 592.2L267.0 590.2L267.0 588.5L266.7 586.9L266.2 585.3L265.6 584.1L264.8 583.0L263.9 582.1L262.8 581.3L261.6 580.7L259.9 580.2L258.3 579.9L256.7 579.9L255.1 580.0L253.1 580.3L251.5 580.8L249.5 581.5L247.5 582.3L245.5 583.4L243.5 584.6L241.5 586.1L238.1 588.9L236.3 590.8L234.7 592.6L233.5 594.2L232.1 596.2L230.8 598.2L229.8 600.2L228.9 602.2L228.1 604.2L227.7 605.8L227.3 607.8L227.2 609.8L227.2 611.4L227.5 613.0L228.0 614.6L228.6 615.8L229.4 617.0L230.3 617.9L231.5 618.7L232.7 619.3L233.9 619.7Z" fill="none" stroke="#ff5a3c" stroke-width="1.4" stroke-linejoin="round"/>
<path d="M290.3 568.5L291.2 568.9L291.6 568.9L292.0 568.8L292.4 568.5L292.6 568.1L292.8 567.7L292.9 566.9L292.8 565.7L292.4 564.3L291.7 563.3L290.9 562.5L290.0 562.1L289.6 562.1L289.2 562.3L288.8 562.6L288.6 562.9L288.3 563.7L288.3 564.9L288.6 566.1L289.2 567.3L290.0 568.3ZM291.3 572.1L292.4 572.3L293.2 572.1L293.8 571.7L294.4 571.2L294.8 570.5L295.1 569.3L295.3 568.1L295.2 566.9L294.9 565.3L294.6 564.1L294.0 562.9L293.3 561.7L292.4 560.5L291.6 559.8L290.8 559.2L290.0 558.9L288.8 558.7L288.0 558.9L287.3 559.3L286.8 559.9L286.4 560.6L286.0 561.7L285.9 562.9L286.0 564.1L286.3 565.7L286.7 566.9L287.2 568.1L287.9 569.3L288.8 570.4L289.6 571.2L290.4 571.7L291.2 572.1ZM291.3 575.3L292.0 575.6L292.8 575.7L294.0 575.6L295.2 575.1L296.0 574.4L296.8 573.2L297.3 571.7L297.6 570.1L297.6 568.1L297.4 566.5L296.9 564.5L296.2 562.5L295.1 560.5L294.0 558.9L292.8 557.5L291.2 556.3L290.0 555.7L289.2 555.4L288.4 555.3L287.2 555.4L286.0 556.0L285.2 556.7L284.4 557.9L283.9 559.3L283.6 560.9L283.6 562.9L283.9 564.9L284.4 566.9L285.0 568.5L286.1 570.5L287.2 572.1L288.4 573.4L289.6 574.4L291.2 575.3ZM292.9 578.9L294.4 579.0L295.2 578.9L296.0 578.6L296.8 578.1L297.6 577.5L298.6 576.1L299.0 575.3L299.4 574.1L299.8 572.1L299.9 569.7L299.7 567.3L299.1 564.5L298.3 562.1L297.1 559.7L295.6 557.3L293.9 555.3L292.0 553.7L290.4 552.7L289.2 552.3L288.4 552.1L286.8 552.0L286.0 552.1L285.2 552.4L283.9 553.3L283.2 554.0L282.6 554.9L282.2 555.7L281.8 556.9L281.4 558.9L281.3 561.3L281.5 563.7L282.1 566.5L282.9 568.9L284.1 571.3L285.6 573.7L287.3 575.7L289.2 577.3L290.8 578.3L292.0 578.7L292.8 578.9Z" fill="none" stroke="#4f4fb3" stroke-width="1.4" stroke-linejoin="round"/></g>
<g clip-path="url(#c63)"><g stroke="none"><path d="M358.2 619.0L360.9 619.0L363.3 618.9L365.7 618.5L368.1 618.0L370.5 617.3L372.5 616.4L374.3 615.4L376.0 614.2L377.3 613.0L378.5 611.5L379.3 610.2L380.0 608.6L380.5 607.0L380.7 605.0L380.6 603.4L380.2 601.4L379.5 599.4L378.8 597.8L377.5 595.8L376.1 593.9L374.5 592.2L372.8 590.6L370.7 588.9L368.5 587.4L366.5 586.3L364.1 585.1L361.3 583.9L358.9 583.1L356.1 582.3L353.3 581.7L350.4 581.3L347.6 581.0L344.8 581.0L342.4 581.1L340.0 581.5L337.6 582.0L335.2 582.7L333.2 583.6L331.4 584.5L329.7 585.7L328.4 586.9L327.1 588.5L326.1 590.2L325.5 591.8L325.1 593.4L324.9 595.4L325.1 597.0L325.5 599.0L326.2 601.0L327.0 602.6L328.3 604.6L329.5 606.2L331.0 607.8L332.8 609.4L334.8 611.0L337.2 612.6L339.6 614.0L342.0 615.1L344.8 616.3L347.2 617.1L350.0 617.9L352.9 618.4L355.7 618.8L358.1 619.0Z" fill="#fff7f5"/><path d="M355.9 615.8L358.1 615.9L360.5 615.8L362.5 615.7L364.5 615.3L366.5 614.8L368.1 614.2L369.7 613.5L371.3 612.5L372.5 611.6L373.7 610.4L374.7 609.0L375.3 607.8L375.7 606.6L376.0 605.0L376.1 603.4L375.9 601.8L375.4 600.2L374.7 598.6L373.8 597.0L373.0 595.8L371.7 594.2L370.4 593.0L368.9 591.6L366.9 590.1L364.9 588.9L362.9 587.8L360.5 586.8L358.5 586.0L356.5 585.4L354.1 584.8L351.6 584.4L349.6 584.2L347.2 584.1L345.2 584.2L343.2 584.3L341.2 584.7L339.2 585.2L337.6 585.7L336.0 586.5L334.4 587.4L333.2 588.3L332.0 589.5L330.9 591.0L330.3 592.2L329.9 593.4L329.6 595.0L329.5 596.6L329.7 598.2L330.2 599.8L330.6 601.0L331.5 602.6L332.6 604.2L333.9 605.8L335.2 607.1L336.8 608.5L338.6 609.8L340.4 610.9L342.4 612.0L344.8 613.1L346.8 613.9L348.8 614.5L351.2 615.1L353.7 615.5L355.7 615.8Z" fill="#ffebe8"/><path d="M355.3 613.4L358.9 613.5L360.9 613.3L362.5 613.0L364.1 612.7L365.7 612.1L367.3 611.4L368.5 610.6L369.6 609.8L370.5 608.9L371.3 607.8L371.9 606.6L372.3 605.4L372.5 604.2L372.6 603.0L372.4 601.8L372.1 600.6L371.5 599.0L370.9 597.8L370.0 596.6L369.1 595.4L367.9 594.2L366.5 593.0L364.9 591.8L363.3 590.7L361.7 589.8L360.1 589.1L358.1 588.3L356.1 587.7L354.1 587.2L350.4 586.6L346.8 586.5L344.8 586.7L343.2 586.9L341.6 587.3L340.0 587.9L338.5 588.5L337.2 589.3L336.1 590.2L335.2 591.0L334.4 592.2L333.7 593.4L333.3 594.6L333.1 595.8L333.0 597.0L333.2 598.2L333.4 599.4L334.1 601.0L334.7 602.2L335.5 603.4L336.5 604.6L337.6 605.8L339.0 607.0L340.4 608.1L342.0 609.1L343.6 610.0L345.2 610.8L347.2 611.6L350.8 612.7L352.9 613.1L354.9 613.3Z" fill="#ffdcd6"/><path d="M356.4 611.4L358.1 611.4L359.7 611.2L362.5 610.6L363.7 610.2L364.9 609.7L366.0 609.0L366.9 608.3L367.8 607.4L368.4 606.6L369.1 605.0L369.4 604.2L369.5 603.0L369.4 601.8L369.1 600.6L368.7 599.4L368.1 598.2L366.6 596.2L364.5 594.2L362.1 592.4L359.3 590.9L356.1 589.7L352.9 589.0L349.6 588.6L346.4 588.7L343.6 589.2L342.4 589.6L341.1 590.2L340.0 590.7L338.8 591.6L337.9 592.6L337.3 593.4L336.5 595.0L336.3 595.8L336.1 597.0L336.2 598.2L336.4 599.4L336.9 600.6L337.5 601.8L338.9 603.8L341.0 605.8L343.6 607.6L346.4 609.1L349.6 610.3L352.9 611.0L356.1 611.4Z" fill="#ffcac1"/><path d="M355.9 609.4L358.5 609.2L360.9 608.7L362.9 607.9L364.5 606.8L365.1 606.2L365.7 605.4L366.1 604.6L366.4 603.8L366.5 602.2L366.5 601.4L366.2 600.2L365.7 599.0L365.2 598.2L363.9 596.6L362.2 595.0L360.1 593.5L357.7 592.3L355.3 591.5L352.9 590.9L350.0 590.6L347.6 590.7L345.2 591.1L343.2 591.9L341.4 593.0L340.3 594.2L339.7 595.0L339.4 595.8L339.1 597.4L339.1 598.2L339.3 599.4L339.6 600.3L340.1 601.4L341.3 603.0L342.9 604.6L344.0 605.5L345.2 606.3L347.6 607.5L350.4 608.5L353.3 609.2L355.7 609.4Z" fill="#ffb5a7"/><path d="M353.7 607.4L355.7 607.5L357.7 607.3L359.3 607.0L361.1 606.2L362.2 605.4L363.1 604.2L363.6 603.0L363.8 602.2L363.7 601.4L363.3 599.8L362.7 598.6L361.4 597.0L360.0 595.8L358.1 594.6L356.1 593.6L353.8 593.0L351.6 592.6L349.2 592.5L347.2 592.8L345.5 593.4L344.0 594.1L343.1 595.0L342.3 596.2L341.9 597.4L341.8 598.2L341.9 599.0L342.4 600.6L343.1 601.8L344.4 603.3L346.0 604.6L347.6 605.5L349.6 606.4L351.6 607.0L353.7 607.4Z" fill="#ff9986"/><path d="M351.8 605.4L353.7 605.7L355.3 605.8L356.9 605.6L358.1 605.3L359.3 604.7L360.1 604.1L360.9 603.0L361.2 602.2L361.2 601.0L360.9 599.8L360.2 598.6L359.5 597.8L358.1 596.6L356.9 595.8L355.3 595.1L353.5 594.6L352.0 594.3L350.4 594.2L348.8 594.4L347.6 594.7L346.4 595.2L345.6 595.8L344.8 596.8L344.4 597.8L344.4 599.0L344.7 600.2L345.2 601.2L346.0 602.2L347.2 603.2L348.4 604.0L350.0 604.8L351.6 605.3Z" fill="#ff7b63"/><path d="M351.8 603.8L352.9 604.0L354.1 604.1L355.3 604.1L356.5 603.8L357.3 603.5L358.0 603.0L358.5 602.4L358.7 601.8L358.8 601.0L358.7 600.2L358.3 599.4L357.8 598.6L356.9 597.8L355.7 597.0L354.8 596.6L353.5 596.2L352.5 596.0L351.2 595.9L350.0 596.0L349.2 596.2L348.4 596.5L347.7 597.0L347.2 597.5L346.8 598.3L346.8 599.0L346.9 599.8L347.2 600.6L347.8 601.4L348.4 602.0L349.2 602.6L350.4 603.3L351.6 603.7Z" fill="#ff6246"/></g>
<g stroke="none"><path d="M354.3 579.7L357.3 580.0L360.1 580.1L362.9 580.1L365.7 579.9L368.5 579.6L370.9 579.1L372.9 578.6L374.9 577.9L376.5 577.2L378.1 576.3L379.3 575.3L380.4 574.1L381.1 572.9L381.4 571.7L381.6 570.5L381.3 568.9L380.7 567.3L380.0 566.1L379.1 564.9L377.6 563.3L375.7 561.7L373.7 560.3L371.7 559.1L369.3 557.8L366.9 556.7L364.1 555.5L360.9 554.4L358.1 553.6L352.5 552.3L348.8 551.6L346.0 551.3L343.2 551.0L340.0 550.9L337.2 550.9L334.4 551.1L331.6 551.4L329.2 551.8L327.2 552.4L325.2 553.0L323.6 553.7L322.0 554.7L320.7 555.7L319.6 556.9L318.9 558.1L318.6 559.3L318.5 560.5L318.7 562.1L319.3 563.7L320.0 564.9L320.9 566.1L322.5 567.7L324.0 569.0L326.0 570.5L328.4 572.0L330.4 573.1L332.4 574.0L335.2 575.2L338.4 576.4L341.2 577.2L344.0 578.0L347.6 578.8L350.4 579.2L354.1 579.7Z" fill="#ffffff"/><path d="M355.4 578.1L358.1 578.3L360.9 578.3L363.3 578.2L365.7 577.9L367.7 577.6L369.7 577.1L371.7 576.5L373.3 575.8L374.7 574.9L375.7 574.1L376.5 573.3L377.2 572.1L377.6 570.9L377.7 569.7L377.5 568.5L377.0 567.3L376.4 566.1L375.5 564.9L374.3 563.7L373.0 562.5L371.3 561.3L369.4 560.1L367.7 559.1L365.3 558.0L360.9 556.2L355.7 554.7L350.0 553.5L347.2 553.1L344.4 552.8L339.6 552.7L337.2 552.8L334.8 553.0L332.4 553.4L330.4 553.9L328.8 554.3L327.2 555.0L325.9 555.7L324.7 556.5L323.9 557.3L323.0 558.5L322.5 559.7L322.3 560.9L322.4 562.1L322.8 563.3L323.4 564.5L324.2 565.7L325.3 566.9L326.8 568.3L328.4 569.5L330.4 570.8L332.4 571.9L334.4 572.9L336.8 573.9L339.2 574.8L344.4 576.4L350.0 577.5L355.3 578.1Z" fill="#f6f6fb"/><path d="M355.6 576.1L359.7 576.2L363.7 575.8L366.9 575.1L368.5 574.5L369.7 574.0L370.7 573.3L371.7 572.5L372.3 571.7L372.8 570.9L373.0 570.1L373.1 568.9L373.0 568.1L372.6 566.9L371.8 565.7L371.2 564.9L370.1 563.8L369.1 562.9L367.7 561.9L366.1 560.9L362.5 559.1L358.5 557.5L354.1 556.3L349.6 555.4L344.8 554.9L340.8 554.8L336.8 555.1L334.8 555.5L333.2 555.9L331.6 556.4L330.4 557.0L329.2 557.7L328.3 558.5L327.6 559.3L327.2 560.1L326.9 560.9L326.9 562.1L327.0 562.9L327.5 564.1L328.2 565.3L328.8 566.1L329.6 566.9L331.0 568.1L332.4 569.2L334.0 570.1L337.6 572.0L341.6 573.5L346.0 574.7L350.4 575.6L355.3 576.1Z" fill="#eaeaf6"/><path d="M354.9 574.5L358.5 574.5L361.7 574.2L364.5 573.6L365.7 573.2L367.0 572.5L367.7 572.1L368.5 571.3L369.1 570.5L369.5 569.7L369.6 568.9L369.6 568.1L369.4 567.3L369.1 566.5L368.3 565.3L367.5 564.5L365.7 562.9L363.2 561.3L360.1 559.8L356.9 558.6L352.9 557.5L348.8 556.8L344.8 556.5L341.2 556.5L338.0 556.8L335.2 557.5L334.0 558.0L333.0 558.5L332.0 559.2L331.4 559.7L330.9 560.5L330.5 561.3L330.4 562.1L330.4 562.9L330.6 563.7L331.0 564.5L331.8 565.7L332.5 566.5L334.4 568.1L336.9 569.7L340.0 571.2L343.2 572.4L347.2 573.5L351.2 574.2L354.9 574.5Z" fill="#dadaef"/><path d="M351.8 572.9L354.9 573.2L358.1 573.1L360.5 572.8L362.9 572.1L364.5 571.3L365.3 570.8L365.9 570.1L366.1 569.7L366.5 568.9L366.6 568.1L366.5 567.3L365.9 566.1L365.4 565.3L364.7 564.5L362.7 562.9L360.5 561.6L357.7 560.4L354.9 559.4L351.6 558.6L348.4 558.1L345.2 557.9L342.0 557.9L339.2 558.3L337.1 558.9L335.4 559.7L334.8 560.2L334.1 560.9L333.8 561.3L333.5 562.1L333.4 562.9L333.6 563.7L334.1 564.9L334.7 565.7L335.4 566.5L337.4 568.1L339.6 569.4L342.4 570.7L345.2 571.6L348.4 572.4L351.6 572.9Z" fill="#c7c7e7"/><path d="M352.6 571.7L355.3 571.8L357.7 571.6L359.7 571.2L361.3 570.7L362.5 569.9L363.1 569.3L363.3 568.9L363.5 568.5L363.7 567.7L363.4 566.5L362.6 565.3L361.4 564.1L359.7 562.9L357.4 561.7L354.9 560.8L352.5 560.1L350.0 559.6L347.2 559.3L344.8 559.2L342.4 559.4L340.4 559.7L339.2 560.1L338.4 560.5L337.3 561.3L336.6 562.1L336.5 562.5L336.3 563.3L336.6 564.5L337.4 565.7L338.6 566.9L340.4 568.1L342.4 569.2L344.8 570.1L347.2 570.8L349.6 571.4L352.5 571.7Z" fill="#b0b0dd"/><path d="M353.1 570.5L354.9 570.5L356.9 570.3L358.5 569.8L359.5 569.3L360.5 568.5L360.8 567.7L360.9 566.9L360.6 566.1L359.7 564.9L358.8 564.1L357.6 563.3L355.7 562.4L353.9 561.7L351.6 561.1L349.2 560.7L347.2 560.5L345.2 560.5L343.2 560.7L341.6 561.1L340.4 561.7L339.5 562.5L339.1 563.3L339.1 564.1L339.4 564.9L340.3 566.1L341.3 566.9L342.5 567.7L344.4 568.7L346.2 569.3L348.4 569.9L350.4 570.3L352.9 570.5Z" fill="#9292d0"/><path d="M351.6 569.3L353.3 569.4L354.5 569.3L355.7 569.1L356.9 568.7L357.7 568.2L358.1 567.7L358.4 566.9L358.2 566.1L357.7 565.3L356.9 564.5L354.9 563.3L353.3 562.7L351.6 562.2L350.0 561.9L348.4 561.7L346.8 561.6L345.2 561.7L343.6 562.1L342.8 562.5L342.2 562.9L341.8 563.3L341.7 563.7L341.6 564.1L341.8 564.9L342.3 565.7L343.2 566.5L345.2 567.7L346.4 568.2L348.0 568.7L349.6 569.1L351.2 569.3Z" fill="#7272c2"/><path d="M350.1 568.1L352.0 568.3L354.1 568.1L355.1 567.7L355.6 567.3L355.9 566.9L356.0 566.5L356.0 566.1L355.5 565.3L355.1 564.9L354.1 564.2L353.0 563.7L351.9 563.3L349.6 562.8L347.6 562.7L346.4 562.8L345.6 563.0L344.8 563.3L344.3 563.7L344.1 564.1L344.0 564.5L344.0 564.9L344.6 565.7L345.6 566.6L347.6 567.5L350.0 568.1Z" fill="#5858b7"/></g>
<path d="M353.4 605.0L354.9 605.0L356.1 604.9L357.3 604.6L358.3 604.2L358.9 603.8L359.7 603.0L360.0 602.2L360.2 601.0L360.0 600.2L359.4 599.0L358.8 598.2L357.7 597.2L356.5 596.4L355.3 595.8L353.9 595.4L352.5 595.1L350.8 595.0L349.6 595.1L348.4 595.3L347.4 595.8L346.8 596.2L346.0 597.0L345.6 597.8L345.4 599.0L345.6 600.0L346.1 601.0L346.8 601.9L348.0 602.9L349.2 603.7L350.4 604.2L351.6 604.6L353.3 604.9ZM352.9 609.8L355.7 610.1L358.5 610.0L360.9 609.6L362.1 609.2L363.3 608.7L364.9 607.7L365.7 607.0L366.4 606.2L366.9 605.4L367.2 604.6L367.4 603.8L367.6 602.6L367.5 601.8L367.3 600.6L366.9 599.4L366.4 598.6L365.7 597.4L365.0 596.6L363.3 594.9L361.1 593.4L358.5 592.0L355.7 590.9L352.5 590.2L349.6 589.9L346.8 590.1L344.4 590.6L343.2 591.0L342.0 591.5L340.4 592.6L339.6 593.4L339.0 594.2L338.6 595.0L338.3 595.8L338.1 596.6L338.0 597.8L338.1 598.6L338.4 599.8L338.8 600.8L339.4 601.8L340.8 603.7L342.7 605.4L344.8 606.9L347.2 608.1L350.0 609.1L352.9 609.8ZM355.7 615.0L358.1 615.1L360.1 615.0L362.1 614.8L364.1 614.5L366.1 614.0L367.6 613.4L369.2 612.6L370.5 611.8L371.7 610.8L372.7 609.8L373.6 608.6L374.2 607.4L374.6 606.2L374.9 604.6L374.9 603.4L374.7 601.8L374.3 600.2L373.6 598.6L372.7 597.0L371.8 595.8L370.5 594.2L369.2 593.0L367.7 591.8L366.1 590.6L364.1 589.3L362.1 588.3L360.1 587.4L358.1 586.7L355.7 586.0L353.7 585.5L349.6 585.0L347.6 584.9L345.6 585.0L343.6 585.1L341.6 585.5L339.6 586.0L338.0 586.6L336.5 587.3L335.2 588.1L334.0 589.1L333.0 590.2L332.1 591.4L331.5 592.6L331.0 593.8L330.7 595.4L330.7 596.6L330.9 598.2L331.3 599.8L332.0 601.4L332.6 602.6L333.7 604.2L335.1 605.8L336.4 607.0L337.8 608.2L339.2 609.2L340.8 610.2L342.8 611.3L344.8 612.3L346.8 613.1L348.8 613.7L351.2 614.3L353.7 614.7L355.7 615.0ZM355.2 619.8L358.1 620.0L360.9 620.1L363.7 619.9L366.5 619.5L368.9 619.0L371.3 618.3L373.3 617.4L375.3 616.4L376.9 615.3L378.6 613.8L379.9 612.2L380.9 610.6L381.6 609.0L382.1 607.0L382.2 605.4L382.1 603.4L381.7 601.4L381.0 599.4L380.1 597.4L378.8 595.4L377.3 593.4L375.7 591.8L373.7 589.9L371.7 588.3L369.3 586.7L367.3 585.5L364.9 584.3L362.1 583.1L358.9 582.0L356.1 581.2L353.3 580.6L350.4 580.2L347.6 580.0L344.8 579.9L342.4 580.0L339.6 580.4L337.2 580.9L334.8 581.5L332.4 582.5L330.4 583.6L328.8 584.7L327.1 586.1L325.8 587.7L324.8 589.3L324.1 591.0L323.6 593.0L323.4 594.6L323.5 596.6L323.9 598.6L324.5 600.6L325.5 602.6L326.5 604.2L328.0 606.2L329.6 608.0L331.5 609.8L333.6 611.5L336.0 613.1L338.4 614.5L341.2 615.9L343.6 616.9L346.4 617.9L349.2 618.7L352.0 619.3L354.9 619.7Z" fill="none" stroke="#ff5a3c" stroke-width="1.4" stroke-linejoin="round"/>
<path d="M349.2 568.5L352.0 568.9L353.7 568.8L354.9 568.7L355.7 568.4L356.5 568.1L356.9 567.7L357.2 567.3L357.3 566.9L357.3 566.5L357.0 565.7L356.5 565.0L355.8 564.5L354.9 563.9L353.6 563.3L352.5 562.9L350.8 562.5L348.0 562.1L346.8 562.1L345.6 562.2L344.5 562.5L343.6 562.9L343.1 563.3L342.8 563.7L342.7 564.1L342.8 564.9L343.3 565.7L344.0 566.4L344.8 566.9L346.4 567.7L348.8 568.5ZM352.3 572.1L355.3 572.3L357.7 572.1L360.1 571.7L361.7 571.2L362.5 570.8L363.3 570.3L364.2 569.3L364.5 568.8L364.6 568.1L364.5 566.9L363.9 565.7L363.2 564.9L362.5 564.2L360.7 562.9L358.9 561.9L356.5 560.9L353.7 560.0L350.8 559.3L348.0 558.9L345.2 558.7L342.8 558.8L340.4 559.2L338.4 559.8L336.8 560.6L336.1 561.3L335.8 561.7L335.6 562.1L335.4 562.9L335.5 564.1L336.2 565.3L336.8 566.1L337.6 566.9L339.4 568.1L341.2 569.2L343.6 570.2L346.4 571.1L349.2 571.7L352.0 572.1ZM352.3 575.3L356.5 575.6L360.5 575.6L364.1 575.1L366.9 574.3L368.3 573.7L369.3 573.2L370.2 572.5L370.9 571.7L371.5 570.9L371.8 570.1L371.9 569.3L371.8 568.1L371.6 567.3L371.0 566.1L370.4 565.3L369.3 564.1L368.1 563.0L366.9 562.1L364.1 560.5L360.5 558.8L356.5 557.5L352.0 556.4L348.0 555.7L344.0 555.4L340.0 555.4L336.4 555.8L334.8 556.2L333.2 556.7L332.0 557.1L330.8 557.8L329.8 558.5L329.0 559.3L328.5 560.1L328.2 560.9L328.1 561.7L328.2 562.9L328.6 564.1L329.0 564.9L329.9 566.1L330.7 566.9L332.0 568.0L333.2 568.9L336.0 570.6L339.6 572.2L343.6 573.6L348.0 574.7L352.0 575.3ZM358.2 578.9L360.9 579.0L363.3 578.9L365.7 578.7L368.1 578.3L370.1 577.9L372.1 577.3L374.0 576.5L375.5 575.7L376.9 574.7L377.8 573.7L378.4 572.9L378.9 571.7L379.1 570.5L379.1 569.3L378.8 568.1L378.0 566.5L377.2 565.3L375.7 563.7L374.4 562.5L372.8 561.3L370.9 560.1L368.5 558.7L364.1 556.7L361.7 555.8L358.5 554.8L353.3 553.5L348.0 552.6L345.2 552.3L342.0 552.1L339.2 552.0L336.4 552.1L334.0 552.4L331.6 552.7L329.6 553.2L327.6 553.8L325.9 554.5L324.4 555.3L323.2 556.2L322.1 557.3L321.6 558.1L321.1 559.3L320.9 560.5L320.9 561.7L321.4 563.3L322.0 564.5L322.9 565.7L324.3 567.3L325.7 568.5L327.3 569.7L329.2 571.0L331.6 572.3L336.0 574.3L340.8 576.0L343.6 576.8L346.8 577.5L352.5 578.5L355.3 578.8L358.1 578.9Z" fill="none" stroke="#4f4fb3" stroke-width="1.4" stroke-linejoin="round"/></g>
<g clip-path="url(#c64)"><g stroke="none"><path d="M445.0 619.0L447.4 619.1L450.6 619.0L452.6 618.8L455.0 618.5L457.8 617.7L461.0 616.7L463.4 615.7L465.4 614.6L467.4 613.4L469.0 612.1L470.6 610.6L472.3 608.6L473.3 607.0L474.0 605.4L474.4 603.8L474.6 602.2L474.5 600.6L474.0 598.6L473.1 596.6L472.1 595.0L470.9 593.4L469.2 591.4L467.4 589.8L465.4 588.2L463.4 586.8L461.0 585.5L457.8 584.0L455.0 582.9L453.0 582.3L450.6 581.7L447.4 581.2L445.0 581.0L439.3 580.9L436.5 581.1L434.5 581.4L431.7 582.0L429.3 582.8L426.9 583.8L424.7 584.9L422.8 586.1L420.9 587.5L419.3 589.0L418.1 590.6L417.0 592.2L416.1 594.2L415.5 596.2L415.4 597.8L415.5 599.4L416.0 601.4L416.8 603.4L417.9 605.4L419.3 607.3L420.9 609.0L422.6 610.6L424.5 612.0L426.9 613.6L429.3 614.9L431.7 616.0L434.5 617.1L436.5 617.7L439.3 618.3L445.0 619.0Z" fill="#fff7f5"/><path d="M444.1 615.8L446.6 615.9L449.0 615.9L451.0 615.8L453.4 615.4L455.0 615.1L457.0 614.4L459.4 613.4L461.4 612.5L463.1 611.4L464.6 610.3L465.9 609.0L466.9 607.8L467.7 606.6L468.4 605.0L468.8 603.8L469.0 602.2L469.0 600.6L468.7 599.0L468.1 597.4L467.5 596.2L466.4 594.6L465.5 593.4L464.2 592.0L462.6 590.7L461.0 589.5L459.0 588.3L456.6 587.0L454.6 586.1L452.6 585.4L450.6 584.9L447.8 584.4L445.9 584.1L440.5 584.0L438.5 584.1L436.1 584.4L434.5 584.8L432.1 585.5L430.5 586.1L428.5 587.1L426.9 588.0L425.3 589.3L423.9 590.6L422.9 591.8L422.1 593.0L421.3 594.6L420.8 596.2L420.6 597.8L420.7 599.4L421.0 601.0L421.5 602.6L422.3 604.2L423.3 605.7L424.4 607.0L425.7 608.3L427.3 609.7L429.2 611.0L430.9 612.0L432.9 613.0L435.3 614.0L436.9 614.5L439.3 615.1L443.8 615.7Z" fill="#ffebe8"/><path d="M444.2 613.4L447.4 613.5L450.2 613.4L451.8 613.2L453.8 612.7L455.4 612.2L457.0 611.5L458.6 610.7L460.0 609.8L461.4 608.7L462.4 607.8L463.4 606.6L464.1 605.4L464.6 604.2L465.0 603.0L465.1 601.8L465.1 600.6L464.8 599.0L464.4 597.8L463.8 596.6L463.0 595.4L462.0 594.2L460.8 593.0L459.4 591.8L457.4 590.4L455.8 589.4L454.6 588.8L453.0 588.1L450.2 587.3L447.4 586.7L445.4 586.5L440.5 586.5L436.9 586.9L435.7 587.1L434.1 587.6L432.1 588.4L430.9 589.0L429.3 590.0L428.1 591.0L427.3 591.8L426.3 593.0L425.5 594.2L425.0 595.4L424.6 596.6L424.4 598.2L424.4 599.4L424.7 601.0L425.1 602.2L425.7 603.4L426.7 605.0L427.7 606.2L428.9 607.4L430.1 608.4L432.5 610.0L434.5 611.0L436.1 611.7L438.1 612.3L440.1 612.8L444.2 613.4Z" fill="#ffdcd6"/><path d="M445.3 611.4L448.2 611.4L451.4 611.0L453.0 610.6L454.6 610.0L456.5 609.0L457.7 608.2L459.0 607.1L460.4 605.4L461.0 604.4L461.4 603.4L461.7 602.2L461.8 601.0L461.6 599.8L461.3 598.6L460.8 597.4L460.3 596.6L459.4 595.4L458.3 594.2L457.0 593.0L455.8 592.0L454.6 591.3L453.4 590.7L450.6 589.6L447.0 588.8L444.2 588.6L440.1 588.6L436.9 589.2L435.7 589.5L434.5 590.0L432.1 591.2L430.9 592.1L430.1 592.9L428.8 594.6L428.3 595.4L427.9 596.6L427.6 597.8L427.5 599.0L427.7 600.2L428.0 601.4L428.9 603.4L429.8 604.6L430.5 605.4L431.7 606.6L432.8 607.4L435.4 609.0L436.5 609.5L438.1 610.1L440.9 610.8L445.0 611.3Z" fill="#ffcac1"/><path d="M445.3 609.4L447.8 609.3L450.6 609.0L453.0 608.2L455.0 607.2L455.8 606.6L456.6 605.8L457.7 604.2L458.4 602.6L458.6 601.8L458.6 600.6L458.3 599.0L458.0 598.2L457.4 597.0L456.2 595.3L455.4 594.5L454.5 593.8L452.2 592.4L450.2 591.6L447.0 590.8L445.8 590.7L444.2 590.6L440.9 590.7L438.9 590.9L436.5 591.6L435.3 592.1L434.5 592.6L433.5 593.4L432.6 594.2L431.9 595.0L431.3 595.8L430.7 597.4L430.5 598.2L430.5 599.4L430.7 600.6L430.9 601.4L431.7 603.0L433.0 604.6L434.9 606.2L436.5 607.2L439.3 608.3L441.3 608.8L445.0 609.3Z" fill="#ffb5a7"/><path d="M444.3 607.4L446.2 607.5L448.2 607.4L450.6 606.9L452.3 606.2L454.0 605.0L455.0 603.9L455.7 602.6L455.9 601.8L456.0 601.0L455.8 599.4L455.2 597.8L454.3 596.6L453.0 595.3L451.8 594.5L450.2 593.7L447.4 592.8L446.2 592.6L445.0 592.5L442.5 592.5L440.1 592.8L438.1 593.3L436.5 594.0L435.2 595.0L434.2 596.2L433.6 597.4L433.4 598.2L433.3 599.0L433.3 599.8L433.5 600.6L433.9 601.8L434.9 603.3L436.1 604.5L437.7 605.5L439.7 606.4L441.3 606.8L444.2 607.3Z" fill="#ff9986"/><path d="M445.5 605.8L447.0 605.7L448.8 605.4L450.6 604.8L451.6 604.2L452.5 603.4L453.2 602.2L453.5 601.0L453.5 599.8L453.0 598.6L452.2 597.4L451.4 596.5L450.3 595.8L448.4 595.0L447.0 594.5L445.8 594.3L443.8 594.2L441.3 594.5L440.1 594.7L438.9 595.1L437.9 595.8L436.9 596.6L436.1 597.5L435.8 598.6L435.7 599.8L436.0 601.0L436.5 601.8L437.6 603.0L438.9 604.0L440.1 604.6L441.3 605.0L443.4 605.5L445.4 605.8Z" fill="#ff7b63"/><path d="M443.4 603.8L444.6 604.0L445.8 604.1L446.6 604.1L447.8 603.8L448.9 603.4L450.2 602.6L450.6 602.2L451.1 601.4L451.2 600.6L451.2 599.8L450.9 599.0L450.3 598.2L449.3 597.4L448.2 596.7L447.0 596.2L446.2 596.0L445.0 595.9L443.8 595.9L440.9 596.4L440.1 596.8L439.3 597.3L438.9 597.8L438.5 598.6L438.3 599.4L438.4 600.2L438.7 601.0L439.3 601.8L440.1 602.5L440.9 602.9L443.4 603.8Z" fill="#ff6246"/></g>
<g stroke="none"><path d="M438.7 579.7L440.9 580.0L445.8 580.1L450.2 579.9L452.6 579.6L455.8 579.0L458.6 578.4L461.0 577.6L463.4 576.7L465.4 575.8L467.7 574.5L469.5 573.3L470.9 572.1L472.5 570.5L473.3 569.3L473.8 568.1L474.1 566.9L474.1 565.3L473.9 564.1L473.3 562.9L472.6 561.7L471.2 560.1L469.8 558.9L468.2 557.7L466.2 556.4L464.2 555.4L461.8 554.3L459.8 553.6L455.0 552.2L451.8 551.6L449.4 551.2L445.4 550.9L440.9 550.9L438.5 551.0L435.3 551.4L432.5 551.9L430.5 552.4L427.7 553.2L424.9 554.2L422.9 555.1L420.9 556.3L418.9 557.6L417.3 558.9L416.1 560.1L415.0 561.7L414.4 562.9L414.2 564.1L414.2 565.7L414.5 566.9L415.0 568.1L415.8 569.3L416.9 570.5L418.5 572.0L420.1 573.2L421.7 574.3L423.7 575.4L425.7 576.3L428.1 577.3L430.5 578.1L432.9 578.7L435.3 579.2L438.5 579.7Z" fill="#ffffff"/><path d="M440.6 578.1L446.2 578.3L450.6 578.0L455.4 577.1L459.4 576.0L461.4 575.2L463.4 574.2L464.8 573.3L466.2 572.3L467.3 571.3L468.4 570.1L469.1 568.9L469.6 567.7L469.9 566.5L469.9 565.3L469.6 564.1L469.1 562.9L468.3 561.7L467.2 560.5L465.9 559.3L464.6 558.3L463.0 557.3L461.0 556.3L459.0 555.5L457.0 554.8L455.0 554.2L452.2 553.5L447.8 552.9L445.8 552.7L442.5 552.7L440.5 552.7L438.5 552.8L436.1 553.1L433.7 553.6L431.3 554.2L429.3 554.8L427.3 555.6L425.5 556.5L423.7 557.5L422.3 558.5L421.0 559.7L419.9 560.9L419.2 562.1L418.7 563.3L418.5 564.5L418.5 565.7L418.8 566.9L419.3 568.1L420.1 569.3L421.2 570.5L422.5 571.7L423.7 572.6L425.5 573.7L427.3 574.7L431.3 576.3L435.7 577.4L440.5 578.1Z" fill="#f6f6fb"/><path d="M443.0 576.1L446.6 576.2L451.0 575.7L455.0 574.8L456.6 574.3L458.6 573.5L461.1 572.1L462.3 571.3L463.4 570.3L464.2 569.3L464.7 568.5L465.2 567.3L465.3 566.5L465.3 565.3L465.2 564.5L464.7 563.3L464.3 562.5L463.6 561.7L462.6 560.6L461.4 559.7L460.2 558.9L458.6 558.0L456.6 557.2L453.0 556.0L451.0 555.5L449.4 555.2L447.0 554.9L445.4 554.8L440.5 554.8L437.7 555.1L435.7 555.5L434.1 555.8L432.1 556.4L430.5 557.0L428.9 557.8L427.3 558.7L426.1 559.6L425.1 560.5L424.4 561.3L423.6 562.5L423.3 563.3L423.0 564.5L423.0 565.7L423.2 566.5L423.6 567.7L424.1 568.5L424.9 569.5L426.0 570.5L427.0 571.3L428.5 572.3L430.1 573.2L431.7 573.9L435.3 575.1L439.7 575.9L442.9 576.1Z" fill="#eaeaf6"/><path d="M443.5 574.5L446.6 574.6L450.6 574.1L453.4 573.4L456.2 572.4L458.6 571.0L460.2 569.7L460.9 568.9L461.4 568.1L461.8 567.3L462.0 566.1L462.0 565.3L461.8 564.5L461.5 563.7L461.0 562.8L459.6 561.3L458.6 560.5L457.3 559.7L454.6 558.4L451.4 557.3L447.8 556.6L445.0 556.4L440.9 556.4L438.5 556.7L435.3 557.3L432.1 558.5L429.9 559.7L428.9 560.5L428.0 561.3L427.3 562.1L426.8 562.9L426.5 563.7L426.3 564.9L426.4 566.1L426.6 566.9L427.0 567.7L427.6 568.5L428.3 569.3L429.2 570.1L431.3 571.6L433.7 572.7L436.5 573.6L440.1 574.3L443.4 574.5Z" fill="#dadaef"/><path d="M440.5 572.9L444.2 573.1L446.6 573.1L449.0 572.8L451.4 572.3L453.8 571.5L455.8 570.5L457.4 569.3L458.1 568.5L458.6 567.7L459.1 566.5L459.1 565.7L459.0 564.9L458.8 564.1L458.3 563.3L457.3 562.1L455.7 560.9L453.4 559.7L451.0 558.8L447.9 558.1L445.8 557.9L440.9 557.9L438.9 558.1L436.1 558.8L433.7 559.7L431.7 560.8L430.4 562.1L429.6 563.3L429.3 564.1L429.1 564.9L429.2 565.7L429.3 566.5L429.7 567.3L430.2 568.1L431.3 569.3L433.1 570.5L435.3 571.6L437.7 572.3L440.1 572.9Z" fill="#c7c7e7"/><path d="M443.0 571.7L445.8 571.8L447.0 571.7L450.2 571.1L451.8 570.6L453.4 569.7L455.1 568.5L456.0 567.3L456.4 566.1L456.3 564.9L455.8 563.7L454.7 562.5L453.0 561.3L451.4 560.5L449.8 560.0L447.0 559.3L445.0 559.2L441.3 559.2L440.1 559.3L438.3 559.7L436.1 560.4L434.5 561.2L433.3 562.1L432.2 563.3L431.7 564.5L431.7 565.7L432.1 566.9L433.0 568.1L434.5 569.4L436.1 570.2L438.9 571.2L440.5 571.6L442.9 571.7Z" fill="#b0b0dd"/><path d="M444.7 570.5L446.2 570.5L447.8 570.3L450.2 569.6L451.4 569.0L452.6 568.1L453.3 567.3L453.7 566.5L453.8 566.1L453.8 565.3L453.4 564.1L452.7 563.3L451.8 562.5L450.6 561.8L448.6 561.1L447.0 560.6L445.8 560.5L443.4 560.5L440.9 560.5L439.7 560.7L437.9 561.3L436.3 562.1L435.2 562.9L434.6 563.7L434.2 564.5L434.2 565.7L434.6 566.9L435.3 567.7L436.3 568.5L437.8 569.3L439.3 569.9L440.5 570.2L444.6 570.5Z" fill="#9292d0"/><path d="M443.9 569.3L445.8 569.4L446.6 569.3L447.8 569.0L449.1 568.5L450.2 568.0L451.0 567.3L451.5 566.5L451.7 565.7L451.6 564.9L451.1 564.1L450.6 563.5L449.6 562.9L448.2 562.2L447.0 561.8L445.8 561.6L444.2 561.6L440.9 561.7L439.7 562.0L438.9 562.3L437.9 562.9L437.0 563.7L436.4 564.5L436.3 565.3L436.4 566.1L437.0 566.9L437.8 567.7L438.9 568.4L440.5 569.0L443.8 569.3Z" fill="#7272c2"/><path d="M442.8 568.1L445.8 568.3L447.0 568.1L447.8 567.7L448.4 567.3L449.0 566.9L449.5 566.1L449.6 565.7L449.4 564.9L449.2 564.5L448.6 563.9L447.8 563.4L447.0 563.0L446.2 562.8L445.4 562.7L442.5 562.8L440.5 563.0L439.8 563.3L439.3 563.6L438.8 564.1L438.6 564.5L438.4 564.9L438.4 565.7L438.8 566.5L439.1 566.9L439.7 567.4L440.5 567.8L442.5 568.1Z" fill="#5858b7"/></g>
<path d="M443.7 605.0L445.4 605.2L446.6 605.2L448.2 604.9L450.2 604.3L451.0 603.8L451.9 603.0L452.4 602.2L452.7 601.4L452.8 600.6L452.6 599.4L452.0 598.2L451.4 597.3L450.4 596.6L448.9 595.8L447.4 595.2L445.8 594.8L444.2 594.8L442.5 594.9L440.9 595.1L439.7 595.5L438.5 596.2L437.6 597.0L437.0 597.8L436.6 598.6L436.5 599.8L436.7 600.6L437.3 601.7L438.1 602.6L439.2 603.4L440.1 603.9L441.3 604.4L443.4 604.9ZM446.0 610.6L448.6 610.5L451.4 610.1L454.2 609.2L455.3 608.6L456.2 608.0L457.4 607.1L458.3 606.2L459.0 605.3L459.7 604.2L460.0 603.4L460.3 602.2L460.4 601.4L460.4 600.2L460.1 599.0L459.8 598.2L459.2 597.0L458.7 596.2L457.7 595.0L456.6 593.8L455.5 593.0L454.6 592.3L452.2 591.1L450.2 590.4L446.6 589.6L443.4 589.4L440.1 589.5L436.9 590.1L435.7 590.5L434.7 591.0L432.5 592.2L431.6 593.0L430.8 593.8L430.1 594.6L429.5 595.8L429.2 596.6L428.9 597.8L428.8 598.6L428.9 599.8L429.1 601.0L429.4 601.8L430.0 603.0L430.5 603.8L431.3 604.8L432.1 605.6L434.5 607.5L436.5 608.5L439.7 609.6L442.9 610.3L445.8 610.6ZM442.6 615.4L445.0 615.6L447.0 615.7L450.2 615.6L451.8 615.5L453.8 615.1L455.4 614.7L457.4 614.0L459.8 613.0L461.8 611.9L463.2 611.0L464.7 609.8L465.9 608.6L466.8 607.4L467.7 605.8L468.2 604.6L468.6 603.0L468.7 601.4L468.5 599.8L468.1 598.2L467.5 597.0L466.9 595.8L465.8 594.2L464.7 593.0L463.4 591.7L461.8 590.4L459.8 589.0L457.4 587.7L455.4 586.7L453.4 585.9L451.4 585.3L447.4 584.5L445.4 584.3L442.5 584.2L440.1 584.2L437.7 584.4L435.7 584.7L434.1 585.1L431.7 585.9L430.1 586.6L428.1 587.6L426.7 588.5L425.2 589.8L423.7 591.3L422.7 592.6L421.9 594.2L421.4 595.4L421.0 597.0L421.0 598.2L421.1 599.8L421.4 601.4L422.0 603.0L422.9 604.6L424.1 606.2L425.5 607.8L426.9 609.0L428.4 610.2L430.5 611.5L432.1 612.4L434.5 613.5L436.1 614.0L438.5 614.7L440.5 615.1L442.5 615.4ZM445.1 621.0L447.4 621.1L450.6 621.0L453.4 620.8L455.8 620.4L459.4 619.5L462.2 618.7L465.0 617.6L467.4 616.4L469.8 614.9L472.4 613.0L474.6 611.0L476.5 609.0L477.7 607.4L478.7 605.4L479.2 603.8L479.3 602.2L479.1 600.6L478.4 598.6L477.5 597.0L476.2 595.0L474.1 592.6L472.1 590.6L469.3 588.1L467.0 586.4L464.2 584.7L461.8 583.5L459.0 582.3L455.4 580.9L453.0 580.2L450.2 579.6L447.0 579.1L444.4 578.9L440.9 578.8L438.5 578.9L435.7 579.1L432.9 579.6L430.1 580.3L427.3 581.2L424.9 582.2L422.6 583.3L420.1 584.8L418.4 586.1L415.0 589.3L413.5 591.0L411.9 593.0L410.7 595.0L410.2 596.6L410.1 597.8L410.4 599.4L411.1 601.0L412.3 603.0L414.1 605.4L416.9 608.6L418.9 610.6L420.8 612.2L423.0 613.8L425.3 615.2L427.7 616.5L430.9 617.9L433.3 618.8L436.1 619.6L438.9 620.2L440.9 620.5L445.0 621.0Z" fill="none" stroke="#ff5a3c" stroke-width="1.4" stroke-linejoin="round"/>
<path d="M443.3 568.9L446.2 569.0L447.8 568.6L448.9 568.1L450.2 567.3L450.6 566.9L451.0 566.1L451.0 565.3L450.9 564.9L450.6 564.3L450.0 563.7L448.7 562.9L447.8 562.5L446.6 562.1L445.4 562.0L441.1 562.1L439.7 562.4L438.8 562.9L437.8 563.7L437.4 564.1L437.1 564.9L437.0 565.7L437.4 566.5L438.1 567.3L438.6 567.7L439.3 568.2L440.5 568.6L442.9 568.9ZM443.2 572.5L445.8 572.6L447.8 572.4L450.6 571.9L453.0 571.1L454.9 570.1L456.4 568.9L457.4 567.7L457.8 566.9L458.0 566.1L457.9 565.3L457.8 564.5L457.1 563.3L456.0 562.1L454.6 561.1L452.6 560.1L450.6 559.3L447.4 558.6L445.4 558.4L440.1 558.5L437.7 559.0L435.3 559.7L433.7 560.5L432.0 561.7L430.9 562.9L430.5 563.7L430.3 564.5L430.2 565.3L430.3 566.1L430.8 567.3L431.7 568.5L433.3 569.8L435.4 570.9L438.1 571.8L440.5 572.4L442.9 572.5ZM439.5 575.7L440.9 575.9L443.8 576.0L447.4 576.0L451.4 575.5L455.0 574.6L457.0 574.0L458.5 573.3L461.0 572.0L462.2 571.1L463.2 570.1L463.9 569.3L464.6 568.1L464.9 567.3L465.1 566.1L465.0 565.3L464.8 564.1L464.2 562.9L463.6 562.1L462.1 560.5L461.0 559.7L459.4 558.7L456.2 557.2L454.6 556.6L452.2 555.9L448.9 555.3L445.8 555.0L440.5 555.0L436.5 555.5L433.3 556.2L431.7 556.7L430.1 557.4L428.5 558.2L426.9 559.3L425.9 560.1L425.0 560.9L424.4 561.7L423.7 562.9L423.4 563.7L423.3 564.9L423.4 566.1L423.6 566.9L424.0 567.7L424.8 568.9L425.5 569.7L426.5 570.7L427.7 571.6L429.3 572.5L432.1 573.9L435.7 575.0L439.3 575.7ZM439.1 579.3L440.9 579.5L445.8 579.7L450.2 579.4L452.6 579.1L455.4 578.6L458.2 577.9L460.6 577.2L463.0 576.3L464.6 575.6L466.6 574.5L468.6 573.1L470.2 571.7L471.3 570.5L472.1 569.3L472.7 568.1L473.0 566.9L473.1 565.7L472.9 564.5L472.4 563.3L471.4 561.7L470.4 560.5L469.2 559.3L467.6 558.1L465.8 556.9L463.8 555.8L461.4 554.7L459.4 554.0L456.6 553.1L454.6 552.6L451.4 552.0L449.4 551.7L445.8 551.4L440.9 551.3L438.9 551.4L435.7 551.8L432.9 552.3L430.9 552.8L428.1 553.6L426.1 554.3L423.7 555.4L421.7 556.5L420.0 557.7L418.5 558.9L417.3 560.1L416.4 561.3L415.6 562.9L415.3 564.1L415.3 565.3L415.5 566.5L415.9 567.7L416.7 568.9L418.0 570.5L419.3 571.7L420.9 573.0L422.7 574.1L424.5 575.1L426.9 576.2L429.3 577.1L431.7 577.9L433.7 578.4L435.7 578.8L438.9 579.3Z" fill="none" stroke="#4f4fb3" stroke-width="1.4" stroke-linejoin="round"/></g>
<g clip-path="url(#c65)"><g stroke="none"><path d="M549.5 619.0L555.5 618.9L558.7 618.7L561.1 618.4L565.5 617.7L570.7 616.5L577.5 615.1L577.5 586.5L571.1 584.9L566.7 583.6L563.1 582.6L559.1 581.8L554.7 581.3L549.1 580.9L543.9 581.0L538.7 581.4L531.8 582.2L526.2 583.4L520.2 584.9L518.2 585.5L515.0 586.7L512.2 587.9L509.0 589.6L507.0 590.8L505.4 592.1L504.2 593.4L503.1 595.0L502.3 596.6L502.0 597.8L502.0 599.0L502.4 600.6L502.9 601.8L503.8 603.4L504.8 604.6L506.0 605.8L507.5 607.0L510.1 608.6L513.0 610.2L516.6 611.9L519.0 612.9L527.4 615.5L530.6 616.3L533.0 616.9L538.7 617.9L541.9 618.3L545.9 618.8L549.5 619.0Z" fill="#fff7f5"/><path d="M547.9 615.8L550.7 615.9L554.7 615.8L558.3 615.5L561.1 615.1L563.5 614.6L566.7 613.8L571.1 612.4L575.1 611.3L577.5 610.5L577.5 591.1L575.1 590.1L571.1 588.8L565.1 586.6L562.3 585.8L558.7 585.0L554.3 584.4L549.5 584.1L544.7 584.2L541.5 584.4L535.1 585.2L530.6 586.1L525.4 587.6L520.6 589.3L518.6 590.2L516.7 591.4L515.1 592.6L513.7 593.8L512.7 595.0L512.0 596.2L511.5 597.4L511.3 598.6L511.4 599.8L511.7 601.0L512.3 602.2L513.1 603.4L514.2 604.6L515.6 605.8L517.4 607.1L519.0 608.1L520.6 608.9L527.4 611.7L530.6 612.7L532.6 613.3L535.9 614.0L540.3 614.9L543.9 615.4L547.9 615.8Z" fill="#ffebe8"/><path d="M548.0 613.4L551.1 613.5L555.1 613.4L558.7 613.0L561.9 612.3L564.3 611.7L567.3 610.6L571.1 608.9L574.3 607.6L576.2 606.6L577.5 605.7L577.5 595.9L575.9 594.8L574.1 593.8L571.1 592.3L567.1 590.3L564.7 589.3L562.7 588.6L559.1 587.6L555.5 587.0L551.1 586.6L547.9 586.5L542.7 586.8L539.9 587.1L537.1 587.6L534.2 588.1L531.8 588.7L529.8 589.3L527.7 590.2L525.9 591.0L523.7 592.2L521.7 593.4L520.1 594.6L519.3 595.4L518.5 596.6L518.0 597.8L517.9 599.0L518.0 600.2L518.4 601.4L519.0 602.4L519.8 603.4L520.7 604.2L522.3 605.4L524.9 607.0L527.4 608.4L529.8 609.4L531.8 610.2L536.7 611.5L539.5 612.2L542.3 612.7L547.9 613.4Z" fill="#ffdcd6"/><path d="M545.4 611.0L549.5 611.4L554.7 611.2L559.1 610.6L562.7 609.6L564.4 609.0L566.1 608.2L567.5 607.4L568.7 606.6L570.2 605.4L572.0 603.8L572.9 602.6L573.3 601.8L573.5 601.0L573.4 600.2L573.2 599.4L572.5 598.2L571.4 597.0L569.7 595.4L568.3 594.2L567.1 593.4L565.1 592.2L563.5 591.4L559.9 590.1L558.3 589.7L555.9 589.2L552.3 588.8L548.3 588.6L543.1 588.9L538.7 589.6L535.5 590.4L533.0 591.0L531.4 591.6L529.8 592.4L528.2 593.4L527.1 594.2L526.2 595.0L525.4 595.8L524.8 596.6L524.3 597.8L524.1 598.6L524.0 599.8L524.4 601.0L525.0 602.2L526.0 603.4L526.8 604.2L527.7 605.0L529.4 606.1L530.9 607.0L532.2 607.6L535.9 608.9L540.3 610.1L545.1 610.9Z" fill="#ffcac1"/><path d="M545.8 609.0L549.5 609.3L553.9 609.2L557.1 608.8L559.9 608.1L561.5 607.5L563.1 606.8L564.2 606.2L565.3 605.4L566.2 604.6L567.1 603.6L567.7 602.6L568.0 601.8L568.1 601.0L568.1 600.2L567.9 599.0L567.5 598.2L567.0 597.4L566.0 596.2L565.1 595.4L563.9 594.5L561.5 593.1L558.7 592.0L555.1 591.1L551.5 590.7L548.3 590.6L543.9 590.9L539.9 591.6L536.7 592.6L533.7 593.8L531.6 595.0L530.6 595.8L530.0 596.6L529.4 597.4L529.1 598.2L529.0 599.0L529.0 599.8L529.1 600.6L529.4 601.4L529.9 602.2L530.6 603.0L531.4 603.8L532.5 604.6L535.1 605.9L538.8 607.4L542.3 608.3L545.5 608.9Z" fill="#ffb5a7"/><path d="M548.2 607.4L550.7 607.5L554.3 607.2L556.7 606.8L559.1 606.1L561.2 605.0L562.8 603.8L563.7 602.6L564.1 601.8L564.3 601.0L564.3 600.2L564.2 599.4L563.9 598.6L563.4 597.8L562.3 596.5L560.3 595.1L558.3 594.1L555.5 593.2L553.9 592.9L550.3 592.5L547.9 592.5L544.3 592.9L541.9 593.4L539.3 594.2L536.8 595.4L535.1 596.6L534.0 597.8L533.5 599.0L533.5 599.8L533.7 600.6L534.4 601.8L535.6 603.0L537.4 604.2L539.8 605.4L542.1 606.2L544.7 606.8L547.9 607.3Z" fill="#ff9986"/><path d="M546.7 605.4L548.7 605.7L550.3 605.7L553.9 605.5L555.5 605.1L557.2 604.6L558.8 603.8L559.9 602.9L560.7 601.8L561.0 600.6L560.9 599.4L560.3 598.2L559.1 597.0L557.8 596.2L555.9 595.3L554.3 594.8L551.9 594.4L549.9 594.2L548.3 594.2L545.7 594.6L543.5 595.0L541.4 595.8L539.8 596.6L538.8 597.4L538.5 597.8L538.0 598.6L537.8 599.4L537.8 599.8L537.9 600.6L538.7 601.7L539.5 602.6L540.7 603.4L542.7 604.3L544.3 604.8L546.7 605.4Z" fill="#ff7b63"/><path d="M547.2 603.8L548.7 604.0L549.9 604.1L551.5 604.0L553.9 603.6L554.9 603.4L555.9 602.9L556.9 602.2L557.6 601.4L557.9 600.6L557.9 599.8L557.5 599.0L556.9 598.2L555.9 597.4L555.0 597.0L553.9 596.6L552.3 596.2L550.7 595.9L549.1 595.8L547.9 595.9L546.7 596.2L545.1 596.6L543.9 597.0L542.6 597.8L541.9 598.6L541.6 599.0L541.5 599.8L541.7 600.6L542.2 601.4L543.1 602.1L543.9 602.6L544.7 603.0L547.1 603.7Z" fill="#ff6246"/></g>
<g stroke="none"><path d="M542.1 579.7L549.1 580.1L554.7 580.1L558.7 579.9L565.5 579.2L577.5 577.5L577.5 553.5L563.9 551.6L559.5 551.2L556.3 551.0L547.9 550.9L543.1 551.2L537.9 551.7L531.0 552.6L522.2 554.3L517.8 555.5L511.8 557.7L509.8 558.5L508.3 559.3L505.6 560.9L503.8 562.1L502.8 562.9L502.2 563.7L501.6 564.9L501.6 565.7L502.0 566.9L502.5 567.7L503.8 568.9L505.6 570.1L508.4 571.7L510.2 572.7L512.6 573.6L517.0 575.2L519.4 576.0L522.2 576.7L530.6 578.4L535.9 579.1L541.9 579.7Z" fill="#ffffff"/><path d="M545.5 578.1L548.7 578.3L553.9 578.3L559.5 578.0L566.3 577.2L577.5 575.3L577.5 555.7L565.9 553.8L562.7 553.3L558.7 552.9L554.7 552.7L549.1 552.7L542.7 553.1L535.9 553.8L531.0 554.6L523.8 556.3L521.0 557.1L519.0 557.9L517.0 558.8L514.5 560.1L512.7 561.3L511.7 562.1L510.9 562.9L510.3 563.7L510.0 564.5L509.9 565.7L510.2 566.9L510.6 567.7L511.3 568.5L512.2 569.4L513.9 570.5L516.2 571.8L518.2 572.8L520.2 573.6L524.2 574.8L532.2 576.6L539.1 577.6L545.5 578.1Z" fill="#f6f6fb"/><path d="M547.4 576.1L554.7 576.2L558.3 576.0L560.7 575.7L566.7 574.7L575.1 572.9L577.5 572.3L577.5 558.7L575.1 558.1L567.1 556.4L561.1 555.4L558.7 555.1L555.1 554.8L548.3 554.8L544.3 555.1L541.1 555.4L535.1 556.3L531.0 557.2L525.8 558.8L522.7 560.1L521.2 560.9L520.0 561.7L519.0 562.5L518.4 563.3L517.9 564.1L517.6 565.3L517.8 566.5L518.1 567.3L518.7 568.1L519.5 568.9L520.6 569.7L522.0 570.5L525.0 571.9L530.6 573.7L534.7 574.6L540.7 575.5L547.1 576.1Z" fill="#eaeaf6"/><path d="M547.8 574.5L555.5 574.5L559.1 574.2L562.7 573.6L565.5 573.1L568.3 572.3L574.7 570.4L577.5 569.2L577.5 561.8L575.9 561.1L574.4 560.5L567.8 558.5L565.1 557.8L562.7 557.4L559.1 556.8L555.5 556.5L553.5 556.4L548.3 556.4L543.5 556.8L538.7 557.5L533.4 558.7L531.8 559.1L530.2 559.7L528.5 560.5L526.3 561.7L524.6 562.9L523.9 563.7L523.4 564.5L523.3 564.9L523.3 565.7L523.5 566.5L523.9 567.3L524.6 568.1L525.7 568.9L527.1 569.7L530.4 571.3L533.4 572.3L538.3 573.4L542.7 574.1L547.5 574.5Z" fill="#dadaef"/><path d="M545.9 572.9L549.1 573.2L554.7 573.1L558.7 572.8L562.2 572.1L565.9 571.2L568.6 570.1L572.6 568.1L573.5 567.5L574.1 566.9L574.4 566.5L574.7 565.7L574.7 565.1L574.5 564.5L573.8 563.7L571.9 562.5L568.3 560.7L565.5 559.7L563.5 559.2L561.1 558.6L557.5 558.1L554.3 557.8L548.3 557.9L543.9 558.3L539.9 558.9L535.9 559.9L532.6 561.0L530.6 562.1L529.7 562.9L529.0 563.7L528.5 564.5L528.3 565.3L528.4 566.1L528.5 566.5L529.0 567.3L529.7 568.1L530.6 568.9L531.4 569.4L534.1 570.5L537.9 571.6L541.9 572.4L545.9 572.9Z" fill="#c7c7e7"/><path d="M547.7 571.7L549.5 571.8L554.7 571.8L558.3 571.4L560.6 570.9L563.5 570.1L566.3 568.9L567.1 568.5L568.1 567.7L568.5 567.3L569.0 566.5L569.2 565.7L569.2 565.3L569.2 564.9L568.8 564.1L568.3 563.5L567.6 562.9L565.9 561.9L563.5 560.9L560.3 560.0L558.3 559.6L554.3 559.2L547.9 559.3L543.9 559.7L540.3 560.5L537.5 561.3L535.1 562.4L533.6 563.3L533.0 563.9L532.6 564.5L532.5 564.9L532.4 565.7L532.6 566.5L532.9 566.9L533.4 567.5L534.2 568.1L535.7 568.9L537.9 569.8L540.7 570.6L543.9 571.3L547.5 571.7Z" fill="#b0b0dd"/><path d="M548.9 570.5L554.7 570.5L557.1 570.2L559.5 569.7L561.8 568.9L563.5 568.1L564.6 567.3L565.1 566.7L565.4 566.1L565.5 565.7L565.4 564.9L565.0 564.1L564.1 563.3L562.8 562.5L560.9 561.7L558.7 561.1L555.5 560.6L553.5 560.5L548.2 560.5L544.7 561.0L542.7 561.5L540.5 562.1L538.7 562.9L537.5 563.7L537.1 564.2L536.6 564.9L536.5 565.7L536.7 566.1L537.2 566.9L538.1 567.7L539.6 568.5L541.5 569.2L543.5 569.7L546.7 570.3L548.7 570.5Z" fill="#9292d0"/><path d="M548.4 569.3L554.3 569.4L556.7 569.0L558.7 568.5L559.7 568.1L561.1 567.3L561.9 566.5L562.3 565.7L562.2 564.9L561.6 564.1L560.6 563.3L559.5 562.8L558.3 562.4L555.9 561.8L554.3 561.6L549.1 561.6L547.9 561.7L546.3 562.0L544.2 562.5L542.7 563.1L541.4 563.7L540.5 564.5L540.2 564.9L540.1 565.3L540.1 565.7L540.2 566.1L540.7 566.7L541.5 567.3L543.1 568.1L544.3 568.5L546.7 569.1L548.3 569.3Z" fill="#7272c2"/><path d="M547.9 568.1L549.5 568.3L554.7 568.2L556.7 567.7L557.8 567.3L558.7 566.8L559.1 566.5L559.4 566.1L559.5 565.7L559.5 565.2L559.1 564.5L558.6 564.1L557.9 563.7L556.7 563.3L555.1 562.8L553.9 562.7L548.7 562.8L547.7 562.9L546.3 563.3L545.2 563.7L544.3 564.2L543.8 564.5L543.5 564.9L543.4 565.3L543.5 565.9L543.9 566.5L544.5 566.9L545.3 567.3L547.9 568.1Z" fill="#5858b7"/></g>
<path d="M548.2 605.0L549.9 605.1L552.0 605.0L554.3 604.7L555.9 604.2L557.7 603.4L558.7 602.7L559.4 601.8L559.7 601.0L559.8 600.2L559.5 599.0L559.0 598.2L557.9 597.2L556.7 596.5L555.0 595.8L553.4 595.4L550.8 595.0L549.1 594.9L547.6 595.0L545.1 595.4L543.5 595.8L541.8 596.6L540.5 597.4L539.7 598.2L539.3 599.0L539.3 599.4L539.3 600.2L539.6 601.0L540.2 601.8L541.2 602.6L542.6 603.4L543.9 603.9L546.2 604.6L547.9 604.9ZM548.2 609.8L551.9 609.8L554.3 609.7L555.9 609.5L559.5 608.8L562.7 607.7L564.1 607.0L565.4 606.2L566.5 605.4L567.4 604.6L568.1 603.8L568.8 602.6L569.0 601.8L569.2 600.6L569.1 599.8L568.8 598.6L568.1 597.4L567.5 596.6L565.7 595.0L564.6 594.2L563.1 593.2L559.9 591.8L556.7 590.9L553.9 590.5L549.1 590.1L544.3 590.4L540.7 590.9L537.2 591.8L533.7 593.0L531.3 594.2L530.2 595.0L529.4 595.7L528.7 596.6L528.2 597.4L527.9 598.2L527.8 599.0L527.8 599.8L527.9 600.6L528.5 601.8L529.0 602.6L529.7 603.4L530.6 604.2L532.6 605.5L535.9 606.9L539.9 608.3L543.9 609.2L547.9 609.7ZM577.5 593.5L574.8 592.2L571.1 590.7L566.7 588.8L563.1 587.5L559.5 586.6L555.1 585.8L550.7 585.5L547.5 585.4L542.7 585.7L537.5 586.3L533.8 587.0L531.4 587.5L529.2 588.1L526.6 589.1L521.4 591.4L519.8 592.2L518.6 592.9L517.7 593.8L516.9 594.6L516.3 595.4L515.6 596.6L515.2 597.8L515.1 599.0L515.2 600.2L515.6 601.4L516.3 602.6L516.9 603.4L517.8 604.4L518.9 605.4L520.1 606.2L521.4 606.9L526.6 609.5L531.4 611.4L533.8 612.1L537.5 612.9L542.7 613.9L547.5 614.4L550.7 614.5L555.1 614.4L559.5 613.9L563.1 613.2L566.7 612.2L571.1 610.5L575.1 609.2L577.5 608.1M577.5 586.0L571.1 584.4L567.1 583.2L563.1 582.2L559.1 581.4L554.7 580.8L549.1 580.5L543.9 580.6L538.3 581.0L531.4 581.8L526.6 582.8L518.6 584.8L513.4 586.7L510.6 588.0L508.2 589.1L506.6 590.1L505.4 591.0L504.0 592.2L502.9 593.4L501.7 595.0L500.9 596.2L500.5 597.4L500.3 598.6L500.5 599.8L501.0 601.0L501.7 602.2L502.9 603.8L504.3 605.4L505.4 606.4L506.7 607.4L508.2 608.3L513.2 611.0L518.6 613.3L527.0 615.9L531.8 617.1L539.1 618.4L544.3 619.0L549.1 619.4L554.7 619.4L559.1 619.1L563.1 618.6L566.7 617.9L571.1 616.9L577.5 615.6" fill="none" stroke="#ff5a3c" stroke-width="1.4" stroke-linejoin="round"/>
<path d="M548.9 568.9L553.9 568.9L555.9 568.7L558.1 568.1L559.1 567.8L559.9 567.3L560.8 566.5L561.1 565.7L561.0 564.9L560.4 564.1L559.9 563.7L558.7 563.1L557.1 562.6L555.5 562.2L553.9 562.1L549.1 562.1L547.1 562.3L544.8 562.9L543.7 563.3L542.7 563.9L541.8 564.5L541.6 564.9L541.4 565.3L541.4 565.7L541.6 566.1L541.9 566.5L542.7 567.1L543.8 567.7L545.0 568.1L547.1 568.7L548.7 568.9ZM548.6 572.1L553.9 572.2L555.9 572.0L559.5 571.6L562.7 570.8L565.1 570.0L567.5 568.9L569.1 567.7L569.8 566.9L570.2 566.1L570.3 565.3L570.2 564.9L570.1 564.5L569.5 563.7L568.2 562.5L567.1 561.9L565.9 561.3L563.1 560.3L559.9 559.5L556.3 559.0L553.5 558.8L549.1 558.9L547.1 559.0L543.1 559.5L539.5 560.3L536.7 561.1L534.2 562.1L533.4 562.6L532.5 563.3L531.8 564.0L531.5 564.5L531.4 564.9L531.3 565.7L531.4 566.2L531.8 566.9L532.2 567.5L533.0 568.1L535.1 569.2L537.9 570.3L540.7 571.0L544.3 571.7L548.3 572.1ZM577.5 560.3L574.7 559.4L567.1 557.5L563.5 556.7L559.9 556.2L556.3 555.8L553.9 555.7L548.7 555.7L544.3 556.0L539.5 556.6L534.7 557.5L531.4 558.3L528.5 559.3L525.0 560.8L522.9 562.1L522.0 562.9L521.3 563.7L520.9 564.5L520.7 565.3L520.8 566.1L521.1 566.9L522.0 568.1L522.9 568.9L523.8 569.5L526.7 570.9L530.6 572.5L533.4 573.2L539.1 574.3L543.9 574.9L548.7 575.3L553.9 575.3L556.3 575.2L559.9 574.8L563.5 574.3L567.1 573.5L574.7 571.6L577.5 570.7M577.5 555.4L563.9 553.2L559.5 552.7L555.5 552.5L549.1 552.4L544.7 552.6L539.9 553.0L535.1 553.6L531.0 554.3L523.8 555.9L520.2 557.0L517.4 558.1L513.3 560.1L512.0 560.9L510.9 561.7L510.1 562.5L509.5 563.3L508.9 564.5L508.8 565.3L508.8 566.1L509.3 567.3L509.8 568.1L510.5 568.9L511.5 569.7L512.7 570.5L516.5 572.5L519.4 573.7L523.0 574.9L530.6 576.6L533.8 577.2L539.5 577.9L544.3 578.4L548.7 578.6L555.1 578.6L559.1 578.3L563.5 577.9L577.5 575.6" fill="none" stroke="#4f4fb3" stroke-width="1.4" stroke-linejoin="round"/></g>
<g clip-path="url(#c70)"><g stroke="none"><path d="M101.3 716.4L103.0 716.6L105.0 716.8L107.0 716.7L108.6 716.5L110.2 716.1L111.4 715.6L112.6 715.0L113.8 714.1L114.6 713.2L115.4 712.0L116.0 710.8L116.3 709.6L116.4 708.4L116.4 706.8L116.2 705.6L115.8 704.0L115.3 702.4L114.5 700.8L113.6 699.2L112.5 697.6L111.2 696.0L109.7 694.4L108.2 692.9L106.6 691.6L104.6 690.1L103.0 689.0L101.0 687.9L99.0 686.9L97.0 686.0L95.0 685.3L91.4 684.4L89.4 684.1L87.8 684.0L85.8 684.1L84.2 684.3L82.6 684.7L81.4 685.1L80.2 685.7L78.9 686.6L78.0 687.6L77.2 688.8L76.7 690.0L76.3 691.2L76.2 692.4L76.2 694.0L76.4 695.2L76.7 696.8L77.3 698.4L78.1 700.0L79.0 701.6L80.1 703.2L82.6 706.1L84.1 707.6L85.8 709.0L87.8 710.5L89.8 711.8L93.4 713.8L95.4 714.7L97.4 715.4L101.0 716.3Z" fill="#fff7f5"/><path d="M102.0 714.0L103.4 714.1L105.0 714.1L106.6 713.8L107.8 713.5L109.0 713.1L109.8 712.7L110.7 712.0L111.5 711.2L112.2 710.3L112.7 709.2L112.9 708.4L113.1 707.2L113.1 706.0L113.0 704.8L112.7 703.6L112.1 702.0L110.9 699.6L110.0 698.4L108.8 696.8L107.7 695.6L106.2 694.1L103.4 691.9L100.2 689.9L97.0 688.4L93.8 687.4L92.2 687.0L90.6 686.8L87.8 686.7L86.2 686.9L85.0 687.2L83.8 687.7L83.0 688.1L81.9 688.8L81.1 689.6L80.5 690.4L79.9 691.6L79.7 692.4L79.5 693.6L79.5 694.8L79.6 696.0L79.9 697.2L80.5 698.8L81.2 700.4L82.0 701.6L83.8 704.0L86.2 706.4L89.0 708.7L92.2 710.7L95.4 712.3L98.6 713.3L101.8 714.0Z" fill="#ffebe8"/><path d="M101.8 712.0L104.2 711.9L105.4 711.7L106.6 711.4L108.2 710.5L108.8 710.0L109.5 709.2L110.0 708.4L110.3 707.6L110.5 706.8L110.6 705.6L110.3 703.6L109.6 701.6L108.3 699.2L106.8 697.2L104.6 695.0L102.2 693.1L99.8 691.6L97.0 690.3L94.2 689.4L91.4 688.9L89.0 688.8L87.8 689.0L86.6 689.2L84.9 690.0L84.2 690.5L83.4 691.3L82.9 692.0L82.5 692.8L82.2 693.6L82.0 694.8L82.2 696.8L82.5 698.0L82.9 699.2L83.5 700.4L84.3 701.6L85.8 703.6L88.2 705.9L90.6 707.8L93.0 709.3L95.8 710.6L98.6 711.5L101.4 712.0Z" fill="#ffdcd6"/><path d="M99.3 710.0L101.4 710.2L103.4 710.1L105.1 709.6L105.9 709.2L106.6 708.7L107.6 707.6L108.0 706.8L108.2 706.0L108.3 704.4L108.2 703.6L107.9 702.4L107.3 700.8L106.0 698.8L104.3 696.8L102.5 695.2L100.6 693.8L98.2 692.4L95.8 691.5L93.4 690.8L91.4 690.6L89.4 690.7L87.6 691.2L86.1 692.0L85.7 692.4L85.0 693.2L84.5 694.4L84.2 696.0L84.3 696.8L84.5 698.0L85.1 699.6L86.3 701.6L87.9 703.6L89.8 705.4L91.8 706.9L94.2 708.2L96.6 709.3L99.0 709.9Z" fill="#ffcac1"/><path d="M99.4 708.4L101.4 708.5L103.0 708.2L104.3 707.6L105.3 706.8L106.0 705.6L106.2 704.4L106.2 703.2L105.7 701.6L104.9 700.0L103.8 698.4L102.2 696.8L100.7 695.6L99.0 694.4L97.0 693.4L95.0 692.8L93.4 692.4L91.8 692.3L90.2 692.5L89.0 692.9L87.8 693.6L87.4 694.0L86.8 694.8L86.4 696.0L86.4 697.2L86.7 698.8L87.4 700.4L88.5 702.0L89.9 703.6L91.4 704.9L93.0 706.0L95.0 707.1L97.0 707.8L99.0 708.3Z" fill="#ffb5a7"/><path d="M98.8 706.8L100.2 706.8L101.4 706.7L102.6 706.2L103.4 705.6L103.9 704.8L104.2 703.6L104.1 702.4L103.8 701.2L103.1 700.0L102.2 698.8L101.1 697.6L99.8 696.5L98.2 695.5L96.6 694.8L95.4 694.3L93.8 694.0L92.2 694.0L91.0 694.2L90.2 694.5L89.3 695.2L88.7 696.0L88.4 697.2L88.5 698.4L88.8 699.6L89.4 700.8L90.3 702.0L91.4 703.2L92.6 704.1L93.8 704.9L95.4 705.8L97.0 706.4L98.6 706.7Z" fill="#ff9986"/><path d="M97.5 705.2L98.6 705.3L99.8 705.3L100.6 705.1L101.4 704.7L101.8 704.4L102.2 703.6L102.4 702.8L102.2 701.6L101.8 700.5L101.2 699.6L100.5 698.8L99.7 698.0L98.6 697.1L97.4 696.4L96.2 695.9L95.0 695.6L93.8 695.4L93.0 695.5L92.2 695.6L91.4 696.0L90.9 696.4L90.4 697.2L90.2 698.0L90.3 699.2L90.6 700.0L91.3 701.2L92.0 702.0L92.8 702.8L93.9 703.6L95.0 704.2L96.2 704.8L97.4 705.2Z" fill="#ff7b63"/><path d="M96.3 703.6L97.4 703.9L98.2 704.0L99.4 703.8L99.8 703.6L100.3 703.2L100.6 702.6L100.7 702.0L100.5 701.2L100.2 700.4L99.3 699.2L97.8 698.0L96.2 697.2L94.6 696.9L93.8 696.9L93.0 697.1L92.6 697.4L92.2 697.9L91.9 698.8L92.2 700.0L92.6 700.8L93.3 701.6L94.6 702.7L96.2 703.5Z" fill="#ff6246"/></g>
<g stroke="none"><path d="M57.7 645.1L60.9 645.3L64.9 645.3L68.5 645.3L72.5 645.0L76.1 644.6L78.1 644.2L80.2 643.7L81.7 643.1L82.3 642.7L82.7 642.3L82.8 641.9L82.6 641.5L82.1 641.1L81.0 640.6L79.3 640.1L77.3 639.6L74.5 639.2L70.9 638.9L64.1 638.7L57.3 638.9L53.7 639.3L51.3 639.6L48.9 640.2L47.3 640.7L46.5 641.1L46.0 641.5L45.8 641.9L45.9 642.3L46.3 642.7L47.3 643.3L49.3 643.9L51.7 644.4L54.9 644.9L57.3 645.1Z" fill="#ffffff"/><path d="M58.3 644.7L61.3 644.9L64.5 644.9L67.7 644.9L70.9 644.7L73.3 644.4L75.7 644.1L77.7 643.6L79.3 643.1L80.0 642.7L80.4 642.3L80.5 641.9L80.3 641.5L79.8 641.1L78.8 640.7L76.9 640.2L74.9 639.8L69.7 639.2L63.7 639.1L60.1 639.2L57.3 639.4L54.5 639.7L52.1 640.1L50.1 640.6L48.9 641.1L48.3 641.5L48.1 641.9L48.2 642.3L48.6 642.7L49.7 643.3L51.3 643.7L53.3 644.2L55.7 644.5L58.1 644.7Z" fill="#f6f6fb"/><path d="M59.9 644.3L65.3 644.4L70.5 644.2L74.5 643.6L76.4 643.1L77.3 642.7L77.7 642.3L77.8 641.9L77.6 641.5L76.5 641.0L75.3 640.6L73.3 640.2L68.9 639.7L63.7 639.6L58.9 639.8L54.6 640.3L52.8 640.7L51.7 641.1L51.0 641.5L50.8 641.9L50.9 642.3L51.3 642.7L52.2 643.1L53.6 643.5L55.3 643.8L59.7 644.3Z" fill="#eaeaf6"/><path d="M59.8 643.9L64.5 644.1L68.9 643.9L72.5 643.4L74.0 643.1L75.1 642.7L75.7 642.3L75.8 641.9L75.5 641.5L74.7 641.1L72.1 640.5L68.9 640.1L64.5 639.9L60.1 640.1L56.5 640.5L53.9 641.1L53.1 641.5L52.8 641.9L52.9 642.3L53.5 642.7L54.6 643.1L56.1 643.5L59.7 643.9Z" fill="#dadaef"/><path d="M59.4 643.5L62.9 643.7L66.9 643.7L70.5 643.3L71.8 643.1L72.9 642.8L73.9 642.3L74.0 641.9L73.6 641.5L72.6 641.1L71.7 640.9L68.9 640.5L65.3 640.3L61.7 640.3L58.5 640.6L56.0 641.1L55.0 641.5L54.6 641.9L54.7 642.3L55.4 642.7L56.5 643.0L59.3 643.5Z" fill="#c7c7e7"/><path d="M59.2 643.1L61.7 643.4L64.9 643.4L68.1 643.3L70.5 642.9L71.3 642.7L72.1 642.3L72.3 641.9L71.8 641.5L71.3 641.3L69.3 640.9L66.5 640.6L63.3 640.6L60.5 640.7L58.0 641.1L56.8 641.5L56.3 641.9L56.5 642.3L57.3 642.7L58.9 643.1Z" fill="#b0b0dd"/><path d="M62.5 643.1L64.9 643.1L67.3 643.0L69.4 642.7L70.5 642.3L70.7 641.9L70.1 641.5L68.3 641.1L66.5 640.9L64.1 640.9L61.7 641.0L60.3 641.1L58.5 641.5L57.9 641.9L58.1 642.3L59.3 642.7L62.1 643.1Z" fill="#9292d0"/><path d="M61.3 642.7L64.5 642.9L66.5 642.8L67.7 642.6L68.9 642.3L69.2 641.9L68.4 641.5L67.7 641.4L66.1 641.2L64.1 641.1L62.1 641.2L60.5 641.4L60.2 641.5L59.4 641.9L59.7 642.3L60.9 642.6Z" fill="#7272c2"/><path d="M61.2 642.3L63.3 642.6L65.7 642.6L67.4 642.3L67.8 641.9L67.3 641.7L66.1 641.5L63.3 641.4L61.7 641.6L60.8 641.9L60.9 642.1Z" fill="#5858b7"/></g>
<path d="M96.6 704.4L97.8 704.7L98.6 704.7L99.4 704.7L100.4 704.4L101.0 704.0L101.4 703.4L101.6 702.8L101.6 702.0L101.4 701.2L101.0 700.4L100.5 699.6L99.8 698.7L98.9 698.0L97.8 697.2L95.8 696.4L94.6 696.1L93.8 696.1L93.0 696.2L92.2 696.4L91.7 696.8L91.3 697.2L91.1 697.6L91.0 698.0L91.0 698.8L91.2 699.6L91.5 700.4L92.0 701.2L92.7 702.0L93.6 702.8L94.6 703.4L95.6 704.0L96.6 704.4ZM98.6 708.8L100.6 709.0L102.6 708.9L104.2 708.5L105.4 707.8L106.3 706.8L106.8 705.6L106.9 704.8L106.9 704.0L106.6 702.4L106.0 700.8L105.0 699.1L103.4 697.2L101.8 695.8L99.8 694.4L97.8 693.3L95.8 692.5L93.7 692.0L91.8 691.7L89.8 691.9L88.3 692.4L87.1 693.2L86.6 693.7L86.2 694.3L85.7 695.6L85.7 696.8L85.9 698.4L86.6 700.0L87.5 701.6L88.8 703.2L90.6 704.8L92.6 706.3L94.6 707.4L96.6 708.2L98.6 708.8ZM101.2 713.2L102.6 713.3L104.2 713.3L106.6 713.0L107.8 712.6L109.0 712.0L109.8 711.5L110.5 710.8L111.1 710.0L111.6 709.2L111.9 708.4L112.2 707.2L112.2 706.0L112.1 704.8L111.8 703.6L111.4 702.4L110.7 700.8L110.0 699.6L108.3 697.2L106.0 694.8L103.4 692.6L100.6 690.8L97.4 689.3L94.2 688.2L91.4 687.6L88.6 687.5L86.2 687.8L85.0 688.2L83.8 688.7L83.0 689.2L82.1 690.0L81.5 690.8L81.0 691.6L80.7 692.4L80.5 693.6L80.4 694.8L80.5 696.0L80.8 697.2L81.1 698.4L82.3 700.8L83.1 702.0L84.3 703.6L86.6 706.0L89.0 708.0L91.8 709.8L95.0 711.4L98.2 712.6L101.0 713.2ZM101.7 717.2L103.4 717.4L105.4 717.6L107.4 717.5L109.0 717.3L110.6 716.9L112.2 716.3L113.4 715.7L114.6 714.8L115.4 713.9L116.2 712.8L116.8 711.6L117.3 710.0L117.4 708.8L117.4 707.2L117.1 705.6L116.7 704.0L116.0 702.0L115.1 700.4L114.2 698.8L113.0 697.2L111.7 695.6L110.2 694.0L108.6 692.4L107.0 691.1L105.4 689.9L103.4 688.5L101.4 687.4L99.0 686.2L97.0 685.3L95.0 684.6L93.0 684.0L91.0 683.6L89.0 683.3L87.4 683.2L85.4 683.3L83.8 683.5L82.2 683.8L80.6 684.4L79.3 685.1L78.1 686.0L77.3 686.8L76.4 688.0L75.8 689.2L75.4 690.8L75.2 692.0L75.2 693.6L75.4 695.2L75.9 696.8L76.4 698.4L77.2 700.0L78.4 702.0L79.5 703.6L80.8 705.2L82.3 706.8L85.4 709.6L87.4 711.0L89.4 712.3L91.4 713.5L93.4 714.5L95.4 715.4L97.4 716.1L99.4 716.7L101.4 717.1Z" fill="none" stroke="#ff5a3c" stroke-width="1.4" stroke-linejoin="round"/>
<path d="M62.6 642.7L66.0 642.7L68.2 642.3L68.5 641.9L68.1 641.7L67.6 641.5L65.7 641.3L62.5 641.3L61.0 641.5L60.5 641.7L60.1 641.9L60.4 642.3L62.5 642.7ZM62.4 643.5L65.7 643.5L68.9 643.3L71.3 642.9L71.9 642.7L72.7 642.3L72.8 641.9L72.4 641.5L71.3 641.1L69.0 640.7L66.5 640.5L63.3 640.5L60.1 640.7L57.3 641.1L56.2 641.5L55.8 641.9L55.9 642.3L56.7 642.7L58.9 643.2L62.1 643.5ZM62.9 644.3L67.7 644.2L72.1 643.8L74.1 643.5L75.6 643.1L76.6 642.7L77.1 642.3L77.2 641.9L76.9 641.5L76.2 641.1L74.5 640.6L70.9 640.0L65.7 639.7L60.5 639.8L56.1 640.2L54.1 640.6L52.5 641.1L51.7 641.5L51.4 641.9L51.5 642.3L52.0 642.7L53.0 643.1L54.5 643.5L58.5 644.1L62.9 644.3ZM56.0 644.7L58.9 645.0L62.1 645.1L65.7 645.1L69.3 645.0L74.9 644.4L77.3 644.0L79.3 643.5L80.6 643.0L81.0 642.7L81.4 642.3L81.5 641.9L81.3 641.5L80.8 641.1L79.3 640.5L77.7 640.1L75.7 639.7L72.5 639.3L66.1 638.9L59.7 639.0L56.1 639.3L53.3 639.6L50.9 640.1L49.3 640.5L47.8 641.1L47.3 641.5L47.1 641.9L47.2 642.3L47.6 642.7L48.9 643.4L50.5 643.9L53.3 644.4L55.7 644.7Z" fill="none" stroke="#4f4fb3" stroke-width="1.4" stroke-linejoin="round"/></g>
<g clip-path="url(#c71)"><g stroke="none"><path d="M142.2 716.4L143.4 716.7L144.6 716.8L146.2 716.7L147.8 716.5L151.0 715.6L154.6 714.2L158.2 712.2L161.8 709.8L165.4 706.9L168.5 704.0L171.3 700.8L173.5 697.6L174.4 696.0L175.1 694.4L175.7 692.8L176.0 691.6L176.2 690.0L176.2 688.8L175.9 687.6L175.6 686.8L175.0 686.0L174.3 685.2L173.5 684.8L172.4 684.4L171.1 684.1L169.8 684.0L168.6 684.1L167.0 684.3L165.4 684.7L163.4 685.3L160.2 686.6L156.6 688.5L153.0 690.9L149.4 693.8L146.4 696.8L143.6 700.0L141.6 702.8L140.7 704.4L139.9 706.0L139.2 707.6L138.9 708.8L138.6 710.4L138.6 711.6L138.7 712.8L139.0 713.6L139.4 714.4L140.1 715.2L141.0 715.9L141.8 716.3Z" fill="#fff7f5"/><path d="M145.7 714.0L146.6 714.1L147.8 714.1L149.0 713.9L150.6 713.6L153.4 712.6L156.6 711.1L159.4 709.4L162.6 707.1L165.4 704.6L167.9 702.0L170.1 699.2L171.6 696.8L172.6 694.4L172.9 693.2L173.1 692.0L173.1 690.8L173.0 690.0L172.7 689.2L172.3 688.5L171.8 688.0L171.1 687.4L170.2 687.1L169.0 686.8L167.8 686.7L166.6 686.8L164.2 687.2L161.4 688.1L158.2 689.6L155.4 691.3L152.2 693.7L149.4 696.1L146.9 698.8L144.7 701.6L143.3 704.0L142.2 706.4L141.9 707.6L141.7 708.8L141.7 710.0L141.8 710.8L142.1 711.6L142.6 712.4L143.0 712.8L143.8 713.4L144.6 713.7L145.4 713.9Z" fill="#ffebe8"/><path d="M147.9 712.0L149.8 711.9L152.2 711.4L154.6 710.5L157.4 709.1L160.2 707.3L162.6 705.4L165.0 703.2L166.8 701.2L168.6 698.8L169.7 696.8L170.4 694.8L170.7 693.6L170.8 692.8L170.7 692.0L170.5 691.2L169.8 690.1L169.2 689.6L168.6 689.2L167.8 689.0L167.0 688.8L165.0 688.9L162.6 689.4L160.2 690.2L157.4 691.7L154.6 693.4L152.2 695.3L149.8 697.6L148.0 699.6L146.3 702.0L145.1 704.0L144.4 706.0L144.1 707.2L144.0 708.0L144.1 708.8L144.3 709.6L144.6 710.3L145.0 710.8L145.5 711.2L146.2 711.6L147.0 711.9L147.8 712.0Z" fill="#ffdcd6"/><path d="M148.4 710.0L149.8 710.2L151.8 710.0L153.8 709.4L155.8 708.6L158.2 707.3L160.2 705.9L162.2 704.3L164.2 702.4L165.9 700.4L167.2 698.4L168.2 696.4L168.6 694.8L168.7 694.0L168.6 693.2L168.2 692.2L167.8 691.6L167.4 691.3L166.3 690.8L164.6 690.6L163.0 690.8L161.0 691.3L159.0 692.2L156.6 693.5L154.6 694.9L152.6 696.5L150.7 698.4L149.3 700.0L147.8 702.0L146.8 704.0L146.3 705.6L146.1 707.2L146.4 708.4L147.0 709.2L147.5 709.6L148.2 709.9Z" fill="#ffcac1"/><path d="M150.3 708.4L151.4 708.5L153.0 708.3L154.6 707.8L156.6 706.9L158.6 705.7L160.2 704.5L161.8 703.2L163.4 701.6L164.7 700.0L165.7 698.4L166.4 696.8L166.7 695.6L166.6 694.4L166.2 693.5L165.8 693.0L165.4 692.8L164.2 692.4L163.0 692.3L161.4 692.6L159.8 693.1L157.8 694.1L156.2 695.1L154.4 696.4L153.0 697.6L151.4 699.2L150.2 700.8L149.1 702.4L148.4 704.0L148.2 705.2L148.2 706.4L148.5 707.2L148.8 707.6L149.3 708.0L150.2 708.4Z" fill="#ffb5a7"/><path d="M151.8 706.8L153.0 706.8L154.2 706.6L155.4 706.2L157.0 705.4L158.6 704.5L159.8 703.6L161.2 702.4L162.3 701.2L163.3 700.0L164.0 698.8L164.5 697.6L164.8 696.4L164.7 695.6L164.4 694.8L163.8 694.3L163.0 694.0L162.2 694.0L161.0 694.1L159.8 694.4L158.2 695.1L156.7 696.0L155.4 696.9L154.1 698.0L152.9 699.2L151.9 700.4L151.0 701.6L150.4 702.8L150.1 704.0L150.0 704.8L150.2 705.7L150.8 706.4L151.4 706.7Z" fill="#ff9986"/><path d="M152.6 705.2L153.4 705.3L154.2 705.3L155.0 705.1L156.2 704.7L158.2 703.6L160.3 702.0L161.0 701.2L162.0 700.0L162.7 698.8L163.0 698.0L163.1 697.2L163.0 696.7L162.7 696.0L162.2 695.7L161.4 695.5L160.6 695.5L159.8 695.6L158.8 696.0L157.8 696.4L156.6 697.1L154.6 698.7L153.0 700.5L152.4 701.6L152.0 702.4L151.7 703.2L151.7 704.0L151.8 704.4L152.2 704.9Z" fill="#ff7b63"/><path d="M153.6 703.6L154.2 703.9L154.6 703.9L155.8 703.8L157.4 703.0L159.0 702.0L160.2 700.7L160.8 700.0L161.2 699.2L161.5 698.4L161.5 698.0L161.4 697.6L161.1 697.2L160.6 696.9L160.2 696.9L159.0 697.0L157.4 697.7L155.9 698.8L154.7 700.0L153.8 701.2L153.4 702.4L153.3 702.8L153.4 703.3Z" fill="#ff6246"/></g>
<g stroke="none"><path d="M206.6 645.1L207.5 645.3L208.3 645.3L209.1 645.0L210.3 644.4L211.5 643.5L212.6 642.3L213.3 641.1L213.6 639.9L213.5 639.5L213.1 639.0L212.7 638.8L212.3 638.7L211.1 638.8L209.9 639.3L208.3 640.4L207.2 641.5L206.4 642.7L206.1 643.5L206.0 643.9L206.1 644.3L206.3 644.8Z" fill="#ffffff"/><path d="M207.0 644.7L207.5 644.9L207.9 644.9L208.7 644.8L209.5 644.5L210.7 643.8L211.9 642.7L212.7 641.5L212.9 641.1L213.1 640.3L213.1 639.9L212.9 639.5L212.3 639.1L211.5 639.1L210.3 639.4L209.1 640.1L208.3 640.7L207.2 641.9L206.8 642.7L206.5 643.5L206.5 643.9L206.7 644.4Z" fill="#f6f6fb"/><path d="M207.5 644.3L208.3 644.4L209.5 644.1L210.7 643.4L211.4 642.7L212.1 641.9L212.5 641.1L212.6 640.7L212.5 640.3L212.3 639.9L211.9 639.6L211.1 639.6L209.9 640.0L209.1 640.5L208.0 641.5L207.4 642.3L207.1 643.1L207.0 643.5L207.1 643.9L207.5 644.3Z" fill="#eaeaf6"/><path d="M207.8 643.9L208.3 644.1L209.1 644.0L210.3 643.4L211.1 642.7L211.7 641.9L212.1 641.1L212.1 640.7L211.9 640.2L211.5 640.0L210.7 640.0L209.9 640.3L209.1 640.8L208.3 641.5L207.7 642.3L207.5 643.1L207.5 643.5Z" fill="#dadaef"/><path d="M208.0 643.5L208.3 643.7L209.1 643.7L209.9 643.4L210.8 642.7L211.4 641.9L211.8 641.1L211.7 640.7L211.5 640.4L211.3 640.3L210.7 640.3L210.3 640.4L209.0 641.1L208.6 641.5L208.0 642.3L207.9 642.7L207.9 643.3Z" fill="#c7c7e7"/><path d="M208.2 643.1L208.7 643.4L209.1 643.4L209.9 643.1L210.3 642.8L210.9 642.3L211.4 641.5L211.4 641.1L211.2 640.7L210.7 640.6L210.3 640.6L209.5 641.0L208.6 641.9L208.2 642.7Z" fill="#b0b0dd"/><path d="M208.8 643.1L209.1 643.1L209.5 643.1L210.1 642.7L210.6 642.3L211.1 641.5L211.1 641.1L210.7 640.9L209.9 641.0L209.1 641.6L208.6 642.3L208.5 642.7L208.7 643.1Z" fill="#9292d0"/><path d="M208.9 642.7L209.1 642.9L209.5 642.8L209.9 642.6L210.3 642.3L210.7 641.9L210.8 641.5L210.7 641.3L210.3 641.1L209.9 641.3L209.5 641.5L209.1 641.9L208.9 642.3Z" fill="#7272c2"/><path d="M209.1 642.3L209.5 642.6L209.9 642.4L210.4 641.9L210.5 641.5L210.3 641.4L209.8 641.5L209.3 641.9L209.1 642.3Z" fill="#5858b7"/></g>
<path d="M152.9 704.4L153.4 704.6L154.2 704.7L155.8 704.4L157.8 703.4L159.7 702.0L161.2 700.4L162.1 698.8L162.3 698.0L162.3 697.2L162.2 696.8L161.8 696.4L161.4 696.2L160.6 696.1L159.8 696.2L159.0 696.4L157.4 697.1L155.6 698.4L154.0 700.0L152.9 701.6L152.6 702.4L152.4 703.2L152.4 703.6L152.6 704.1ZM149.1 708.8L150.2 709.1L151.8 709.0L153.4 708.7L155.4 707.9L157.4 706.9L159.4 705.6L161.4 704.0L163.0 702.5L164.6 700.8L165.8 699.2L166.6 697.6L167.2 696.0L167.4 694.8L167.2 693.6L166.6 692.6L166.2 692.3L165.6 692.0L164.2 691.7L162.6 691.8L161.0 692.2L159.0 693.0L157.0 694.1L155.4 695.2L153.4 696.7L151.8 698.2L150.2 700.0L149.1 701.6L148.2 703.2L147.6 704.8L147.4 706.0L147.6 707.2L147.8 707.7L148.2 708.2L149.0 708.8ZM145.7 713.2L146.6 713.3L147.8 713.4L150.2 713.1L153.0 712.2L155.8 711.0L158.6 709.4L161.4 707.5L164.2 705.2L166.6 702.8L168.9 700.0L170.5 697.6L171.6 695.2L172.2 693.2L172.3 692.0L172.3 691.2L172.1 690.4L171.8 689.6L171.2 688.8L170.7 688.3L169.8 687.9L169.0 687.6L168.2 687.5L167.0 687.4L164.6 687.7L161.8 688.5L159.0 689.8L156.2 691.3L153.4 693.3L150.7 695.6L148.2 698.0L145.9 700.8L144.3 703.2L143.2 705.6L142.6 707.6L142.5 708.8L142.5 709.6L142.6 710.4L143.0 711.2L143.4 711.9L144.0 712.4L144.6 712.8L145.4 713.1ZM142.9 717.6L144.2 717.7L145.8 717.6L147.4 717.4L149.0 717.0L152.6 715.7L156.6 713.8L160.6 711.4L164.2 708.7L167.8 705.4L171.1 702.0L172.3 700.4L173.8 698.4L175.6 695.2L176.7 692.4L177.1 690.8L177.2 689.6L177.2 688.4L177.0 687.2L176.5 686.0L176.0 685.2L175.1 684.4L174.3 683.9L173.1 683.4L171.9 683.2L170.7 683.1L169.0 683.2L167.4 683.4L165.8 683.8L162.2 685.0L158.2 686.9L154.2 689.4L150.6 692.1L147.1 695.2L144.1 698.4L141.6 701.6L140.3 703.6L139.4 705.2L138.7 706.8L138.1 708.4L137.7 710.0L137.6 711.2L137.6 712.4L137.8 713.6L138.2 714.8L138.8 715.6L139.4 716.2L140.2 716.8L141.4 717.3L142.6 717.6Z" fill="none" stroke="#ff5a3c" stroke-width="1.4" stroke-linejoin="round"/>
<path d="M209.0 642.7L209.5 642.8L209.9 642.6L210.3 642.2L210.6 641.9L210.7 641.5L210.3 641.2L209.9 641.3L209.2 641.9L209.0 642.3ZM208.5 643.5L209.1 643.5L209.5 643.4L210.0 643.1L210.7 642.6L211.3 641.9L211.5 641.5L211.6 641.1L211.5 640.7L211.1 640.5L210.3 640.5L209.5 640.9L209.1 641.2L208.5 641.9L208.2 642.3L208.1 642.7L208.1 643.1L208.3 643.4ZM207.3 643.9L207.9 644.3L208.7 644.3L209.5 644.0L210.7 643.3L211.7 642.3L212.2 641.5L212.4 640.7L212.3 640.2L211.9 639.8L211.1 639.7L209.9 640.1L209.1 640.6L208.5 641.1L207.8 641.9L207.3 642.7L207.2 643.5ZM206.7 644.7L207.1 645.0L207.5 645.1L208.7 644.9L209.9 644.4L211.1 643.6L212.0 642.7L212.9 641.5L213.3 640.3L213.2 639.9L213.1 639.5L212.7 639.1L212.3 639.0L211.5 638.9L210.3 639.3L209.1 640.0L207.7 641.1L206.8 642.3L206.4 643.5L206.4 644.3Z" fill="none" stroke="#4f4fb3" stroke-width="1.4" stroke-linejoin="round"/></g>
<g clip-path="url(#c72)"><g stroke="none"><path d="M232.1 716.4L233.1 716.6L234.7 716.8L235.9 716.7L237.5 716.5L240.7 715.7L244.3 714.3L246.3 713.3L248.3 712.1L251.9 709.7L255.1 707.1L258.4 704.0L261.1 700.8L263.3 697.6L264.2 696.0L264.9 694.4L265.5 692.8L265.7 691.6L265.9 690.0L265.9 688.8L265.6 687.6L265.2 686.8L264.6 686.0L264.0 685.3L263.0 684.8L262.0 684.4L260.7 684.1L259.5 684.0L257.9 684.1L256.3 684.3L254.7 684.7L252.7 685.3L249.5 686.7L245.9 688.6L242.3 691.1L239.1 693.6L235.9 696.8L233.1 700.0L230.9 703.2L230.0 704.8L229.3 706.4L228.9 707.6L228.5 709.2L228.3 710.4L228.3 711.6L228.5 712.8L228.8 713.6L229.2 714.4L229.9 715.2L230.7 715.8L231.9 716.3Z" fill="#fff7f5"/><path d="M235.5 714.0L236.7 714.1L237.9 714.0L239.1 713.9L240.7 713.5L243.5 712.6L246.7 711.0L249.9 709.0L252.7 706.9L255.5 704.4L257.8 702.0L259.7 699.6L261.3 696.8L262.3 694.4L262.7 693.2L262.8 692.0L262.8 690.8L262.6 690.0L262.3 689.2L262.0 688.6L261.4 688.0L260.7 687.5L259.9 687.1L258.7 686.8L257.5 686.7L256.3 686.8L253.9 687.2L251.1 688.1L248.3 689.3L245.5 690.9L242.3 693.2L239.5 695.6L236.8 698.4L234.6 701.2L233.1 703.6L232.0 706.0L231.6 707.2L231.4 708.4L231.4 709.6L231.5 710.4L231.7 711.2L232.1 712.0L232.7 712.8L233.3 713.2L234.0 713.6L235.1 713.9Z" fill="#ffebe8"/><path d="M237.7 712.0L239.5 712.0L241.9 711.5L244.3 710.6L247.1 709.2L249.9 707.4L252.3 705.6L254.5 703.6L256.6 701.2L258.1 699.2L259.5 696.8L260.2 694.8L260.4 693.6L260.5 692.8L260.4 692.0L260.2 691.2L259.5 690.2L259.1 689.8L258.3 689.3L257.5 689.0L256.7 688.8L254.7 688.8L252.3 689.3L249.9 690.2L247.5 691.3L244.7 693.0L242.3 694.9L239.9 697.0L237.9 699.2L236.1 701.6L235.0 703.6L234.1 705.6L233.8 707.6L233.8 708.4L233.9 709.3L234.2 710.0L234.7 710.7L235.3 711.2L235.9 711.5L236.7 711.8L237.5 712.0Z" fill="#ffdcd6"/><path d="M238.1 710.0L239.5 710.2L241.5 710.0L243.5 709.5L245.5 708.7L247.9 707.4L249.9 706.0L252.0 704.4L254.0 702.4L255.4 700.8L256.8 698.8L257.8 696.8L258.3 695.2L258.3 693.6L258.0 692.4L257.5 691.7L257.1 691.3L255.9 690.8L254.3 690.6L252.7 690.8L250.7 691.3L248.3 692.3L245.9 693.7L243.9 695.0L241.9 696.7L240.2 698.4L238.9 700.0L237.5 702.0L236.5 704.0L236.0 705.6L235.8 707.2L236.2 708.4L236.7 709.2L237.2 709.6L237.9 709.9Z" fill="#ffcac1"/><path d="M240.1 708.4L241.1 708.5L242.7 708.3L244.3 707.8L246.3 706.9L248.0 706.0L249.9 704.6L251.6 703.2L253.2 701.6L254.5 700.0L255.4 698.4L256.1 696.8L256.4 695.6L256.3 694.4L255.9 693.5L255.6 693.2L255.1 692.8L253.9 692.4L252.7 692.3L251.1 692.6L249.5 693.1L247.5 694.0L245.6 695.2L244.0 696.4L242.3 697.8L241.0 699.2L239.8 700.8L238.8 702.4L238.1 704.0L237.8 705.2L237.9 706.4L238.2 707.2L238.5 707.6L239.0 708.0L239.9 708.3Z" fill="#ffb5a7"/><path d="M241.5 706.8L242.7 706.8L243.9 706.6L245.1 706.2L246.7 705.5L248.3 704.5L249.6 703.6L251.0 702.4L252.1 701.2L253.0 700.0L253.8 698.8L254.3 697.6L254.5 696.4L254.4 695.6L254.0 694.8L253.5 694.3L253.1 694.2L252.3 694.0L251.1 694.0L249.9 694.3L248.7 694.7L247.1 695.5L245.7 696.4L244.3 697.4L243.3 698.4L242.1 699.6L241.2 700.8L240.5 702.0L239.9 703.2L239.7 704.4L239.8 705.2L240.1 706.0L240.7 706.5L241.5 706.8Z" fill="#ff9986"/><path d="M242.4 705.2L243.1 705.3L243.9 705.3L244.7 705.2L245.9 704.7L247.1 704.1L248.3 703.4L249.5 702.4L250.4 701.6L251.1 700.8L252.0 699.6L252.4 698.8L252.7 698.0L252.8 697.2L252.6 696.4L252.3 696.0L251.7 695.6L250.7 695.4L249.9 695.5L249.1 695.7L247.9 696.2L246.7 696.8L245.7 697.6L243.8 699.2L243.1 700.0L242.2 701.2L241.5 702.8L241.4 703.6L241.5 704.3L241.8 704.8L242.3 705.2Z" fill="#ff7b63"/><path d="M243.4 703.6L243.9 703.9L244.3 703.9L245.5 703.8L247.1 703.1L248.7 701.9L249.9 700.7L250.5 700.0L250.9 699.2L251.2 698.4L251.2 698.0L251.1 697.6L250.8 697.2L250.3 696.9L249.9 696.9L249.1 696.9L248.3 697.1L246.7 697.9L245.6 698.8L244.3 700.0L243.5 701.2L243.0 702.4L243.0 702.8L243.1 703.3Z" fill="#ff6246"/></g>
<g stroke="none"><path d="M287.0 645.1L288.8 645.3L291.2 645.3L293.2 645.2L295.2 645.0L297.2 644.5L298.4 644.1L299.2 643.7L300.1 643.1L300.5 642.7L300.7 642.3L300.7 641.9L300.6 641.5L300.3 641.1L299.6 640.5L298.8 640.1L297.6 639.6L296.0 639.2L294.0 638.8L290.4 638.7L286.8 638.9L284.8 639.3L283.6 639.6L282.4 640.1L281.3 640.7L280.9 641.1L280.6 641.5L280.5 641.9L280.5 642.3L280.7 642.7L281.2 643.2L282.0 643.7L283.6 644.4L285.2 644.8L286.8 645.1Z" fill="#ffffff"/><path d="M287.3 644.7L288.8 644.9L290.8 644.9L292.8 644.8L294.4 644.6L296.8 644.1L298.0 643.6L298.8 643.1L299.2 642.7L299.4 642.3L299.5 641.9L299.3 641.5L299.0 641.1L298.5 640.7L297.6 640.2L296.4 639.8L293.6 639.2L290.4 639.1L288.4 639.2L286.8 639.4L285.2 639.7L284.0 640.1L282.8 640.6L282.2 641.1L281.9 641.5L281.7 641.9L281.8 642.3L282.0 642.7L282.4 643.1L283.2 643.6L284.4 644.1L286.0 644.5L287.2 644.7Z" fill="#f6f6fb"/><path d="M288.2 644.3L291.2 644.4L294.0 644.2L296.0 643.7L296.8 643.3L297.6 642.8L297.9 642.3L298.0 641.9L297.9 641.5L297.5 641.1L296.9 640.7L295.9 640.3L293.6 639.8L290.8 639.6L288.0 639.7L285.6 640.2L284.4 640.7L283.7 641.1L283.3 641.5L283.2 641.9L283.3 642.3L283.5 642.7L284.0 643.1L285.6 643.8L288.0 644.3Z" fill="#eaeaf6"/><path d="M288.1 643.9L290.8 644.1L293.2 643.9L295.2 643.4L295.9 643.1L296.5 642.7L296.8 642.3L296.9 641.9L296.7 641.5L296.3 641.1L295.2 640.6L293.2 640.1L290.8 639.9L288.4 640.1L286.4 640.5L284.9 641.1L284.5 641.5L284.3 641.9L284.4 642.3L284.7 642.7L285.3 643.1L286.0 643.4L288.0 643.9Z" fill="#dadaef"/><path d="M287.9 643.5L290.0 643.7L292.0 643.7L294.0 643.3L295.2 642.9L295.8 642.3L295.9 641.9L295.7 641.5L294.8 640.9L293.2 640.5L291.2 640.3L289.2 640.3L287.2 640.7L286.0 641.1L285.5 641.5L285.3 641.9L285.4 642.3L285.7 642.7L286.4 643.1L287.6 643.4Z" fill="#c7c7e7"/><path d="M287.8 643.1L289.6 643.4L291.2 643.4L292.8 643.2L294.0 642.9L294.4 642.7L294.9 642.3L295.0 641.9L294.7 641.5L294.4 641.3L293.2 640.8L291.6 640.6L290.0 640.6L288.4 640.8L287.2 641.1L286.5 641.5L286.2 641.9L286.3 642.3L286.8 642.7L287.6 643.0Z" fill="#b0b0dd"/><path d="M289.6 643.1L291.2 643.1L292.4 643.0L293.4 642.7L294.0 642.3L294.1 641.9L293.8 641.5L292.8 641.1L291.6 640.9L290.4 640.9L289.2 641.0L288.4 641.1L287.4 641.5L287.1 641.9L287.2 642.3L288.0 642.8L289.6 643.1Z" fill="#9292d0"/><path d="M289.0 642.7L290.8 642.9L292.4 642.7L293.1 642.3L293.3 641.9L292.8 641.5L292.4 641.4L291.6 641.2L290.4 641.1L289.2 641.3L288.4 641.5L287.9 641.9L288.1 642.3L288.8 642.6Z" fill="#7272c2"/><path d="M288.9 642.3L289.6 642.5L290.4 642.6L291.6 642.5L292.3 642.3L292.5 641.9L292.0 641.6L290.8 641.4L289.6 641.5L289.2 641.6L288.7 641.9L288.8 642.1Z" fill="#5858b7"/></g>
<path d="M242.6 704.4L243.1 704.7L243.9 704.8L245.5 704.4L246.6 704.0L247.5 703.5L249.5 702.0L250.9 700.4L251.5 699.6L251.9 698.8L252.1 698.0L252.1 697.2L251.9 696.8L251.6 696.4L251.1 696.1L250.3 696.0L249.5 696.1L248.7 696.3L246.9 697.2L245.2 698.4L243.6 700.0L242.5 701.6L242.2 702.4L242.1 703.2L242.1 703.6L242.3 704.1ZM238.9 708.8L239.5 709.0L240.3 709.1L241.9 709.0L243.5 708.6L245.5 707.8L247.5 706.7L249.5 705.4L251.3 704.0L253.0 702.4L254.4 700.8L255.5 699.2L256.4 697.6L256.9 696.0L257.1 694.8L256.9 693.6L256.3 692.7L255.9 692.3L255.2 692.0L253.9 691.7L252.3 691.8L250.7 692.2L248.7 693.0L246.7 694.0L245.0 695.2L243.1 696.6L241.5 698.1L239.8 700.0L238.7 701.6L237.8 703.2L237.3 704.8L237.1 706.0L237.3 707.2L237.5 707.7L237.9 708.2L238.7 708.7ZM235.6 713.2L236.7 713.4L237.9 713.4L240.3 713.0L243.1 712.2L245.9 710.9L249.1 709.0L251.9 707.0L254.5 704.8L256.8 702.4L259.0 699.6L260.5 697.2L261.5 694.8L262.0 692.8L262.0 691.6L261.9 690.8L261.6 690.0L261.2 689.2L260.7 688.7L259.9 688.1L259.1 687.8L258.3 687.6L256.3 687.4L253.9 687.8L251.1 688.6L248.3 689.9L245.1 691.7L242.3 693.8L239.8 696.0L237.4 698.4L235.2 701.2L233.7 703.6L232.7 706.0L232.2 708.0L232.2 709.6L232.4 710.4L232.7 711.2L233.3 712.0L233.9 712.5L234.7 712.9L235.5 713.2ZM232.9 717.6L234.3 717.7L235.9 717.6L237.5 717.3L239.1 716.9L242.7 715.7L244.3 715.0L246.7 713.7L250.7 711.2L254.3 708.5L257.9 705.3L260.9 702.0L263.3 698.8L264.6 696.8L265.4 695.2L266.1 693.6L266.6 692.0L266.9 690.4L266.9 689.2L266.8 688.0L266.5 686.8L266.1 686.0L265.6 685.1L264.6 684.4L263.6 683.8L262.4 683.4L261.1 683.2L259.5 683.1L257.9 683.3L254.7 684.0L251.1 685.3L249.1 686.2L247.1 687.3L243.1 689.8L239.5 692.6L236.2 695.6L233.3 698.8L230.9 702.0L229.7 704.0L228.8 705.6L227.8 708.4L227.4 710.0L227.3 711.2L227.3 712.4L227.5 713.6L228.0 714.8L228.6 715.6L229.5 716.4L230.3 716.9L231.5 717.3L232.7 717.6Z" fill="none" stroke="#ff5a3c" stroke-width="1.4" stroke-linejoin="round"/>
<path d="M289.6 642.7L291.6 642.7L292.8 642.3L292.9 641.9L292.8 641.8L292.4 641.5L291.6 641.3L290.0 641.3L288.8 641.5L288.3 641.9L288.4 642.3L289.6 642.7ZM289.6 643.5L291.6 643.5L293.2 643.3L294.4 642.9L294.8 642.7L295.2 642.3L295.3 641.9L295.0 641.5L294.4 641.1L293.2 640.7L292.0 640.5L290.0 640.5L288.4 640.6L286.8 641.1L286.2 641.5L285.9 641.9L286.0 642.3L286.4 642.7L287.6 643.2L289.2 643.5ZM289.9 644.3L292.4 644.3L294.8 643.9L296.0 643.5L296.8 643.1L297.3 642.7L297.6 642.3L297.6 641.9L297.5 641.5L297.1 641.1L296.4 640.7L294.4 640.0L291.6 639.7L288.8 639.7L286.4 640.1L284.8 640.7L284.1 641.1L283.7 641.5L283.6 641.9L283.6 642.3L283.9 642.7L284.8 643.3L285.6 643.6L286.8 644.0L288.0 644.2L289.6 644.3ZM286.0 644.7L287.6 645.0L289.2 645.1L291.2 645.1L293.2 645.0L296.4 644.5L297.6 644.1L298.8 643.5L299.4 643.1L299.8 642.7L300.0 642.3L300.0 641.9L299.9 641.5L299.6 641.1L298.8 640.5L298.0 640.1L296.8 639.7L295.2 639.3L292.0 638.9L288.4 639.0L286.4 639.2L284.8 639.6L283.2 640.1L282.4 640.5L281.6 641.1L281.3 641.5L281.2 641.9L281.2 642.3L281.4 642.7L282.0 643.2L283.2 643.9L284.8 644.4L286.0 644.7Z" fill="none" stroke="#4f4fb3" stroke-width="1.4" stroke-linejoin="round"/></g>
<g clip-path="url(#c73)"><g stroke="none"><path d="M348.2 716.4L350.8 716.7L353.7 716.8L356.5 716.7L358.9 716.5L361.7 716.2L364.1 715.7L366.5 715.1L368.9 714.2L371.3 713.2L373.3 712.1L374.9 711.0L376.5 709.7L377.8 708.4L378.9 706.9L379.6 705.6L380.3 704.0L380.6 702.4L380.7 700.8L380.4 699.2L380.0 697.6L379.2 696.0L378.2 694.4L376.9 692.9L375.5 691.6L373.7 690.2L371.7 688.9L369.7 687.9L367.7 687.0L365.3 686.1L362.5 685.3L360.1 684.8L357.3 684.4L354.9 684.1L352.0 684.0L349.2 684.1L346.8 684.2L344.0 684.6L341.6 685.1L339.2 685.7L336.8 686.5L334.4 687.6L332.4 688.6L330.8 689.7L329.2 691.0L327.9 692.4L326.9 693.6L326.0 695.2L325.4 696.8L325.0 698.4L324.9 700.0L325.1 701.6L325.6 703.2L326.4 704.8L327.4 706.4L328.8 708.0L330.1 709.2L331.6 710.4L333.6 711.7L336.0 713.0L338.0 713.8L340.4 714.7L342.8 715.4L345.2 715.9L348.0 716.4Z" fill="#fff7f5"/><path d="M351.1 714.0L353.3 714.1L355.7 714.1L358.1 713.9L360.1 713.6L362.5 713.1L364.5 712.6L366.5 711.9L368.1 711.2L369.7 710.3L371.3 709.3L372.5 708.3L373.6 707.2L374.5 706.0L375.2 704.8L375.8 703.2L376.0 702.0L376.1 700.4L375.9 699.2L375.5 698.0L374.9 696.8L374.1 695.6L373.2 694.4L371.9 693.2L370.4 692.0L368.9 691.0L367.3 690.1L365.3 689.2L363.3 688.5L360.9 687.8L358.9 687.4L356.5 687.0L354.5 686.8L352.0 686.7L349.6 686.8L347.2 687.0L345.2 687.2L343.2 687.7L341.2 688.2L339.2 688.9L337.6 689.6L336.0 690.4L334.4 691.5L333.2 692.4L332.1 693.6L331.1 694.8L330.4 696.0L329.9 697.2L329.6 698.8L329.5 700.0L329.7 701.6L330.1 702.8L330.7 704.0L331.4 705.2L332.4 706.4L333.6 707.6L335.1 708.8L336.8 709.9L338.4 710.7L340.0 711.5L342.0 712.2L344.4 712.9L346.4 713.4L348.8 713.8L350.8 714.0Z" fill="#ffebe8"/><path d="M352.3 712.0L354.5 712.0L356.5 711.9L360.1 711.4L363.3 710.6L364.9 709.9L366.5 709.2L367.8 708.4L368.9 707.6L370.1 706.5L370.9 705.6L371.5 704.8L372.1 703.6L372.4 702.4L372.6 701.2L372.5 700.0L372.2 698.8L371.7 697.6L371.2 696.8L370.5 695.7L369.6 694.8L368.5 693.8L367.3 692.9L366.1 692.2L364.5 691.4L361.3 690.2L357.7 689.3L355.7 689.0L353.7 688.8L349.6 688.9L346.0 689.3L342.8 690.1L341.2 690.6L339.6 691.4L337.2 692.8L336.0 693.8L335.1 694.8L334.4 695.6L333.7 696.8L333.3 698.0L333.1 699.2L333.1 700.4L333.3 701.6L333.7 702.8L334.1 703.6L334.9 704.8L335.6 705.6L336.8 706.8L338.0 707.7L339.2 708.4L340.8 709.3L342.5 710.0L344.4 710.7L348.0 711.5L350.0 711.8L352.0 712.0Z" fill="#ffdcd6"/><path d="M350.1 710.0L353.3 710.2L356.5 710.1L359.7 709.5L362.5 708.7L364.9 707.5L366.0 706.8L367.0 706.0L367.8 705.2L368.4 704.4L368.9 703.5L369.3 702.4L369.4 701.6L369.5 700.4L369.2 699.2L368.9 698.4L368.5 697.5L367.7 696.4L366.1 694.9L364.1 693.5L361.3 692.2L358.5 691.4L355.3 690.8L352.0 690.6L348.8 690.8L345.6 691.3L342.8 692.3L340.4 693.5L338.7 694.8L337.9 695.6L337.3 696.4L336.8 697.2L336.3 698.4L336.1 700.0L336.3 701.2L336.5 702.0L337.1 703.2L337.6 704.0L338.3 704.8L339.2 705.7L341.3 707.2L344.0 708.5L346.8 709.4L350.0 710.0Z" fill="#ffcac1"/><path d="M351.4 708.4L354.1 708.5L356.9 708.2L359.3 707.7L361.7 706.8L363.7 705.7L365.1 704.4L365.9 703.2L366.3 702.4L366.5 701.6L366.5 700.8L366.5 700.0L366.3 699.2L365.9 698.4L365.4 697.6L364.7 696.8L363.4 695.6L361.4 694.4L359.3 693.5L356.9 692.8L354.1 692.4L351.2 692.3L348.8 692.6L346.4 693.1L344.0 693.9L342.0 695.1L340.6 696.4L339.7 697.6L339.3 698.4L339.1 699.2L339.1 700.0L339.1 700.8L339.3 701.6L339.7 702.4L340.2 703.2L340.8 704.0L342.1 705.2L344.0 706.4L346.0 707.2L348.4 707.9L351.2 708.4Z" fill="#ffb5a7"/><path d="M351.8 706.8L354.1 706.8L356.1 706.6L358.1 706.2L359.8 705.6L361.3 704.7L362.6 703.6L363.4 702.4L363.7 701.2L363.7 700.0L363.3 698.8L362.4 697.6L361.0 696.4L359.6 695.6L357.7 694.8L355.7 694.3L353.7 694.0L351.2 694.0L349.2 694.2L347.2 694.7L345.6 695.3L344.0 696.3L343.1 697.2L342.2 698.4L341.9 699.6L341.9 700.8L342.3 702.0L343.2 703.2L344.4 704.3L345.9 705.2L347.6 705.9L349.6 706.5L351.6 706.8Z" fill="#ff9986"/><path d="M351.0 705.2L352.5 705.3L354.1 705.3L355.7 705.1L357.3 704.7L358.5 704.2L359.7 703.5L360.5 702.7L361.1 701.6L361.2 700.8L361.0 699.6L360.5 698.6L359.7 697.7L358.5 696.9L357.4 696.4L356.1 695.9L354.3 695.6L352.5 695.4L350.8 695.5L349.2 695.8L348.0 696.2L346.8 696.8L345.6 697.6L344.9 698.4L344.5 699.2L344.4 700.0L344.5 701.2L344.9 702.0L345.6 702.8L346.6 703.6L348.0 704.4L349.2 704.8L350.8 705.2Z" fill="#ff7b63"/><path d="M350.4 703.6L352.5 703.9L353.7 703.9L354.9 703.8L355.8 703.6L356.9 703.1L357.7 702.6L358.3 702.0L358.6 701.6L358.8 700.8L358.8 700.0L358.4 699.2L357.7 698.4L357.0 698.0L356.1 697.5L355.0 697.2L352.9 696.9L351.6 696.9L350.4 697.1L349.2 697.4L348.4 697.8L347.7 698.4L347.3 698.8L347.0 699.2L346.8 700.0L346.8 700.8L347.2 701.6L347.6 702.1L348.4 702.7L350.0 703.5Z" fill="#ff6246"/></g>
<g stroke="none"><path d="M338.7 645.1L344.4 645.3L351.2 645.3L357.3 645.3L364.1 645.0L370.1 644.6L374.1 644.2L377.3 643.7L379.8 643.1L380.9 642.7L381.4 642.3L381.5 641.9L381.2 641.5L380.4 641.1L378.9 640.7L376.1 640.1L372.1 639.6L367.7 639.2L361.3 638.9L349.6 638.7L337.6 638.9L331.6 639.3L327.2 639.7L323.6 640.2L320.9 640.7L319.2 641.3L318.8 641.5L318.5 641.9L318.6 642.3L319.2 642.7L320.8 643.3L323.6 643.8L328.4 644.4L333.6 644.9L338.4 645.1Z" fill="#ffffff"/><path d="M339.7 644.7L344.8 644.9L350.4 644.9L356.1 644.9L361.7 644.7L369.7 644.1L372.9 643.6L375.6 643.1L376.9 642.7L377.3 642.5L377.5 642.3L377.7 641.9L377.3 641.5L376.4 641.1L375.3 640.8L372.1 640.2L368.5 639.8L359.7 639.2L349.2 639.1L338.4 639.3L333.2 639.7L329.6 640.0L326.4 640.5L324.0 641.0L322.7 641.5L322.3 641.9L322.5 642.3L323.1 642.7L324.4 643.1L326.8 643.6L330.4 644.1L335.2 644.5L339.6 644.7Z" fill="#f6f6fb"/><path d="M342.5 644.3L351.6 644.4L360.9 644.2L367.7 643.6L370.6 643.1L372.2 642.7L373.0 642.3L373.1 641.9L372.7 641.5L371.5 641.1L370.5 640.9L368.1 640.5L365.3 640.2L357.7 639.7L348.8 639.6L340.4 639.8L333.2 640.3L330.4 640.7L328.5 641.1L327.3 641.5L326.9 641.9L327.0 642.3L327.8 642.7L329.4 643.1L331.8 643.5L334.8 643.8L342.4 644.3Z" fill="#eaeaf6"/><path d="M342.3 643.9L350.0 644.1L358.1 643.9L364.1 643.4L366.6 643.1L368.5 642.7L369.4 642.3L369.6 641.9L369.1 641.5L367.7 641.1L363.7 640.5L357.7 640.1L350.4 639.9L342.8 640.1L336.8 640.5L334.7 640.7L332.3 641.1L330.9 641.5L330.4 641.9L330.6 642.3L331.5 642.7L333.4 643.1L335.6 643.4L342.0 643.9Z" fill="#dadaef"/><path d="M341.6 643.5L347.6 643.7L354.5 643.7L360.1 643.4L362.8 643.1L364.5 642.8L365.2 642.7L366.3 642.3L366.6 641.9L365.9 641.5L363.3 641.0L358.5 640.5L352.5 640.3L346.0 640.3L340.0 640.6L335.8 641.1L334.1 641.5L333.4 641.9L333.7 642.3L334.8 642.7L336.8 643.1L341.2 643.5Z" fill="#c7c7e7"/><path d="M341.2 643.1L346.0 643.4L351.2 643.4L356.5 643.3L360.5 642.9L361.9 642.7L363.4 642.3L363.6 641.9L362.8 641.5L362.1 641.3L360.7 641.1L358.5 640.9L353.7 640.6L348.4 640.6L343.6 640.7L339.3 641.1L337.2 641.5L336.4 641.9L336.6 642.3L338.1 642.7L340.8 643.1Z" fill="#b0b0dd"/><path d="M347.0 643.1L351.2 643.1L354.9 643.0L358.6 642.7L360.5 642.3L360.9 641.9L359.9 641.5L356.9 641.1L353.3 640.9L349.2 640.9L345.6 641.0L343.1 641.1L340.1 641.5L339.1 641.9L339.5 642.3L339.6 642.3L342.0 642.8L346.8 643.1Z" fill="#9292d0"/><path d="M344.9 642.7L348.0 642.9L351.2 642.9L354.9 642.7L356.5 642.5L357.9 642.3L358.4 641.9L357.0 641.5L354.9 641.3L352.0 641.1L348.8 641.1L346.0 641.2L343.0 641.5L341.6 641.9L342.1 642.3L344.8 642.7Z" fill="#7272c2"/><path d="M344.7 642.3L348.8 642.6L352.9 642.5L355.3 642.3L356.0 641.9L354.9 641.7L353.8 641.5L351.6 641.4L347.2 641.4L346.0 641.5L344.0 641.9L344.4 642.2Z" fill="#5858b7"/></g>
<path d="M350.2 704.4L351.6 704.6L353.3 704.7L354.9 704.6L356.1 704.4L357.3 704.0L358.5 703.3L359.2 702.8L359.8 702.0L360.1 701.2L360.2 700.4L360.0 699.6L359.5 698.8L358.7 698.0L357.7 697.3L356.5 696.8L355.3 696.4L354.1 696.2L352.5 696.1L350.8 696.2L349.6 696.4L348.4 696.8L347.2 697.4L346.5 698.0L345.8 698.8L345.5 699.6L345.4 700.4L345.6 701.2L346.1 702.0L346.8 702.8L347.6 703.3L348.8 703.9L350.0 704.3ZM349.8 708.8L352.9 709.1L355.7 709.0L358.5 708.6L360.9 707.9L363.3 706.8L365.1 705.6L365.9 704.8L366.5 704.0L367.0 703.2L367.3 702.4L367.5 701.6L367.5 700.8L367.5 700.0L367.3 699.2L366.9 698.4L366.5 697.6L365.9 696.8L365.1 696.0L363.3 694.6L360.9 693.4L358.5 692.6L355.7 692.0L352.5 691.7L349.6 691.8L346.8 692.3L344.4 693.0L342.4 694.0L341.2 694.7L340.4 695.3L339.1 696.8L338.6 697.6L338.3 698.4L338.1 699.2L338.1 700.0L338.1 700.8L338.3 701.6L338.6 702.4L339.1 703.2L339.7 704.0L340.5 704.8L342.0 706.0L344.4 707.3L346.8 708.1L349.6 708.8ZM350.2 713.2L352.5 713.3L354.5 713.4L356.5 713.3L358.9 713.0L360.9 712.7L362.9 712.2L364.9 711.6L366.5 711.0L368.1 710.2L369.7 709.2L370.9 708.4L372.2 707.2L373.2 706.0L373.9 704.8L374.4 703.6L374.7 702.4L374.9 701.2L374.7 699.6L374.4 698.4L373.9 697.2L373.1 696.0L372.2 694.8L371.3 693.9L370.0 692.8L368.5 691.7L366.9 690.8L365.3 690.1L363.3 689.3L361.3 688.7L359.3 688.2L356.9 687.8L354.9 687.6L352.9 687.4L350.4 687.5L346.4 687.8L344.4 688.2L342.4 688.7L340.4 689.3L338.8 690.0L337.2 690.8L335.9 691.6L334.8 692.4L333.5 693.6L332.5 694.8L331.7 696.0L331.2 697.2L330.9 698.4L330.7 699.6L330.9 701.2L331.2 702.4L331.7 703.6L332.4 704.8L333.4 706.0L334.4 707.0L335.6 708.0L336.8 708.9L338.4 709.8L340.0 710.6L342.0 711.4L344.0 712.0L346.0 712.5L350.0 713.2ZM352.4 717.6L355.3 717.6L358.1 717.5L360.9 717.2L363.7 716.7L366.1 716.1L368.9 715.3L371.3 714.3L373.3 713.3L375.3 712.1L377.0 710.8L378.5 709.4L379.7 708.0L380.8 706.4L381.5 704.8L381.9 703.2L382.1 701.6L382.0 700.0L381.7 698.4L381.1 696.8L380.2 695.2L379.1 693.6L377.6 692.0L376.1 690.6L374.0 689.2L372.1 688.0L369.7 686.8L367.3 685.9L364.5 685.0L361.7 684.3L359.3 683.8L356.5 683.4L353.7 683.2L350.4 683.2L347.6 683.3L344.8 683.6L342.0 684.1L339.6 684.6L336.8 685.5L334.4 686.5L332.4 687.4L330.4 688.6L328.6 690.0L327.2 691.3L325.9 692.8L324.9 694.4L324.1 696.0L323.7 697.6L323.5 699.2L323.6 700.8L324.0 702.8L324.7 704.4L325.6 706.0L326.8 707.6L328.0 708.9L329.8 710.4L331.6 711.7L333.6 712.9L335.6 713.8L338.4 715.0L340.8 715.8L343.6 716.5L346.4 717.0L349.2 717.4L352.0 717.6Z" fill="none" stroke="#ff5a3c" stroke-width="1.4" stroke-linejoin="round"/>
<path d="M347.2 642.7L352.9 642.7L356.7 642.3L357.2 641.9L356.9 641.8L355.6 641.5L352.9 641.3L348.0 641.3L345.2 641.4L344.0 641.6L342.8 641.9L343.3 642.3L346.8 642.7ZM346.8 643.5L352.9 643.5L358.1 643.3L362.5 642.8L364.4 642.3L364.6 641.9L363.9 641.5L361.9 641.1L358.0 640.7L353.7 640.5L348.0 640.5L342.8 640.7L338.4 641.1L336.1 641.5L335.4 641.9L335.6 642.3L337.0 642.7L340.8 643.2L346.4 643.5ZM348.1 644.3L356.5 644.2L363.7 643.8L366.7 643.5L369.3 643.1L370.9 642.7L371.8 642.3L371.9 641.9L371.5 641.5L370.3 641.1L367.3 640.6L360.9 640.0L352.0 639.7L343.6 639.8L335.6 640.2L332.4 640.6L330.0 641.0L328.5 641.5L328.1 641.9L328.2 642.3L329.1 642.7L330.7 643.1L333.6 643.5L340.4 644.1L348.0 644.3ZM336.0 644.7L340.8 644.9L346.4 645.1L352.9 645.1L358.5 645.0L368.1 644.4L372.1 644.0L375.7 643.5L377.7 643.0L378.5 642.7L379.1 642.3L379.2 641.9L378.9 641.5L378.0 641.1L375.7 640.5L372.5 640.0L368.9 639.6L363.3 639.2L352.9 638.9L342.0 639.0L336.0 639.3L331.2 639.6L327.2 640.1L324.0 640.6L322.0 641.1L321.1 641.5L320.8 641.9L320.9 642.3L321.5 642.7L322.0 642.9L324.4 643.5L327.6 644.0L332.0 644.4L336.0 644.7Z" fill="none" stroke="#4f4fb3" stroke-width="1.4" stroke-linejoin="round"/></g>
<g clip-path="url(#c74)"><g stroke="none"><path d="M439.4 716.4L442.5 716.7L445.8 716.8L451.0 716.5L455.4 715.8L458.6 714.9L461.0 714.1L463.4 713.2L465.4 712.2L467.4 711.0L469.4 709.6L471.1 708.0L472.2 706.8L473.4 705.2L474.1 703.6L474.5 702.4L474.6 700.8L474.5 699.6L474.0 698.0L473.1 696.4L472.0 694.8L470.5 693.2L469.0 691.8L467.4 690.6L465.4 689.4L463.4 688.3L461.0 687.3L458.2 686.3L455.4 685.4L453.0 684.8L450.6 684.4L447.4 684.1L445.4 684.0L440.9 684.1L438.5 684.2L436.1 684.5L433.7 685.0L430.9 685.7L428.5 686.5L426.5 687.4L424.1 688.6L422.1 689.8L420.3 691.2L418.9 692.4L417.6 694.0L416.6 695.6L415.8 697.2L415.4 698.8L415.4 700.0L415.5 701.2L416.0 702.8L416.7 704.4L418.1 706.4L419.3 707.7L420.9 709.2L422.9 710.6L424.9 711.8L426.9 712.9L429.3 713.9L431.7 714.8L434.5 715.5L436.5 716.0L439.3 716.4Z" fill="#fff7f5"/><path d="M443.2 714.0L445.8 714.1L447.4 714.1L450.6 713.8L452.6 713.5L454.6 713.1L456.2 712.6L458.6 711.7L460.6 710.9L462.3 710.0L463.8 709.1L465.2 708.0L466.4 706.8L467.4 705.6L468.2 704.4L468.6 703.2L468.9 702.0L469.0 700.8L468.8 699.2L468.4 698.0L467.8 696.8L467.0 695.6L466.0 694.4L464.7 693.2L463.4 692.2L461.7 691.2L459.8 690.1L457.0 688.9L455.0 688.2L451.0 687.2L446.6 686.8L444.2 686.7L440.9 686.8L438.9 687.0L436.5 687.3L434.5 687.7L432.5 688.3L429.3 689.6L427.7 690.4L426.1 691.4L424.5 692.6L423.3 693.8L422.2 695.2L421.5 696.4L421.0 697.6L420.7 698.8L420.6 700.4L420.8 701.6L421.2 702.8L421.7 704.0L422.5 705.2L423.5 706.4L424.8 707.6L426.5 708.9L428.1 709.9L430.1 711.0L432.1 711.8L434.5 712.6L436.1 713.1L438.5 713.5L440.5 713.8L442.9 714.0Z" fill="#ffebe8"/><path d="M444.5 712.0L446.2 712.0L448.2 711.9L450.6 711.7L452.2 711.4L455.4 710.5L458.6 709.0L460.2 708.1L461.4 707.3L462.4 706.4L463.2 705.6L463.8 704.8L464.5 703.6L464.9 702.4L465.1 701.2L465.1 700.0L464.8 698.8L464.3 697.6L463.8 696.8L463.0 695.7L462.1 694.8L461.0 693.9L459.4 692.8L457.4 691.6L455.8 690.9L453.0 689.9L450.2 689.3L447.4 688.9L445.4 688.8L440.5 688.9L436.9 689.4L434.1 690.2L432.1 690.9L430.9 691.5L429.5 692.4L428.1 693.3L426.9 694.4L426.2 695.2L425.7 696.0L425.0 697.2L424.6 698.4L424.4 699.6L424.4 700.8L424.7 702.0L425.2 703.2L425.9 704.4L426.8 705.6L427.6 706.4L428.9 707.4L430.1 708.2L432.7 709.6L434.5 710.3L436.1 710.8L440.1 711.6L444.2 712.0Z" fill="#ffdcd6"/><path d="M442.1 710.0L445.8 710.2L448.6 710.0L451.4 709.6L454.6 708.7L455.8 708.1L457.0 707.4L458.4 706.4L459.4 705.6L460.1 704.8L460.7 704.0L461.2 703.2L461.6 702.0L461.7 701.2L461.7 700.0L461.2 698.4L460.6 697.2L459.9 696.4L458.2 694.8L455.9 693.2L453.8 692.2L451.0 691.3L447.4 690.7L444.6 690.6L440.5 690.8L437.3 691.3L434.9 692.0L432.1 693.4L430.2 694.8L428.8 696.4L428.3 697.2L427.8 698.4L427.6 699.2L427.5 700.4L427.7 701.5L428.0 702.4L428.7 703.6L429.3 704.4L430.9 706.0L432.9 707.4L434.5 708.2L435.7 708.7L438.9 709.5L441.7 710.0Z" fill="#ffcac1"/><path d="M443.7 708.4L446.6 708.5L450.2 708.0L452.2 707.5L454.2 706.7L455.8 705.6L457.1 704.4L457.7 703.6L458.1 702.8L458.4 702.0L458.6 701.2L458.6 700.4L458.5 699.6L458.2 698.8L457.8 698.0L456.6 696.4L455.8 695.6L455.0 695.0L453.1 694.0L451.0 693.2L448.2 692.6L445.8 692.3L443.4 692.4L440.1 692.6L437.3 693.3L435.4 694.0L433.4 695.2L432.1 696.4L431.4 697.2L431.0 698.0L430.7 698.8L430.5 699.6L430.5 700.4L430.6 701.2L430.9 702.0L431.3 702.8L432.1 704.0L433.0 704.8L434.0 705.6L436.1 706.8L438.1 707.5L440.5 708.0L443.4 708.4Z" fill="#ffb5a7"/><path d="M444.2 706.8L446.2 706.8L448.2 706.6L450.6 706.1L452.2 705.5L454.0 704.4L455.0 703.4L455.4 702.8L455.8 702.0L456.0 700.8L455.9 700.0L455.7 699.2L455.1 698.0L454.2 696.9L452.8 696.0L451.4 695.2L449.8 694.7L447.0 694.1L445.0 694.0L442.5 694.1L440.1 694.4L438.5 694.8L436.5 695.6L435.3 696.4L434.2 697.6L433.5 698.8L433.3 700.0L433.4 701.2L433.9 702.4L434.9 703.6L436.1 704.6L437.7 705.4L439.7 706.1L441.0 706.4L444.2 706.8Z" fill="#ff9986"/><path d="M443.3 705.2L445.4 705.4L446.6 705.3L448.2 705.0L450.2 704.5L451.2 704.0L452.3 703.2L453.0 702.4L453.4 701.6L453.5 700.8L453.4 699.6L452.7 698.4L451.9 697.6L451.0 696.9L449.8 696.4L447.8 695.8L446.2 695.5L444.6 695.5L442.5 695.6L440.5 695.9L439.3 696.3L438.3 696.8L437.1 697.6L436.3 698.4L435.9 699.2L435.7 700.0L435.9 701.2L436.3 702.0L437.0 702.8L438.1 703.6L439.7 704.4L440.9 704.8L442.9 705.1Z" fill="#ff7b63"/><path d="M442.7 703.6L445.4 704.0L446.2 703.9L447.4 703.7L448.6 703.3L449.7 702.8L450.3 702.4L451.0 701.6L451.1 701.2L451.2 700.4L451.0 699.6L450.6 698.9L450.0 698.4L449.3 698.0L448.2 697.4L447.0 697.1L445.8 696.9L444.6 696.9L442.9 697.1L441.3 697.4L440.5 697.6L439.7 698.1L438.9 698.7L438.6 699.2L438.3 700.0L438.4 700.8L438.5 701.2L439.1 702.0L439.7 702.5L440.5 703.0L442.5 703.5Z" fill="#ff6246"/></g>
<g stroke="none"><path d="M433.8 645.1L439.7 645.3L445.8 645.3L451.0 645.2L456.6 645.0L462.6 644.6L466.2 644.2L469.4 643.7L472.2 643.1L473.4 642.7L473.8 642.5L474.1 642.3L474.2 641.9L473.8 641.5L473.4 641.3L471.4 640.7L468.6 640.2L464.6 639.6L460.6 639.3L454.6 638.9L450.2 638.7L443.4 638.7L436.5 638.8L432.1 639.0L426.9 639.3L422.5 639.8L418.1 640.5L415.5 641.1L414.5 641.5L414.1 641.9L414.3 642.3L414.9 642.7L417.3 643.4L420.9 644.0L424.5 644.4L429.7 644.9L433.7 645.1Z" fill="#ffffff"/><path d="M434.6 644.7L439.7 644.9L445.8 644.9L454.6 644.7L462.2 644.0L465.4 643.6L467.8 643.1L469.4 642.5L469.8 642.3L469.9 641.9L469.5 641.5L468.2 641.0L465.8 640.5L462.6 640.0L459.0 639.6L453.4 639.3L444.2 639.1L438.9 639.1L433.7 639.3L428.9 639.7L424.9 640.1L422.1 640.5L419.8 641.1L418.9 641.5L418.4 641.9L418.6 642.3L419.3 642.7L420.6 643.1L423.3 643.7L426.5 644.1L430.9 644.5L434.5 644.7Z" fill="#f6f6fb"/><path d="M437.1 644.3L440.5 644.4L446.2 644.4L453.4 644.2L460.2 643.6L463.0 643.1L464.4 642.7L465.2 642.3L465.4 641.9L464.9 641.5L463.4 641.0L461.4 640.6L458.6 640.2L451.4 639.7L443.8 639.6L435.7 639.7L429.3 640.3L426.3 640.7L424.5 641.1L423.4 641.5L423.0 641.9L423.1 642.3L423.9 642.7L424.9 643.0L427.3 643.5L430.1 643.8L436.9 644.3Z" fill="#eaeaf6"/><path d="M436.9 643.9L440.5 644.1L444.6 644.1L450.6 643.9L456.6 643.5L459.2 643.1L460.9 642.7L461.8 642.3L462.0 641.9L461.5 641.5L460.2 641.1L456.6 640.5L451.4 640.1L445.8 639.9L438.5 640.0L432.1 640.5L428.1 641.1L426.8 641.5L426.3 641.9L426.5 642.3L427.4 642.7L429.1 643.1L431.3 643.4L436.9 643.9Z" fill="#dadaef"/><path d="M436.3 643.5L440.5 643.7L447.4 643.7L452.6 643.4L455.4 643.1L457.0 642.9L457.8 642.7L458.9 642.3L459.1 641.9L458.5 641.5L456.2 641.0L451.8 640.5L446.6 640.3L440.1 640.3L434.9 640.6L431.1 641.1L429.7 641.5L429.1 641.9L429.3 642.3L430.3 642.7L432.1 643.1L436.1 643.5Z" fill="#c7c7e7"/><path d="M435.9 643.1L440.1 643.4L445.8 643.4L450.6 643.2L453.4 642.9L454.8 642.7L456.1 642.3L456.4 641.9L455.4 641.4L453.7 641.1L451.8 640.9L446.6 640.6L440.9 640.6L437.7 640.8L434.3 641.1L432.4 641.5L431.7 641.9L431.9 642.3L433.2 642.7L435.7 643.1Z" fill="#b0b0dd"/><path d="M440.6 643.1L445.8 643.1L447.8 643.1L451.8 642.7L453.5 642.3L453.8 641.9L452.9 641.5L450.4 641.1L447.4 640.9L440.1 640.9L437.7 641.1L435.0 641.5L434.1 641.9L434.4 642.3L436.1 642.7L440.5 643.1Z" fill="#9292d0"/><path d="M439.0 642.7L440.9 642.8L445.8 642.9L449.4 642.6L451.3 642.3L451.7 641.9L450.5 641.5L449.0 641.3L446.2 641.1L443.4 641.1L440.5 641.2L437.7 641.5L436.3 641.9L436.7 642.3L438.9 642.7Z" fill="#7272c2"/><path d="M438.9 642.3L440.9 642.5L446.2 642.6L449.0 642.3L449.5 641.9L449.0 641.8L447.8 641.5L446.2 641.4L440.9 641.4L440.0 641.5L438.9 641.7L438.4 641.9L438.5 642.1Z" fill="#5858b7"/></g>
<path d="M443.9 704.8L445.8 704.9L447.0 704.8L448.6 704.4L450.2 703.9L451.0 703.5L451.8 702.8L452.4 702.0L452.7 701.2L452.7 700.0L452.4 699.2L451.9 698.4L451.0 697.6L450.2 697.1L448.1 696.4L446.6 696.0L445.4 695.9L443.8 696.0L441.3 696.3L440.1 696.6L439.3 696.9L438.2 697.6L437.3 698.4L436.8 699.2L436.5 699.9L436.6 700.8L436.9 701.6L437.5 702.4L438.5 703.2L439.3 703.6L440.5 704.1L443.8 704.8ZM441.5 709.2L445.0 709.5L447.4 709.4L451.0 708.9L453.8 708.1L455.8 707.1L456.9 706.4L457.8 705.6L459.3 704.0L459.8 703.2L460.1 702.4L460.3 701.6L460.4 700.8L460.3 699.6L460.0 698.8L459.7 698.0L459.0 696.9L457.2 695.2L455.4 693.8L453.1 692.8L450.6 692.0L447.8 691.5L445.0 691.3L440.9 691.5L438.5 691.8L435.7 692.6L433.3 693.7L432.3 694.4L431.3 695.1L430.5 696.0L429.9 696.8L429.4 697.6L429.1 698.4L428.9 699.2L428.8 700.0L428.8 700.8L429.1 702.0L430.0 703.6L430.6 704.4L431.4 705.2L433.3 706.6L435.7 707.8L438.5 708.7L441.3 709.2ZM440.5 713.6L445.8 713.9L450.2 713.7L452.2 713.4L454.2 713.0L457.0 712.1L459.3 711.2L461.0 710.4L463.0 709.3L464.3 708.4L465.6 707.2L466.7 706.0L467.6 704.8L468.3 703.2L468.6 702.0L468.7 700.8L468.5 699.2L468.1 698.0L467.5 696.8L466.6 695.6L465.6 694.4L464.6 693.4L463.0 692.2L461.3 691.2L459.4 690.2L457.0 689.1L455.4 688.5L453.8 688.1L451.4 687.5L449.4 687.2L445.4 686.9L439.7 687.1L435.7 687.6L433.7 688.2L431.3 688.9L429.3 689.8L427.7 690.6L426.3 691.6L424.8 692.8L423.5 694.0L422.6 695.2L421.8 696.4L421.3 697.6L421.0 698.8L421.0 700.0L421.1 701.6L421.5 702.8L422.1 704.0L422.9 705.2L423.9 706.4L425.2 707.6L426.5 708.6L428.0 709.6L429.7 710.6L431.7 711.5L435.7 712.8L438.1 713.3L440.1 713.6ZM442.9 718.4L445.8 718.5L448.6 718.4L451.4 718.2L454.6 717.8L457.0 717.3L461.0 716.2L463.4 715.4L466.2 714.2L468.9 712.8L471.8 710.9L473.5 709.6L475.8 707.6L477.2 706.0L478.3 704.4L479.1 702.8L479.3 701.6L479.3 700.4L478.8 698.8L478.0 697.2L476.8 695.6L475.3 694.0L473.0 691.9L470.6 690.1L468.2 688.5L465.8 687.2L463.0 686.0L460.2 685.0L456.6 683.9L454.6 683.4L451.8 682.8L446.7 682.4L444.2 682.3L440.1 682.4L436.9 682.6L434.9 682.9L432.1 683.5L429.3 684.2L426.9 685.1L424.1 686.2L421.7 687.4L419.3 688.9L417.4 690.4L414.6 692.8L412.7 694.8L411.4 696.4L410.5 698.0L410.2 699.2L410.2 700.4L410.4 701.2L410.7 702.0L411.8 703.6L413.1 705.2L415.0 707.2L418.1 710.0L419.7 711.2L421.7 712.4L424.1 713.7L426.5 714.8L428.9 715.8L431.7 716.7L434.5 717.4L436.5 717.8L439.7 718.2L442.5 718.4Z" fill="none" stroke="#ff5a3c" stroke-width="1.4" stroke-linejoin="round"/>
<path d="M440.1 642.7L446.2 642.8L447.7 642.7L450.2 642.4L450.6 642.3L451.0 641.9L449.6 641.5L448.6 641.4L446.2 641.2L443.8 641.2L440.5 641.3L438.3 641.5L437.0 641.9L437.5 642.3L439.7 642.7ZM438.6 643.5L444.6 643.6L448.6 643.5L453.4 643.2L456.6 642.7L457.7 642.3L458.0 641.9L457.3 641.5L455.6 641.1L454.6 641.0L449.8 640.5L445.8 640.4L439.3 640.5L434.9 640.8L432.4 641.1L431.3 641.4L430.8 641.5L430.2 641.9L430.4 642.3L431.5 642.7L434.5 643.2L438.5 643.5ZM438.0 644.3L446.2 644.4L453.8 644.1L460.2 643.5L462.6 643.1L464.1 642.7L464.9 642.3L465.1 641.9L464.6 641.5L463.0 641.0L460.6 640.5L457.8 640.2L450.6 639.7L446.2 639.6L441.3 639.6L435.3 639.8L431.7 640.1L428.9 640.4L426.7 640.7L424.5 641.2L423.7 641.5L423.3 641.9L423.4 642.3L424.2 642.7L425.7 643.1L428.0 643.5L430.9 643.9L437.7 644.3ZM436.5 645.1L440.5 645.2L446.6 645.2L457.4 644.8L462.2 644.5L466.2 644.0L469.8 643.4L472.2 642.7L472.9 642.3L473.1 641.9L472.7 641.5L471.4 641.0L469.0 640.4L464.6 639.8L461.0 639.4L452.2 638.9L446.6 638.8L440.1 638.8L435.3 638.9L430.5 639.2L425.3 639.6L422.1 640.0L418.9 640.5L416.6 641.1L415.6 641.5L415.3 641.8L415.2 641.9L415.4 642.3L416.5 642.9L418.9 643.5L422.5 644.1L426.5 644.5L431.7 644.9L436.1 645.1Z" fill="none" stroke="#4f4fb3" stroke-width="1.4" stroke-linejoin="round"/></g>
<g clip-path="url(#c75)"><g stroke="none"><path d="M541.5 716.4L545.9 716.7L549.9 716.8L554.7 716.6L558.7 716.3L564.3 715.5L571.0 714.0L577.5 712.7L577.5 688.1L570.7 686.8L563.9 685.3L559.9 684.6L557.1 684.3L553.9 684.1L548.7 684.0L543.9 684.2L538.7 684.7L533.8 685.3L530.6 685.8L527.0 686.6L520.6 688.1L517.0 689.1L511.9 691.2L509.3 692.4L507.1 693.6L505.8 694.4L504.6 695.5L503.5 696.8L502.5 698.4L502.1 699.6L502.0 700.8L502.3 702.0L503.1 703.6L504.1 704.8L505.4 706.1L506.6 707.0L508.4 708.0L511.0 709.3L513.8 710.5L517.0 711.7L519.0 712.3L528.2 714.5L533.4 715.5L541.5 716.4Z" fill="#fff7f5"/><path d="M546.4 714.0L549.9 714.1L554.3 713.9L557.5 713.7L560.3 713.3L563.1 712.8L565.9 712.1L571.1 710.6L575.1 709.5L577.5 708.8L577.5 692.0L575.1 691.3L571.1 690.2L565.1 688.5L562.3 687.9L559.1 687.3L555.1 686.9L550.7 686.7L547.9 686.7L543.1 687.0L537.5 687.7L533.8 688.3L531.0 688.8L526.2 690.1L521.0 691.8L519.0 692.6L517.4 693.4L515.8 694.4L514.2 695.6L512.9 696.8L512.0 698.0L511.6 698.8L511.3 700.0L511.3 700.8L511.6 702.0L512.0 702.8L512.9 704.0L513.7 704.8L515.2 706.0L517.0 707.2L518.6 708.0L520.2 708.7L527.0 710.9L532.2 712.2L539.9 713.4L546.3 714.0Z" fill="#ffebe8"/><path d="M548.0 712.0L551.1 712.0L555.1 711.8L558.7 711.4L561.9 710.7L564.3 710.1L567.1 709.2L574.1 706.4L575.9 705.6L577.5 704.6L577.5 696.2L575.8 695.2L574.0 694.4L567.1 691.6L562.7 690.3L559.1 689.5L555.5 689.0L551.1 688.8L547.9 688.8L541.9 689.3L536.3 690.2L531.4 691.2L527.4 692.6L523.6 694.4L521.4 695.6L520.2 696.4L519.3 697.2L518.4 698.4L518.1 699.2L517.9 700.4L518.0 701.6L518.4 702.4L519.3 703.6L520.2 704.4L521.3 705.2L523.5 706.4L527.4 708.2L531.5 709.6L536.3 710.6L541.9 711.5L547.9 712.0Z" fill="#ffdcd6"/><path d="M545.4 710.0L549.5 710.2L554.7 710.0L559.1 709.3L562.7 708.4L565.9 707.1L567.4 706.4L568.7 705.6L570.4 704.4L571.9 703.2L573.0 702.0L573.4 701.2L573.5 700.4L573.3 699.6L572.9 698.8L572.2 698.0L570.9 696.8L569.3 695.6L566.7 694.0L563.5 692.7L559.9 691.7L555.9 691.0L552.3 690.7L548.3 690.6L543.1 691.0L538.7 691.8L533.0 693.1L531.4 693.7L529.9 694.4L528.4 695.2L527.1 696.0L526.1 696.8L525.3 697.6L524.7 698.4L524.3 699.2L524.0 700.0L524.0 700.8L524.4 702.0L524.9 702.8L525.6 703.6L526.5 704.4L527.6 705.2L529.0 706.0L531.8 707.3L535.5 708.3L540.3 709.3L545.1 710.0Z" fill="#ffcac1"/><path d="M547.3 708.4L550.3 708.5L554.7 708.2L558.3 707.6L561.1 706.8L563.8 705.6L565.1 704.8L566.1 704.0L567.0 703.2L567.6 702.4L567.9 701.6L568.1 700.8L568.1 700.0L567.9 699.2L567.5 698.4L566.9 697.6L566.1 696.8L565.0 696.0L562.9 694.8L559.9 693.6L557.1 693.0L554.3 692.6L549.9 692.3L546.7 692.5L542.3 693.0L539.1 693.7L535.1 694.9L532.6 696.0L530.8 697.2L529.6 698.4L529.2 699.2L529.0 700.0L529.0 700.8L529.2 701.6L529.9 702.8L531.2 704.0L532.2 704.7L533.3 705.2L536.5 706.4L539.9 707.3L543.5 708.0L547.1 708.4Z" fill="#ffb5a7"/><path d="M547.9 706.8L550.7 706.8L554.3 706.5L556.7 706.1L559.1 705.4L561.3 704.4L562.9 703.2L563.9 702.0L564.3 700.8L564.2 699.6L563.9 698.8L563.5 698.2L562.4 697.2L560.4 696.0L558.4 695.2L555.5 694.5L553.9 694.2L550.3 694.0L547.9 694.0L544.3 694.4L541.9 694.9L539.5 695.6L537.6 696.4L535.4 697.6L534.7 698.2L534.1 698.8L533.8 699.2L533.5 700.0L533.5 700.8L533.6 701.2L533.8 701.7L534.4 702.4L535.5 703.2L537.5 704.4L539.5 705.2L542.3 706.0L544.4 706.4L547.5 706.7Z" fill="#ff9986"/><path d="M547.1 705.2L549.1 705.4L550.7 705.3L553.9 705.0L555.5 704.7L557.1 704.2L558.7 703.5L559.9 702.6L560.7 701.6L561.0 700.8L561.0 700.0L560.9 699.6L560.4 698.8L560.1 698.4L559.1 697.6L557.5 696.8L555.5 696.1L553.9 695.8L551.5 695.5L549.5 695.4L547.9 695.5L544.9 696.0L543.1 696.4L540.9 697.2L539.5 698.0L538.5 698.8L538.0 699.6L537.8 700.0L537.8 700.8L538.2 701.6L538.8 702.4L539.9 703.1L541.1 703.7L543.1 704.4L544.7 704.8L547.1 705.2Z" fill="#ff7b63"/><path d="M546.5 703.6L548.3 703.9L549.5 704.0L552.7 703.7L553.9 703.4L555.1 703.1L556.3 702.5L557.1 702.0L557.5 701.5L557.9 700.8L557.9 700.0L557.4 699.2L556.7 698.5L555.7 698.0L554.7 697.6L553.1 697.2L549.9 696.9L548.7 696.9L547.5 697.0L545.1 697.6L543.9 698.0L543.1 698.4L542.1 699.2L541.7 699.6L541.5 700.4L541.7 701.2L542.0 701.6L543.0 702.4L543.8 702.8L546.3 703.5Z" fill="#ff6246"/></g>
<g stroke="none"><path d="M536.0 645.1L546.3 645.3L555.5 645.3L563.1 645.2L577.5 644.7L577.5 639.2L559.5 638.7L543.9 638.7L532.2 639.0L517.8 639.7L511.4 640.2L507.4 640.7L504.5 641.1L502.4 641.5L501.6 641.9L501.9 642.3L503.4 642.7L511.0 643.7L521.4 644.5L535.9 645.1Z" fill="#ffffff"/><path d="M537.3 644.7L547.5 644.9L555.9 644.9L563.1 644.8L577.5 644.2L577.5 639.8L562.7 639.2L550.7 639.1L537.5 639.3L525.0 639.8L517.0 640.5L512.3 641.1L510.6 641.5L509.9 641.9L510.1 642.3L510.6 642.5L511.3 642.7L513.0 643.0L516.8 643.5L524.2 644.1L531.4 644.5L537.1 644.7Z" fill="#f6f6fb"/><path d="M541.3 644.3L548.7 644.4L558.3 644.4L566.3 644.1L577.5 643.5L577.5 640.5L563.9 639.8L554.3 639.6L543.1 639.6L531.8 640.1L523.3 640.7L520.1 641.1L518.3 641.5L517.6 641.9L517.9 642.3L519.1 642.7L521.6 643.1L525.4 643.5L531.4 643.9L541.1 644.3Z" fill="#eaeaf6"/><path d="M541.1 643.9L549.1 644.1L559.1 644.0L567.1 643.6L574.8 643.1L577.5 642.8L577.5 641.2L567.5 640.4L559.9 640.0L548.7 639.9L539.1 640.2L530.6 640.6L526.5 641.1L524.2 641.5L523.3 641.9L523.6 642.3L525.2 642.7L528.2 643.1L531.8 643.5L541.1 643.9Z" fill="#dadaef"/><path d="M540.0 643.5L548.7 643.7L558.3 643.7L565.9 643.3L571.8 642.7L574.3 642.3L574.7 641.9L573.3 641.5L567.9 640.9L563.1 640.5L555.5 640.3L547.5 640.3L538.7 640.6L531.5 641.1L529.2 641.5L528.3 641.9L528.6 642.3L530.2 642.7L532.6 643.0L539.9 643.5Z" fill="#c7c7e7"/><path d="M539.5 643.1L547.5 643.4L554.3 643.4L560.3 643.3L565.5 642.9L566.9 642.7L568.9 642.3L569.2 641.9L568.2 641.5L567.1 641.3L565.3 641.1L561.9 640.8L555.5 640.6L548.7 640.6L542.7 640.7L536.8 641.1L533.6 641.5L532.4 641.9L532.8 642.3L535.0 642.7L539.5 643.1Z" fill="#b0b0dd"/><path d="M547.0 643.1L554.3 643.1L558.3 643.0L562.6 642.7L565.1 642.3L565.5 641.9L564.2 641.5L560.5 641.1L555.5 640.9L546.3 640.9L542.2 641.1L538.0 641.5L536.5 641.9L537.1 642.3L539.7 642.7L546.7 643.1Z" fill="#9292d0"/><path d="M544.5 642.7L548.7 642.9L553.9 642.9L559.1 642.7L561.7 642.3L562.3 641.9L560.6 641.5L558.3 641.3L554.7 641.1L549.1 641.1L542.0 641.5L540.1 641.9L540.7 642.3L544.3 642.7Z" fill="#7272c2"/><path d="M544.2 642.3L548.7 642.6L554.7 642.6L558.8 642.3L559.5 641.9L558.7 641.7L557.0 641.5L555.1 641.4L548.7 641.4L546.2 641.5L543.9 641.8L543.4 641.9L543.9 642.1Z" fill="#5858b7"/></g>
<path d="M548.7 704.8L550.3 704.8L552.7 704.6L554.3 704.3L555.9 703.9L557.6 703.2L558.7 702.5L559.5 701.6L559.8 700.8L559.8 700.0L559.4 699.2L558.7 698.4L557.5 697.6L556.3 697.0L554.7 696.6L552.7 696.2L550.3 696.0L548.7 696.0L547.1 696.2L544.7 696.7L542.9 697.2L541.9 697.6L540.5 698.4L539.7 699.2L539.3 700.0L539.3 700.8L539.7 701.6L540.5 702.4L541.9 703.2L543.1 703.7L544.7 704.1L547.1 704.6L548.7 704.8ZM546.8 708.8L550.3 708.9L554.7 708.6L558.6 708.0L561.4 707.2L563.1 706.5L564.3 706.0L565.7 705.2L566.8 704.4L567.7 703.6L568.4 702.8L568.8 702.0L569.1 701.2L569.2 700.4L569.0 699.2L568.6 698.4L568.0 697.6L567.2 696.8L566.2 696.0L563.9 694.6L561.2 693.6L558.3 692.7L554.7 692.2L550.3 691.9L547.1 692.0L542.3 692.5L538.7 693.3L534.7 694.4L531.9 695.6L530.0 696.8L528.7 698.0L528.2 698.8L527.9 699.6L527.8 700.8L528.0 701.6L528.4 702.4L529.0 703.2L529.9 704.0L531.8 705.2L534.7 706.4L539.1 707.6L543.1 708.4L546.7 708.8ZM577.5 694.1L575.1 693.1L571.1 691.9L566.7 690.3L563.1 689.3L559.5 688.6L555.1 688.1L550.7 687.9L547.5 687.9L542.7 688.3L537.5 689.0L533.8 689.6L531.4 690.1L526.7 691.6L521.4 693.7L520.0 694.4L518.6 695.2L517.6 696.0L516.8 696.8L516.1 697.6L515.6 698.4L515.2 699.6L515.1 700.4L515.2 701.2L515.6 702.4L516.1 703.2L516.7 704.0L517.5 704.8L518.6 705.6L519.9 706.4L521.4 707.1L526.6 709.2L531.4 710.7L533.8 711.2L537.5 711.8L542.7 712.5L547.5 712.9L550.7 712.9L555.1 712.7L559.5 712.2L563.1 711.5L566.7 710.5L571.1 708.9L575.1 707.7L577.5 706.7M577.5 687.6L563.1 684.7L559.1 684.2L554.7 683.8L549.1 683.7L543.9 683.9L538.7 684.3L531.4 685.3L526.6 686.2L518.6 688.1L513.0 690.1L508.2 692.1L506.6 693.0L505.4 693.7L504.1 694.8L502.9 696.0L501.8 697.2L500.9 698.4L500.4 699.6L500.3 700.4L500.4 701.2L500.9 702.4L501.7 703.6L502.8 704.8L504.1 706.0L505.4 707.1L506.6 707.8L508.2 708.7L513.0 710.7L518.2 712.6L520.2 713.1L526.6 714.6L531.4 715.5L538.7 716.5L543.9 716.9L549.1 717.1L554.7 717.0L559.1 716.6L563.1 716.1L577.5 713.2" fill="none" stroke="#ff5a3c" stroke-width="1.4" stroke-linejoin="round"/>
<path d="M546.7 642.7L555.1 642.8L558.3 642.6L560.5 642.3L561.1 641.9L559.9 641.6L559.1 641.5L555.9 641.3L548.7 641.2L543.6 641.5L541.4 641.9L542.2 642.3L546.7 642.7ZM548.1 643.5L555.1 643.5L561.1 643.3L567.1 642.8L569.9 642.3L570.3 641.9L569.2 641.5L566.5 641.1L560.3 640.7L553.9 640.5L547.5 640.5L539.5 640.8L533.8 641.3L532.4 641.5L531.3 641.9L531.7 642.3L533.7 642.7L535.1 642.8L540.3 643.2L547.9 643.5ZM577.5 640.8L567.1 640.2L559.5 639.9L553.9 639.8L544.7 639.8L535.9 640.1L529.4 640.5L523.7 641.1L521.6 641.5L520.7 641.9L521.0 642.3L522.5 642.7L525.8 643.2L533.0 643.7L543.5 644.2L553.5 644.2L559.5 644.2L567.1 643.8L577.5 643.2M577.5 639.7L564.7 639.2L555.1 639.0L547.1 639.0L534.7 639.3L524.6 639.8L517.8 640.3L511.1 641.1L509.4 641.5L508.8 641.9L509.0 642.3L510.2 642.7L512.4 643.1L515.7 643.5L522.2 644.1L532.6 644.6L543.9 644.9L555.1 645.0L563.5 644.8L577.5 644.3" fill="none" stroke="#4f4fb3" stroke-width="1.4" stroke-linejoin="round"/></g>
<g clip-path="url(#c76)"><g stroke="none"><path d="M602.1 716.4L603.5 716.7L605.1 716.8L606.7 716.7L608.3 716.5L609.9 716.2L611.9 715.7L613.9 715.0L615.9 714.1L619.5 712.2L621.5 710.8L623.1 709.6L624.7 708.3L626.4 706.8L628.9 704.0L630.1 702.4L631.1 700.8L632.0 699.2L632.8 697.6L633.3 696.0L633.7 694.4L633.9 692.8L633.9 691.6L633.6 690.0L633.2 688.8L632.6 687.6L632.0 686.8L631.0 686.0L630.0 685.3L628.8 684.7L627.5 684.4L626.0 684.1L624.3 684.0L622.7 684.1L621.1 684.3L619.5 684.6L617.5 685.2L613.9 686.6L610.3 688.6L608.3 689.9L606.7 691.1L605.1 692.4L603.5 693.9L600.9 696.8L599.7 698.4L598.7 700.0L597.8 701.6L597.1 703.2L596.5 704.8L596.1 706.4L595.9 708.0L595.9 709.2L596.0 710.4L596.4 711.6L596.9 712.8L597.5 713.6L598.3 714.5L599.5 715.4L600.7 716.0L601.9 716.4Z" fill="#fff7f5"/><path d="M605.3 714.0L606.7 714.1L607.9 714.1L609.5 713.9L611.1 713.5L613.9 712.7L617.1 711.2L620.3 709.2L623.1 707.0L625.6 704.6L627.7 702.0L628.4 700.8L629.3 699.2L630.3 696.8L630.6 695.6L630.8 694.4L630.8 693.2L630.6 692.0L630.3 690.8L629.9 690.0L629.3 689.2L628.4 688.4L627.6 687.8L626.8 687.4L625.6 687.0L624.3 686.8L623.1 686.7L621.5 686.8L618.7 687.2L615.5 688.3L612.3 689.8L609.5 691.6L606.7 693.7L604.3 696.1L602.2 698.8L601.4 700.0L600.5 701.6L599.5 704.0L599.2 705.2L599.0 706.4L599.0 707.6L599.2 708.8L599.5 710.0L599.9 710.8L600.5 711.6L601.1 712.2L601.9 712.8L602.7 713.3L603.9 713.7L605.1 714.0Z" fill="#ffebe8"/><path d="M607.3 712.0L609.5 711.9L611.9 711.5L614.7 710.5L617.1 709.4L619.5 707.8L621.9 705.9L623.9 704.0L625.8 701.6L627.2 699.2L628.0 697.2L628.4 695.2L628.4 694.0L628.2 693.2L628.0 692.4L627.6 691.6L627.0 690.8L626.4 690.2L625.6 689.6L624.7 689.3L623.9 689.0L622.7 688.8L621.5 688.8L620.3 688.8L617.9 689.3L615.5 690.1L612.7 691.4L610.3 692.9L607.9 694.8L605.9 696.8L604.0 699.2L602.6 701.6L601.8 703.6L601.4 705.6L601.4 706.8L601.5 707.6L601.9 708.7L602.3 709.5L602.7 710.0L603.5 710.7L604.3 711.2L605.1 711.5L605.9 711.8L607.1 712.0Z" fill="#ffdcd6"/><path d="M607.3 710.0L609.1 710.2L611.1 710.0L613.1 709.5L615.5 708.6L617.9 707.3L619.9 705.8L621.9 704.0L623.4 702.4L624.8 700.4L625.7 698.4L626.2 696.4L626.2 694.8L625.9 693.6L625.6 692.8L625.2 692.3L624.7 691.9L623.9 691.4L623.1 691.0L622.3 690.8L620.7 690.6L618.7 690.8L616.7 691.2L614.3 692.2L611.9 693.5L609.9 694.9L607.9 696.7L606.4 698.4L605.3 700.0L604.3 702.0L603.6 704.0L603.5 705.6L603.6 706.4L603.8 707.2L604.5 708.4L605.5 709.3L606.3 709.7L607.1 710.0Z" fill="#ffcac1"/><path d="M609.0 708.4L610.7 708.5L612.3 708.2L613.9 707.8L615.9 706.9L617.9 705.7L619.5 704.5L620.9 703.2L622.3 701.6L623.3 700.0L623.9 698.4L624.3 696.8L624.2 695.6L623.8 694.4L623.1 693.5L622.7 693.2L621.9 692.8L620.4 692.4L618.7 692.4L617.1 692.6L615.5 693.1L613.5 694.1L611.9 695.0L610.2 696.4L608.7 697.8L607.6 699.2L606.6 700.8L605.9 702.4L605.5 704.0L605.6 705.2L606.0 706.4L606.6 707.2L607.5 707.9L608.7 708.3Z" fill="#ffb5a7"/><path d="M610.3 706.8L611.5 706.8L613.1 706.6L614.7 706.1L615.9 705.5L617.1 704.8L618.7 703.6L619.9 702.4L620.9 701.2L621.6 700.0L622.1 698.8L622.4 697.6L622.3 696.4L621.9 695.5L621.3 694.8L620.7 694.4L619.5 694.0L618.3 694.0L617.1 694.1L615.9 694.4L614.3 695.1L612.8 696.0L611.5 696.9L610.3 698.0L609.3 699.2L608.4 700.4L607.8 701.6L607.5 702.8L607.4 704.0L607.6 704.8L608.0 705.6L608.7 706.2L609.9 706.7Z" fill="#ff9986"/><path d="M610.8 705.2L611.5 705.3L612.7 705.3L613.5 705.2L614.7 704.8L615.9 704.2L617.1 703.4L618.3 702.4L619.1 701.6L619.9 700.4L620.3 699.6L620.6 698.8L620.7 698.0L620.6 697.2L620.1 696.4L619.5 695.9L618.8 695.6L617.9 695.4L616.7 695.5L615.5 695.9L614.7 696.2L613.5 696.8L612.4 697.6L611.5 698.4L610.8 699.2L609.9 700.4L609.5 701.2L609.3 702.0L609.1 702.8L609.2 703.6L609.5 704.3L610.0 704.8L610.7 705.2Z" fill="#ff7b63"/><path d="M611.5 703.6L611.9 703.8L612.7 704.0L613.9 703.8L615.5 703.2L617.2 702.0L618.3 700.6L618.7 700.0L619.0 699.2L619.0 698.4L618.9 698.0L618.7 697.6L618.3 697.2L617.9 697.0L617.1 696.9L615.9 697.0L614.4 697.6L613.1 698.4L611.9 699.6L611.1 700.8L610.8 701.6L610.8 702.4L610.9 702.8L611.1 703.3Z" fill="#ff6246"/></g>
<g stroke="none"><path d="M644.2 645.1L646.8 645.3L650.0 645.3L652.8 645.3L656.0 645.0L658.8 644.6L660.4 644.2L662.0 643.7L663.2 643.1L663.7 642.7L663.9 642.3L664.0 641.9L663.8 641.5L663.5 641.1L662.8 640.7L661.6 640.2L659.6 639.6L657.6 639.2L654.4 638.9L649.2 638.7L646.0 638.8L643.6 638.9L640.8 639.3L638.8 639.7L637.2 640.2L636.0 640.7L635.3 641.1L635.0 641.5L634.8 641.9L634.9 642.3L635.1 642.7L636.0 643.3L637.6 644.0L639.6 644.5L642.0 644.9L644.0 645.1Z" fill="#ffffff"/><path d="M644.6 644.7L646.8 644.9L649.6 644.9L652.4 644.9L654.8 644.7L658.4 644.1L660.0 643.6L661.3 643.1L661.8 642.7L662.1 642.3L662.2 641.9L662.0 641.5L661.2 640.9L659.8 640.3L658.0 639.8L654.0 639.3L649.2 639.1L644.4 639.3L642.0 639.6L640.0 640.0L638.8 640.4L637.6 640.9L636.8 641.5L636.6 641.9L636.7 642.3L637.0 642.7L637.5 643.1L638.8 643.6L640.4 644.1L642.4 644.5L644.4 644.7Z" fill="#f6f6fb"/><path d="M645.9 644.3L650.0 644.4L654.4 644.2L657.6 643.6L658.9 643.1L659.7 642.7L660.0 642.3L660.1 641.9L659.9 641.5L659.2 641.0L658.4 640.7L656.8 640.2L653.2 639.7L649.2 639.6L645.2 639.7L641.7 640.3L640.3 640.7L639.4 641.1L638.9 641.5L638.7 641.9L638.8 642.3L639.1 642.7L639.9 643.1L641.0 643.5L642.4 643.8L645.6 644.3Z" fill="#eaeaf6"/><path d="M645.8 643.9L649.6 644.1L653.2 643.9L656.0 643.4L657.1 643.1L657.9 642.7L658.4 642.3L658.5 641.9L658.2 641.5L657.6 641.1L655.6 640.5L653.2 640.1L650.0 639.9L646.4 640.0L643.2 640.5L641.2 641.1L640.6 641.5L640.3 641.9L640.4 642.3L640.9 642.7L641.7 643.1L642.8 643.4L645.6 643.9Z" fill="#dadaef"/><path d="M645.5 643.5L648.4 643.7L651.2 643.7L654.0 643.4L656.0 642.9L656.4 642.7L657.0 642.3L657.1 641.9L656.8 641.5L655.6 641.0L653.2 640.5L650.4 640.3L647.6 640.3L644.8 640.6L642.8 641.1L642.0 641.5L641.7 641.9L641.8 642.3L642.4 642.7L643.2 643.0L645.2 643.5Z" fill="#c7c7e7"/><path d="M645.3 643.1L647.6 643.4L650.0 643.4L652.4 643.3L654.4 642.9L654.9 642.7L655.6 642.3L655.7 641.9L655.3 641.5L654.8 641.3L653.2 640.9L651.2 640.6L648.8 640.6L646.4 640.7L644.4 641.1L643.5 641.5L643.1 641.9L643.2 642.3L643.9 642.7L645.2 643.1Z" fill="#b0b0dd"/><path d="M648.0 643.1L650.0 643.1L651.6 643.0L653.4 642.7L654.3 642.3L654.4 641.9L654.0 641.5L652.6 641.1L650.8 640.9L648.8 640.9L647.2 641.0L646.0 641.2L644.8 641.6L644.4 641.9L644.5 642.3L644.8 642.4L646.0 642.8L648.0 643.1Z" fill="#9292d0"/><path d="M647.0 642.7L649.6 642.9L652.0 642.7L653.1 642.3L653.3 641.9L652.6 641.5L652.0 641.4L650.8 641.2L649.2 641.1L647.6 641.2L646.4 641.5L645.5 641.9L645.7 642.3L646.8 642.6Z" fill="#7272c2"/><path d="M646.9 642.3L648.8 642.6L650.8 642.5L651.9 642.3L652.2 641.9L651.6 641.6L651.2 641.5L650.0 641.4L648.0 641.5L647.6 641.5L646.6 641.9L646.8 642.1Z" fill="#5858b7"/></g>
<path d="M610.8 704.4L611.5 704.6L612.3 704.7L613.1 704.7L614.3 704.4L615.3 704.0L616.3 703.4L617.2 702.8L618.1 702.0L618.7 701.2L619.3 700.4L619.7 699.6L619.9 698.8L619.9 698.0L619.7 697.2L619.4 696.8L618.7 696.3L617.9 696.1L617.1 696.1L615.5 696.4L614.6 696.8L613.5 697.4L612.7 698.0L611.8 698.8L611.1 699.6L610.6 700.4L610.2 701.2L609.9 702.0L609.9 703.2L610.3 704.0L610.7 704.3ZM607.8 708.8L609.5 709.1L611.1 709.0L612.7 708.7L614.7 708.0L616.7 707.0L618.7 705.7L620.3 704.4L621.9 702.7L623.4 700.8L624.2 699.2L624.8 697.6L625.0 696.0L624.8 694.8L624.2 693.6L623.9 693.2L623.1 692.5L621.9 692.0L620.3 691.7L618.7 691.8L617.1 692.1L615.1 692.8L613.1 693.8L611.1 695.1L609.5 696.4L607.9 698.0L606.7 699.6L605.8 701.2L605.1 702.8L604.8 704.4L604.8 705.2L605.0 706.0L605.5 707.2L606.3 708.0L607.5 708.7ZM605.1 713.2L606.3 713.4L607.5 713.4L608.7 713.3L610.3 713.1L611.9 712.7L613.5 712.2L616.3 711.0L619.1 709.4L621.9 707.3L624.3 705.2L626.4 702.8L627.2 701.6L628.2 700.0L629.3 697.6L629.7 696.4L629.9 695.2L630.0 693.2L629.7 692.0L629.5 691.2L629.0 690.4L628.4 689.6L627.6 688.8L626.8 688.3L625.9 688.0L624.7 687.6L623.5 687.4L622.3 687.4L621.1 687.5L619.5 687.7L617.9 688.1L616.3 688.6L613.5 689.8L610.7 691.4L607.9 693.4L605.6 695.6L603.5 698.0L602.6 699.2L601.6 700.8L600.5 703.2L600.1 704.4L599.9 705.6L599.8 707.6L600.0 708.8L600.3 709.6L600.7 710.4L601.3 711.2L601.9 711.7L602.7 712.3L603.5 712.7L604.7 713.1ZM603.0 717.6L604.7 717.7L606.3 717.6L608.3 717.4L610.3 717.0L613.9 715.8L615.9 714.9L617.9 713.9L619.9 712.7L621.9 711.4L625.2 708.8L627.0 707.2L628.5 705.6L629.8 704.0L631.0 702.4L632.1 700.8L633.0 699.2L633.9 697.2L634.4 695.6L634.8 694.0L635.0 692.4L634.9 690.8L634.7 689.6L634.4 688.4L633.8 687.2L632.8 686.0L632.0 685.2L630.8 684.4L629.6 683.8L628.4 683.5L626.8 683.2L625.2 683.1L623.1 683.2L621.5 683.4L619.5 683.8L615.9 685.0L613.9 685.9L611.9 686.9L609.9 688.0L607.9 689.4L604.6 692.0L602.9 693.6L601.4 695.2L600.0 696.8L598.8 698.4L597.8 700.0L596.9 701.6L596.1 703.2L595.4 705.2L595.0 706.8L594.8 708.4L594.9 710.0L595.0 711.2L595.4 712.4L596.0 713.6L596.7 714.6L597.5 715.4L598.7 716.2L599.9 716.8L601.1 717.2L602.7 717.6Z" fill="none" stroke="#ff5a3c" stroke-width="1.4" stroke-linejoin="round"/>
<path d="M648.0 642.7L650.8 642.7L652.5 642.3L652.8 641.9L652.0 641.5L650.8 641.3L648.4 641.3L646.8 641.5L646.4 641.7L646.0 641.9L646.3 642.3L648.0 642.7ZM648.0 643.5L650.8 643.5L653.2 643.3L655.2 642.8L656.0 642.3L656.1 641.9L655.8 641.5L654.9 641.1L653.0 640.7L650.8 640.5L648.4 640.5L646.0 640.7L644.0 641.1L643.0 641.5L642.7 641.9L642.8 642.3L643.4 642.7L645.2 643.2L648.0 643.5ZM648.2 644.3L652.4 644.2L655.6 643.8L657.2 643.5L658.4 643.1L659.1 642.7L659.5 642.3L659.6 641.9L659.4 641.5L658.8 641.1L657.6 640.6L654.8 640.0L650.8 639.7L647.2 639.7L643.6 640.1L640.9 640.7L640.0 641.1L639.4 641.5L639.2 641.9L639.3 642.3L640.0 642.9L641.2 643.4L642.8 643.8L644.4 644.0L648.0 644.3ZM642.9 644.7L645.2 644.9L647.6 645.1L650.4 645.1L653.2 645.0L657.6 644.5L659.6 644.0L661.2 643.5L662.4 642.9L662.9 642.3L662.9 641.9L662.8 641.5L662.4 641.1L661.6 640.7L660.0 640.1L658.0 639.6L655.6 639.2L650.8 638.9L646.0 639.0L643.2 639.2L640.8 639.6L638.8 640.1L637.6 640.5L636.4 641.1L636.0 641.5L635.9 641.9L635.9 642.3L636.2 642.7L637.2 643.3L638.4 643.8L640.8 644.4L642.8 644.7Z" fill="none" stroke="#4f4fb3" stroke-width="1.4" stroke-linejoin="round"/></g>
<path d="M60.6 86.5H63.6V85.9H66.5V84.8H69.5V82.7H72.5V79.3H75.4V74.1H78.3V66.8H81.3V57.8H84.2V47.7H87.2V37.6H90.2V29.4H93.1V24.4H96.0V23.7H99.0V27.4H102.0V34.9H104.9V44.5H107.8V54.8H110.8V64.3H113.8V72.1H116.7V77.9H119.7V81.8H122.6V84.3H123.0" fill="none" stroke="#ff5a3c" stroke-width="1.25" stroke-linejoin="miter"/>
<path d="M36.5 85.7H38.4V84.3H41.0V81.5H43.7V76.8H46.3V69.6H49.0V59.6H51.6V47.3H54.3V33.8H56.9V21.3H59.6V12.1H62.2V8.4H64.9V10.9H67.5V19.1H70.2V31.1H72.8V44.6H75.5V57.3H78.1V67.9H80.8V75.6H83.4V80.8H86.1V83.8H88.7" fill="none" stroke="#4f4fb3" stroke-width="1.25" stroke-linejoin="miter"/>
<path d="M127.4 176.4H130.1V174.7H133.0V171.7H136.0V166.9H138.9V159.9H141.8V150.5H144.8V139.3H147.7V127.6H150.6V117.2H153.5V110.1H156.5V107.7H159.4V110.6H162.3V118.1H165.3V128.7H168.2V140.4H171.1V151.4H174.1V160.6H177.0V167.4H179.9V172.1H182.8V174.9H185.8V176.5H188.7" fill="none" stroke="#ff5a3c" stroke-width="1.25" stroke-linejoin="miter"/>
<path d="M203.0 177.5H203.6V176.8H204.2V175.3H204.8V172.4H205.4V167.3H206.0V159.4H206.6V148.4H207.2V134.9H207.8V120.6H208.4V108.3H209.0V100.6H209.6V99.4H210.2V105.1H210.8V116.2H211.4V130.1H212.0V144.1H212.6V156.0H213.2V165.0H213.8" fill="none" stroke="#4f4fb3" stroke-width="1.25" stroke-linejoin="miter"/>
<path d="M218.3 266.4H221.0V263.9H223.9V259.8H226.9V253.5H229.8V245.0H232.7V234.4H235.7V222.7H238.6V211.6H241.5V203.0H244.4V198.5H247.4V199.2H250.3V204.8H253.2V214.3H256.2V225.7H259.1V237.2H262.0V247.4H264.9V255.3H267.9V261.0H270.8V264.6H273.7V266.8H276.7V268.0H279.6" fill="none" stroke="#ff5a3c" stroke-width="1.25" stroke-linejoin="miter"/>
<path d="M277.9 265.4H279.4V261.8H280.8V255.8H282.2V246.9H283.7V235.0H285.1V221.2H286.6V207.5H288.1V196.3H289.5V190.4H290.9V191.1H292.4V198.3H293.9V210.2H295.3V224.2H296.8V237.7H298.2V249.0H299.6V257.3H301.1V262.7H302.6V265.9H304.0V267.6H304.8" fill="none" stroke="#4f4fb3" stroke-width="1.25" stroke-linejoin="miter"/>
<path d="M309.2 359.4H309.7V358.5H313.9V356.7H318.2V353.5H322.4V348.2H326.6V340.2H330.8V329.5H335.1V316.9H339.3V303.9H343.5V292.8H347.8V286.0H352.0V285.1H356.2V290.3H360.5V300.3H364.7V313.1H368.9V326.0H373.1V337.4H377.4V346.2H381.6V352.2H385.8V356.0H390.1V358.1H394.3V359.2H395.7" fill="none" stroke="#ff5a3c" stroke-width="1.25" stroke-linejoin="miter"/>
<path d="M309.2 357.7H311.0V355.6H315.0V351.9H319.0V346.2H323.0V338.1H327.0V327.6H331.0V315.4H335.0V302.8H339.0V291.7H343.0V284.1H347.0V281.4H351.0V284.2H355.0V291.9H359.0V303.0H363.0V315.6H367.0V327.8H371.0V338.2H375.0V346.3H379.0V352.0H383.0V355.6H387.0V357.8H391.0V358.9H395.0V359.5H395.7" fill="none" stroke="#4f4fb3" stroke-width="1.25" stroke-linejoin="miter"/>
<path d="M400.1 445.7H404.4V445.0H408.8V443.7H413.1V440.8H417.4V435.1H421.7V427.1H426.1V417.1H430.4V406.5H434.7V397.2H439.0V391.9H443.4V390.2H447.7V393.2H452.0V400.5H456.3V411.2H460.7V421.1H465.0V430.0H469.3V437.1H473.6V441.7H478.0V444.4H482.3V445.7H486.6" fill="none" stroke="#ff5a3c" stroke-width="1.25" stroke-linejoin="miter"/>
<path d="M400.1 448.3H404.4V447.7H408.8V445.7H413.1V442.0H417.4V435.7H421.7V425.8H426.1V412.5H430.4V396.8H434.7V382.6H439.0V373.6H443.4V372.4H447.7V379.3H452.0V392.3H456.3V407.2H460.7V421.1H465.0V432.4H469.3V440.0H473.6V444.6H478.0V447.7H482.3V448.7H486.6" fill="none" stroke="#4f4fb3" stroke-width="1.25" stroke-linejoin="miter"/>
<path d="M491.0 534.3H495.3V533.0H499.6V531.1H504.0V527.8H508.3V524.1H512.6V519.4H517.0V513.9H521.3V508.5H525.6V501.9H529.9V494.9H534.2V488.9H538.6V483.3H542.9V479.3H547.2V477.3H551.5V478.7H555.9V482.7H560.2V489.3H564.5V497.3H568.9V504.8H573.2V509.7H577.5" fill="none" stroke="#ff5a3c" stroke-width="1.25" stroke-linejoin="miter"/>
<path d="M491.0 537.4H495.3V535.8H499.6V534.0H504.0V531.8H508.3V528.1H512.6V523.4H517.0V516.8H521.3V509.5H525.6V501.5H529.9V491.5H534.2V482.5H538.6V474.0H542.9V467.4H547.2V463.4H551.5V463.4H555.9V467.4H560.2V475.3H564.5V484.9H568.9V494.6H573.2V501.2H577.5" fill="none" stroke="#4f4fb3" stroke-width="1.25" stroke-linejoin="miter"/>
<path d="M581.9 631.9H584.7V630.5H588.1V627.7H591.4V622.7H594.8V614.8H598.2V603.8H601.6V590.2H605.0V576.1H608.3V564.1H611.7V557.0H615.1V556.8H618.5V563.5H621.9V575.3H625.2V589.4H628.6V603.0H632.0V614.3H635.4V622.3H638.8V627.5H642.1V630.4H645.5V631.9H648.9" fill="none" stroke="#ff5a3c" stroke-width="1.25" stroke-linejoin="miter"/>
<path d="M627.1 632.0H629.0V630.9H631.0V628.7H633.0V624.9H634.9V618.9H636.9V610.3H638.9V599.1H640.9V586.3H642.8V573.3H644.8V562.3H646.8V555.5H648.7V554.4H650.7V559.2H652.7V568.8H654.6V581.3H656.6V594.4H658.6V606.4H660.6V616.0H662.5V622.9H664.5V627.5H666.5V630.2H668.4" fill="none" stroke="#4f4fb3" stroke-width="1.25" stroke-linejoin="miter"/>
<path d="M672.8 722.4H673.6V720.3H676.4V716.4H679.2V710.0H682.0V700.7H684.8V688.9H687.6V676.2H690.4V665.2H693.2V658.6H696.0V658.3H698.8V664.3H701.6V675.1H704.4V687.7H707.2V699.7H710.0V709.3H712.8V715.9H715.6V720.0H718.4V722.2H721.2V723.3H724.0V723.7H726.8" fill="none" stroke="#ff5a3c" stroke-width="1.25" stroke-linejoin="miter"/>
<path d="M747.8 723.4H748.4V722.4H749.0V720.5H749.6V717.0H750.2V711.0H750.8V702.0H751.4V690.1H752.0V676.1H752.6V662.2H753.2V651.1H753.8V645.4H754.4V646.6H755.0V654.3H755.6V666.6H756.2V680.9H756.8V694.4H757.4V705.4H758.0V713.3H758.6V718.4H759.2" fill="none" stroke="#4f4fb3" stroke-width="1.25" stroke-linejoin="miter"/>
<path d="M46.4 0.5v3.0M46.4 87.0v-3.0M68.8 0.5v3.0M68.8 87.0v-3.0M91.2 0.5v3.0M91.2 87.0v-3.0M113.6 0.5v3.0M113.6 87.0v-3.0M46.4 91.5v3.0M46.4 178.0v-3.0M68.8 91.5v3.0M68.8 178.0v-3.0M91.2 91.5v3.0M91.2 178.0v-3.0M113.6 91.5v3.0M113.6 178.0v-3.0M36.5 172.2h3.0M123.0 172.2h-3.0M36.5 153.4h3.0M123.0 153.4h-3.0M36.5 134.3h3.0M123.0 134.3h-3.0M36.5 115.4h3.0M123.0 115.4h-3.0M36.5 96.2h3.0M123.0 96.2h-3.0M133.1 91.5v3.0M133.1 178.0v-3.0M152.3 91.5v3.0M152.3 178.0v-3.0M171.6 91.5v3.0M171.6 178.0v-3.0M190.9 91.5v3.0M190.9 178.0v-3.0M210.1 91.5v3.0M210.1 178.0v-3.0M46.4 182.5v3.0M46.4 269.0v-3.0M68.8 182.5v3.0M68.8 269.0v-3.0M91.2 182.5v3.0M91.2 269.0v-3.0M113.6 182.5v3.0M113.6 269.0v-3.0M36.5 267.7h3.0M123.0 267.7h-3.0M36.5 249.5h3.0M123.0 249.5h-3.0M36.5 231.3h3.0M123.0 231.3h-3.0M36.5 213.1h3.0M123.0 213.1h-3.0M36.5 194.9h3.0M123.0 194.9h-3.0M133.1 182.5v3.0M133.1 269.0v-3.0M152.3 182.5v3.0M152.3 269.0v-3.0M171.6 182.5v3.0M171.6 269.0v-3.0M190.9 182.5v3.0M190.9 269.0v-3.0M210.1 182.5v3.0M210.1 269.0v-3.0M127.4 267.7h3.0M213.9 267.7h-3.0M127.4 249.5h3.0M213.9 249.5h-3.0M127.4 231.3h3.0M213.9 231.3h-3.0M127.4 213.1h3.0M213.9 213.1h-3.0M127.4 194.9h3.0M213.9 194.9h-3.0M219.6 182.5v3.0M219.6 269.0v-3.0M237.8 182.5v3.0M237.8 269.0v-3.0M256.0 182.5v3.0M256.0 269.0v-3.0M274.2 182.5v3.0M274.2 269.0v-3.0M292.4 182.5v3.0M292.4 269.0v-3.0M46.4 273.5v3.0M46.4 360.0v-3.0M68.8 273.5v3.0M68.8 360.0v-3.0M91.2 273.5v3.0M91.2 360.0v-3.0M113.6 273.5v3.0M113.6 360.0v-3.0M36.5 352.0h3.0M123.0 352.0h-3.0M36.5 334.4h3.0M123.0 334.4h-3.0M36.5 316.8h3.0M123.0 316.8h-3.0M36.5 299.2h3.0M123.0 299.2h-3.0M36.5 281.6h3.0M123.0 281.6h-3.0M133.1 273.5v3.0M133.1 360.0v-3.0M152.3 273.5v3.0M152.3 360.0v-3.0M171.6 273.5v3.0M171.6 360.0v-3.0M190.9 273.5v3.0M190.9 360.0v-3.0M210.1 273.5v3.0M210.1 360.0v-3.0M127.4 352.0h3.0M213.9 352.0h-3.0M127.4 334.4h3.0M213.9 334.4h-3.0M127.4 316.8h3.0M213.9 316.8h-3.0M127.4 299.2h3.0M213.9 299.2h-3.0M127.4 281.6h3.0M213.9 281.6h-3.0M219.6 273.5v3.0M219.6 360.0v-3.0M237.8 273.5v3.0M237.8 360.0v-3.0M256.0 273.5v3.0M256.0 360.0v-3.0M274.2 273.5v3.0M274.2 360.0v-3.0M292.4 273.5v3.0M292.4 360.0v-3.0M218.3 352.0h3.0M304.8 352.0h-3.0M218.3 334.4h3.0M304.8 334.4h-3.0M218.3 316.8h3.0M304.8 316.8h-3.0M218.3 299.2h3.0M304.8 299.2h-3.0M218.3 281.6h3.0M304.8 281.6h-3.0M317.2 273.5v3.0M317.2 360.0v-3.0M334.8 273.5v3.0M334.8 360.0v-3.0M352.4 273.5v3.0M352.4 360.0v-3.0M370.0 273.5v3.0M370.0 360.0v-3.0M387.6 273.5v3.0M387.6 360.0v-3.0M46.4 364.5v3.0M46.4 451.0v-3.0M68.8 364.5v3.0M68.8 451.0v-3.0M91.2 364.5v3.0M91.2 451.0v-3.0M113.6 364.5v3.0M113.6 451.0v-3.0M36.5 434.2h3.0M123.0 434.2h-3.0M36.5 416.7h3.0M123.0 416.7h-3.0M36.5 399.2h3.0M123.0 399.2h-3.0M36.5 381.7h3.0M123.0 381.7h-3.0M133.1 364.5v3.0M133.1 451.0v-3.0M152.3 364.5v3.0M152.3 451.0v-3.0M171.6 364.5v3.0M171.6 451.0v-3.0M190.9 364.5v3.0M190.9 451.0v-3.0M210.1 364.5v3.0M210.1 451.0v-3.0M127.4 434.2h3.0M213.9 434.2h-3.0M127.4 416.7h3.0M213.9 416.7h-3.0M127.4 399.2h3.0M213.9 399.2h-3.0M127.4 381.7h3.0M213.9 381.7h-3.0M219.6 364.5v3.0M219.6 451.0v-3.0M237.8 364.5v3.0M237.8 451.0v-3.0M256.0 364.5v3.0M256.0 451.0v-3.0M274.2 364.5v3.0M274.2 451.0v-3.0M292.4 364.5v3.0M292.4 451.0v-3.0M218.3 434.2h3.0M304.8 434.2h-3.0M218.3 416.7h3.0M304.8 416.7h-3.0M218.3 399.2h3.0M304.8 399.2h-3.0M218.3 381.7h3.0M304.8 381.7h-3.0M317.2 364.5v3.0M317.2 451.0v-3.0M334.8 364.5v3.0M334.8 451.0v-3.0M352.4 364.5v3.0M352.4 451.0v-3.0M370.0 364.5v3.0M370.0 451.0v-3.0M387.6 364.5v3.0M387.6 451.0v-3.0M309.2 434.2h3.0M395.7 434.2h-3.0M309.2 416.7h3.0M395.7 416.7h-3.0M309.2 399.2h3.0M395.7 399.2h-3.0M309.2 381.7h3.0M395.7 381.7h-3.0M416.9 364.5v3.0M416.9 451.0v-3.0M434.4 364.5v3.0M434.4 451.0v-3.0M451.9 364.5v3.0M451.9 451.0v-3.0M469.4 364.5v3.0M469.4 451.0v-3.0M46.4 455.5v3.0M46.4 542.0v-3.0M68.8 455.5v3.0M68.8 542.0v-3.0M91.2 455.5v3.0M91.2 542.0v-3.0M113.6 455.5v3.0M113.6 542.0v-3.0M36.5 525.2h3.0M123.0 525.2h-3.0M36.5 507.8h3.0M123.0 507.8h-3.0M36.5 490.4h3.0M123.0 490.4h-3.0M36.5 473.0h3.0M123.0 473.0h-3.0M133.1 455.5v3.0M133.1 542.0v-3.0M152.3 455.5v3.0M152.3 542.0v-3.0M171.6 455.5v3.0M171.6 542.0v-3.0M190.9 455.5v3.0M190.9 542.0v-3.0M210.1 455.5v3.0M210.1 542.0v-3.0M127.4 525.2h3.0M213.9 525.2h-3.0M127.4 507.8h3.0M213.9 507.8h-3.0M127.4 490.4h3.0M213.9 490.4h-3.0M127.4 473.0h3.0M213.9 473.0h-3.0M219.6 455.5v3.0M219.6 542.0v-3.0M237.8 455.5v3.0M237.8 542.0v-3.0M256.0 455.5v3.0M256.0 542.0v-3.0M274.2 455.5v3.0M274.2 542.0v-3.0M292.4 455.5v3.0M292.4 542.0v-3.0M218.3 525.2h3.0M304.8 525.2h-3.0M218.3 507.8h3.0M304.8 507.8h-3.0M218.3 490.4h3.0M304.8 490.4h-3.0M218.3 473.0h3.0M304.8 473.0h-3.0M317.2 455.5v3.0M317.2 542.0v-3.0M334.8 455.5v3.0M334.8 542.0v-3.0M352.4 455.5v3.0M352.4 542.0v-3.0M370.0 455.5v3.0M370.0 542.0v-3.0M387.6 455.5v3.0M387.6 542.0v-3.0M309.2 525.2h3.0M395.7 525.2h-3.0M309.2 507.8h3.0M395.7 507.8h-3.0M309.2 490.4h3.0M395.7 490.4h-3.0M309.2 473.0h3.0M395.7 473.0h-3.0M416.9 455.5v3.0M416.9 542.0v-3.0M434.4 455.5v3.0M434.4 542.0v-3.0M451.9 455.5v3.0M451.9 542.0v-3.0M469.4 455.5v3.0M469.4 542.0v-3.0M400.1 525.2h3.0M486.6 525.2h-3.0M400.1 507.8h3.0M486.6 507.8h-3.0M400.1 490.4h3.0M486.6 490.4h-3.0M400.1 473.0h3.0M486.6 473.0h-3.0M507.8 455.5v3.0M507.8 542.0v-3.0M525.2 455.5v3.0M525.2 542.0v-3.0M542.6 455.5v3.0M542.6 542.0v-3.0M560.0 455.5v3.0M560.0 542.0v-3.0M46.4 546.5v3.0M46.4 633.0v-3.0M68.8 546.5v3.0M68.8 633.0v-3.0M91.2 546.5v3.0M91.2 633.0v-3.0M113.6 546.5v3.0M113.6 633.0v-3.0M36.5 628.3h3.0M123.0 628.3h-3.0M36.5 609.9h3.0M123.0 609.9h-3.0M36.5 591.5h3.0M123.0 591.5h-3.0M36.5 573.0h3.0M123.0 573.0h-3.0M36.5 554.6h3.0M123.0 554.6h-3.0M133.1 546.5v3.0M133.1 633.0v-3.0M152.3 546.5v3.0M152.3 633.0v-3.0M171.6 546.5v3.0M171.6 633.0v-3.0M190.9 546.5v3.0M190.9 633.0v-3.0M210.1 546.5v3.0M210.1 633.0v-3.0M127.4 628.3h3.0M213.9 628.3h-3.0M127.4 609.9h3.0M213.9 609.9h-3.0M127.4 591.5h3.0M213.9 591.5h-3.0M127.4 573.0h3.0M213.9 573.0h-3.0M127.4 554.6h3.0M213.9 554.6h-3.0M219.6 546.5v3.0M219.6 633.0v-3.0M237.8 546.5v3.0M237.8 633.0v-3.0M256.0 546.5v3.0M256.0 633.0v-3.0M274.2 546.5v3.0M274.2 633.0v-3.0M292.4 546.5v3.0M292.4 633.0v-3.0M218.3 628.3h3.0M304.8 628.3h-3.0M218.3 609.9h3.0M304.8 609.9h-3.0M218.3 591.5h3.0M304.8 591.5h-3.0M218.3 573.0h3.0M304.8 573.0h-3.0M218.3 554.6h3.0M304.8 554.6h-3.0M317.2 546.5v3.0M317.2 633.0v-3.0M334.8 546.5v3.0M334.8 633.0v-3.0M352.4 546.5v3.0M352.4 633.0v-3.0M370.0 546.5v3.0M370.0 633.0v-3.0M387.6 546.5v3.0M387.6 633.0v-3.0M309.2 628.3h3.0M395.7 628.3h-3.0M309.2 609.9h3.0M395.7 609.9h-3.0M309.2 591.5h3.0M395.7 591.5h-3.0M309.2 573.0h3.0M395.7 573.0h-3.0M309.2 554.6h3.0M395.7 554.6h-3.0M416.9 546.5v3.0M416.9 633.0v-3.0M434.4 546.5v3.0M434.4 633.0v-3.0M451.9 546.5v3.0M451.9 633.0v-3.0M469.4 546.5v3.0M469.4 633.0v-3.0M400.1 628.3h3.0M486.6 628.3h-3.0M400.1 609.9h3.0M486.6 609.9h-3.0M400.1 591.5h3.0M486.6 591.5h-3.0M400.1 573.0h3.0M486.6 573.0h-3.0M400.1 554.6h3.0M486.6 554.6h-3.0M507.8 546.5v3.0M507.8 633.0v-3.0M525.2 546.5v3.0M525.2 633.0v-3.0M542.6 546.5v3.0M542.6 633.0v-3.0M560.0 546.5v3.0M560.0 633.0v-3.0M491.0 628.3h3.0M577.5 628.3h-3.0M491.0 609.9h3.0M577.5 609.9h-3.0M491.0 591.5h3.0M577.5 591.5h-3.0M491.0 573.0h3.0M577.5 573.0h-3.0M491.0 554.6h3.0M577.5 554.6h-3.0M586.6 546.5v3.0M586.6 633.0v-3.0M605.0 546.5v3.0M605.0 633.0v-3.0M623.4 546.5v3.0M623.4 633.0v-3.0M641.9 546.5v3.0M641.9 633.0v-3.0M660.3 546.5v3.0M660.3 633.0v-3.0M46.4 637.5v3.0M46.4 724.0v-3.0M68.8 637.5v3.0M68.8 724.0v-3.0M91.2 637.5v3.0M91.2 724.0v-3.0M113.6 637.5v3.0M113.6 724.0v-3.0M36.5 708.5h3.0M123.0 708.5h-3.0M36.5 690.3h3.0M123.0 690.3h-3.0M36.5 672.1h3.0M123.0 672.1h-3.0M36.5 653.9h3.0M123.0 653.9h-3.0M133.1 637.5v3.0M133.1 724.0v-3.0M152.3 637.5v3.0M152.3 724.0v-3.0M171.6 637.5v3.0M171.6 724.0v-3.0M190.9 637.5v3.0M190.9 724.0v-3.0M210.1 637.5v3.0M210.1 724.0v-3.0M127.4 708.5h3.0M213.9 708.5h-3.0M127.4 690.3h3.0M213.9 690.3h-3.0M127.4 672.1h3.0M213.9 672.1h-3.0M127.4 653.9h3.0M213.9 653.9h-3.0M219.6 637.5v3.0M219.6 724.0v-3.0M237.8 637.5v3.0M237.8 724.0v-3.0M256.0 637.5v3.0M256.0 724.0v-3.0M274.2 637.5v3.0M274.2 724.0v-3.0M292.4 637.5v3.0M292.4 724.0v-3.0M218.3 708.5h3.0M304.8 708.5h-3.0M218.3 690.3h3.0M304.8 690.3h-3.0M218.3 672.1h3.0M304.8 672.1h-3.0M218.3 653.9h3.0M304.8 653.9h-3.0M317.2 637.5v3.0M317.2 724.0v-3.0M334.8 637.5v3.0M334.8 724.0v-3.0M352.4 637.5v3.0M352.4 724.0v-3.0M370.0 637.5v3.0M370.0 724.0v-3.0M387.6 637.5v3.0M387.6 724.0v-3.0M309.2 708.5h3.0M395.7 708.5h-3.0M309.2 690.3h3.0M395.7 690.3h-3.0M309.2 672.1h3.0M395.7 672.1h-3.0M309.2 653.9h3.0M395.7 653.9h-3.0M416.9 637.5v3.0M416.9 724.0v-3.0M434.4 637.5v3.0M434.4 724.0v-3.0M451.9 637.5v3.0M451.9 724.0v-3.0M469.4 637.5v3.0M469.4 724.0v-3.0M400.1 708.5h3.0M486.6 708.5h-3.0M400.1 690.3h3.0M486.6 690.3h-3.0M400.1 672.1h3.0M486.6 672.1h-3.0M400.1 653.9h3.0M486.6 653.9h-3.0M507.8 637.5v3.0M507.8 724.0v-3.0M525.2 637.5v3.0M525.2 724.0v-3.0M542.6 637.5v3.0M542.6 724.0v-3.0M560.0 637.5v3.0M560.0 724.0v-3.0M491.0 708.5h3.0M577.5 708.5h-3.0M491.0 690.3h3.0M577.5 690.3h-3.0M491.0 672.1h3.0M577.5 672.1h-3.0M491.0 653.9h3.0M577.5 653.9h-3.0M586.6 637.5v3.0M586.6 724.0v-3.0M605.0 637.5v3.0M605.0 724.0v-3.0M623.4 637.5v3.0M623.4 724.0v-3.0M641.9 637.5v3.0M641.9 724.0v-3.0M660.3 637.5v3.0M660.3 724.0v-3.0M581.9 708.5h3.0M668.4 708.5h-3.0M581.9 690.3h3.0M668.4 690.3h-3.0M581.9 672.1h3.0M668.4 672.1h-3.0M581.9 653.9h3.0M668.4 653.9h-3.0M688.3 637.5v3.0M688.3 724.0v-3.0M706.5 637.5v3.0M706.5 724.0v-3.0M724.7 637.5v3.0M724.7 724.0v-3.0M742.9 637.5v3.0M742.9 724.0v-3.0" stroke="#000" stroke-width="0.8" fill="none"/><g fill="none" stroke="#111" stroke-width="1.25"><rect x="36.5" y="0.5" width="86.5" height="86.5"/><rect x="36.5" y="91.5" width="86.5" height="86.5"/><rect x="127.4" y="91.5" width="86.5" height="86.5"/><rect x="36.5" y="182.5" width="86.5" height="86.5"/><rect x="127.4" y="182.5" width="86.5" height="86.5"/><rect x="218.3" y="182.5" width="86.5" height="86.5"/><rect x="36.5" y="273.5" width="86.5" height="86.5"/><rect x="127.4" y="273.5" width="86.5" height="86.5"/><rect x="218.3" y="273.5" width="86.5" height="86.5"/><rect x="309.2" y="273.5" width="86.5" height="86.5"/><rect x="36.5" y="364.5" width="86.5" height="86.5"/><rect x="127.4" y="364.5" width="86.5" height="86.5"/><rect x="218.3" y="364.5" width="86.5" height="86.5"/><rect x="309.2" y="364.5" width="86.5" height="86.5"/><rect x="400.1" y="364.5" width="86.5" height="86.5"/><rect x="36.5" y="455.5" width="86.5" height="86.5"/><rect x="127.4" y="455.5" width="86.5" height="86.5"/><rect x="218.3" y="455.5" width="86.5" height="86.5"/><rect x="309.2" y="455.5" width="86.5" height="86.5"/><rect x="400.1" y="455.5" width="86.5" height="86.5"/><rect x="491.0" y="455.5" width="86.5" height="86.5"/><rect x="36.5" y="546.5" width="86.5" height="86.5"/><rect x="127.4" y="546.5" width="86.5" height="86.5"/><rect x="218.3" y="546.5" width="86.5" height="86.5"/><rect x="309.2" y="546.5" width="86.5" height="86.5"/><rect x="400.1" y="546.5" width="86.5" height="86.5"/><rect x="491.0" y="546.5" width="86.5" height="86.5"/><rect x="581.9" y="546.5" width="86.5" height="86.5"/><rect x="36.5" y="637.5" width="86.5" height="86.5"/><rect x="127.4" y="637.5" width="86.5" height="86.5"/><rect x="218.3" y="637.5" width="86.5" height="86.5"/><rect x="309.2" y="637.5" width="86.5" height="86.5"/><rect x="400.1" y="637.5" width="86.5" height="86.5"/><rect x="491.0" y="637.5" width="86.5" height="86.5"/><rect x="581.9" y="637.5" width="86.5" height="86.5"/><rect x="672.8" y="637.5" width="86.5" height="86.5"/></g>
<g font-family="'Liberation Mono','DejaVu Sans Mono',monospace" font-size="7.4" text-anchor="middle" fill="#000" stroke="#000" stroke-width="0.28"><text transform="translate(45.8 734.2) rotate(-45)" y="2.7">1755</text><text transform="translate(68.2 734.2) rotate(-45)" y="2.7">1770</text><text transform="translate(90.6 734.2) rotate(-45)" y="2.7">1785</text><text transform="translate(113.0 734.2) rotate(-45)" y="2.7">1800</text><text transform="translate(132.5 734.2) rotate(-45)" y="2.7">5.10</text><text transform="translate(151.8 734.2) rotate(-45)" y="2.7">5.16</text><text transform="translate(171.0 734.2) rotate(-45)" y="2.7">5.22</text><text transform="translate(190.3 734.2) rotate(-45)" y="2.7">5.28</text><text transform="translate(209.5 734.2) rotate(-45)" y="2.7">5.34</text><text transform="translate(219.0 735.7) rotate(-45)" y="2.7">0.825</text><text transform="translate(237.2 735.7) rotate(-45)" y="2.7">0.840</text><text transform="translate(255.4 735.7) rotate(-45)" y="2.7">0.855</text><text transform="translate(273.6 735.7) rotate(-45)" y="2.7">0.870</text><text transform="translate(291.8 735.7) rotate(-45)" y="2.7">0.885</text><text transform="translate(316.6 735.7) rotate(-45)" y="2.7">38.86</text><text transform="translate(334.2 735.7) rotate(-45)" y="2.7">38.92</text><text transform="translate(351.8 735.7) rotate(-45)" y="2.7">38.98</text><text transform="translate(369.4 735.7) rotate(-45)" y="2.7">39.04</text><text transform="translate(387.0 735.7) rotate(-45)" y="2.7">39.10</text><text transform="translate(416.3 734.2) rotate(-45)" y="2.7">−2.4</text><text transform="translate(433.8 734.2) rotate(-45)" y="2.7">−1.8</text><text transform="translate(451.3 734.2) rotate(-45)" y="2.7">−1.2</text><text transform="translate(468.8 734.2) rotate(-45)" y="2.7">−0.6</text><text transform="translate(507.2 732.6) rotate(-45)" y="2.7">0.2</text><text transform="translate(524.6 732.6) rotate(-45)" y="2.7">0.4</text><text transform="translate(542.0 732.6) rotate(-45)" y="2.7">0.6</text><text transform="translate(559.4 732.6) rotate(-45)" y="2.7">0.8</text><text transform="translate(586.0 737.3) rotate(-45)" y="2.7">−4.168</text><text transform="translate(604.4 737.3) rotate(-45)" y="2.7">−4.160</text><text transform="translate(622.8 737.3) rotate(-45)" y="2.7">−4.152</text><text transform="translate(641.3 737.3) rotate(-45)" y="2.7">−4.144</text><text transform="translate(659.7 737.3) rotate(-45)" y="2.7">−4.136</text><text transform="translate(687.7 731.0) rotate(-45)" y="2.7">40</text><text transform="translate(705.9 731.0) rotate(-45)" y="2.7">48</text><text transform="translate(724.1 731.0) rotate(-45)" y="2.7">56</text><text transform="translate(742.3 731.0) rotate(-45)" y="2.7">64</text><text transform="translate(25.0 178.1) rotate(-45)" y="2.7">5.10</text><text transform="translate(25.0 159.3) rotate(-45)" y="2.7">5.16</text><text transform="translate(25.0 140.2) rotate(-45)" y="2.7">5.22</text><text transform="translate(25.0 121.3) rotate(-45)" y="2.7">5.28</text><text transform="translate(25.0 102.1) rotate(-45)" y="2.7">5.34</text><text transform="translate(23.5 275.2) rotate(-45)" y="2.7">0.825</text><text transform="translate(23.5 257.1) rotate(-45)" y="2.7">0.840</text><text transform="translate(23.5 238.9) rotate(-45)" y="2.7">0.855</text><text transform="translate(23.5 220.7) rotate(-45)" y="2.7">0.870</text><text transform="translate(23.5 202.5) rotate(-45)" y="2.7">0.885</text><text transform="translate(23.5 359.6) rotate(-45)" y="2.7">38.86</text><text transform="translate(23.5 341.9) rotate(-45)" y="2.7">38.92</text><text transform="translate(23.5 324.4) rotate(-45)" y="2.7">38.98</text><text transform="translate(23.5 306.8) rotate(-45)" y="2.7">39.04</text><text transform="translate(23.5 289.2) rotate(-45)" y="2.7">39.10</text><text transform="translate(25.0 440.1) rotate(-45)" y="2.7">−2.4</text><text transform="translate(25.0 422.6) rotate(-45)" y="2.7">−1.8</text><text transform="translate(25.0 405.1) rotate(-45)" y="2.7">−1.2</text><text transform="translate(25.0 387.6) rotate(-45)" y="2.7">−0.6</text><text transform="translate(26.6 529.5) rotate(-45)" y="2.7">0.2</text><text transform="translate(26.6 512.1) rotate(-45)" y="2.7">0.4</text><text transform="translate(26.6 494.7) rotate(-45)" y="2.7">0.6</text><text transform="translate(26.6 477.3) rotate(-45)" y="2.7">0.8</text><text transform="translate(21.9 637.5) rotate(-45)" y="2.7">−4.168</text><text transform="translate(21.9 619.1) rotate(-45)" y="2.7">−4.160</text><text transform="translate(21.9 600.7) rotate(-45)" y="2.7">−4.152</text><text transform="translate(21.9 582.2) rotate(-45)" y="2.7">−4.144</text><text transform="translate(21.9 563.8) rotate(-45)" y="2.7">−4.136</text><text transform="translate(28.2 711.2) rotate(-45)" y="2.7">40</text><text transform="translate(28.2 693.0) rotate(-45)" y="2.7">48</text><text transform="translate(28.2 674.8) rotate(-45)" y="2.7">56</text><text transform="translate(28.2 656.6) rotate(-45)" y="2.7">64</text></g>
<g font-family="'Liberation Sans','DejaVu Sans',sans-serif" font-size="8.7" text-anchor="middle" fill="#000" stroke="#000" stroke-width="0.12"><text x="79.8" y="756"><tspan font-style="italic">T</tspan><tspan dy="1.8" font-size="6.4">eff</tspan><tspan dy="-1.8" font-family="'Liberation Mono',monospace" font-size="7.8"> (K)</tspan></text><text x="170.7" y="756">log <tspan font-style="italic">g</tspan></text><text x="261.6" y="756"><tspan font-style="italic">R</tspan><tspan font-family="'Liberation Mono',monospace" font-size="7.8"> (</tspan><tspan font-style="italic">R</tspan><tspan dy="1.8" font-size="6.4">J</tspan><tspan dy="-1.8" font-family="'Liberation Mono',monospace" font-size="7.8">)</tspan></text><text x="352.5" y="756"><tspan font-style="italic">ϖ</tspan><tspan font-family="'Liberation Mono',monospace" font-size="7.8"> (mas)</tspan></text><text x="443.4" y="756">log <tspan font-style="italic">ℓ</tspan><tspan dy="1.8" font-size="5.4">SPHERE</tspan></text><text x="534.2" y="756"><tspan font-style="italic">f</tspan><tspan dy="1.8" font-size="5.4">SPHERE</tspan></text><text x="625.2" y="756">log <tspan font-style="italic">L</tspan>/<tspan font-style="italic">L</tspan><tspan dy="1.8" font-size="6.4">⊙</tspan></text><text x="716.1" y="756"><tspan font-style="italic">M</tspan><tspan font-family="'Liberation Mono',monospace" font-size="7.8"> (</tspan><tspan font-style="italic">M</tspan><tspan dy="1.8" font-size="6.4">J</tspan><tspan dy="-1.8" font-family="'Liberation Mono',monospace" font-size="7.8">)</tspan></text><text transform="translate(8.2 134.8) rotate(-90)">log <tspan font-style="italic">g</tspan></text><text transform="translate(8.2 225.8) rotate(-90)"><tspan font-style="italic">R</tspan><tspan font-family="'Liberation Mono',monospace" font-size="7.8"> (</tspan><tspan font-style="italic">R</tspan><tspan dy="1.8" font-size="6.4">J</tspan><tspan dy="-1.8" font-family="'Liberation Mono',monospace" font-size="7.8">)</tspan></text><text transform="translate(8.2 316.8) rotate(-90)"><tspan font-style="italic">ϖ</tspan><tspan font-family="'Liberation Mono',monospace" font-size="7.8"> (mas)</tspan></text><text transform="translate(8.2 407.8) rotate(-90)">log <tspan font-style="italic">ℓ</tspan><tspan dy="1.8" font-size="5.4">SPHERE</tspan></text><text transform="translate(8.2 498.8) rotate(-90)"><tspan font-style="italic">f</tspan><tspan dy="1.8" font-size="5.4">SPHERE</tspan></text><text transform="translate(8.2 589.8) rotate(-90)">log <tspan font-style="italic">L</tspan>/<tspan font-style="italic">L</tspan><tspan dy="1.8" font-size="6.4">⊙</tspan></text><text transform="translate(8.2 680.8) rotate(-90)"><tspan font-style="italic">M</tspan><tspan font-family="'Liberation Mono',monospace" font-size="7.8"> (</tspan><tspan font-style="italic">M</tspan><tspan dy="1.8" font-size="6.4">J</tspan><tspan dy="-1.8" font-family="'Liberation Mono',monospace" font-size="7.8">)</tspan></text></g>
</svg>
</body></html>
